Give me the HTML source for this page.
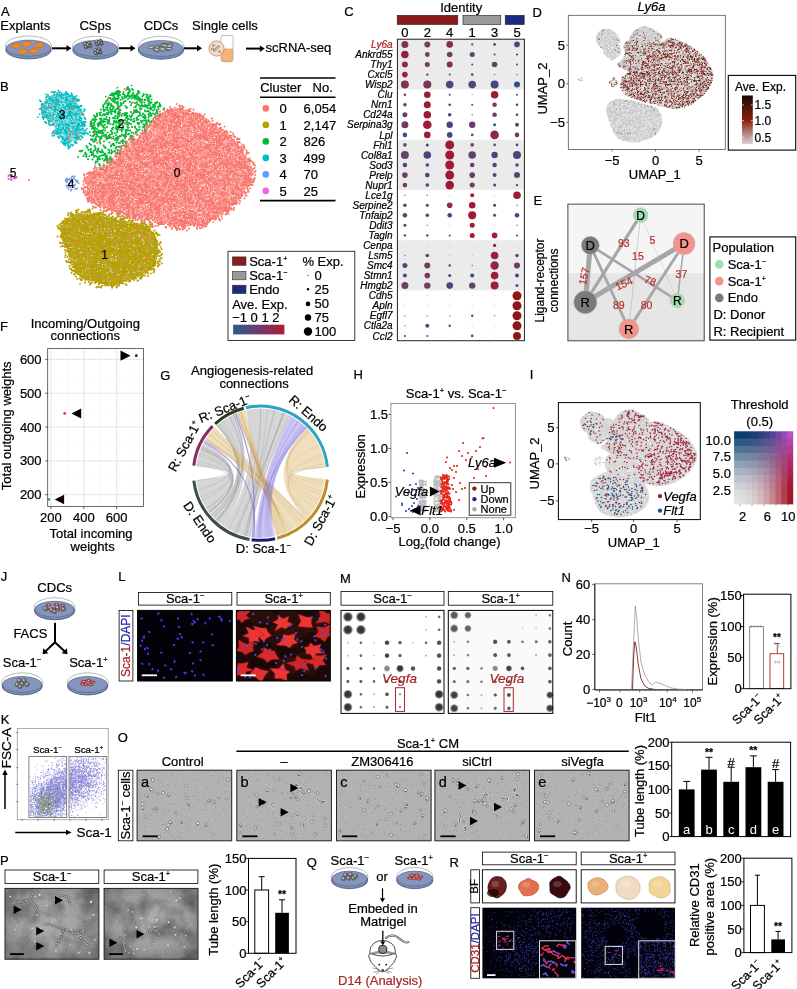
<!DOCTYPE html>
<html><head><meta charset="utf-8"><title>Figure</title>
<style>html,body{margin:0;padding:0;background:#fff;width:797px;height:989px;overflow:hidden}svg{display:block}text{font-family:"Liberation Sans", Arial, Helvetica, sans-serif}</style>
</head><body>
<svg width="797" height="989" viewBox="0 0 797 989" font-family='"Liberation Sans", Arial, Helvetica, sans-serif'>
<rect width="797" height="989" fill="#fff"/>
<text x="1" y="15.5" font-size="13" stroke="#000" stroke-width="0.22">A</text>
<text x="0.3" y="29.6" font-size="13" stroke="#000" stroke-width="0.22">Explants</text>
<text x="95.3" y="29.8" font-size="13" text-anchor="middle" stroke="#000" stroke-width="0.22">CSps</text>
<text x="161" y="29.8" font-size="13" text-anchor="middle" stroke="#000" stroke-width="0.22">CDCs</text>
<text x="225" y="29.8" font-size="13" text-anchor="middle" stroke="#000" stroke-width="0.22">Single cells</text>
<text x="265.6" y="51.8" font-size="13" stroke="#000" stroke-width="0.22">scRNA-seq</text>
<ellipse cx="28.5" cy="46" rx="23" ry="10" fill="#fff" stroke="#8a8a8a" stroke-width="0.6"/>
<ellipse cx="28.5" cy="49.9" rx="22.7" ry="9" fill="#7a8db5" stroke="#3a4866" stroke-width="0.7"/>
<ellipse cx="28.5" cy="48.1" rx="22.2" ry="8" fill="#8496bd" stroke="#4a5a7e" stroke-width="0.5"/>
<path d="M11.7 46.3C12.1 43.2 17.3 43 20.5 44.3C21.7 46.3 19.8 48.4 16.3 48.2C13.8 48.6 11.3 48 11.7 46.3Z" fill="#f28a2a" stroke="#c05a10" stroke-width="0.5"/>
<path d="M21.7 44.2C22.1 41.1 27.3 40.9 30.5 42.2C31.7 44.2 29.8 46.3 26.3 46.1C23.8 46.5 21.3 45.9 21.7 44.2Z" fill="#f28a2a" stroke="#c05a10" stroke-width="0.5"/>
<path d="M34.5 45.3C34.9 42.2 40.1 42 43.3 43.3C44.5 45.3 42.6 47.4 39.1 47.2C36.6 47.6 34.1 47 34.5 45.3Z" fill="#f28a2a" stroke="#c05a10" stroke-width="0.5"/>
<path d="M18.6 51.9C19 48.8 24.2 48.6 27.4 49.9C28.6 51.9 26.7 54 23.2 53.8C20.7 54.2 18.2 53.6 18.6 51.9Z" fill="#f28a2a" stroke="#c05a10" stroke-width="0.5"/>
<path d="M29.5 51.3C29.9 48.2 35.1 48 38.3 49.3C39.5 51.3 37.6 53.4 34.1 53.2C31.6 53.6 29.1 53 29.5 51.3Z" fill="#f28a2a" stroke="#c05a10" stroke-width="0.5"/>
<line x1="52" y1="48.3" x2="67.5" y2="48.3" stroke="#000" stroke-width="2"/>
<path d="M71.5 48.3L66.5 45L66.5 51.5Z" fill="#000"/>
<ellipse cx="95.5" cy="46.3" rx="23" ry="10" fill="#fff" stroke="#8a8a8a" stroke-width="0.6"/>
<ellipse cx="95.5" cy="50.2" rx="22.7" ry="9" fill="#7a8db5" stroke="#3a4866" stroke-width="0.7"/>
<ellipse cx="95.5" cy="48.4" rx="22.2" ry="8" fill="#8496bd" stroke="#4a5a7e" stroke-width="0.5"/>
<circle cx="85.4" cy="44.1" r="1.9" fill="#6a6a6a" stroke="#222" stroke-width="0.4"/>
<circle cx="84.9" cy="43.6" r="0.8" fill="#d0d0d0"/>
<circle cx="89.1" cy="43.3" r="1.9" fill="#6a6a6a" stroke="#222" stroke-width="0.4"/>
<circle cx="88.6" cy="42.8" r="0.8" fill="#d0d0d0"/>
<circle cx="90.2" cy="46.1" r="1.9" fill="#6a6a6a" stroke="#222" stroke-width="0.4"/>
<circle cx="89.7" cy="45.6" r="0.8" fill="#d0d0d0"/>
<circle cx="86.1" cy="46.8" r="1.9" fill="#6a6a6a" stroke="#222" stroke-width="0.4"/>
<circle cx="85.6" cy="46.3" r="0.8" fill="#d0d0d0"/>
<circle cx="87.9" cy="45.1" r="1.9" fill="#6a6a6a" stroke="#222" stroke-width="0.4"/>
<circle cx="87.4" cy="44.6" r="0.8" fill="#d0d0d0"/>
<circle cx="96.7" cy="41.6" r="1.9" fill="#6a6a6a" stroke="#222" stroke-width="0.4"/>
<circle cx="96.2" cy="41.1" r="0.8" fill="#d0d0d0"/>
<circle cx="100.4" cy="40.8" r="1.9" fill="#6a6a6a" stroke="#222" stroke-width="0.4"/>
<circle cx="99.9" cy="40.3" r="0.8" fill="#d0d0d0"/>
<circle cx="101.5" cy="43.6" r="1.9" fill="#6a6a6a" stroke="#222" stroke-width="0.4"/>
<circle cx="101" cy="43.1" r="0.8" fill="#d0d0d0"/>
<circle cx="97.4" cy="44.3" r="1.9" fill="#6a6a6a" stroke="#222" stroke-width="0.4"/>
<circle cx="96.9" cy="43.8" r="0.8" fill="#d0d0d0"/>
<circle cx="99.2" cy="42.6" r="1.9" fill="#6a6a6a" stroke="#222" stroke-width="0.4"/>
<circle cx="98.7" cy="42.1" r="0.8" fill="#d0d0d0"/>
<circle cx="95.4" cy="50.4" r="1.9" fill="#6a6a6a" stroke="#222" stroke-width="0.4"/>
<circle cx="94.9" cy="49.9" r="0.8" fill="#d0d0d0"/>
<circle cx="99.1" cy="49.6" r="1.9" fill="#6a6a6a" stroke="#222" stroke-width="0.4"/>
<circle cx="98.6" cy="49.1" r="0.8" fill="#d0d0d0"/>
<circle cx="100.2" cy="52.4" r="1.9" fill="#6a6a6a" stroke="#222" stroke-width="0.4"/>
<circle cx="99.7" cy="51.9" r="0.8" fill="#d0d0d0"/>
<circle cx="96.1" cy="53.1" r="1.9" fill="#6a6a6a" stroke="#222" stroke-width="0.4"/>
<circle cx="95.6" cy="52.6" r="0.8" fill="#d0d0d0"/>
<circle cx="97.9" cy="51.4" r="1.9" fill="#6a6a6a" stroke="#222" stroke-width="0.4"/>
<circle cx="97.4" cy="50.9" r="0.8" fill="#d0d0d0"/>
<line x1="119" y1="48.2" x2="131.5" y2="48.2" stroke="#000" stroke-width="2"/>
<path d="M135.5 48.2L130.5 45L130.5 51.5Z" fill="#000"/>
<ellipse cx="161" cy="46.3" rx="23" ry="10" fill="#fff" stroke="#8a8a8a" stroke-width="0.6"/>
<ellipse cx="161" cy="50.2" rx="22.7" ry="9" fill="#7a8db5" stroke="#3a4866" stroke-width="0.7"/>
<ellipse cx="161" cy="48.4" rx="22.2" ry="8" fill="#8496bd" stroke="#4a5a7e" stroke-width="0.5"/>
<ellipse cx="163" cy="49" rx="3" ry="1.3" fill="#c4c4c4" stroke="#2a2a2a" stroke-width="0.5" transform="rotate(13 163 49)"/>
<ellipse cx="151.1" cy="47.3" rx="3" ry="1.3" fill="#c4c4c4" stroke="#2a2a2a" stroke-width="0.5" transform="rotate(-5 151.1 47.3)"/>
<ellipse cx="163.5" cy="50.1" rx="3" ry="1.3" fill="#c4c4c4" stroke="#2a2a2a" stroke-width="0.5" transform="rotate(-13 163.5 50.1)"/>
<ellipse cx="157.9" cy="49.9" rx="3" ry="1.3" fill="#c4c4c4" stroke="#2a2a2a" stroke-width="0.5" transform="rotate(4 157.9 49.9)"/>
<ellipse cx="161.4" cy="48" rx="3" ry="1.3" fill="#c4c4c4" stroke="#2a2a2a" stroke-width="0.5" transform="rotate(-20 161.4 48)"/>
<ellipse cx="165.1" cy="46.9" rx="3" ry="1.3" fill="#c4c4c4" stroke="#2a2a2a" stroke-width="0.5" transform="rotate(-9 165.1 46.9)"/>
<ellipse cx="168.8" cy="49.2" rx="3" ry="1.3" fill="#c4c4c4" stroke="#2a2a2a" stroke-width="0.5" transform="rotate(-10 168.8 49.2)"/>
<ellipse cx="165.7" cy="44.8" rx="3" ry="1.3" fill="#c4c4c4" stroke="#2a2a2a" stroke-width="0.5" transform="rotate(19 165.7 44.8)"/>
<ellipse cx="162.8" cy="45.1" rx="3" ry="1.3" fill="#c4c4c4" stroke="#2a2a2a" stroke-width="0.5" transform="rotate(-20 162.8 45.1)"/>
<ellipse cx="169.9" cy="44.3" rx="3" ry="1.3" fill="#c4c4c4" stroke="#2a2a2a" stroke-width="0.5" transform="rotate(-7 169.9 44.3)"/>
<ellipse cx="169.7" cy="45.4" rx="3" ry="1.3" fill="#c4c4c4" stroke="#2a2a2a" stroke-width="0.5" transform="rotate(-10 169.7 45.4)"/>
<ellipse cx="156.3" cy="50.5" rx="3" ry="1.3" fill="#c4c4c4" stroke="#2a2a2a" stroke-width="0.5" transform="rotate(14 156.3 50.5)"/>
<ellipse cx="168" cy="48.3" rx="3" ry="1.3" fill="#c4c4c4" stroke="#2a2a2a" stroke-width="0.5" transform="rotate(-9 168 48.3)"/>
<ellipse cx="169.3" cy="48.7" rx="3" ry="1.3" fill="#c4c4c4" stroke="#2a2a2a" stroke-width="0.5" transform="rotate(4 169.3 48.7)"/>
<ellipse cx="156.5" cy="46.6" rx="3" ry="1.3" fill="#c4c4c4" stroke="#2a2a2a" stroke-width="0.5" transform="rotate(-10 156.5 46.6)"/>
<ellipse cx="169.2" cy="46" rx="3" ry="1.3" fill="#c4c4c4" stroke="#2a2a2a" stroke-width="0.5" transform="rotate(1 169.2 46)"/>
<ellipse cx="156.5" cy="48.2" rx="3" ry="1.3" fill="#c4c4c4" stroke="#2a2a2a" stroke-width="0.5" transform="rotate(-20 156.5 48.2)"/>
<ellipse cx="162.4" cy="48.8" rx="3" ry="1.3" fill="#c4c4c4" stroke="#2a2a2a" stroke-width="0.5" transform="rotate(-16 162.4 48.8)"/>
<ellipse cx="156.7" cy="49.5" rx="3" ry="1.3" fill="#c4c4c4" stroke="#2a2a2a" stroke-width="0.5" transform="rotate(10 156.7 49.5)"/>
<ellipse cx="164.4" cy="45.5" rx="3" ry="1.3" fill="#c4c4c4" stroke="#2a2a2a" stroke-width="0.5" transform="rotate(10 164.4 45.5)"/>
<line x1="184" y1="48.3" x2="198" y2="48.3" stroke="#000" stroke-width="2"/>
<path d="M202 48.3L197 45L197 51.5Z" fill="#000"/>
<rect x="221" y="35.5" width="12" height="26" fill="#fff" stroke="#999" stroke-width="0.6" rx="1"/>
<path d="M221.3 49 L232.7 49 L232.7 58 Q232.7 62 227 62 Q221.3 62 221.3 58 Z" fill="#f6b47a" stroke="#c88a50" stroke-width="0.5"/>
<circle cx="216.5" cy="48.5" r="7.6" fill="#f7dcc3" stroke="#8a7060" stroke-width="0.6"/>
<ellipse cx="213.5" cy="45.5" rx="1.3" ry="0.8" fill="none" stroke="#444" stroke-width="0.5"/>
<ellipse cx="218.5" cy="46.5" rx="1.3" ry="0.8" fill="none" stroke="#444" stroke-width="0.5"/>
<ellipse cx="214.5" cy="50.5" rx="1.3" ry="0.8" fill="none" stroke="#444" stroke-width="0.5"/>
<ellipse cx="219.5" cy="51.5" rx="1.3" ry="0.8" fill="none" stroke="#444" stroke-width="0.5"/>
<ellipse cx="216.5" cy="48.5" rx="1.3" ry="0.8" fill="none" stroke="#444" stroke-width="0.5"/>
<ellipse cx="212.5" cy="49" rx="1.3" ry="0.8" fill="none" stroke="#444" stroke-width="0.5"/>
<line x1="246" y1="48.6" x2="260.8" y2="48.6" stroke="#000" stroke-width="2"/>
<path d="M264.8 48.6L259.8 45.4L259.8 51.9Z" fill="#000"/>
<text x="0" y="91" font-size="13" stroke="#000" stroke-width="0.22">B</text>
<path d="M43.2 104C44.3 102 46.6 98.4 48.9 96.7C51.2 94.9 53.9 93.7 56.9 93.5C59.9 93.3 63.7 94.4 66.6 95.4C69.6 96.4 72.5 97.7 74.6 99.5C76.7 101.2 77.8 104.1 79.1 105.9C80.5 107.8 82.2 108.3 82.4 110.7C82.7 113 80.2 116.9 80.5 120.1C80.8 123.3 84.2 127.1 84.3 129.8C84.4 132.5 82.8 134.8 81.2 136.4C79.6 138 76.9 138.3 74.7 139.5C72.6 140.8 70.2 143.9 68.2 143.7C66.2 143.5 64.7 140.3 62.6 138.4C60.5 136.5 57 134.9 55.6 132.6C54.3 130.2 55.8 126.5 54.6 124.4C53.3 122.3 49.8 121.6 48 120.1C46.1 118.5 44.5 117.2 43.6 115.3C42.7 113.5 42.6 110.8 42.5 108.9C42.5 107 42.2 106.1 43.2 104Z" fill="#6fd2d5"/>
<path d="M163.8 113.8C166.5 112.3 171 109.7 174.6 109.3C178.2 108.9 181.8 110.4 185.4 111.5C189 112.6 192.3 114 196.3 115.8C200.3 117.6 205.1 119.7 209.5 122.2C213.9 124.7 218.2 127.6 222.7 130.9C227.1 134.2 232.3 137.8 236 141.8C239.7 145.7 242.3 150.1 244.9 154.8C247.5 159.6 251.3 165.1 251.7 170.2C252.1 175.3 249.5 180.8 247.3 185.6C245 190.4 241.6 194.8 238.3 198.8C235 202.8 231.3 206.5 227.2 209.7C223.2 213 218.7 216 214 218.4C209.3 220.8 204.6 222.8 198.9 224.1C193.3 225.3 186.5 226.4 180.1 226C173.8 225.7 166.6 223.2 160.8 221.9C155 220.6 151.1 219.3 145.3 218.1C139.4 216.8 133 216.3 125.8 214.4C118.6 212.6 108 209.5 102.1 207C96.2 204.4 92.8 202.3 90.2 199.2C87.7 196 86.8 191.9 86.6 187.8C86.4 183.8 86.9 178 89 174.7C91.1 171.4 95.8 169.7 99.2 168C102.6 166.2 106 166 109.2 164.1C112.4 162.2 115.4 159.2 118.2 156.5C121 153.8 123.1 150.7 126 147.9C128.9 145.2 132.5 142.4 135.7 139.9C138.9 137.4 142.4 135.1 145.2 132.8C148.1 130.5 150.6 128.5 152.8 126.1C154.9 123.6 156.1 120.2 157.9 118.2C159.8 116.1 161 115.3 163.8 113.8Z" fill="#f9958e"/>
<path d="M61.1 229C61.8 225.8 63.2 221.9 65.9 219.3C68.7 216.8 73.3 214.6 77.5 213.8C81.8 212.9 86.7 213.7 91.1 214.1C95.6 214.5 99.8 215.3 104.5 216.3C109.2 217.3 114.7 218.9 119.4 220.1C124.1 221.3 128.3 222.4 132.8 223.6C137.3 224.8 142.8 225.2 146.4 227.1C150 229 152.4 231.3 154.4 234.8C156.4 238.3 158 244 158.3 248.2C158.6 252.3 157.7 256.2 156.4 259.8C155.1 263.3 153.4 266.5 150.4 269.3C147.5 272.2 143 274.9 138.8 276.9C134.6 278.9 130 280.2 125.3 281.5C120.5 282.7 114.9 284.1 110.1 284.2C105.4 284.3 101.2 283.2 96.8 282.3C92.4 281.4 87 280.5 83.5 278.6C80 276.8 78.1 274.1 75.9 271C73.6 267.8 71.8 263.4 70.2 259.6C68.6 255.8 67.6 251.7 66.3 248.2C65 244.7 63.1 241.8 62.3 238.6C61.4 235.4 60.5 232.2 61.1 229Z" fill="#bba52a"/>
<path transform="scale(.5)" d="M145 191h0m-2 0h0m0-4h0m-4 4h0m-3-3h0m-2 0h0m-1-4h0m-1 5h0m-1-3h0m-3 3h0m-1 0h0m-2 1h0m-2-3h0m0 0h0m-1-1h0m-2 2h0m-1 3h0m0-7h0m-4 2h0m-1 3h0m0-3h0m-4-2h0m-1 5h0m-2-5h0m-4 0h0m-7 6h0m-4 5h0m0 0h0m3-2h0m4 4h0m1 1h0m2-2h0m1-1h0m3 4h0m5 0h0m1-3h0m2-4h0m2 6h0m4-6h0m2 1h0m1 3h0m3 1h0m6-5h0m0 5h0m1-5h0m0 5h0m0-3h0m0-1h0m5-1h0m4 2h0m0 0h0m3 3h0m1 1h0m0-4h0m2 1h0m1 3h0m0-4h0m1 2h0m1 2h0m0 1h0m0-2h0m2-5h0m1 7h0m3 0h0m1 2h0m-3 1h0m-2-2h0m-4 7h0m-4-4h0m-3 4h0m-2-4h0m-1 0h0m-1 3h0m-3-6h0m-3 5h0m0-4h0m-3 6h0m-6-3h0m-5-3h0m-1 4h0m-3-1h0m-1-4h0m-2 6h0m-2-5h0m0-1h0m-1 3h0m-3 2h0m-1-5h0m-2 1h0m-3 6h0m-1 0h0m-3-4h0m-3-3h0m0 6h0m-10-3h0m-2-2h0m3 14h0m1-7h0m1 2h0m1-2h0m3 7h0m0-2h0m7-3h0m1 5h0m2-4h0m1-2h0m1 6h0m1-6h0m2 5h0m4 0h0m3-1h0m3-4h0m4 4h0m0-3h0m8-1h0m1 6h0m3-1h0m3-3h0m0 2h0m2-2h0m2-3h0m0 5h0m1 2h0m1-4h0m3-2h0m1 4h0m3-1h0m2 3h0m1-2h0m2 2h0m1-2h0m2 0h0m0-1h0m1 3h0m1-3h0m2 3h0m2-1h0m1-2h0m1 0h0m0 0h0m1 0h0m5 11h0m-7-2h0m-2-3h0m0 0h0m-2-2h0m0 5h0m-11-3h0m-4-1h0m-1 6h0m-3-5h0m-4 2h0m0-1h0m-3-2h0m-6 6h0m-1-4h0m-1 4h0m-2-5h0m-6 2h0m-4 3h0m0-5h0m0 4h0m-1-6h0m-1 3h0m-3-2h0m-3-1h0m-1 0h0m-8 1h0m-2 6h0m-1-6h0m-1 6h0m-4 0h0m0-1h0m-2-3h0m0 3h0m-2-5h0m-2 1h0m4 8h0m1 1h0m1 3h0m0-6h0m5 5h0m0 0h0m1-5h0m1 0h0m0 0h0m1 6h0m2-6h0m3 3h0m1 4h0m2-3h0m0 2h0m4 0h0m1-5h0m1 3h0m6-3h0m1 1h0m1 5h0m2-3h0m1-3h0m3 4h0m1-2h0m2 2h0m0-2h0m2 1h0m1 3h0m1-5h0m7 4h0m2-6h0m0 2h0m1 4h0m1-4h0m0 2h0m1 3h0m2 0h0m0-5h0m2 1h0m3 2h0m3 1h0m0-3h0m1 2h0m2-2h0m2 0h0m2 0h0m6 0h0m1 3h0m2-1h0m4 9h0m-2-3h0m-6 2h0m-2-1h0m-3-2h0m0 1h0m-5 4h0m-1-7h0m-8 6h0m-1-1h0m0-3h0m-2 1h0m-7-2h0m-1 4h0m-1-4h0m-4 3h0m-1 0h0m-1-4h0m0 1h0m-2 0h0m-1-1h0m0 6h0m-2-6h0m-2 0h0m0 0h0m-1 5h0m-3-5h0m-3 2h0m-5 4h0m-3-3h0m-3 3h0m0 1h0m-3-5h0m-1-1h0m0 3h0m-1 1h0m-3-3h0m-4 0h0m-1 1h0m0 0h0m0-1h0m-3 0h0m5 10h0m3 2h0m4-5h0m0 0h0m1 3h0m0-1h0m2-3h0m1 3h0m0 0h0m5-3h0m1 0h0m0 6h0m5-4h0m1 3h0m1-4h0m4 4h0m1 1h0m1-3h0m0 2h0m1-5h0m2 4h0m3-3h0m1-1h0m8 7h0m2-3h0m5 2h0m0-6h0m3 6h0m4 0h0m9-6h0m2 7h0m2-1h0m0-5h0m2 6h0m1 0h0m0-3h0m1 2h0m1-2h0m1 2h0m3-2h0m-1 6h0m-1 2h0m-2-4h0m0 1h0m-1-1h0m-1 4h0m-2-2h0m0-2h0m-3 2h0m-2-2h0m-1 3h0m-2-2h0m0-1h0m-1 0h0m0 5h0m-7 1h0m-1-6h0m-8 4h0m-1-3h0m-1-1h0m-2 1h0m0 6h0m-1-5h0m-1-2h0m-1 0h0m-4 5h0m-2-4h0m-4-1h0m-2 7h0m-1-6h0m-1 3h0m-1 0h0m-2 0h0m-4 0h0m-2-4h0m-3 2h0m-1-1h0m-5 0h0m-1-1h0m11 13h0m5 2h0m1-5h0m2 0h0m0 5h0m4-3h0m1 1h0m0 0h0m3-1h0m0 2h0m0-4h0m1-2h0m2 3h0m2 2h0m1-1h0m0-1h0m1-3h0m1 0h0m0 6h0m3-5h0m2 2h0m1 2h0m6-4h0m5 6h0m1-4h0m0 4h0m2 0h0m0-3h0m0-2h0m1-2h0m3 3h0m1 4h0m1-7h0m2 4h0m1 0h0m4-2h0m5 3h0m5 7h0m-3-2h0m-4 2h0m0-4h0m-1 3h0m0 2h0m-2-2h0m-2-2h0m-2 1h0m-4 0h0m-4 5h0m-1 0h0m0-3h0m-1 1h0m-3 0h0m-3-3h0m0 2h0m-3-4h0m-3 4h0m-6-3h0m-1 5h0m0-2h0m0-4h0m-1 5h0m-1-4h0m-9 1h0m-4 1h0m-4-2h0m-1 3h0m-2-3h0m-2 2h0m-1 4h0m-2-7h0m10 9h0m0 0h0m2 3h0m3-3h0m3 0h0m1 2h0m0 4h0m1-2h0m6 2h0m2-3h0m1-1h0m1 4h0m2 0h0m9-2h0m2-1h0m2-1h0m2 2h0m1-2h0m0 3h0m2 1h0m1-5h0m4 5h0m2-6h0m2 2h0m-13 11h0m-1-5h0m0 1h0m-1 0h0m-1 3h0m-9-1h0m-2 1h0m-2 0h0m-2-1h0m-1 1h0m-1 2h0m-1 0h0m0 0h0m-1-6h0m-1 5h0m-1-3h0m-2 3h0m-3-3h0m5 6h0m1 0h0m1-1h0m1 2h0m5 2h0m1-3h0m2 6h0m1-2h0m6-3h0m-9 7h0" stroke="#00bfc4" stroke-width="4.2" stroke-linecap="round"/>
<path transform="scale(.5)" d="M256 174h0m-21 8h0m0 0h0m0 1h0m0 0h0m3-1h0m16-6h0m2 3h0m1 0h0m1-1h0m1 2h0m1 2h0m4-4h0m2 2h0m10 3h0m1-1h0m18 8h0m-3-1h0m-5 1h0m0-2h0m-8-3h0m-3 2h0m-1 2h0m-1 2h0m-1 0h0m-2 0h0m0 0h0m-3-1h0m-2-4h0m-2 4h0m-5-6h0m-1 3h0m-1-2h0m-1 2h0m0 2h0m-7 2h0m0-2h0m-2-5h0m0 0h0m-1 4h0m-6-4h0m0 6h0m-2 1h0m-1-6h0m-1 4h0m-1-3h0m-3-2h0m0 4h0m-1 0h0m0-3h0m-3 2h0m0 0h0m-1 3h0m-2-3h0m0 4h0m-1-4h0m0 1h0m-1 2h0m-3 0h0m-3 6h0m4 0h0m1 3h0m4 0h0m0-2h0m0 0h0m2-5h0m0 4h0m3 2h0m0-2h0m3 2h0m1-6h0m1 5h0m1-2h0m0 2h0m7-3h0m1 4h0m3-2h0m2-2h0m2 1h0m0-2h0m1-1h0m3 0h0m0 6h0m3-3h0m1-3h0m2 0h0m1 5h0m2-2h0m2-2h0m2 4h0m0-3h0m2 3h0m1-3h0m0 0h0m1 4h0m3 1h0m0-4h0m1-1h0m1 5h0m1-1h0m0-1h0m2 1h0m3 1h0m1-6h0m4 6h0m4-5h0m2 1h0m0 2h0m1 2h0m0-3h0m2-1h0m1-2h0m2 0h0m2 6h0m16 7h0m-5-1h0m0-1h0m-2 3h0m-1 0h0m0-1h0m-1 0h0m-7-1h0m-2 1h0m-1-2h0m-2 3h0m0-7h0m-2 3h0m-5-3h0m-1 0h0m-1 5h0m0-5h0m-5 5h0m-1 1h0m0-1h0m-1-5h0m0 0h0m-1 3h0m-1 0h0m-1-3h0m-1 0h0m-4 4h0m-4 2h0m-6 0h0m-4-2h0m-9-2h0m-3 1h0m-1 3h0m-4 1h0m-1-1h0m-1-6h0m-5 4h0m-1-1h0m-2 3h0m-3-2h0m-1 1h0m0-4h0m-2 2h0m0-2h0m-1 1h0m0 0h0m-1-1h0m-1 0h0m-6 4h0m-1 2h0m-2-7h0m-2 3h0m-1 0h0m-1 3h0m-5 7h0m1 2h0m0-5h0m2-2h0m3 7h0m3 0h0m0-4h0m0-3h0m1 3h0m2-2h0m4 3h0m0-4h0m0 4h0m1-3h0m0 3h0m3 1h0m1 0h0m8-3h0m1 3h0m0-5h0m0 7h0m1 0h0m3-3h0m2-4h0m1 2h0m0-2h0m8 4h0m3 3h0m8-5h0m9 4h0m1-2h0m2-4h0m3 1h0m1 2h0m3 2h0m1 0h0m2-3h0m2 3h0m2-1h0m1-1h0m2 2h0m0-3h0m0 1h0m1 1h0m2 1h0m1-2h0m1 0h0m3-1h0m2 4h0m5-4h0m0 4h0m3-3h0m0-1h0m1 2h0m0 3h0m6-1h0m3-3h0m0-1h0m1 0h0m0 3h0m-3 5h0m-3 4h0m-1-2h0m-5-1h0m-2 2h0m-3-5h0m-1 3h0m-3-2h0m-2 5h0m-1 0h0m0 0h0m-1-6h0m-1 7h0m-4-2h0m0 1h0m-7-4h0m-3-1h0m0 0h0m-6 5h0m-1-3h0m-2 3h0m-1-1h0m-2 0h0m-15-5h0m-12 4h0m-2 1h0m-2-3h0m-3-1h0m-3 2h0m0 4h0m-2-1h0m-1 1h0m-1-7h0m-1 1h0m-2 2h0m0 2h0m0 2h0m-1-1h0m0 0h0m-2-3h0m-1-3h0m-3 6h0m-2-3h0m0 0h0m-4 1h0m-3 2h0m-1-3h0m-5 0h0m-14 12h0m6-4h0m0 3h0m5-4h0m1 4h0m1 0h0m1-5h0m3 6h0m2-2h0m1-1h0m2 2h0m3-2h0m1-2h0m2 3h0m1-3h0m4-2h0m0 1h0m0-1h0m2 4h0m7-3h0m5 2h0m1 1h0m1-4h0m1 4h0m1 1h0m1-4h0m5 3h0m4-1h0m0 4h0m1-5h0m0 1h0m1 1h0m1 2h0m2-4h0m0 5h0m8-7h0m2 7h0m1-3h0m2-2h0m1-2h0m4 1h0m4-1h0m1 0h0m3 2h0m0 4h0m2 1h0m4-4h0m0 2h0m4 1h0m7-1h0m1-2h0m0 4h0m2-6h0m2 3h0m1 3h0m3-4h0m4 2h0m3-5h0m1 1h0m1 2h0m-6 8h0m-8-3h0m-4 3h0m-6-1h0m0 3h0m-2-4h0m0 3h0m-3-2h0m-9 5h0m0-7h0m-3 3h0m-1 2h0m-5 1h0m-5 1h0m-1-5h0m-1 5h0m-2-7h0m-2 6h0m0-1h0m-1 1h0m-2-2h0m0-3h0m-2 2h0m-9-3h0m0 0h0m-5 0h0m-2 3h0m-1-2h0m0 4h0m-4-5h0m0 5h0m-3-2h0m-2 1h0m-7 0h0m-6-2h0m-1 4h0m-2 0h0m-2 0h0m-5 0h0m-1-1h0m-1 2h0m-1-2h0m-6-5h0m-1 7h0m-2-5h0m-1-1h0m0 3h0m0 3h0m-4-1h0m-5 9h0m0-1h0m1-3h0m3-3h0m3 6h0m1-5h0m1 2h0m7 3h0m2 1h0m1-3h0m0 3h0m2-1h0m1-5h0m1 2h0m3 2h0m0-3h0m3 1h0m5-3h0m0 7h0m0-4h0m1 4h0m2-4h0m0 2h0m1-5h0m9 1h0m0 4h0m1 0h0m0-2h0m3 0h0m0 2h0m1-3h0m0 3h0m0-3h0m3 3h0m2-4h0m1 4h0m1 0h0m0-2h0m2-3h0m0 3h0m0-2h0m3 0h0m4 0h0m0 6h0m1 0h0m0-7h0m4 2h0m0 3h0m4 1h0m0 1h0m4-7h0m4 3h0m3-1h0m0 1h0m0 0h0m5-3h0m1 6h0m3 0h0m4-4h0m1 3h0m1-2h0m3-2h0m2 0h0m0 0h0m3 5h0m0-5h0m1 1h0m1 4h0m3-6h0m0 2h0m2 0h0m1 2h0m3 1h0m1-3h0m-4 7h0m-5 3h0m-2-2h0m-3 0h0m-1 1h0m0 4h0m0-1h0m-1-5h0m-1-1h0m-1 6h0m-7 0h0m-1-6h0m-1 1h0m-7 6h0m0-2h0m-6 1h0m-2-6h0m-5 0h0m0 7h0m-2-1h0m-1-5h0m-7 3h0m-2 0h0m-1-4h0m-4 3h0m-1-3h0m-1 6h0m0-1h0m0-4h0m-2 5h0m-3-3h0m0 1h0m0 2h0m-6-5h0m-1 6h0m0-6h0m-5-1h0m-7 6h0m0 0h0m-4-4h0m-3 2h0m0 3h0m-1-4h0m-3 0h0m-1-2h0m-4 1h0m-2 3h0m0-3h0m-1-2h0m-5 7h0m-1-5h0m-2 4h0m-1-3h0m0 3h0m0-1h0m-1 1h0m0 1h0m-1-2h0m-1-3h0m0 2h0m-1-4h0m0 0h0m-1 4h0m3 5h0m3 6h0m1-5h0m1 3h0m1-3h0m3 5h0m1-5h0m3 4h0m1-1h0m4 1h0m1 0h0m1 1h0m2-3h0m4 1h0m0-5h0m12 6h0m2-5h0m1 2h0m6-3h0m2 2h0m0-1h0m0 2h0m2 3h0m0-3h0m0 0h0m2-1h0m5 2h0m1 0h0m0-4h0m1 7h0m2-5h0m5 2h0m1 2h0m3-3h0m1 2h0m4 0h0m13-2h0m0-1h0m3 3h0m3-2h0m6 2h0m-10 8h0m-2-5h0m-1 1h0m0-1h0m-5 2h0m-4-1h0m-1 6h0m-4-3h0m-2 1h0m-4-5h0m0 2h0m0 1h0m-1 3h0m-1-1h0m-3 2h0m-3-2h0m-10-4h0m-2 5h0m-3-4h0m-5 2h0m0-3h0m-4 4h0m-2 2h0m-3-6h0m-3 5h0m-1 1h0m-1 0h0m-2-1h0m-1-4h0m-2-2h0m-1 3h0m-3-1h0m-2-2h0m0 1h0m-2 0h0m-3-1h0m0 4h0m-4 1h0m0-5h0m-2 6h0m-1-5h0m-5 14h0m3-1h0m0-6h0m2 0h0m3 6h0m2 1h0m0-5h0m2-2h0m0 0h0m2 1h0m4 1h0m0 3h0m0-2h0m2 2h0m0-3h0m1 3h0m1-5h0m4 0h0m3 2h0m2 5h0m0-6h0m1 4h0m2-1h0m0-1h0m2-2h0m1 3h0m0-3h0m3 2h0m4 2h0m1-4h0m4 4h0m2-1h0m1-1h0m0 2h0m1-3h0m1 0h0m1 3h0m2-5h0m1 1h0m2-1h0m7 1h0m1 4h0m1-3h0m1-1h0m7 6h0m2-3h0m0-2h0m1-1h0m1-1h0m2 3h0m-13 12h0m-1-3h0m-1-1h0m-4-2h0m0 5h0m0-6h0m-1 4h0m-2-2h0m-3 4h0m-2 0h0m-3-5h0m-1 0h0m-1 4h0m-3-5h0m-3 7h0m-8-2h0m-11-2h0m-7 4h0m-2-6h0m0 0h0m0 3h0m-7-3h0m-3 1h0m-1 2h0m-3-4h0m-6 7h0m-6 5h0m0 0h0m2 3h0m7-5h0m7 2h0m2 3h0m16-4h0m2 3h0m2 1h0m11-2h0m0-2h0m3-3h0m2 2h0m2 1h0m4 3h0m4 0h0m3-1h0m8-2h0m-5 6h0m-3 4h0m-4 0h0m-1-1h0m-4-3h0m-1 5h0m-2 1h0m-5-3h0m-5 0h0m-1-1h0m-6-3h0m-7 4h0m-1 3h0m-4 0h0m-2-6h0m0 4h0m-2-2h0m-1 4h0m-3-6h0m-1 3h0m-3 2h0m-5-4h0m0 5h0m-1-4h0m-4 1h0m-2-4h0m-10 5h0m-2 1h0m-1 1h0m8 5h0m1-3h0m2 4h0m8-5h0m2 6h0m1-4h0m2 0h0m0 4h0m2 1h0m7-5h0m7-1h0m1-1h0m1 0h0m0 7h0m2-7h0m0 6h0m1 0h0m2-3h0m0 2h0m2-1h0m0 2h0m6-4h0m1 0h0m1-2h0m4 3h0m0-1h0m1-2h0m10 4h0m-10 10h0m-1 1h0m-2-5h0m-1 1h0m0 3h0m-4 0h0m-1 1h0m-1-3h0m0-4h0m-2 4h0m-1-2h0m0 4h0m-1 1h0m-5-1h0m-5-6h0m0 6h0m-1-5h0m-2 2h0m0 4h0m-1-5h0m-1 1h0m0 4h0m-3-7h0m-4 2h0m-3 5h0m-9-1h0m-3-5h0m-1 0h0m-5-1h0m24 14h0m1-3h0m3 0h0m13-1h0m5-1h0m1 4h0m3-5h0m1 5h0m1 0h0m3 0h0m0 1h0m2-4h0m-16 8h0m-8 1h0m-2-3h0" stroke="#00ba38" stroke-width="4.2" stroke-linecap="round"/>
<path transform="scale(.5)" d="M340 214h0m19-3h0m1 3h0m0 1h0m4-3h0m1 1h0m22 6h0m-6 4h0m0-5h0m-3 1h0m0 1h0m-1 3h0m-3-2h0m-2 0h0m0 0h0m-1 1h0m-4-2h0m-2-3h0m-1 3h0m-1 0h0m-1-2h0m-3 0h0m-4 0h0m-4 2h0m0-1h0m-3-1h0m-3 4h0m-1 0h0m0-2h0m0 0h0m-1-2h0m-1 0h0m-2 2h0m-1 2h0m-1 1h0m0-2h0m-3-1h0m0-1h0m0 3h0m0 1h0m0-2h0m-1 0h0m0 2h0m-6-3h0m-1-1h0m-7 4h0m-1 0h0m-5 8h0m6-2h0m0 0h0m1 1h0m1-1h0m2 0h0m2-3h0m1 5h0m3-7h0m1 5h0m5-5h0m2 2h0m1 5h0m1-2h0m3 2h0m2-4h0m3 2h0m1-4h0m0 0h0m0 4h0m0-2h0m1 3h0m0-2h0m2-1h0m4 4h0m4 0h0m1-7h0m5 5h0m1-4h0m2 4h0m1 2h0m0 0h0m3-3h0m0-2h0m1 1h0m1 0h0m1 1h0m0 1h0m2-1h0m6-1h0m1 3h0m1 1h0m0 0h0m0-6h0m2 3h0m1 0h0m1-1h0m0 3h0m2-3h0m3 4h0m0-3h0m2 3h0m3-2h0m3 2h0m6-2h0m15 8h0m-11 2h0m0 0h0m-1-1h0m-4-3h0m-1 1h0m0 2h0m-1-5h0m-1 1h0m-2 4h0m0-5h0m-3 0h0m-1 0h0m-1 4h0m-3 0h0m0-4h0m-3-1h0m0 6h0m-3-5h0m-6 3h0m-1 1h0m0-1h0m0-3h0m-1-1h0m-1 7h0m0 0h0m-9-5h0m-2 1h0m-1 1h0m-2-2h0m-4 0h0m-1-2h0m0 3h0m-3 4h0m0-6h0m-1-1h0m-1 4h0m-1-3h0m-2-1h0m0 3h0m-2-3h0m-2 7h0m0-3h0m0 1h0m-1-1h0m-2-3h0m-5 0h0m-4 3h0m-3-3h0m-2 2h0m-2-3h0m-10 1h0m-1 2h0m0 1h0m-2-3h0m-1 5h0m-1-4h0m0-1h0m-3 6h0m0-1h0m-1-3h0m0-3h0m-5 6h0m-6 7h0m6-2h0m0-2h0m1 1h0m1 4h0m0-1h0m0-3h0m2 4h0m1-3h0m2 4h0m2-1h0m1-6h0m4 4h0m0-2h0m6 1h0m2-3h0m0 1h0m0 6h0m0-7h0m4 1h0m2 2h0m0 1h0m5 1h0m2-4h0m1 3h0m1 1h0m0-4h0m1 0h0m0 0h0m4 3h0m1 1h0m2 1h0m0-1h0m2 2h0m3-3h0m4 2h0m1-3h0m1 3h0m1 0h0m1-3h0m1 1h0m0-4h0m9 2h0m1 4h0m0-3h0m1 0h0m3 2h0m1 0h0m1 0h0m1-2h0m1 4h0m3-6h0m0 1h0m3 5h0m9-7h0m0 5h0m1-3h0m0 1h0m1-3h0m1 6h0m0-6h0m5 6h0m2-4h0m2 0h0m1 5h0m1-4h0m2 1h0m3-3h0m0 3h0m0-1h0m2 1h0m6-2h0m8 5h0m2 0h0m0-1h0m14 7h0m-9-4h0m0-1h0m-2 2h0m-5 4h0m-1-4h0m-3-1h0m-3 4h0m0 2h0m0-6h0m0-1h0m-2 6h0m-5-2h0m-2 0h0m-6 2h0m-1 1h0m0 0h0m-5-1h0m0-4h0m-4 1h0m-2 0h0m-3-2h0m0 3h0m0 2h0m-7 1h0m-1-2h0m-3-3h0m-4-1h0m-2 3h0m0 2h0m-6-3h0m-3 1h0m-3 0h0m-5-2h0m0-2h0m-1 1h0m0 0h0m-4 5h0m-2-2h0m-2-2h0m-1 2h0m-3 2h0m-1-1h0m-6-3h0m-3 2h0m-2 0h0m-6 3h0m-3-1h0m-1-3h0m-2 3h0m-8-5h0m-3 2h0m-3-1h0m0-1h0m0 5h0m-1-5h0m-2 3h0m0-1h0m-1-2h0m-4 2h0m-2-2h0m-1 5h0m-2-1h0m-2 2h0m0-1h0m-2-1h0m-1-2h0m0 2h0m-4 4h0m1 5h0m0-1h0m1 1h0m1 0h0m1-2h0m1-3h0m15 2h0m13-3h0m1 2h0m2 2h0m1-1h0m1-1h0m2-2h0m1 1h0m8 1h0m0 4h0m1-6h0m3 1h0m1 3h0m2 3h0m1-7h0m0 1h0m2 2h0m0 1h0m0 0h0m2 0h0m4-4h0m7 0h0m1 0h0m1 7h0m1-3h0m6 2h0m7-1h0m0-3h0m2 4h0m2 0h0m0 0h0m10-3h0m8-2h0m1 0h0m1 5h0m3-2h0m4-3h0m2 5h0m1-4h0m0 1h0m4-2h0m4 6h0m3-6h0m2 3h0m1-1h0m0 2h0m5-4h0m0 4h0m2-3h0m7-1h0m1-1h0m0 1h0m2-1h0m2 4h0m1 0h0m2 1h0m1 2h0m4 0h0m1-1h0m14 9h0m-1-4h0m-4 4h0m-1-7h0m-2 7h0m-4-4h0m-1-3h0m-4 2h0m-1-1h0m-2 5h0m-2-1h0m-3-2h0m-2-3h0m0 7h0m0-4h0m-1 3h0m-3-5h0m-1 2h0m-1-1h0m-3-2h0m-2 2h0m0 5h0m0-6h0m-3 1h0m-3 0h0m-3-1h0m0-1h0m0 4h0m-2 2h0m-4 1h0m-1-2h0m0-1h0m-1 3h0m0-7h0m0 0h0m-4 3h0m0 0h0m-1 4h0m0-7h0m-2 7h0m-1-3h0m-3 2h0m-1 1h0m-1 0h0m-3-1h0m-5-4h0m0-2h0m-1 0h0m0 0h0m-1 6h0m-2-4h0m-3 3h0m-3 0h0m-4-1h0m-2 3h0m-1-2h0m-2-5h0m-1 4h0m-7 1h0m-8 2h0m0 0h0m0-5h0m-4 1h0m-1-1h0m-3 3h0m-3-5h0m0 2h0m-10 5h0m0-6h0m-1 5h0m-1-2h0m0 2h0m-1 0h0m0 0h0m-1 1h0m-2-7h0m0 3h0m0-2h0m-20 6h0m-6-6h0m-1 3h0m0 0h0m-1-3h0m-2 5h0m0-4h0m-1 3h0m-6-2h0m0 2h0m-2-5h0m0 3h0m0-2h0m-2 0h0m0 5h0m0-3h0m-3-2h0m0 1h0m-1 3h0m0 0h0m-3-2h0m-7 3h0m-3-2h0m-13 11h0m2-1h0m3-3h0m3-3h0m1 1h0m2 5h0m9-1h0m0 0h0m1-1h0m0-4h0m1 0h0m7 1h0m0 6h0m0-7h0m0 5h0m3-3h0m1 5h0m1 0h0m0-1h0m1-1h0m1-1h0m1-3h0m2 4h0m0 1h0m3-2h0m0 1h0m2-5h0m0 0h0m2 2h0m2 0h0m7 3h0m1 1h0m0-3h0m4-2h0m2 5h0m3 0h0m0-3h0m0-1h0m3 3h0m13-5h0m2 7h0m1 0h0m3-1h0m2-6h0m0 7h0m1-4h0m3 1h0m2 1h0m0-1h0m1-1h0m1-3h0m1 1h0m0 3h0m0-2h0m3 4h0m1-6h0m1 3h0m1-1h0m2 2h0m2 1h0m1 1h0m7-6h0m1 4h0m0 2h0m1-5h0m7 4h0m2 1h0m4-4h0m3-2h0m0 6h0m0-4h0m1 0h0m2 3h0m2-4h0m1 3h0m2-3h0m2 5h0m3-4h0m3 3h0m0-2h0m2-3h0m1 7h0m1-4h0m0 0h0m3 3h0m0-5h0m2 3h0m1-4h0m1 5h0m0 2h0m2-4h0m3-1h0m0-1h0m1 1h0m1-1h0m0 3h0m1 3h0m2-2h0m3-3h0m0 3h0m1-2h0m2-1h0m2-2h0m1 6h0m0-6h0m1 2h0m2 1h0m3 3h0m3-4h0m1 1h0m1 4h0m1-7h0m0 5h0m3-3h0m0-2h0m3 7h0m0-3h0m4-4h0m0 0h0m1 2h0m2 2h0m4 3h0m0-7h0m3 2h0m4 3h0m0 1h0m1-1h0m2 1h0m2 0h0m1 7h0m-1-1h0m-1 1h0m-1-1h0m-2 2h0m-2-1h0m0-2h0m-5-3h0m-1 2h0m-3 5h0m-2-7h0m-6 6h0m-10-5h0m-4-1h0m-2 5h0m-2-2h0m-1-1h0m-2 3h0m-1 1h0m-1-6h0m0 7h0m-1-6h0m-3 3h0m0-2h0m0 1h0m-9 3h0m-1 1h0m-5-7h0m-1 5h0m-12 2h0m-11-5h0m-8 0h0m0 0h0m-1-1h0m0 1h0m-3 3h0m0-5h0m0 1h0m-1 1h0m-1 4h0m0-3h0m-3-3h0m-1 3h0m0-3h0m0 3h0m-1 2h0m-9 1h0m-1 0h0m0 0h0m0-4h0m-1 0h0m-1 5h0m-4-2h0m-2-3h0m-3-1h0m-3 0h0m-1-1h0m-1 4h0m-1-2h0m-1 3h0m-1-5h0m0 2h0m-1 5h0m0-6h0m-3 6h0m-3-1h0m-1-2h0m-1 0h0m-2 0h0m0-4h0m-1 7h0m-2-7h0m-4 2h0m0-2h0m-2 1h0m-1-1h0m-1 6h0m-5-2h0m-2-2h0m-2 0h0m-5 1h0m-3 4h0m0-6h0m-1 5h0m-4-2h0m-2-2h0m-2 1h0m0 4h0m-1-4h0m0-1h0m-2-2h0m-2 2h0m-2 1h0m0 3h0m-1-3h0m-1 1h0m-3-2h0m-6-2h0m0 0h0m-1 5h0m-5-5h0m-1 6h0m-1-5h0m-3 4h0m0-4h0m-1 5h0m-2-1h0m-1-2h0m-7 4h0m0-4h0m-10 9h0m6 1h0m1 1h0m0-4h0m1 2h0m2-1h0m0 0h0m3 1h0m1-4h0m6 1h0m3 6h0m1-5h0m1-2h0m0 1h0m1 5h0m1 0h0m3-3h0m1-2h0m2 1h0m0-2h0m0 4h0m1 2h0m0-6h0m3 1h0m2 0h0m1 2h0m0-2h0m7 0h0m1 5h0m2-4h0m1 0h0m1-1h0m2-1h0m2 6h0m4-4h0m2 2h0m0-1h0m0-1h0m3 5h0m3-4h0m9 4h0m1-4h0m0 4h0m0-6h0m3 6h0m1-4h0m0 1h0m4-1h0m0-1h0m1 4h0m6 1h0m4-6h0m1 1h0m1-1h0m3-1h0m0 3h0m1 4h0m4-2h0m1-1h0m2 3h0m1-7h0m0 6h0m1-2h0m0 0h0m5 3h0m1-3h0m5-1h0m0-1h0m5 2h0m3-2h0m7-2h0m6 1h0m2 1h0m1 1h0m1-2h0m0-1h0m10 4h0m0-1h0m1 2h0m7 0h0m1 0h0m3 2h0m0-7h0m1 2h0m0 2h0m2 2h0m2-4h0m1-1h0m4-1h0m3 7h0m1-6h0m3 5h0m2-1h0m0 2h0m2 0h0m0-6h0m2 0h0m1 2h0m3-3h0m2 2h0m2-2h0m6 6h0m4-3h0m1 1h0m2-3h0m0 2h0m1-3h0m5 1h0m3 6h0m1-1h0m3-5h0m4 2h0m0-1h0m1 2h0m1 2h0m5-1h0m1 2h0m2 0h0m0-6h0m2 6h0m1-1h0m0-3h0m5 10h0m-4-4h0m-3 4h0m-2 1h0m0-3h0m-2 4h0m0-6h0m-3 0h0m-1 0h0m0 5h0m0 0h0m-1 0h0m-1 0h0m-2 1h0m-2-4h0m-5 2h0m0-3h0m-8 1h0m0 3h0m0-5h0m-2 4h0m-3 0h0m-1-1h0m-1-1h0m-4 1h0m-2-3h0m-7 3h0m-2 3h0m-4-4h0m0-1h0m-3-1h0m-1 0h0m-1 1h0m-4 2h0m-4-1h0m0 2h0m-1 2h0m0-2h0m-1 0h0m0-1h0m-2 0h0m-5-3h0m-5-1h0m-2 7h0m-1-1h0m0 0h0m0 1h0m-1-2h0m-4 0h0m-1-5h0m-1 1h0m-1-1h0m-5 6h0m-1-3h0m-2 3h0m0-1h0m-3-5h0m-2 1h0m-2 5h0m-3-2h0m-1 0h0m-2-1h0m-1-3h0m-3 5h0m-2 1h0m-4 0h0m-3-3h0m-3-3h0m-4 1h0m-1-1h0m-3 6h0m-1-5h0m-2 3h0m0 1h0m-3-1h0m-5-3h0m-2 6h0m-1-6h0m-1 2h0m-2 4h0m-1-2h0m-1 0h0m-3 1h0m-5 1h0m-5-5h0m-2 4h0m-2 0h0m-2-5h0m-1 2h0m-1-1h0m-1-2h0m-1 3h0m-1-3h0m-2 7h0m-1-2h0m-1-5h0m-1 6h0m-3-2h0m-2 3h0m-2-2h0m0 1h0m-2 0h0m0-2h0m-1-4h0m0 1h0m-1 3h0m-1 1h0m0-2h0m-2 0h0m0 3h0m-2 1h0m0-3h0m0-2h0m-2 0h0m0 3h0m-1-3h0m-1 4h0m-1 1h0m-4-7h0m-1 5h0m0 0h0m0-5h0m-2 5h0m0 1h0m-2-3h0m-2-3h0m-2 2h0m0-2h0m-1 5h0m-5 0h0m-1-3h0m0 4h0m0-4h0m-2 2h0m-1 3h0m-5-1h0m-3 1h0m-1-5h0m-3 4h0m-4-2h0m-1 3h0m0-7h0m0 0h0m-1 6h0m-9 4h0m0 5h0m1-2h0m1-2h0m2-1h0m1 0h0m2 2h0m2 2h0m0-6h0m0 4h0m0-2h0m1-1h0m0 2h0m1-3h0m6 2h0m0 2h0m1-1h0m1-3h0m0 4h0m2 1h0m4 2h0m9-2h0m1 2h0m1-2h0m5-2h0m1 3h0m0 0h0m2-3h0m2 4h0m1-4h0m0 3h0m1-4h0m21 0h0m0 4h0m0-3h0m1-3h0m0 2h0m2 2h0m3 0h0m3 1h0m5-5h0m0 5h0m1-3h0m0-2h0m3 7h0m0-7h0m2 2h0m5 2h0m3-4h0m5 7h0m2-5h0m4 4h0m1-3h0m1 1h0m0 2h0m2-4h0m3-1h0m4 4h0m0-4h0m5 6h0m3-2h0m2-2h0m1 1h0m5-3h0m1 6h0m3-7h0m9 0h0m1 5h0m1-2h0m1 0h0m1 3h0m1-4h0m6 2h0m0-2h0m3 1h0m2-2h0m8-1h0m2 0h0m1 1h0m10 3h0m0 2h0m3 1h0m5-5h0m1 5h0m0-6h0m0 2h0m2 4h0m1-7h0m1 7h0m0-5h0m3 5h0m1-4h0m3-2h0m1 6h0m1-4h0m1 2h0m2-2h0m0-3h0m1 6h0m1-6h0m7 2h0m0 5h0m2-5h0m1 1h0m2 0h0m1 1h0m6 1h0m4-3h0m0 0h0m1 1h0m0 0h0m0 2h0m6 1h0m0 1h0m6-2h0m5-4h0m1 3h0m8 0h0m1-3h0m2 0h0m3 12h0m-3 1h0m-5-6h0m0 0h0m-1 2h0m-1 2h0m0 0h0m-3 3h0m-2-5h0m-3 4h0m-2-4h0m0 2h0m-10 3h0m-5-7h0m-3 2h0m-1-2h0m0 3h0m-4-1h0m-2 2h0m-1 1h0m-1 0h0m-1-1h0m0-3h0m-1 2h0m-1-2h0m-1 1h0m-3-2h0m-3 5h0m-1-1h0m-2 1h0m-3-2h0m-3 1h0m-5-4h0m-2 3h0m-2 2h0m-1-5h0m-2 4h0m-2-4h0m0 4h0m0-3h0m-1 5h0m-4-2h0m-4-1h0m-2 0h0m-1 3h0m0-1h0m-4-2h0m-1 1h0m-1 1h0m-3 0h0m-1 2h0m-2-5h0m0 2h0m-1 0h0m-3 3h0m-3-5h0m-3-1h0m-1 5h0m-2-6h0m-2 2h0m-5 4h0m-4 1h0m-2-4h0m-3 1h0m-1-2h0m0-1h0m-4 3h0m-3-3h0m0 3h0m-3 3h0m-1 0h0m-2-5h0m0 4h0m-3-4h0m-2-2h0m-2 6h0m-1 0h0m0-5h0m-2 1h0m0 4h0m-1-4h0m-1 3h0m0-3h0m-4 2h0m0-3h0m-2 4h0m-1-2h0m0 0h0m-1 1h0m-3 3h0m-1-5h0m-7 4h0m0 0h0m-4-2h0m-3-4h0m-1 3h0m-3-1h0m-1-1h0m-1 6h0m0-4h0m-1-2h0m-6 5h0m-5-4h0m0 0h0m-1 5h0m-1-1h0m-1-4h0m-2 2h0m-3 3h0m-3-3h0m-2 0h0m0 2h0m0-5h0m-2 6h0m-2-6h0m-4 4h0m-1-4h0m0 2h0m-4 0h0m0 1h0m-2 0h0m-6 3h0m-1-2h0m0-1h0m-3 0h0m-2-3h0m-2 4h0m-10-3h0m-1-1h0m-1 1h0m-1 1h0m-2 3h0m-1-1h0m-2 2h0m-1-6h0m0 6h0m-2-6h0m-3 0h0m-5 4h0m-7 2h0m-3 8h0m3-4h0m0 1h0m3-2h0m5-2h0m2 7h0m0-2h0m2-1h0m3 2h0m0-2h0m1-1h0m0 1h0m4-1h0m3-1h0m0-1h0m0 3h0m1 3h0m0-5h0m1 2h0m2-4h0m3 4h0m0-1h0m13-3h0m3 6h0m0-3h0m3 2h0m1-3h0m4 2h0m0-3h0m1 4h0m1-3h0m4 5h0m1-7h0m1 7h0m2-7h0m0 3h0m2-2h0m0 4h0m1-4h0m2 1h0m4 4h0m2-6h0m0 7h0m1-4h0m1 1h0m4 3h0m1-1h0m5-3h0m3 2h0m0-3h0m4 3h0m0 0h0m1 1h0m2-3h0m1-2h0m1 4h0m1 2h0m0-3h0m3-4h0m0 2h0m1 5h0m1-1h0m2-4h0m3 5h0m2-6h0m4 3h0m0-4h0m2 3h0m9 1h0m0-3h0m2 5h0m0 0h0m2-6h0m1 4h0m2 3h0m3-5h0m1 5h0m2-4h0m0 2h0m2 0h0m6-4h0m1 1h0m1-2h0m3 6h0m3 0h0m0-4h0m2 5h0m4-2h0m2-3h0m0 0h0m1 4h0m2 0h0m7-3h0m2 0h0m1-3h0m0 7h0m2-1h0m1-2h0m0 0h0m5 0h0m1 3h0m0-7h0m4 5h0m0-5h0m1 3h0m5 2h0m3 1h0m3 0h0m0-2h0m1 0h0m0-2h0m1 5h0m7-5h0m0 3h0m1-3h0m1 2h0m3-3h0m0-1h0m2 3h0m5 3h0m2 0h0m1 0h0m2-2h0m0-2h0m4 1h0m2 4h0m2-4h0m0-3h0m1 0h0m1 7h0m0-1h0m2-1h0m2-5h0m1 5h0m1 2h0m1-2h0m2 2h0m2-3h0m2 2h0m3-4h0m1 3h0m4 0h0m0-2h0m0 1h0m1-4h0m0 4h0m1-2h0m0 5h0m3 0h0m7 0h0m0-3h0m0 3h0m2-3h0m6-1h0m1-2h0m1 6h0m1-4h0m2-2h0m3 3h0m3 3h0m2 4h0m-4-2h0m-4 5h0m-3-1h0m0 1h0m-1-3h0m0-2h0m-3 4h0m-1-2h0m-4-1h0m-1 4h0m0 0h0m-2 0h0m-2-1h0m-3-2h0m0-1h0m-1-1h0m-3 6h0m-1-7h0m0 1h0m-2 2h0m-4 0h0m-2 0h0m0 4h0m-4-5h0m-9-2h0m-3 6h0m0 0h0m0-2h0m-1-3h0m-3 5h0m0-6h0m-3 2h0m0 4h0m0-5h0m-6-1h0m-3 4h0m-1 1h0m-1 0h0m-4-2h0m-1 0h0m-1 2h0m-1-4h0m-5 3h0m-7 1h0m-2-5h0m-1 7h0m-1-1h0m0-5h0m-2 4h0m-1-2h0m0-2h0m0 5h0m-1-2h0m-2 3h0m-1-4h0m-1 4h0m-3-4h0m-2 1h0m-5-4h0m-4 0h0m0 3h0m0 3h0m-4-1h0m-3-5h0m-2 6h0m0-3h0m-2-2h0m-2 4h0m-1 1h0m-1-5h0m-1 1h0m0 0h0m-1-2h0m0 2h0m-6-2h0m0 3h0m-7 2h0m0-1h0m-1 2h0m-6-3h0m-3-2h0m-2 5h0m0 0h0m-2-2h0m-4-4h0m-2 0h0m0 7h0m-1 0h0m-4-4h0m0-3h0m0 4h0m-3-4h0m-2 0h0m0 0h0m0 0h0m-4 7h0m0 0h0m-1-7h0m0 6h0m-2-5h0m-8 1h0m-2 1h0m-1 1h0m-1-4h0m-1 0h0m-2 1h0m-1 4h0m-2-4h0m-2 6h0m-1 0h0m-5-2h0m-2-3h0m0-1h0m-3 3h0m-1 0h0m-2-3h0m0-1h0m0 0h0m0 3h0m-1 4h0m-2-6h0m-1-1h0m0 5h0m-5 2h0m0-2h0m-4 2h0m0-2h0m-2-2h0m-1 4h0m-1-7h0m-3 6h0m0-1h0m-1-1h0m0 3h0m-5-5h0m-3-1h0m0 5h0m-1-1h0m-2 0h0m-2-3h0m-1 5h0m-5-2h0m0-4h0m0 5h0m-1-4h0m-2 1h0m0 1h0m-6 3h0m-1-2h0m-1-5h0m-1 0h0m0 5h0m-1-2h0m-4-3h0m-2 7h0m-2-7h0m-2 6h0m-3-6h0m-2 0h0m-3 5h0m-3 1h0m-1-2h0m-7 3h0m-2-2h0m0 1h0m-5 1h0m0 0h0m-1 0h0m-9 0h0m-2 3h0m2 4h0m1 1h0m2-7h0m6 0h0m5 3h0m1-1h0m1 0h0m0 1h0m1 3h0m1-4h0m1 5h0m1-2h0m1-3h0m0 4h0m0-3h0m1-2h0m2 1h0m0-2h0m1 1h0m1 0h0m6 6h0m0-6h0m3 1h0m2 3h0m2-5h0m1 0h0m0 3h0m1-2h0m0 3h0m0 1h0m1-3h0m0 3h0m1 0h0m0-5h0m2 7h0m0-7h0m0 7h0m1-1h0m5-4h0m0 0h0m2 5h0m1-1h0m0 0h0m8-6h0m1 2h0m2-1h0m2 4h0m3-1h0m0-2h0m3 0h0m2 4h0m1-4h0m5-1h0m3 2h0m3 0h0m0 0h0m4 1h0m8 2h0m3 0h0m7 1h0m6-3h0m2-1h0m6-3h0m1 6h0m2-3h0m1 4h0m1-1h0m1 0h0m8 1h0m4 0h0m1-5h0m2 4h0m0-3h0m3-2h0m3 0h0m2 1h0m5 3h0m1-2h0m0 4h0m3-7h0m0 7h0m0-5h0m0 3h0m0-2h0m2 3h0m1-2h0m1-3h0m0 0h0m1 2h0m2 1h0m2 0h0m3 3h0m0-1h0m2-1h0m1 2h0m3-3h0m0 0h0m1 1h0m2-5h0m2 5h0m0-1h0m1-2h0m1 0h0m1-2h0m1 1h0m1 4h0m6 0h0m0 1h0m1-2h0m1 3h0m3-5h0m6-2h0m0 0h0m5 4h0m3-1h0m0-3h0m1 4h0m0-4h0m3 7h0m1-4h0m3 3h0m12-6h0m3 6h0m2-4h0m3-1h0m1 6h0m1-4h0m0 1h0m1-3h0m3 2h0m1-1h0m7 2h0m6 2h0m2 1h0m2-5h0m5 1h0m0-2h0m0 4h0m1-3h0m2 1h0m1 4h0m6-4h0m0 0h0m5-1h0m3 2h0m3-4h0m4 6h0m3-5h0m2 3h0m1-3h0m3-1h0m2 5h0m0-2h0m1 2h0m5-2h0m0 0h0m1 2h0m0 0h0m1 0h0m1-3h0m3-2h0m2 6h0m-1 8h0m-1-5h0m-4 3h0m0 1h0m-2-3h0m-1 4h0m0-6h0m-4 6h0m0-4h0m-7 3h0m-2 2h0m-1-6h0m0 5h0m-5 1h0m-8-4h0m-4 4h0m0-2h0m-1-2h0m-2 1h0m-1-2h0m-4 2h0m-1-4h0m0 3h0m-1 0h0m-1-3h0m-5 6h0m-3 1h0m-8-7h0m-4 2h0m0 1h0m-1-2h0m-2 0h0m-1 6h0m-1-2h0m0 1h0m-1-2h0m-4-3h0m-2 5h0m-1-1h0m0 1h0m-1 1h0m-3-7h0m0 4h0m-2-2h0m-3-2h0m0 3h0m-1-3h0m-1 3h0m-8 3h0m-1-2h0m0 2h0m-1-3h0m-1-1h0m-1 0h0m-1 2h0m-2 3h0m-1-4h0m-1 2h0m-3 2h0m-1-4h0m0 3h0m-1-4h0m-1 5h0m-2-1h0m-6 1h0m0-6h0m0 0h0m-1 2h0m-5-3h0m-1 3h0m-2 0h0m-1-1h0m0-2h0m0 6h0m-1-2h0m0-2h0m-1 1h0m-4-1h0m-7 0h0m-1 2h0m-2-2h0m0 1h0m-2-3h0m-2 6h0m0-6h0m-2 6h0m-9-3h0m-1 3h0m-4-3h0m-2 3h0m-1-6h0m-1 7h0m-1-2h0m0 1h0m-1-5h0m-1 6h0m-3-3h0m0 3h0m-6-7h0m0 4h0m-1 2h0m-1-4h0m-1-1h0m-10 0h0m-1 2h0m0 0h0m-2 4h0m-2-2h0m-1-1h0m0 3h0m-2-6h0m0 0h0m-6 0h0m-3 1h0m-3-2h0m-1 3h0m-2 3h0m0-5h0m-8 2h0m0 0h0m-2 3h0m-2-3h0m0 2h0m0-3h0m0-1h0m0 4h0m-3-2h0m-4 1h0m-1 2h0m-1 1h0m-2-4h0m0 1h0m0 3h0m-1-4h0m-1 2h0m-3-5h0m-2 2h0m-4 2h0m-8-1h0m-2 1h0m-2 3h0m-3-1h0m-1-6h0m-2 7h0m-2-5h0m-1 4h0m-1-3h0m-2 0h0m-4 4h0m-3 0h0m-2-3h0m-1 0h0m-3-1h0m-3 4h0m-1-7h0m-1 0h0m-2 3h0m-1-2h0m0 1h0m-4 3h0m-3 0h0m-1 0h0m-2-3h0m0 4h0m-1-6h0m-1 1h0m-2 1h0m0 3h0m-1 1h0m-1 0h0m-3-2h0m-3-3h0m0 0h0m0-1h0m-1 2h0m-3-1h0m0 2h0m-1-2h0m0 2h0m-1 4h0m-1-3h0m-1-2h0m0 2h0m0-3h0m-4 3h0m0-1h0m-5 4h0m0 6h0m1-1h0m4-2h0m1 3h0m3-5h0m0 7h0m1-7h0m5 6h0m2-5h0m2 2h0m1 0h0m0 0h0m0 2h0m3-5h0m7 3h0m1 0h0m0-2h0m0-1h0m8 3h0m3-3h0m0 7h0m4-2h0m3-5h0m0 3h0m1 0h0m1 0h0m0-3h0m2 0h0m3 4h0m4-4h0m0 4h0m3-4h0m1 4h0m3-2h0m1 1h0m0 1h0m1 2h0m3 1h0m2-1h0m1-3h0m0-3h0m1 0h0m4 2h0m0 5h0m2-6h0m0 2h0m3 0h0m4 1h0m1 1h0m1-4h0m2-1h0m6 1h0m0 6h0m6-1h0m4-1h0m0-2h0m0-3h0m1 6h0m4-3h0m1-3h0m4 3h0m4-1h0m1 5h0m4-7h0m0 5h0m1 1h0m1-4h0m0 5h0m2-6h0m1 4h0m7-2h0m0 4h0m5-5h0m2 5h0m0-2h0m0 2h0m3-5h0m2 1h0m6 0h0m2 0h0m1 1h0m4 1h0m3 1h0m3-6h0m1 4h0m4-1h0m1 0h0m1 4h0m1-1h0m2-3h0m0-1h0m2-2h0m1 0h0m0 3h0m2 2h0m5 1h0m1-1h0m1-5h0m1 7h0m1-6h0m4 6h0m2-1h0m0-3h0m0 1h0m3-3h0m2 4h0m0 0h0m0-1h0m5-1h0m4 4h0m1 0h0m8-7h0m3 1h0m2 2h0m1 3h0m3-6h0m1 4h0m0-3h0m1-1h0m2 6h0m0-5h0m2-1h0m1 0h0m0 0h0m1 6h0m4-6h0m2 7h0m0 0h0m1 0h0m0-6h0m1 2h0m4-1h0m0 3h0m1-5h0m5 3h0m1 2h0m7-5h0m1 7h0m6 0h0m1-7h0m3 5h0m6 1h0m0-2h0m1 3h0m2-4h0m3 2h0m3-4h0m0 4h0m1-4h0m5 2h0m1 2h0m1 0h0m1 2h0m1-1h0m3-6h0m3 7h0m1-7h0m3 1h0m2 5h0m0-1h0m4 1h0m1-1h0m1-5h0m0 1h0m0 6h0m0-7h0m3 4h0m4-4h0m0 3h0m1 0h0m0 3h0m2-2h0m1 1h0m0 1h0m2 0h0m0 1h0m5 0h0m1-3h0m0 2h0m-1 3h0m-1 1h0m-1 3h0m0-3h0m-2 2h0m-3-2h0m0 4h0m-1-3h0m-1-2h0m-2-1h0m-1 5h0m-2-5h0m-2 4h0m-2 0h0m-2-2h0m-1-2h0m-2 6h0m0 1h0m-8-6h0m-3 6h0m0 0h0m-4-3h0m-2-4h0m-2 3h0m-5-1h0m0 5h0m-2-1h0m-1 1h0m-1-5h0m-1-2h0m-2 7h0m-4-1h0m-1-4h0m0 0h0m-3-2h0m-3 5h0m-2-4h0m-1 5h0m-1-2h0m0-4h0m-2 0h0m-2 6h0m-5-4h0m-1 5h0m0-6h0m-2 4h0m0-2h0m-3 0h0m-2-3h0m-1 0h0m0 1h0m-1-1h0m-6 5h0m-2-2h0m-1-2h0m-1 2h0m-1 2h0m-5-4h0m-2 1h0m0 2h0m-1 3h0m-1-4h0m0 1h0m-4-3h0m0 0h0m-1 0h0m-1 4h0m-1-3h0m-1 3h0m0 0h0m0-5h0m-1 3h0m0 4h0m-3 0h0m-1-7h0m0 0h0m-2 5h0m-1-2h0m-2 2h0m-1-4h0m-3 5h0m0-3h0m-1 0h0m0 0h0m0 2h0m-1 0h0m-4-2h0m0 0h0m-2 4h0m-4-5h0m-1 5h0m-3-5h0m-4 3h0m-2 2h0m-1-2h0m0-3h0m-2 4h0m-1-3h0m-1 2h0m-9-3h0m-6 3h0m0-5h0m-2 2h0m-1 4h0m-4-1h0m-1 2h0m-3-7h0m-8 2h0m-1 2h0m0-1h0m-2-2h0m-2 4h0m-2-3h0m-3 0h0m-3 0h0m-6 3h0m-6-4h0m-2 6h0m-1-3h0m-5-4h0m-2 4h0m-4-3h0m-4-1h0m-2 1h0m-6 6h0m-1-2h0m-1-4h0m0 4h0m-1-4h0m-2 3h0m-3-4h0m-5 3h0m-1-3h0m-1 0h0m-2 4h0m0 2h0m-2 1h0m0-4h0m-3 1h0m-3 2h0m-1-2h0m0 1h0m-1 2h0m0 0h0m-1 0h0m0-3h0m-1 3h0m-1-6h0m-2 3h0m-2-2h0m-3 4h0m-3 0h0m-3-1h0m-2 1h0m-2 1h0m-1-4h0m-5 1h0m-1-1h0m-10 3h0m-2-3h0m-6 4h0m0-1h0m-5-1h0m0-2h0m-4 3h0m-3-3h0m-2-3h0m-1 0h0m0 2h0m0-2h0m0 1h0m-2 6h0m-4-3h0m0-1h0m-1-3h0m-1 6h0m-1-6h0m-3 3h0m0 6h0m2 5h0m1 1h0m1-1h0m5-6h0m1 0h0m0 1h0m1 6h0m0 0h0m3-1h0m4-3h0m2 4h0m9-6h0m1 0h0m1-1h0m0 3h0m6 0h0m1 4h0m1-5h0m2 1h0m0-1h0m0 1h0m5-1h0m4-1h0m2 2h0m1 0h0m5 4h0m0-6h0m1 2h0m1-1h0m5 1h0m1-3h0m4 1h0m3 1h0m1 5h0m0-3h0m2 2h0m1-3h0m3-3h0m1 6h0m2-1h0m1-2h0m3-3h0m0 1h0m4 3h0m1-1h0m4-2h0m1 1h0m0 5h0m5-6h0m2-1h0m2 0h0m1 5h0m2 2h0m1 0h0m0-3h0m2-3h0m1 6h0m0 0h0m2 0h0m3-3h0m0 1h0m4-3h0m2 4h0m2-5h0m0 2h0m1 3h0m1 1h0m1-2h0m1 2h0m3-5h0m4 4h0m1-1h0m0-2h0m1 1h0m1-1h0m1 1h0m4-1h0m3-2h0m1 3h0m9-2h0m4 1h0m1 1h0m2-2h0m4 2h0m2 3h0m0-3h0m1-4h0m1 3h0m2 0h0m0 0h0m1 3h0m1-5h0m1 0h0m2 6h0m4 0h0m1-4h0m1 2h0m1-4h0m3 1h0m4 3h0m2-3h0m1 1h0m0 2h0m3-3h0m2-2h0m1 2h0m0 4h0m1-1h0m4 1h0m2-5h0m3 5h0m0-6h0m2 5h0m6 2h0m8-2h0m0 0h0m2 2h0m5-2h0m10-1h0m2 2h0m2-6h0m3 3h0m0 1h0m6-1h0m0 3h0m2-3h0m1 0h0m0 3h0m0-5h0m1 0h0m1 2h0m3-3h0m2 2h0m3 2h0m8-2h0m3 3h0m0-1h0m0 0h0m2-3h0m2 2h0m4-1h0m3-1h0m11 6h0m2-5h0m2 4h0m7-3h0m2-1h0m3-1h0m2 0h0m0 0h0m3 0h0m2 5h0m1-2h0m1-1h0m0 0h0m1 0h0m1-3h0m1 1h0m3 1h0m2 0h0m-5 7h0m-3 6h0m-1-3h0m-2-3h0m-5 6h0m-1 0h0m-1-6h0m-4-1h0m-1 5h0m-2-3h0m0 1h0m-1-1h0m0 0h0m-1 0h0m-1-1h0m-2 3h0m-1-3h0m-5 3h0m-3 1h0m-7 1h0m-5-1h0m-1-2h0m-1 1h0m-2 1h0m-1-5h0m0 3h0m-1 1h0m0 3h0m-2-5h0m-1-1h0m-11-1h0m-3 4h0m-2 2h0m-8-2h0m-6 2h0m0-6h0m0 1h0m-9-1h0m-1 4h0m0 1h0m-2 0h0m-2 1h0m-6 1h0m0 0h0m-3-2h0m-1-5h0m-3 0h0m-2 4h0m-1 2h0m-5-1h0m-5-2h0m-2 3h0m-4-2h0m0 2h0m-2-5h0m-2 5h0m-1 1h0m-5-3h0m0 2h0m-2-1h0m0-3h0m-5 2h0m-2-4h0m-1 7h0m-3-6h0m-6 4h0m-1-1h0m0-3h0m-2 5h0m-1-1h0m-10 0h0m-3-1h0m-3 0h0m-1-4h0m0 3h0m0 3h0m-2-2h0m-1 0h0m0-2h0m-2 1h0m-4 4h0m-1 0h0m-4-3h0m0-3h0m-2 2h0m-1-3h0m0 7h0m-1 0h0m-1-3h0m-1 0h0m-7 3h0m-1-2h0m-1 2h0m-2-3h0m-3 2h0m-1-4h0m-1-2h0m-3 1h0m-4 5h0m-5-4h0m-3 5h0m-1-7h0m-1 3h0m-4-1h0m0-1h0m-2-1h0m-2 0h0m-6 3h0m-2-3h0m-4 5h0m0 1h0m0-6h0m-1 7h0m-3-2h0m-2-2h0m-4-3h0m-4 6h0m-2-3h0m0-3h0m0 7h0m-1-4h0m-4 1h0m-1 1h0m-1 0h0m-4-2h0m0-3h0m-4 2h0m-6 0h0m-1-2h0m-3 7h0m-1-6h0m0 0h0m-1 6h0m-1-2h0m-2-3h0m-1 4h0m-1-4h0m-5-2h0m0 0h0m-2 0h0m0 2h0m0 0h0m-1 4h0m-3 1h0m0 0h0m-1-5h0m-1 5h0m-4 0h0m-2-4h0m-1 3h0m0-6h0m-2 7h0m-5-1h0m-6-4h0m-1 0h0m3 6h0m2 3h0m2 4h0m2-5h0m1 4h0m1-4h0m0 2h0m0 1h0m1-3h0m0 4h0m3-5h0m6 2h0m0-1h0m0 4h0m4-3h0m1 4h0m0-6h0m4-1h0m2 2h0m5 5h0m3-6h0m1 6h0m2 0h0m1-3h0m0-4h0m4 0h0m0 1h0m1-1h0m4 3h0m0 0h0m7-2h0m3 5h0m1-1h0m3-4h0m2 5h0m0 0h0m1 1h0m1-7h0m1 2h0m1 2h0m3 3h0m0 0h0m1-6h0m2 0h0m0 1h0m2-2h0m2 4h0m0 2h0m0-5h0m2 3h0m1-3h0m0 5h0m2 1h0m2-6h0m1 2h0m3 4h0m3-3h0m3-1h0m1 1h0m1 3h0m1 0h0m2-5h0m6 2h0m0-1h0m0-3h0m2 4h0m1 2h0m0-4h0m2 3h0m1 0h0m1 0h0m1-5h0m2 3h0m1-2h0m2 4h0m1-2h0m1 3h0m5 1h0m0-6h0m1 4h0m1-1h0m2-2h0m1 1h0m2 1h0m2-2h0m1-2h0m4 2h0m4 3h0m2-2h0m12 0h0m0-2h0m5 6h0m0-2h0m2-3h0m7 3h0m3 0h0m0-2h0m2-1h0m7 5h0m4-3h0m1 2h0m5-2h0m2-2h0m3 1h0m1 3h0m2-3h0m4 4h0m1-4h0m7 2h0m2-3h0m1 2h0m0-1h0m2 1h0m1-2h0m2 3h0m5 2h0m3-5h0m0 3h0m3 0h0m2 2h0m1-1h0m8-4h0m0-2h0m0 1h0m1 1h0m1 5h0m3-4h0m0 1h0m0 0h0m0 0h0m1-3h0m8 4h0m1 0h0m2 1h0m2-3h0m1-1h0m1 1h0m3 2h0m0-3h0m4-2h0m1 3h0m3 3h0m0-4h0m0 2h0m5 0h0m4-2h0m1-2h0m2 5h0m0-2h0m7 0h0m0-2h0m2 5h0m1-5h0m1 5h0m0-3h0m2 2h0m0-1h0m2 2h0m2-1h0m0-5h0m3 6h0m6-2h0m1-3h0m1 4h0m4-3h0m2 5h0m1-5h0m1 5h0m3-7h0m-7 13h0m-5-5h0m-2 0h0m-1 4h0m-1 0h0m-2-1h0m0 1h0m-1 3h0m-6-3h0m-1 1h0m-7-3h0m0 1h0m-3 3h0m-3 0h0m-3 1h0m-2 0h0m-1-1h0m-5-5h0m-7 1h0m-1-1h0m0 0h0m-1-1h0m-1 4h0m-5-3h0m-1 0h0m-2-1h0m-2 4h0m-5 2h0m-2-5h0m-9 6h0m-3 0h0m-3-5h0m-2 0h0m-2 2h0m-3-1h0m-1-2h0m0 1h0m-5 0h0m-3 5h0m-5-2h0m0 2h0m-2-6h0m-1 1h0m-1 1h0m-2 2h0m0-4h0m0 4h0m-1-5h0m-2 3h0m-1 4h0m-2-1h0m-1-4h0m-2 2h0m-5-2h0m-2 0h0m-3-2h0m0 3h0m-3-2h0m-2-1h0m-4 1h0m0 5h0m-2-5h0m-1 6h0m-1 0h0m-1-2h0m-4 1h0m0-2h0m-1 2h0m-4 1h0m0-7h0m-6 5h0m-2-2h0m0 2h0m-1 2h0m0-1h0m0-4h0m-1 2h0m-2-1h0m0-3h0m-6 7h0m-2-7h0m-2 2h0m-1-1h0m-2 0h0m-3 1h0m0 2h0m-1 3h0m-7-3h0m-4-1h0m-1 0h0m-2-3h0m0 3h0m-1 2h0m-2 0h0m-1 1h0m0-3h0m-5 3h0m-1 0h0m-1-4h0m-3 3h0m-4 1h0m-5 0h0m-2 0h0m-2 0h0m0-5h0m-8 2h0m-1 1h0m-1 2h0m0-4h0m-2-1h0m-6 5h0m-1-4h0m-2 1h0m-2-3h0m-3 7h0m-10-1h0m0-3h0m-1-2h0m0 6h0m-1-1h0m-1-1h0m-3-5h0m-1 5h0m-2-5h0m-2 3h0m0 2h0m0-3h0m-1 3h0m-4 0h0m0-1h0m-2-1h0m-2-1h0m-2 5h0m0-5h0m-1 2h0m-1-2h0m-1 2h0m-7 0h0m-1 3h0m-2 0h0m-1-7h0m-3 3h0m-2 4h0m-4-1h0m-2-4h0m-4 3h0m0 2h0m0-4h0m-1 4h0m-1-4h0m0 1h0m-2 1h0m2 6h0m1 0h0m1-1h0m1-1h0m3 2h0m1 0h0m1 3h0m4-1h0m0-4h0m2 4h0m8 0h0m3 2h0m1-1h0m1-4h0m4 3h0m0 0h0m6 0h0m5-2h0m0-1h0m2-1h0m1 3h0m0 3h0m1-6h0m1-1h0m3 3h0m0 4h0m2 0h0m1-2h0m5-1h0m6 0h0m1-3h0m3-1h0m0 6h0m2-5h0m2 2h0m4 0h0m3-2h0m1 5h0m0 0h0m2-5h0m3 0h0m0 3h0m5-2h0m6-1h0m2 5h0m2-2h0m2 2h0m1-5h0m2 0h0m0 4h0m1 0h0m1-4h0m1 5h0m0 1h0m1-1h0m2-5h0m0 4h0m5 0h0m0-4h0m3 6h0m0 0h0m1-1h0m2-3h0m2 0h0m2 3h0m0-5h0m8 5h0m3-1h0m5-4h0m0 1h0m3-2h0m2 2h0m5 1h0m1 0h0m2 1h0m3-3h0m0-1h0m2 5h0m2-5h0m4 5h0m0-4h0m7 2h0m1 4h0m1-1h0m3-1h0m1-5h0m6 3h0m1 1h0m9-1h0m7-3h0m0 2h0m1 3h0m3 1h0m2 0h0m1-1h0m2-4h0m3 1h0m0 5h0m4-1h0m2-3h0m2-2h0m3 6h0m3-7h0m7 5h0m2-3h0m4 0h0m0 0h0m4 1h0m1-3h0m1 4h0m1 3h0m3-2h0m0-4h0m1 5h0m4-5h0m3 5h0m0 1h0m1 0h0m1-3h0m2 0h0m5 1h0m1-4h0m3 0h0m1-1h0m0 1h0m1 6h0m1-2h0m5-2h0m2-3h0m0 1h0m1 0h0m0 3h0m4-4h0m4 7h0m1-6h0m0-1h0m1 3h0m0 4h0m2 0h0m1-4h0m0 2h0m0-3h0m1 0h0m1 4h0m0-1h0m5 2h0m1-5h0m-8 6h0m-3 0h0m-3 0h0m-1 0h0m0 2h0m-1-2h0m-1 1h0m-4 3h0m0 3h0m0-2h0m-1-4h0m0 5h0m-2-1h0m0-5h0m0 5h0m-1 2h0m0-6h0m-3 0h0m0 6h0m-1-7h0m0 7h0m0 0h0m-1-1h0m-10 0h0m-1-5h0m0-1h0m-3 6h0m0-5h0m-4 6h0m-3-2h0m0-3h0m-3 0h0m-1 2h0m-5-1h0m0-3h0m-2 0h0m-1 7h0m0-7h0m-2 3h0m-1 1h0m-1 2h0m-3-4h0m-9 2h0m-1-2h0m0-2h0m0 6h0m-5-5h0m-3 2h0m-5 1h0m-2-3h0m-6 4h0m-2 0h0m-4 1h0m0-1h0m-12-3h0m-2 5h0m-1-1h0m-3 1h0m-5-4h0m-2-1h0m0 2h0m-1 1h0m-4 0h0m-2-5h0m-1 1h0m-2-1h0m-1 4h0m-7 0h0m-3-4h0m-6 5h0m-2-2h0m0-1h0m0-1h0m-2 2h0m0-2h0m-1 3h0m0-1h0m-1 4h0m-2-2h0m-1-4h0m0-1h0m-3 4h0m-4-4h0m-1 1h0m-2 1h0m-1 4h0m0-4h0m-10 5h0m-11 0h0m-3-2h0m-2 2h0m0-3h0m0-1h0m-3 2h0m-2 1h0m-3-5h0m-2 0h0m-2 6h0m-5-7h0m0 5h0m-2 1h0m-1-3h0m0 3h0m0 1h0m-1-6h0m0 1h0m-3-2h0m-3 1h0m-5-1h0m0 1h0m-10-1h0m-4 1h0m-2 2h0m-4 3h0m-1 1h0m-1-3h0m-1 2h0m-7-1h0m-1-3h0m-1 4h0m-6-1h0m-2-5h0m-2 7h0m-1-5h0m-1 3h0m-2-4h0m0 3h0m-3-3h0m-2 6h0m0-7h0m-2 7h0m-2-1h0m-2-1h0m15 7h0m6 2h0m1-5h0m0-1h0m3 6h0m2-2h0m0 2h0m3-2h0m1-2h0m1 1h0m2 0h0m2-3h0m2 6h0m2-2h0m2 0h0m0-1h0m1-2h0m0 5h0m1-1h0m2-4h0m0 6h0m5-4h0m2 4h0m1-3h0m0 3h0m2-7h0m0 7h0m1-7h0m5 2h0m4-2h0m4 7h0m2-3h0m6-2h0m2 3h0m1-3h0m0 2h0m1 2h0m1-3h0m4 0h0m3-2h0m1 4h0m0 2h0m10-4h0m6 0h0m7 0h0m1 1h0m1-2h0m1 3h0m1-2h0m2 3h0m1-5h0m3 1h0m2-1h0m0 1h0m3 1h0m0-3h0m1 3h0m2-1h0m0-1h0m0 0h0m1-1h0m0 0h0m0 7h0m3-1h0m2-4h0m1-2h0m2 3h0m2 0h0m5 4h0m3-4h0m3 0h0m1-3h0m1 5h0m0 0h0m9-4h0m4 5h0m2-6h0m2 5h0m1 0h0m6 2h0m1-5h0m4-1h0m1 6h0m0-7h0m7 6h0m3-1h0m3 0h0m2-1h0m0 3h0m6-6h0m5 2h0m1 2h0m2-2h0m1-3h0m5 3h0m0-2h0m1 6h0m1-6h0m2 0h0m6 0h0m4 0h0m1 1h0m2-1h0m5 6h0m0-7h0m4 7h0m0-7h0m1 6h0m1-1h0m1 1h0m1-5h0m3 0h0m2 0h0m3 1h0m1 4h0m0-4h0m1 2h0m0-3h0m1-1h0m2 3h0m1 3h0m1 0h0m0-6h0m1 4h0m0 1h0m0-3h0m1-1h0m1 3h0m1 3h0m2-2h0m0-2h0m3-3h0m1 0h0m1 1h0m0 2h0m0-2h0m4 3h0m1-4h0m-11 12h0m-2-2h0m-1-1h0m0-1h0m0 1h0m-2 3h0m-1 1h0m-6-1h0m-7-3h0m-2 5h0m-1-4h0m-5-2h0m-4 1h0m-6-1h0m-3 3h0m-2 0h0m0 2h0m-5-1h0m-2-1h0m-3 2h0m-1-3h0m-5 4h0m-2-2h0m-1-4h0m-1 0h0m-2 1h0m-2 4h0m-2-4h0m-4 6h0m-2-3h0m0 3h0m-5-2h0m-5-1h0m0 2h0m0-2h0m-4-2h0m-1 5h0m-3-1h0m-1-6h0m-1 2h0m0 2h0m-4 3h0m-3-6h0m-2-1h0m0 1h0m-4 1h0m-1 5h0m-2-5h0m-1 1h0m-10 2h0m-2 2h0m-8 0h0m-5-6h0m-2 5h0m-1-5h0m0 1h0m-3-2h0m-1 3h0m-1 3h0m-1 0h0m-7-6h0m-1 5h0m-4-2h0m-2 1h0m-4 1h0m-2 1h0m-2-6h0m-1 4h0m-3 1h0m-8 1h0m-5-2h0m0 1h0m-1 0h0m-1 2h0m-2-6h0m-2 6h0m-1-5h0m0 3h0m-1-4h0m-4 6h0m-2-6h0m-2 4h0m-1-4h0m-1 2h0m0 2h0m-1 1h0m-1-4h0m-1 4h0m-4-2h0m-1-4h0m0 3h0m-1 0h0m-2-3h0m-4 2h0m0 2h0m-1-1h0m-1-3h0m0 3h0m-3 0h0m-1-1h0m0 1h0m-9-1h0m-1-2h0m-2 4h0m14 5h0m4 0h0m6-1h0m2 2h0m5 1h0m1-1h0m0 1h0m0-1h0m1-1h0m3-1h0m1 3h0m1-3h0m4 4h0m2-4h0m0 4h0m0-2h0m1 0h0m1 2h0m2-3h0m1 3h0m1-2h0m4 4h0m2-3h0m0 2h0m4-2h0m1 4h0m1-3h0m1-2h0m3 2h0m3 2h0m1 0h0m0 0h0m2-3h0m0 0h0m0 2h0m1 2h0m1-7h0m0 6h0m1 0h0m2 1h0m2-7h0m1 6h0m1-1h0m2-4h0m0 4h0m3-3h0m0 2h0m0 1h0m5-2h0m2-2h0m6 2h0m2 3h0m11-3h0m3 3h0m1-5h0m1 0h0m4 3h0m4 2h0m2-3h0m2 0h0m1 2h0m3-3h0m1 5h0m3-1h0m2-5h0m0 0h0m2 6h0m0 0h0m4-5h0m3 2h0m1-4h0m1 2h0m1 5h0m2-3h0m0-2h0m1 1h0m1 2h0m1-4h0m3 2h0m2 2h0m1 0h0m0-2h0m5 2h0m3 0h0m0 2h0m0 0h0m1-2h0m0 0h0m2 2h0m1-2h0m1 2h0m3-4h0m0 0h0m3 2h0m3 1h0m2 1h0m7-7h0m0 7h0m4-7h0m0 0h0m1 6h0m1 1h0m1-2h0m2 0h0m1 1h0m0 0h0m0 0h0m1 0h0m3-6h0m1 7h0m1-4h0m1 3h0m0-1h0m3-5h0m2 3h0m1 3h0m5-6h0m1 5h0m-4 4h0m-20 1h0m-2-1h0m-1 1h0m0 3h0m-2-1h0m-1 0h0m0 0h0m0-2h0m-3 2h0m-1 0h0m0-4h0m0 7h0m-4 0h0m-1-6h0m0 4h0m-3-3h0m-6-2h0m-1 6h0m-1 1h0m-3 0h0m-2-6h0m-1 4h0m-1 2h0m-1-6h0m-2 1h0m-5 5h0m-2-2h0m-3-4h0m0 2h0m-1 4h0m-1-1h0m0-4h0m-2 5h0m-1-5h0m0 2h0m0 1h0m-1-3h0m-1 0h0m-2 4h0m0-4h0m-1 1h0m-2 0h0m0 2h0m-2-3h0m-3 1h0m-3 3h0m-3-1h0m0-5h0m-4 0h0m-1 1h0m-1 6h0m-4-5h0m0 5h0m-2-2h0m0-1h0m-9 1h0m-1 1h0m0-3h0m-1 2h0m-2 0h0m0-3h0m-1-2h0m0 3h0m-1 4h0m-2-3h0m-1 2h0m-2-1h0m-1 0h0m-1 1h0m-2 0h0m-1-2h0m0-1h0m-2 0h0m-1-2h0m-1 3h0m-4-3h0m-2 6h0m-3-3h0m-1 0h0m-2-3h0m-1-1h0m0 0h0m-8 0h0m0 3h0m-1 0h0m-6-3h0m-7 0h0m0 0h0m-10 1h0m37 8h0m2-1h0m1 2h0m6 2h0m5-1h0m2-2h0m3-1h0m3 0h0m1 0h0m3 0h0m3 6h0m1 0h0m0 1h0m4-6h0m1 0h0m2 2h0m1 2h0m2-5h0m3 3h0m2 1h0m1-3h0m0 2h0m0-2h0m2 5h0m2-2h0m5 0h0m2-1h0m5-3h0m0 5h0m3-3h0m1 3h0m1 0h0m2 0h0m1-4h0m4 2h0m5-1h0m7 1h0m0-3h0m0 4h0m1-1h0m5 3h0m0-6h0m1 3h0m3-2h0m0 1h0m1-1h0m0 6h0m1-5h0m1-1h0m0 1h0m2 0h0m1 3h0m1 2h0m0-5h0m0 5h0m3-4h0m1 1h0m1 1h0m1-5h0m2 4h0m1-4h0m-13 9h0m-7 1h0m-16-1h0m-4 4h0m-5-4h0m-4-1h0m0 3h0m-5 0h0m-2-2h0m-3-1h0m-1 4h0m-1-2h0m-1-2h0m-8 2h0m0-2h0" stroke="#f8766d" stroke-width="4.2" stroke-linecap="round"/>
<path transform="scale(.5)" d="M152 421h0m1 1h0m0-1h0m1 1h0m3-3h0m18 2h0m3 2h0m1-4h0m0 2h0m1 0h0m57 9h0m-18-1h0m-9 1h0m-3-6h0m0 4h0m-1 2h0m-3-1h0m0-4h0m0 0h0m-1 5h0m-1-3h0m-1 2h0m0-3h0m-2 1h0m-1 4h0m0-5h0m-1 5h0m0-4h0m-2 0h0m0 1h0m-2 2h0m-2-3h0m0 0h0m-2 4h0m-1-2h0m0-2h0m-2 4h0m-7-2h0m-2 1h0m-1-5h0m0-1h0m-2 1h0m-1-1h0m-1 7h0m-1-7h0m-2 1h0m-4-1h0m-1 1h0m-4 3h0m-4-4h0m-1 5h0m-2 0h0m0 0h0m0-4h0m-6 4h0m0 2h0m-2-3h0m0 3h0m0 0h0m-1 0h0m0-1h0m-1-5h0m-1 4h0m-4-2h0m0-1h0m-1 5h0m-6 6h0m1 1h0m1 0h0m0 0h0m3 0h0m10 1h0m3 0h0m2-1h0m4-5h0m3 6h0m1 0h0m1 0h0m8-4h0m1 3h0m1 0h0m3-2h0m1 3h0m2-1h0m1-5h0m2 1h0m5 4h0m0-1h0m3-5h0m1 3h0m2 2h0m1-3h0m2 3h0m0-3h0m5-1h0m1 4h0m1 0h0m2-2h0m12 2h0m0-4h0m3 0h0m2 4h0m0-5h0m5 7h0m0-4h0m3-2h0m1 5h0m3 0h0m1-2h0m1 0h0m3-3h0m6 4h0m0 1h0m2 1h0m1-7h0m1 5h0m3 1h0m3-3h0m3 1h0m5 2h0m30 8h0m0 1h0m-2 0h0m-2 0h0m-1-2h0m-1-1h0m-8 3h0m-4-7h0m-3 7h0m-2-6h0m-1 3h0m-1-1h0m-1 2h0m-1-3h0m-4 0h0m-3 3h0m-3-1h0m-2 2h0m-1-4h0m-4-2h0m-1 6h0m-5-1h0m-9-4h0m-3 0h0m-2 0h0m-2 5h0m0 1h0m-4-7h0m0 4h0m-5 0h0m-8-2h0m-1 5h0m-2-5h0m0 4h0m-2 1h0m0-7h0m-2 6h0m0-6h0m-1 1h0m0 0h0m-4 5h0m-1 1h0m0-4h0m-10 4h0m-3-5h0m-1 1h0m-1 1h0m-6 3h0m-2-1h0m-1-1h0m-1-3h0m-1 1h0m-1-2h0m-1 4h0m0-4h0m-5 0h0m-1 4h0m-3 0h0m0-4h0m-2 0h0m-2 1h0m-13 0h0m0 5h0m-1 0h0m0 0h0m-1-4h0m-1-1h0m-2 1h0m-1 2h0m0-3h0m0-1h0m-2 1h0m0 5h0m0-5h0m-1 0h0m-2 2h0m-1-1h0m-1-1h0m-1 5h0m0-3h0m-3 3h0m-7 5h0m2 3h0m2 0h0m0-6h0m3 3h0m15 3h0m1-1h0m8-6h0m1 5h0m3 0h0m0-5h0m2 3h0m1 4h0m6-2h0m1-4h0m4 5h0m4 1h0m3-1h0m1-5h0m0 4h0m6-3h0m6-1h0m0 1h0m3 3h0m0-2h0m3 2h0m8-5h0m2 1h0m0 5h0m1 0h0m0-1h0m3 0h0m1-5h0m0 7h0m1-7h0m1 4h0m1-3h0m5 4h0m8 2h0m2-3h0m2 2h0m1-1h0m5 2h0m3-5h0m5 1h0m1 0h0m2 3h0m0 1h0m0-3h0m1-1h0m3 0h0m4 2h0m1-1h0m2-2h0m0-2h0m1 7h0m2-4h0m1-1h0m1 1h0m0-1h0m3-2h0m0 3h0m3-1h0m1 1h0m1 0h0m2-1h0m1-2h0m4 0h0m1 2h0m1 2h0m0 2h0m4-4h0m2-2h0m1 2h0m2 2h0m2-1h0m5 1h0m0-3h0m1 0h0m1 2h0m0 1h0m3 2h0m1-1h0m2-5h0m2 7h0m1-3h0m4 2h0m3 7h0m-11-3h0m0 4h0m-4-1h0m-2-2h0m0-2h0m-1 0h0m-3 2h0m-1-1h0m-2-2h0m-1 5h0m-3-3h0m-8 0h0m-2-2h0m-1 1h0m-3-1h0m-1 4h0m-1-2h0m-1 2h0m-1 1h0m-1-3h0m-4 3h0m-4-3h0m0 0h0m-6 5h0m-1-2h0m-1-2h0m-5-3h0m0 6h0m0-6h0m0 1h0m-3 5h0m0-5h0m0 1h0m-1 0h0m-1 5h0m-1-4h0m-8 3h0m0-5h0m-1 5h0m-2-2h0m-9-1h0m-9-3h0m-6 4h0m-1-1h0m0-2h0m0 1h0m-11 3h0m-1 2h0m-2-7h0m0 3h0m-1 4h0m-1-2h0m-2 2h0m0 0h0m-2-1h0m-1 0h0m-1-4h0m-2-2h0m0 2h0m-1 5h0m0-6h0m-1 0h0m-3 3h0m0 1h0m-1-5h0m-4 4h0m0-4h0m-1 2h0m-6 2h0m-9 0h0m-3-2h0m0 3h0m-3-1h0m-3-2h0m0 5h0m-1-7h0m-1 2h0m-5 1h0m-3 0h0m-1-2h0m-1 3h0m0 0h0m-4-4h0m-3 5h0m-1-4h0m-3 0h0m5 13h0m3-5h0m0 3h0m1 0h0m3 0h0m0-3h0m1-1h0m1 1h0m1 2h0m5-1h0m2-1h0m7 6h0m2-7h0m0 6h0m7-4h0m6-1h0m1 6h0m0 0h0m1-4h0m1 0h0m2 1h0m4-2h0m1-2h0m1 0h0m4 7h0m5-4h0m1 3h0m0-3h0m0 0h0m0 3h0m0 1h0m6-4h0m2 0h0m0-1h0m0-1h0m6 6h0m1-5h0m3 0h0m2 5h0m0-2h0m1 0h0m2-4h0m2 2h0m2 1h0m1 3h0m1-5h0m2 3h0m1 0h0m6-5h0m0 4h0m3 1h0m2-1h0m1-3h0m0-1h0m4 4h0m1 1h0m1-2h0m1-2h0m3 5h0m4-2h0m1 0h0m1 1h0m3-4h0m2 5h0m0 1h0m1-6h0m0 3h0m1-2h0m3 3h0m0-2h0m3-2h0m7 3h0m1 1h0m1-2h0m1-1h0m2-2h0m3 1h0m0 1h0m1-2h0m3 1h0m2-1h0m2 0h0m3 1h0m5 0h0m3 2h0m1 4h0m1-3h0m5 3h0m3-1h0m1-5h0m1 6h0m0-5h0m1 4h0m4-3h0m0-2h0m1 3h0m1 1h0m4-4h0m2 2h0m1 1h0m0 3h0m4-1h0m-8 7h0m-1-2h0m0 3h0m-1 0h0m0-6h0m-1 7h0m-4-2h0m-5-4h0m-4 4h0m-4 0h0m-2-1h0m-6-4h0m-8 4h0m-7-1h0m-2 2h0m-1-2h0m-7 4h0m0-3h0m-7-3h0m-7 3h0m-4 2h0m-3 1h0m-3-3h0m-2 3h0m-2-3h0m0 1h0m-1 1h0m-2-6h0m-2 3h0m-11 3h0m-5-1h0m-2-4h0m-2 6h0m-3-2h0m0-4h0m-1 3h0m-1-4h0m-1 4h0m0 1h0m-1-3h0m-2 2h0m0 0h0m-1 0h0m-3 2h0m-8-6h0m0 3h0m-6 0h0m-6-3h0m-1 1h0m-1 3h0m-2 3h0m-2-1h0m-4 1h0m-5-7h0m-1 2h0m0 3h0m-4-3h0m-4-2h0m-1 2h0m-3 5h0m-3-1h0m-5-3h0m-1 2h0m-2 1h0m-3 1h0m-3-2h0m0-4h0m-1 1h0m-1-1h0m0 5h0m-2-3h0m-1-1h0m-1 0h0m-6-1h0m5 12h0m1 1h0m4 1h0m1-2h0m1 0h0m7-1h0m2 0h0m8-3h0m2 4h0m1-1h0m2-4h0m1 2h0m1 1h0m2-1h0m3-2h0m1 2h0m0 2h0m3-1h0m6-3h0m1 3h0m2 3h0m1-5h0m0 3h0m1-2h0m1 2h0m5 2h0m2-6h0m2 6h0m0-1h0m4-2h0m1 3h0m1-3h0m1 3h0m0-6h0m1 0h0m3 3h0m1 4h0m1-1h0m0-1h0m1-1h0m5-2h0m0 1h0m2-3h0m3 7h0m8-7h0m1 0h0m0 5h0m4 1h0m1-4h0m3 2h0m2-1h0m6 4h0m5-7h0m3 6h0m1-1h0m2-1h0m3-3h0m1 0h0m0 3h0m1-4h0m5 5h0m2-5h0m1 4h0m0-2h0m2 1h0m4-3h0m3 3h0m2 2h0m1 0h0m3 0h0m2-4h0m0 2h0m3 1h0m0 3h0m1-1h0m0-1h0m1-3h0m1-2h0m4 5h0m2 1h0m0-3h0m1 1h0m0-1h0m6 3h0m4-1h0m1 1h0m14-1h0m4-2h0m1 0h0m0 2h0m0-4h0m7 4h0m0 1h0m0-2h0m-2 6h0m-2-2h0m-5 5h0m0-4h0m-4-1h0m0 5h0m-6 0h0m-1-1h0m0 3h0m-2-4h0m-1 1h0m-5-4h0m-1 3h0m-2-2h0m-5 1h0m-2 1h0m0 4h0m-8-7h0m-8 0h0m-1 5h0m-2-2h0m-6 2h0m-3-2h0m-4-3h0m-2 7h0m-1-3h0m-3-3h0m-5 3h0m0 2h0m-1-1h0m-3-2h0m-5-1h0m-2 1h0m0 3h0m-2-1h0m-1 0h0m-1 0h0m-3-2h0m0-2h0m-4 4h0m-1-4h0m-4 0h0m-3 3h0m-5 3h0m-2-7h0m0 2h0m0 3h0m-3-3h0m0 3h0m-3-3h0m-2-1h0m-1 1h0m-4-2h0m0 0h0m-4 7h0m-3 0h0m-1-6h0m-3-1h0m-1 7h0m-6-3h0m-1-4h0m-3 5h0m-1 2h0m-4 0h0m-5-3h0m-1 0h0m-3-4h0m0 3h0m-3 0h0m-4 1h0m-1 0h0m-4 2h0m-3-5h0m-1 3h0m-3-2h0m-1 4h0m-1-2h0m-1-2h0m-1-1h0m-1 0h0m0 5h0m-1-1h0m-3-1h0m-4 1h0m8 7h0m4 2h0m2 0h0m4-6h0m1 1h0m1 4h0m1-2h0m0 1h0m5-1h0m7 2h0m2 0h0m4 0h0m5 1h0m2-2h0m2 2h0m0 0h0m6-6h0m0 2h0m0-1h0m0 4h0m2-2h0m9 0h0m3 1h0m2 3h0m4-2h0m1-5h0m6 5h0m1-4h0m0 3h0m2-3h0m2 3h0m2 1h0m0 1h0m4 0h0m1-3h0m1 1h0m0 0h0m1-2h0m2 4h0m1 0h0m1-5h0m2-1h0m0 4h0m0-2h0m0-2h0m1 7h0m1-5h0m2 3h0m0-3h0m1 0h0m5 5h0m5-1h0m0-1h0m2 1h0m2-4h0m2 4h0m4-1h0m2 0h0m1 1h0m0-1h0m3 1h0m2-4h0m0 5h0m3-1h0m2-1h0m0 0h0m1-5h0m5 3h0m2-1h0m1 3h0m2-3h0m1 1h0m1 3h0m1 0h0m1-5h0m2 0h0m1 5h0m0-2h0m2-4h0m5 0h0m4 5h0m3 1h0m9 0h0m1-2h0m3-4h0m3 0h0m0 2h0m2 5h0m1-1h0m5-1h0m1 0h0m2 2h0m3-5h0m1 10h0m-2 2h0m-2-6h0m-2 1h0m-2 2h0m-5-2h0m0 1h0m-2 4h0m-7-1h0m-1-4h0m-4 0h0m-2 4h0m-4 1h0m0-4h0m0 4h0m-1-1h0m0 0h0m-3-5h0m-1 2h0m-3-1h0m-2 5h0m-9 0h0m-3 1h0m-9 0h0m0-2h0m-3-5h0m-1 7h0m-1-7h0m-1 5h0m0 2h0m-2-6h0m0 2h0m-5 0h0m-2-2h0m-1 4h0m-3-1h0m-3-1h0m-1-2h0m-1 3h0m-3-2h0m-5 4h0m-3 1h0m-1-6h0m-4-1h0m0 1h0m-3 0h0m-2 6h0m-5-3h0m0-2h0m-3 1h0m0 1h0m-3-3h0m0 2h0m-3-3h0m-1 2h0m-2 4h0m-1-5h0m-3 4h0m-1 0h0m-2-3h0m-1 1h0m0-1h0m-1-2h0m-5 7h0m-4-4h0m-10 3h0m-1-3h0m-2 2h0m-3-1h0m0 3h0m-3-3h0m-7-1h0m-2-2h0m0 6h0m-2-1h0m-3-1h0m-1 1h0m-5 1h0m-2-5h0m-1 3h0m-1-3h0m-6 4h0m0-5h0m4 8h0m0 1h0m3 5h0m2-6h0m6 4h0m2-2h0m2 1h0m4-1h0m1-3h0m2 0h0m1 3h0m4 4h0m1-3h0m1-2h0m2-1h0m4 4h0m0 0h0m1-3h0m6 4h0m1-1h0m1 1h0m1-5h0m3 1h0m4-1h0m4 6h0m1-4h0m1 4h0m8-1h0m1 1h0m0-5h0m0 1h0m4 2h0m1 1h0m4-4h0m1 5h0m2-6h0m1 3h0m8 0h0m3-1h0m1-2h0m4 6h0m3-3h0m1 1h0m5-5h0m2 2h0m4 2h0m0-4h0m0 0h0m10 2h0m0 5h0m3 0h0m1-2h0m1-4h0m1 2h0m0 1h0m3 3h0m2-6h0m3 4h0m1-5h0m1 3h0m3 1h0m5-4h0m2 4h0m3-2h0m1 1h0m1 0h0m1-2h0m5 6h0m1-2h0m0-2h0m1 4h0m0-3h0m1-3h0m11-1h0m1 2h0m0 1h0m0 4h0m2-4h0m8-3h0m1 7h0m4-2h0m-3 6h0m-4 3h0m0-3h0m-5 3h0m0-3h0m-1 1h0m0 1h0m0 2h0m-1-1h0m-1 1h0m-1 0h0m0-3h0m-4-4h0m-3 1h0m-1-1h0m-1 1h0m0 5h0m-1-2h0m-2-1h0m-2 2h0m0-4h0m-2 1h0m-3-1h0m-2 1h0m-6-2h0m-2 3h0m0-1h0m-10-1h0m-1 3h0m-5 3h0m0-4h0m-5 3h0m-1-5h0m-2 6h0m-2-1h0m-3-1h0m-3 2h0m-6-2h0m-1-4h0m-1 5h0m0 1h0m-1-1h0m-3-4h0m-1 2h0m0-1h0m0 2h0m-2 1h0m-2 1h0m0-6h0m-1 5h0m-4 1h0m-4-3h0m0 3h0m-2-5h0m0 3h0m-1 0h0m-6-5h0m-2 7h0m0-2h0m-1-1h0m-1 1h0m0 1h0m-1-3h0m-5-3h0m-5 3h0m-2 3h0m0-2h0m-3 3h0m0-3h0m-4-1h0m-6 1h0m-6-1h0m-1 1h0m-4 3h0m-5 0h0m-3 0h0m-1-2h0m-2 0h0m-8 0h0m-6 0h0m-2 1h0m-1 1h0m-1-4h0m-1 2h0m-3-1h0m-3 0h0m-1-2h0m6 10h0m5-3h0m1 5h0m2 0h0m2 1h0m3-1h0m1-4h0m0 2h0m0-1h0m2 3h0m1-5h0m1 6h0m4-6h0m1 2h0m3-1h0m4 5h0m5-4h0m7 1h0m0-3h0m1 2h0m2 2h0m2-3h0m0 1h0m1 3h0m1 0h0m3-5h0m0 6h0m2-4h0m0-1h0m0-2h0m5 3h0m4-2h0m4 5h0m2-3h0m7-2h0m1 6h0m9-1h0m1-2h0m0-3h0m2 2h0m1 3h0m0-6h0m2 6h0m2-1h0m1-3h0m2-2h0m1 4h0m1 1h0m1 0h0m8-3h0m4 5h0m0-3h0m4 2h0m3-5h0m2 5h0m3-5h0m1 2h0m0-3h0m0 7h0m1-3h0m3 0h0m6 3h0m0-7h0m1 7h0m2-3h0m4 1h0m5 2h0m6-3h0m1-3h0m2 6h0m3-2h0m1-3h0m6 2h0m1-1h0m2 1h0m2-2h0m0-2h0m5 5h0m1-1h0m1-2h0m2-1h0m-10 11h0m-1-2h0m-2-1h0m-2 2h0m-1-3h0m-1 1h0m-1 2h0m-2-2h0m-2 3h0m-1-4h0m-1 4h0m-2 2h0m-4-5h0m0 5h0m-1-5h0m-1 6h0m-1-3h0m-4-3h0m-1 6h0m-1-7h0m-1 4h0m-9-1h0m-1-2h0m-9 5h0m-4-4h0m0-1h0m-1 4h0m-1 1h0m-3 0h0m-1 1h0m-1-3h0m0 3h0m-1-4h0m0 4h0m0-7h0m-1 6h0m-1-5h0m-4 6h0m-5-5h0m-3 5h0m-8-4h0m-9 0h0m-1 0h0m-1 0h0m-1 2h0m-3 1h0m-4-6h0m-2 0h0m-2 5h0m-1-5h0m-3 4h0m0-2h0m0 4h0m-1-3h0m-3-1h0m-1 4h0m0-2h0m-4 1h0m-1-4h0m-2 1h0m-4 4h0m-4-3h0m-4 4h0m-2-4h0m0 0h0m-1-3h0m-3 0h0m-4 2h0m-1 0h0m-2-1h0m-2 6h0m0-5h0m-5 1h0m-1 0h0m-1 0h0m0 0h0m-1 3h0m-1-6h0m-1 6h0m-2-1h0m0 2h0m-1-2h0m-3 0h0m0-1h0m-2-2h0m-2-1h0m3 9h0m5 3h0m3-2h0m1-2h0m2 0h0m1 0h0m1 3h0m3 1h0m3-5h0m0 4h0m1 0h0m1 2h0m4-5h0m7 1h0m1-2h0m8 3h0m0-1h0m3 0h0m0 0h0m4-1h0m0 4h0m4-2h0m2-1h0m1 5h0m4-2h0m2-1h0m4-2h0m9 5h0m2-1h0m0-4h0m1 4h0m3 1h0m5-3h0m4 0h0m1 1h0m2 1h0m2-5h0m5 5h0m2-5h0m0 5h0m0 1h0m1-6h0m1 2h0m2 3h0m1-5h0m4-1h0m4 4h0m2 1h0m4-1h0m12 0h0m3-4h0m0 0h0m8 7h0m4 0h0m1-6h0m1-1h0m3 2h0m1 1h0m0 5h0m-12 2h0m-1-2h0m-1 5h0m0-5h0m-1 2h0m-1 3h0m0-5h0m-6 0h0m-2 5h0m-2-1h0m-1-4h0m-4 5h0m-5 0h0m0 2h0m-7-7h0m0 0h0m-1 6h0m-2-3h0m-7-1h0m-2 5h0m-2-5h0m-6 3h0m-2-4h0m-6 2h0m0 2h0m-5 0h0m0-5h0m-6 2h0m-3-1h0m-1 0h0m-9-1h0m0 2h0m-1 5h0m0-5h0m0-1h0m-2 1h0m0 0h0m-3 2h0m-1-3h0m-2 2h0m-2 4h0m-2-6h0m0 3h0m-1 1h0m0 1h0m-2-1h0m-2-4h0m0 3h0m-4 1h0m-1 2h0m-1-4h0m-2 4h0m-4-6h0m-2 3h0m0 1h0m-3-3h0m-1-1h0m0-1h0m-1 4h0m-3-4h0m-1 5h0m-5 1h0m-3-5h0m10 7h0m2 0h0m6 5h0m1-5h0m7 4h0m4 2h0m2-1h0m0 0h0m6 1h0m3-2h0m4-3h0m0-1h0m1 7h0m1 0h0m0 0h0m1-3h0m1-2h0m2 3h0m0 1h0m1-2h0m0 2h0m1-1h0m0 1h0m2-1h0m2 2h0m1-1h0m0-5h0m3 6h0m1 0h0m6-5h0m4 3h0m3 2h0m6 0h0m2-1h0m1-5h0m1-1h0m1 7h0m0-2h0m1-1h0m0-2h0m1 1h0m1 0h0m0 0h0m0 1h0m1 2h0m2 1h0m0-5h0m0 4h0m2 0h0m7-4h0m4-1h0m0 0h0m1 2h0m1-2h0m2 1h0m7-2h0m8 1h0m-23 9h0m-2-2h0m-13 3h0m-4 3h0m0-3h0m-1 4h0m-3-6h0m0-1h0m-1 2h0m-2 0h0m-3 2h0m0 2h0m-1-5h0m-1 0h0m-1 1h0m-3 1h0m-3-1h0m-2-1h0m-2-1h0m0 3h0m-1-2h0m0 0h0m-5 2h0m-3 4h0m0-1h0m-1 0h0m-3-5h0m-1 5h0m-4 0h0m0 1h0m-13-6h0" stroke="#b79f00" stroke-width="4.2" stroke-linecap="round"/>
<path transform="scale(.5)" d="M133 357h0m2 2h0m2 0h0m2-1h0m4-2h0m1-3h0m3 0h0m1 4h0m1-4h0m8 13h0m-2-4h0m-1 0h0m-1 2h0m-2-4h0m-5 3h0m-1 2h0m-1-2h0m-4-3h0m-1 6h0m-5-5h0m0 3h0m-1-2h0m0 0h0m-1 1h0m-1-3h0m2 11h0m2 3h0m2-2h0m0-4h0m1 4h0m0-2h0m2 4h0m1-1h0m7 1h0m2-5h0m4 8h0m-3 1h0m-8 1h0m-1 2h0m-5-3h0" stroke="#7d9be0" stroke-width="4" stroke-linecap="round"/>
<path transform="scale(.5)" d="M23 350h0m-4 0h0m-2 2h0m0 6h0m5-3h0m0 4h0m0-5h0m5 2h0m1-2h0m1 2h0m1 1h0m0-3h0m3 1h0m0-1h0m0 0h0m-10 6h0" stroke="#d060c8" stroke-width="4.4" stroke-linecap="round"/>
<circle cx="210.7" cy="123.9" r="0.9" fill="#f8766d"/>
<circle cx="221.1" cy="127.7" r="0.9" fill="#f8766d"/>
<circle cx="182.4" cy="225.5" r="0.9" fill="#f8766d"/>
<circle cx="83.9" cy="174.2" r="0.9" fill="#f8766d"/>
<circle cx="87.8" cy="200.1" r="0.9" fill="#f8766d"/>
<circle cx="144.9" cy="221.5" r="0.9" fill="#f8766d"/>
<circle cx="213.1" cy="221.9" r="0.9" fill="#f8766d"/>
<circle cx="142.4" cy="220.2" r="0.9" fill="#f8766d"/>
<circle cx="199.3" cy="113.9" r="0.9" fill="#f8766d"/>
<circle cx="107.8" cy="161.6" r="0.9" fill="#f8766d"/>
<circle cx="248.8" cy="153" r="0.9" fill="#f8766d"/>
<circle cx="176.8" cy="104" r="0.9" fill="#f8766d"/>
<circle cx="103.5" cy="164.1" r="0.9" fill="#f8766d"/>
<circle cx="183.6" cy="107.2" r="0.9" fill="#f8766d"/>
<circle cx="83.8" cy="190.5" r="0.9" fill="#f8766d"/>
<circle cx="83.4" cy="188.6" r="0.9" fill="#f8766d"/>
<circle cx="86.9" cy="187.6" r="0.9" fill="#f8766d"/>
<circle cx="136.1" cy="141.6" r="0.9" fill="#f8766d"/>
<circle cx="95" cy="167.6" r="0.9" fill="#f8766d"/>
<circle cx="214.5" cy="217.6" r="0.9" fill="#f8766d"/>
<circle cx="234.6" cy="143" r="0.9" fill="#f8766d"/>
<circle cx="250.8" cy="173" r="0.9" fill="#f8766d"/>
<circle cx="183" cy="229.2" r="0.9" fill="#f8766d"/>
<circle cx="160.3" cy="113.3" r="0.9" fill="#f8766d"/>
<circle cx="81.8" cy="188.2" r="0.9" fill="#f8766d"/>
<circle cx="174.8" cy="107.3" r="0.9" fill="#f8766d"/>
<circle cx="158.6" cy="115.1" r="0.9" fill="#f8766d"/>
<circle cx="131.5" cy="139.7" r="0.9" fill="#f8766d"/>
<circle cx="95" cy="165.5" r="0.9" fill="#f8766d"/>
<circle cx="87.9" cy="187.6" r="0.9" fill="#f8766d"/>
<circle cx="80" cy="150.9" r="0.9" fill="#00ba38"/>
<circle cx="92.9" cy="122.8" r="0.9" fill="#00ba38"/>
<circle cx="90.4" cy="135.4" r="0.9" fill="#00ba38"/>
<circle cx="117.3" cy="152.3" r="0.9" fill="#00ba38"/>
<circle cx="131.7" cy="85.3" r="0.9" fill="#00ba38"/>
<circle cx="144.9" cy="129.4" r="0.9" fill="#00ba38"/>
<circle cx="78" cy="157" r="0.9" fill="#00ba38"/>
<circle cx="91.5" cy="123.1" r="0.9" fill="#00ba38"/>
<circle cx="89.8" cy="132.2" r="0.9" fill="#00ba38"/>
<circle cx="159.8" cy="115.1" r="0.9" fill="#00ba38"/>
<circle cx="119.5" cy="93.1" r="0.9" fill="#00ba38"/>
<circle cx="96.3" cy="134.2" r="0.9" fill="#00ba38"/>
<circle cx="132.5" cy="139.4" r="0.9" fill="#00ba38"/>
<circle cx="105.7" cy="96.6" r="0.9" fill="#00ba38"/>
<circle cx="164.4" cy="108.1" r="0.9" fill="#00ba38"/>
<circle cx="163.9" cy="108.9" r="0.9" fill="#00ba38"/>
<circle cx="126.5" cy="146.7" r="0.9" fill="#00ba38"/>
<circle cx="109.7" cy="98.2" r="0.9" fill="#00ba38"/>
<circle cx="101" cy="169.5" r="0.9" fill="#00ba38"/>
<circle cx="160.8" cy="105.6" r="0.9" fill="#00ba38"/>
<circle cx="117.4" cy="87.7" r="0.9" fill="#00ba38"/>
<circle cx="132.7" cy="138.7" r="0.9" fill="#00ba38"/>
<circle cx="119.7" cy="153.5" r="0.9" fill="#00ba38"/>
<circle cx="92.5" cy="140.5" r="0.9" fill="#00ba38"/>
<circle cx="155.4" cy="113.6" r="0.9" fill="#00ba38"/>
<circle cx="137" cy="93.8" r="0.9" fill="#00ba38"/>
<circle cx="79.5" cy="151.1" r="0.9" fill="#00ba38"/>
<circle cx="89.3" cy="156.2" r="0.9" fill="#00ba38"/>
<circle cx="150.4" cy="95.2" r="0.9" fill="#00ba38"/>
<circle cx="145" cy="131.3" r="0.9" fill="#00ba38"/>
<circle cx="38" cy="117.1" r="0.9" fill="#00bfc4"/>
<circle cx="45.9" cy="94.4" r="0.9" fill="#00bfc4"/>
<circle cx="41.4" cy="104.9" r="0.9" fill="#00bfc4"/>
<circle cx="68.2" cy="146.1" r="0.9" fill="#00bfc4"/>
<circle cx="49.4" cy="96.7" r="0.9" fill="#00bfc4"/>
<circle cx="79.2" cy="138.7" r="0.9" fill="#00bfc4"/>
<circle cx="44.1" cy="116.9" r="0.9" fill="#00bfc4"/>
<circle cx="53.8" cy="92.9" r="0.9" fill="#00bfc4"/>
<circle cx="55.4" cy="126.2" r="0.9" fill="#00bfc4"/>
<circle cx="71.2" cy="144.3" r="0.9" fill="#00bfc4"/>
<circle cx="86.9" cy="128.6" r="0.9" fill="#00bfc4"/>
<circle cx="43.4" cy="119.2" r="0.9" fill="#00bfc4"/>
<circle cx="84.1" cy="109.3" r="0.9" fill="#00bfc4"/>
<circle cx="72.1" cy="145.7" r="0.9" fill="#00bfc4"/>
<circle cx="58.3" cy="90.6" r="0.9" fill="#00bfc4"/>
<circle cx="84.8" cy="130.4" r="0.9" fill="#00bfc4"/>
<circle cx="52.2" cy="133.5" r="0.9" fill="#00bfc4"/>
<circle cx="50.3" cy="125.4" r="0.9" fill="#00bfc4"/>
<circle cx="43.2" cy="117.8" r="0.9" fill="#00bfc4"/>
<circle cx="85.1" cy="122.1" r="0.9" fill="#00bfc4"/>
<circle cx="45" cy="122.2" r="0.9" fill="#00bfc4"/>
<circle cx="64" cy="139.7" r="0.9" fill="#00bfc4"/>
<circle cx="44.2" cy="112" r="0.9" fill="#00bfc4"/>
<circle cx="58" cy="133.4" r="0.9" fill="#00bfc4"/>
<circle cx="84" cy="123.8" r="0.9" fill="#00bfc4"/>
<circle cx="39.7" cy="114.3" r="0.9" fill="#00bfc4"/>
<circle cx="52.3" cy="135.8" r="0.9" fill="#00bfc4"/>
<circle cx="57.1" cy="93.9" r="0.9" fill="#00bfc4"/>
<circle cx="76.9" cy="142.8" r="0.9" fill="#00bfc4"/>
<circle cx="84.9" cy="109.7" r="0.9" fill="#00bfc4"/>
<circle cx="112.1" cy="287.8" r="0.9" fill="#b79f00"/>
<circle cx="63" cy="240" r="0.9" fill="#b79f00"/>
<circle cx="92.6" cy="208.8" r="0.9" fill="#b79f00"/>
<circle cx="155.6" cy="263.3" r="0.9" fill="#b79f00"/>
<circle cx="137.5" cy="280.8" r="0.9" fill="#b79f00"/>
<circle cx="90.5" cy="212.5" r="0.9" fill="#b79f00"/>
<circle cx="156.1" cy="259" r="0.9" fill="#b79f00"/>
<circle cx="113.1" cy="286.2" r="0.9" fill="#b79f00"/>
<circle cx="105.7" cy="214.8" r="0.9" fill="#b79f00"/>
<circle cx="66.1" cy="260.9" r="0.9" fill="#b79f00"/>
<circle cx="129.6" cy="280.4" r="0.9" fill="#b79f00"/>
<circle cx="117.1" cy="214.6" r="0.9" fill="#b79f00"/>
<circle cx="90.2" cy="214" r="0.9" fill="#b79f00"/>
<circle cx="154.1" cy="271.5" r="0.9" fill="#b79f00"/>
<circle cx="106" cy="217.6" r="0.9" fill="#b79f00"/>
<circle cx="153.5" cy="272.5" r="0.9" fill="#b79f00"/>
<circle cx="85.3" cy="279.1" r="0.9" fill="#b79f00"/>
<circle cx="155.5" cy="233.4" r="0.9" fill="#b79f00"/>
<circle cx="88.7" cy="209.9" r="0.9" fill="#b79f00"/>
<circle cx="148.9" cy="226.7" r="0.9" fill="#b79f00"/>
<circle cx="150.9" cy="273.4" r="0.9" fill="#b79f00"/>
<circle cx="121.3" cy="220.2" r="0.9" fill="#b79f00"/>
<circle cx="80" cy="283.7" r="0.9" fill="#b79f00"/>
<circle cx="145.5" cy="228.6" r="0.9" fill="#b79f00"/>
<circle cx="61.1" cy="230.1" r="0.9" fill="#b79f00"/>
<circle cx="160.9" cy="246.8" r="0.9" fill="#b79f00"/>
<circle cx="79.2" cy="214.7" r="0.9" fill="#b79f00"/>
<circle cx="160.8" cy="257.3" r="0.9" fill="#b79f00"/>
<circle cx="161.9" cy="263.4" r="0.9" fill="#b79f00"/>
<circle cx="65" cy="257.2" r="0.9" fill="#b79f00"/>
<path transform="scale(.5)" d="M121 187h0m-8-1h0m-3 1h0m-15 10h0m7-2h0m7 4h0m7-3h0m3 2h0m5 1h0m7-7h0m12 3h0m1 0h0m6 5h0m-12 4h0m-9 3h0m-2 0h0m-1-6h0m-6 6h0m-18-2h0m-4 0h0m-7-4h0m4 8h0m0 2h0m4-2h0m1 4h0m1-3h0m2 1h0m2 4h0m11-3h0m4 2h0m3-5h0m6 2h0m1-2h0m3 6h0m23-5h0m5 5h0m210 7h0m-5-1h0m0 0h0m-14 1h0m-3-4h0m-191 1h0m-7 1h0m-16 2h0m-1-2h0m-8 2h0m0-5h0m-2 5h0m-3-2h0m0 1h0m-8 2h0m-6-6h0m-4 6h0m-3-4h0m-4 4h0m-1-1h0m-1 1h0m-6 7h0m1 1h0m5-5h0m4 0h0m5 2h0m0 1h0m2-5h0m3 2h0m4-1h0m5 0h0m15 4h0m12-1h0m13-3h0m170 6h0m7-2h0m7 1h0m7-6h0m12 4h0m1 2h0m2 0h0m1 0h0m6 1h0m10 0h0m5 0h0m5-1h0m8 9h0m-1-5h0m0 5h0m-9-4h0m-4-1h0m-9 0h0m-2 0h0m-4 4h0m0-2h0m-8 0h0m-8 2h0m-9-2h0m-5-3h0m-2 1h0m-1 2h0m-14 2h0m-2 0h0m-163-3h0m-1-1h0m-9-2h0m0 0h0m-4 7h0m-2-4h0m-10 4h0m-1-6h0m-2-1h0m-1 5h0m-2 2h0m0-2h0m-7 1h0m-7-5h0m-2 5h0m-1-5h0m-4 3h0m-2 2h0m-4 1h0m0-5h0m0 5h0m8 5h0m0 0h0m1-3h0m1 3h0m3 2h0m2-2h0m3 1h0m3 0h0m2 2h0m0-4h0m1-1h0m5-1h0m7-1h0m1 6h0m0-1h0m1-4h0m2 4h0m23 2h0m154-2h0m4-1h0m10-1h0m5 2h0m5 1h0m0-1h0m12-3h0m12 1h0m0 2h0m5 0h0m5-1h0m1-3h0m2 6h0m2-6h0m20 5h0m2 1h0m3-4h0m3-2h0m3 6h0m0 0h0m1 0h0m7-2h0m2 2h0m9 8h0m-8-2h0m-3 2h0m-5-4h0m0 3h0m-6 0h0m-6-3h0m-1-2h0m-5 3h0m-1 2h0m-10 0h0m-3 1h0m-6-7h0m-9 1h0m-1 4h0m-1-5h0m0 2h0m0 1h0m-7 3h0m-7-6h0m-3 0h0m-11 6h0m-1-1h0m-6-1h0m-20-3h0m-6 6h0m-139 0h0m-2-6h0m-8-1h0m-6 1h0m-23 3h0m-9 2h0m0-1h0m-3-2h0m-1-1h0m-2 2h0m10 4h0m6 6h0m1-1h0m0-1h0m3-4h0m4 2h0m9 1h0m1-1h0m17-2h0m0 6h0m3 0h0m5 1h0m0-3h0m128 2h0m7-1h0m7-3h0m1 1h0m0 4h0m7-2h0m6 0h0m4-3h0m5 1h0m1-2h0m9 5h0m1-6h0m2 2h0m12 1h0m0-1h0m2-1h0m2 5h0m3-4h0m5-2h0m10 4h0m4-1h0m1 4h0m0-5h0m6 4h0m5-4h0m3 2h0m11-2h0m0-1h0m7 0h0m0 6h0m7-4h0m7 3h0m1-1h0m3-4h0m9 6h0m2 0h0m1-1h0m-5 5h0m-1 0h0m-2 1h0m-6 1h0m-4 0h0m-14-1h0m-9 1h0m-3-4h0m-1-1h0m-3 1h0m-3 0h0m-7 2h0m0 0h0m-1 0h0m-3 4h0m0-3h0m0 2h0m-3-2h0m0 2h0m-4-3h0m0 3h0m-6 0h0m0-6h0m-6 0h0m-1 3h0m-19 0h0m-3-2h0m-3 0h0m-3 0h0m-2 4h0m0-2h0m-23-2h0m-2 3h0m0 1h0m-1-4h0m-4 0h0m-4 5h0m-3-3h0m-10 3h0m-4 0h0m-119-6h0m-4 5h0m-1-1h0m-2-4h0m-2 4h0m-7 2h0m-5-3h0m-12 3h0m-6 1h0m-2-2h0m-1 0h0m5 3h0m12 7h0m1-1h0m4 0h0m1-6h0m0 6h0m2 0h0m1 0h0m125-1h0m7 2h0m2 0h0m2-5h0m4 2h0m9-2h0m1 4h0m3 1h0m2-2h0m1-3h0m1-1h0m0-1h0m2 4h0m5-1h0m18 0h0m0 4h0m0 0h0m4-7h0m3 7h0m2-6h0m0 6h0m5-3h0m6-4h0m5 0h0m3 7h0m1-7h0m2 7h0m6-6h0m6 2h0m1 0h0m1 1h0m3 2h0m0 1h0m13-1h0m3-3h0m11 4h0m8-7h0m3 2h0m2 5h0m2-4h0m5 0h0m2 1h0m0-4h0m3 3h0m5-1h0m7 2h0m4-2h0m13 5h0m1 0h0m12 7h0m-1-4h0m0 0h0m-1 0h0m-5 2h0m-10 1h0m-1-4h0m-4-1h0m-1 2h0m0 3h0m-3 0h0m-16 2h0m0-4h0m-7 3h0m-2-6h0m-3 7h0m-4-2h0m-1 0h0m0 2h0m-1-4h0m-1 2h0m-1-3h0m-2 2h0m0 0h0m-4-4h0m-3 1h0m0 0h0m-7 2h0m-5-3h0m-2 3h0m-2 4h0m-7-1h0m-7-1h0m-8 2h0m-2-6h0m-2 3h0m-3 2h0m-13-2h0m-1-4h0m-13 2h0m-8-2h0m-2 2h0m-16 5h0m-1-7h0m-3 3h0m-3 2h0m-4-3h0m-1 0h0m0-1h0m-2 5h0m-5-5h0m0 6h0m-7-1h0m-7-4h0m-10 5h0m-118-2h0m-3 1h0m-2-5h0m-4 2h0m125 9h0m0-2h0m2 2h0m3-4h0m4 7h0m3-2h0m3-1h0m2-2h0m5 0h0m6 0h0m3 3h0m14-4h0m10 3h0m23 3h0m4-6h0m2 6h0m2-2h0m15-3h0m17 5h0m0-7h0m5 3h0m4 4h0m5-5h0m5-2h0m1 0h0m7 4h0m2-3h0m1 2h0m21 3h0m3-3h0m6-3h0m6 5h0m9-5h0m6 1h0m6 5h0m2 1h0m3-3h0m12 4h0m-2 3h0m-1 1h0m-4-2h0m-1 3h0m-5-5h0m-1 1h0m-3 2h0m-14 4h0m0-5h0m0 2h0m-6 2h0m-1-3h0m-4 0h0m0-1h0m-1-1h0m-10-1h0m-2 3h0m-1 1h0m0 0h0m-8 2h0m-3-1h0m-5 2h0m-5-6h0m-13-1h0m-11 3h0m-1 4h0m-9-3h0m-1 1h0m-4-1h0m-3-4h0m0 1h0m-2 6h0m0-6h0m-6 2h0m-3 0h0m-2 0h0m-2 3h0m0 1h0m-6-4h0m-1 4h0m-5-6h0m-1 2h0m-2 2h0m-3 0h0m0-1h0m-1-4h0m-6 7h0m-2-4h0m-4 4h0m0-5h0m-2 2h0m0 0h0m-5-1h0m-1-2h0m-14 5h0m-1-6h0m-3 6h0m0 0h0m-9-3h0m-7-2h0m-9 2h0m-2 1h0m-2-4h0m-10 7h0m-2-3h0m-1 8h0m2-3h0m7 4h0m1-4h0m3 5h0m6 0h0m2-4h0m11 2h0m1 0h0m1-1h0m1 3h0m1-4h0m5 5h0m4-5h0m3 3h0m2 1h0m2-5h0m0 2h0m7 4h0m2-1h0m1 0h0m4-6h0m2 1h0m1 6h0m4-2h0m2 1h0m4 0h0m9 1h0m6-7h0m4 2h0m3 4h0m3-5h0m2-1h0m4 2h0m3 2h0m12-4h0m10 0h0m6 1h0m0 4h0m3 1h0m4-1h0m7-5h0m3 2h0m0 0h0m16 1h0m16-2h0m3 4h0m2-5h0m4 4h0m4-1h0m1-3h0m3 7h0m2-3h0m1 1h0m3 2h0m3-7h0m2 1h0m1 3h0m0 3h0m2-4h0m9 4h0m4-1h0m1-2h0m6-1h0m0 0h0m1 3h0m-4 4h0m-10 4h0m-1 1h0m0-5h0m-12-1h0m-6 1h0m-1 0h0m-4 3h0m-4-3h0m-1 0h0m-4 1h0m-8-1h0m-3 0h0m0 0h0m-4-2h0m-3 5h0m0-5h0m-3 4h0m0 1h0m-3-5h0m-1 7h0m-1-2h0m-10 2h0m-1-2h0m-6-4h0m-1 0h0m-1 4h0m-3-5h0m-1 7h0m-14-6h0m-3 0h0m-3 1h0m-10 2h0m-12-3h0m-1 3h0m0 0h0m-8 3h0m-2-6h0m0 5h0m-1-4h0m-17-2h0m-1 1h0m0-1h0m-5 3h0m-16 4h0m-6-2h0m-2-1h0m-2 3h0m-7 0h0m0-4h0m-12-2h0m-4 3h0m-3 0h0m-11 1h0m-2-1h0m-3-2h0m0 0h0m-6 0h0m-8 2h0m0 1h0m-13 9h0m9-6h0m1 1h0m4 3h0m13 2h0m1-5h0m5 0h0m1 3h0m5-1h0m3 1h0m1 1h0m1-4h0m2 1h0m3 5h0m1-3h0m0-4h0m1 3h0m0 4h0m4 0h0m1-3h0m6-3h0m3 1h0m1-1h0m2 0h0m2 3h0m2-3h0m1 1h0m3-1h0m7 6h0m18-4h0m8-2h0m4 2h0m0 2h0m6-1h0m0 1h0m1 0h0m3 1h0m1 1h0m7-6h0m2 2h0m0-2h0m1 1h0m8 3h0m4-4h0m4 6h0m3-2h0m9-3h0m1 5h0m9-5h0m1-2h0m1 6h0m2-4h0m1 4h0m3-2h0m2-4h0m3 4h0m1 0h0m1-3h0m6-1h0m1 5h0m5 2h0m2 0h0m3-5h0m6 3h0m3-3h0m1 2h0m12-2h0m6 3h0m6-2h0m7 4h0m1-3h0m0-2h0m3 3h0m5-4h0m4 0h0m13 6h0m1-7h0m3 5h0m2 9h0m-1-3h0m0-3h0m-2 1h0m-47 5h0m-4-1h0m-1-3h0m-6 4h0m-7-6h0m-4 4h0m-5 2h0m0-6h0m-2 1h0m-3 0h0m-10 4h0m-10-2h0m0 2h0m-1 2h0m-6-5h0m-3-2h0m-3 6h0m-1 0h0m-12-3h0m-9 1h0m-5-3h0m-12 2h0m-3-3h0m-1 4h0m-4-3h0m-8 1h0m-6 5h0m-4-6h0m-4 6h0m-1-2h0m0-2h0m-8 1h0m-5-4h0m-1 1h0m-12 4h0m-1-1h0m-5-2h0m-5 4h0m0-3h0m-3 4h0m-8 0h0m-1-3h0m-14-2h0m-2 5h0m-3-4h0m0-3h0m-6 7h0m-4-1h0m-5-4h0m-4 0h0m-1-1h0m-2 4h0m-7-1h0m-13 2h0m-7 3h0m0 4h0m4 0h0m2 1h0m2 0h0m4-5h0m9 0h0m0 5h0m7-2h0m2 0h0m3 1h0m0-1h0m0-4h0m3 1h0m4 1h0m3-1h0m9 3h0m2-2h0m4-2h0m2 7h0m13-2h0m9-3h0m4 5h0m3 0h0m3-4h0m0 3h0m1-5h0m1 0h0m3 1h0m2-1h0m2 4h0m0 1h0m3-2h0m5 0h0m0-4h0m10 7h0m0-3h0m4 0h0m5-1h0m5-3h0m1 5h0m3 1h0m5 0h0m3-2h0m1 0h0m5-3h0m6 1h0m9-1h0m6 4h0m2-4h0m2 6h0m23-5h0m1-2h0m2 1h0m3-1h0m1 5h0m3-5h0m6 1h0m4 3h0m0-1h0m3 0h0m6-2h0m4 5h0m3 0h0m3-3h0m1 0h0m0-2h0m1 1h0m7 1h0m1 0h0m6 1h0m1-3h0m7 2h0m5-1h0m4 0h0m8-1h0m0 6h0m3-3h0m8 2h0m0 0h0m2-3h0m2 2h0m0-2h0m12 2h0m-1 5h0m-9-2h0m-5 5h0m-6-5h0m-2 5h0m-1-5h0m-4 2h0m-7 0h0m-4 1h0m-1 3h0m-13-3h0m-4-3h0m-4 0h0m-16 6h0m-1-3h0m-2 3h0m-3-2h0m-6 3h0m-1 0h0m-8-4h0m-15-3h0m-2 6h0m-2 1h0m-4-4h0m-4-2h0m0 3h0m-4-2h0m-7 4h0m-15-4h0m-1 1h0m-1 4h0m-5-6h0m-5 3h0m-2 0h0m-1-1h0m-2-2h0m-8 6h0m-7-4h0m-3 0h0m-7 0h0m-2 3h0m-2-4h0m-2 3h0m-4-5h0m-1 0h0m-5 3h0m-2 2h0m-2 0h0m-1 2h0m-4-4h0m-7 0h0m-5-1h0m-1 1h0m-1 4h0m-16-5h0m-5 1h0m-4 0h0m-7 2h0m0-3h0m-1 0h0m-10 1h0m-4-2h0m-2 3h0m-4-2h0m-2 2h0m-4-2h0m-2 5h0m-3-7h0m-3 4h0m-7-4h0m-5 1h0m-16 14h0m2-7h0m3 7h0m13-7h0m2 4h0m2 0h0m3 1h0m2-3h0m4 4h0m2-6h0m3 2h0m5 4h0m12-5h0m4 0h0m3 1h0m1-1h0m12 2h0m0-3h0m2 6h0m8-1h0m2-2h0m3-3h0m14 2h0m4 4h0m10-4h0m4-2h0m6 6h0m6 1h0m2-2h0m4-3h0m12 1h0m14 4h0m2-5h0m5 2h0m4 3h0m7-6h0m1 5h0m2-2h0m2-4h0m2 0h0m1 5h0m1 1h0m2-6h0m5 0h0m3 4h0m19 0h0m3-4h0m7 7h0m8-2h0m3-4h0m5 1h0m6-2h0m1 3h0m1-3h0m1 1h0m7-1h0m0 6h0m2-6h0m1 4h0m1-3h0m0 1h0m2 3h0m15-2h0m2-2h0m2-1h0m0 3h0m7 3h0m1-3h0m1-3h0m6 1h0m4 2h0m1 1h0m2 2h0m14-6h0m1 3h0m-13 5h0m-5 4h0m-2-3h0m-11 6h0m-1-1h0m0-4h0m-6 4h0m0-3h0m-9 3h0m-1-5h0m-10 4h0m-4 0h0m-9-4h0m-5 1h0m0 2h0m-3 3h0m0 0h0m-8-7h0m-3 6h0m-7-3h0m-1-3h0m-1 0h0m-3 3h0m-1-2h0m-3 2h0m0 4h0m-5-4h0m-1-3h0m-6 5h0m-5 1h0m-11-1h0m-1-3h0m-9 3h0m0 0h0m-7-1h0m-3-2h0m-9 4h0m-9-4h0m-8 1h0m0 3h0m-4-4h0m-2-1h0m-1 1h0m-3-1h0m-8-1h0m-6 5h0m-10-5h0m-2 5h0m-1 0h0m-2-2h0m-4 1h0m0 0h0m-11-4h0m-6 0h0m-3 7h0m-7-1h0m-5-1h0m-3-5h0m-2 4h0m0 1h0m-3-3h0m-4 0h0m-1-2h0m0 6h0m0 0h0m-1-6h0m-4 2h0m-1 2h0m0 3h0m-5-2h0m-3-2h0m-5 2h0m-4-1h0m-1 2h0m-2-3h0m-1 1h0m-2-4h0m-1 1h0m-3 2h0m-3 4h0m0-1h0m-1-3h0m-1 4h0m-4-7h0m-2 0h0m-12 1h0m2 11h0m0 3h0m1 0h0m1-4h0m3 2h0m5 1h0m1 0h0m40-2h0m3 2h0m2-4h0m0 1h0m3 0h0m5 0h0m5 0h0m2 1h0m16-3h0m7 6h0m1-7h0m12 6h0m1-1h0m14-2h0m4 2h0m0-5h0m4 6h0m1-2h0m4 3h0m9-6h0m13 3h0m1-2h0m5 3h0m3 2h0m2-7h0m4 1h0m6 5h0m17-6h0m3 3h0m2 3h0m22 1h0m3-3h0m0-2h0m2 0h0m2 0h0m1 2h0m2-3h0m5 1h0m0 2h0m3 2h0m9-3h0m0 3h0m5 0h0m5-2h0m6 3h0m3-3h0m7 0h0m2 2h0m4-3h0m18-3h0m1 3h0m1 3h0m4 0h0m5 1h0m4 2h0m-6 4h0m-5-5h0m-4 6h0m-5-1h0m-13 1h0m-1-2h0m-1-4h0m-4 5h0m0-3h0m0 4h0m-3 0h0m-3-1h0m-3-1h0m-3-4h0m-9 0h0m-4 7h0m0-5h0m-2 5h0m-8-5h0m0 3h0m-1-3h0m-5 3h0m-11-5h0m-1 1h0m-18 3h0m0-2h0m-3 2h0m0-4h0m-2 7h0m-11-2h0m-7 1h0m-4 0h0m-6 0h0m-10-5h0m-6 2h0m-1 3h0m-16 0h0m-12-1h0m-1-5h0m-5 2h0m-19 0h0m0 5h0m-3-7h0m-26 3h0m-4 1h0m-4-4h0m-4 5h0m-9-2h0m-13 0h0m-14 1h0m-3-4h0m-4 6h0m-2-6h0m-4 2h0m-2 3h0m-5 1h0m-1-4h0m-4 4h0m4 6h0m3 3h0m3-5h0m0 2h0m12 0h0m18 0h0m16-2h0m5 5h0m1-5h0m6 2h0m7-3h0m3 4h0m0 1h0m5-3h0m15-3h0m5 1h0m6 2h0m3-3h0m0 3h0m7 2h0m0-1h0m2-2h0m1-1h0m18 6h0m3-3h0m0 2h0m7 1h0m0 0h0m1-6h0m13 2h0m2-3h0m6 5h0m3 1h0m3 1h0m2-4h0m5 4h0m3-5h0m8 0h0m9 0h0m4 2h0m0-1h0m5-3h0m1 2h0m13 4h0m9 1h0m2-5h0m0 3h0m0 1h0m5 0h0m1-3h0m0-1h0m8 4h0m0 1h0m1-7h0m1 2h0m0 5h0m2-3h0m3 2h0m2-6h0m17 0h0m0 3h0m3-2h0m2 5h0m1-1h0m3 2h0m4-1h0m1 1h0m4-7h0m6 2h0m-4 12h0m-11-5h0m-4-1h0m-1 3h0m-2 3h0m-1-3h0m-4 1h0m-8-2h0m-6-2h0m-3 1h0m-1 1h0m-3-2h0m-4 3h0m0 1h0m-11 2h0m-2 0h0m-4 0h0m-8-5h0m-9 1h0m-6 4h0m-1-3h0m0-2h0m-2 5h0m-6-5h0m-3-1h0m-3 4h0m-9 0h0m-5-1h0m-1 0h0m-1 3h0m-2-5h0m-11 2h0m-6-2h0m-13 0h0m-20 0h0m-3 4h0m-12-1h0m-9-3h0m-5 2h0m-2 4h0m-1 0h0m-2 0h0m-2-2h0m-1 2h0m-3-4h0m-2-2h0m-1-1h0m-1 7h0m-7-6h0m-2-1h0m-6 3h0m-5 0h0m-2-3h0m-5 4h0m0-2h0m-2 2h0m-4 3h0m-11-7h0m-4 3h0m-1 1h0m0 1h0m-2-3h0m-2 3h0m-12-5h0m0 0h0m-5 6h0m-2-3h0m-2-3h0m5 10h0m2 2h0m2 3h0m6-6h0m8 2h0m1 4h0m19-4h0m3-3h0m3 7h0m2 0h0m2-4h0m4 2h0m5 1h0m7-3h0m0 3h0m4-5h0m3 6h0m4-5h0m0 0h0m3 2h0m20-1h0m2-1h0m11 0h0m5-1h0m2 3h0m8 0h0m13 2h0m7-5h0m2 2h0m1 4h0m7-2h0m1 2h0m2-2h0m10-2h0m13 4h0m14-5h0m2-2h0m1 2h0m0 2h0m8-2h0m2-1h0m0 4h0m7 2h0m12-1h0m8-6h0m1 3h0m3 1h0m1-3h0m2 1h0m0 1h0m1-1h0m7 2h0m6 2h0m7-6h0m4 0h0m1 2h0m9-2h0m-9 10h0m0 4h0m-4-2h0m-2-3h0m0-1h0m0 5h0m-1-4h0m-16 2h0m-1 3h0m-7-6h0m-5 5h0m-10 1h0m0-2h0m-8-3h0m-1 4h0m-3-3h0m-6-1h0m-2 6h0m-5-6h0m-1 3h0m-1-4h0m-4 3h0m-3-2h0m-5 2h0m-9 4h0m-1-1h0m-2 1h0m-3-2h0m-3-3h0m-4 5h0m-8 0h0m-1-4h0m-8 0h0m-3-1h0m-1-2h0m-3 1h0m-1 2h0m-4 2h0m-4 2h0m-5-7h0m-2 2h0m-15 3h0m-2-4h0m-2 0h0m-2 1h0m0 4h0m-1-5h0m-3 5h0m-2-3h0m-3 0h0m-5 1h0m-6 0h0m-3 1h0m-1-1h0m-4-3h0m-2 2h0m-12 2h0m-14 2h0m-4-7h0m-1 2h0m-8 2h0m-5 3h0m-5-5h0m-1 2h0m-1-1h0m-7 1h0m-1-4h0m0 5h0m-1 1h0m-1-6h0m10 9h0m14 5h0m4-3h0m0 0h0m2-1h0m8 1h0m4 0h0m0-2h0m5 6h0m1-1h0m5-2h0m7 0h0m8 1h0m2-3h0m4 0h0m2 1h0m2 2h0m1-4h0m2-1h0m1 5h0m1 1h0m4-3h0m5-2h0m10 0h0m1 1h0m1 4h0m3 1h0m13-3h0m2 2h0m1-4h0m0-2h0m8 2h0m0 1h0m1 1h0m12 3h0m1-4h0m1 2h0m2 0h0m4-1h0m1 2h0m2-6h0m0 2h0m2 0h0m1-1h0m2 5h0m3-2h0m5-3h0m0 4h0m5-1h0m2-4h0m6 3h0m2 0h0m1-1h0m1 4h0m3-2h0m1-3h0m0 5h0m2-4h0m2-2h0m6 1h0m0 0h0m1-1h0m6 4h0m2-4h0m1 3h0m3 4h0m5-7h0m0 0h0m12 5h0m6 2h0m9-5h0m-10 11h0m-12 0h0m-2-1h0m0-1h0m-7-3h0m-3 3h0m-8 0h0m-1-2h0m-2 2h0m-2-1h0m0-1h0m-2 1h0m-2 1h0m-1-3h0m-19 1h0m-2 6h0m-6-3h0m-2 1h0m-16 2h0m-2-2h0m-3-5h0m-5 5h0m-10-1h0m-1 0h0m-3 2h0m-4-4h0m-9 4h0m-4 0h0m-1-2h0m-6 1h0m-15 0h0m-9-4h0m-6 0h0m-8 4h0m-2 2h0m0-6h0m-8 0h0m0 0h0m-6-1h0m-1 4h0m-44 3h0m-25-2h0m-7 2h0m-2-1h0m-27 6h0m11-4h0m4 6h0m36-6h0m4 3h0m15-2h0m6 2h0m69 1h0m1-1h0m2 1h0m1-2h0m8 4h0m3-5h0m1 6h0m4-2h0m1-2h0m6-2h0m9-1h0m4 7h0m5-3h0m3 1h0m7-4h0m14 3h0m2-1h0m2 2h0m4-4h0m0 3h0m1-4h0m3 7h0m8-6h0m2 6h0m18-2h0m0-3h0m1 1h0m2 3h0m0-5h0m2 0h0m2 1h0m1 0h0m2 3h0m1-5h0m3 5h0m0 2h0m12-7h0m-4 10h0m-4-1h0m-1 1h0m-1 0h0m-10-1h0m0 3h0m-8 2h0m-5-2h0m-1-3h0m0-1h0m-14 1h0m-28 4h0m-7-4h0m-2 5h0m-8-4h0m-1 4h0m0-5h0m-14 2h0m-2-3h0m-55 7h0m-20 0h0m-16-7h0m-8 2h0m-11 4h0m-27-4h0m-9 5h0m-4-4h0m-22 2h0m-6 8h0m6 1h0m41 0h0m4-2h0m43 2h0m30-2h0m88-3h0m7 1h0m21-1h0m3 1h0m-92 11h0m-14-1h0m-4 3h0m-1-4h0m-14-2h0m-3 5h0m-4-2h0m-3 0h0m-11 0h0m0 1h0m-1 2h0m-7-1h0m-5-5h0m-8 1h0m-7-2h0m-7 3h0m-7 3h0m-8 1h0m-21-1h0m-1-4h0m-10 3h0m-9 10h0m26-6h0m4 1h0m5 1h0m3 0h0m6 0h0m13-3h0m7 0h0m3 3h0m16 2h0m37-4h0m20 5h0m19-4h0m2 4h0m-1 6h0m-8-2h0m-6 5h0m-5-6h0m-2-1h0m-11 2h0m0 0h0m-1 3h0m-29 0h0m-8-5h0m-4 3h0m-2 0h0m-7 0h0m-43-2h0m-10 0h0m-11 4h0m-5-3h0m-23 3h0m12 8h0m32-5h0m21 5h0m20-2h0m47-2h0m27 2h0m4-2h0m1 6h0m18 6h0m-3-3h0m-16-2h0m-18 3h0m-2-1h0m-23-1h0m-10 2h0m-7 4h0m-3-2h0m-46 0h0m-33 0h0m-3 2h0m-2 0h0m7 5h0m11-3h0m23 2h0m50-3h0m6 1h0m23 0h0m7 5h0m7-2h0m19 2h0m12 7h0m-1 1h0m-27-2h0m-16 2h0m-36 0h0m-1 1h0m-15 0h0m-9-1h0m-11-6h0m-5 7h0m-21-5h0m-2-2h0m-11 6h0m-14-2h0m-2-3h0m10 12h0m9 1h0m14-2h0m1 1h0m15-5h0m40 7h0m1-2h0m8-4h0m0 3h0m55 0h0m2-1h0m22 3h0m-14 4h0m-7 4h0m-29-4h0m-2 5h0m-26-7h0m-2 1h0m-4-1h0m-5 0h0m-14 4h0m-10 2h0m-1-3h0m-2 4h0m-19-7h0m-2 5h0m0-1h0m-23-2h0m-5-2h0m-2 7h0m19 4h0m42 3h0m0-5h0m5 1h0m4 5h0m51-5h0m12 5h0m1-4h0m3 2h0m14-2h0m-4 7h0m-4 4h0m-7 1h0m-4-1h0m-21-3h0m-13 0h0m-20 1h0m-1 3h0m-1-6h0m-20 4h0m-5 2h0m-5-6h0m-14 1h0m-4-1h0m-1 4h0m-8 7h0m2-4h0m50 1h0m9 0h0m11 5h0m3-1h0m18-1h0m1-4h0m12 1h0m19 1h0m-7 7h0m-4 1h0m-4 0h0m-13 4h0m-8-5h0m-2 5h0m-34-4h0m-35 3h0m27 5h0m12 0h0m36-1h0" stroke="#ffffff" stroke-width="2.4" stroke-linecap="round" stroke-opacity="0.85"/>
<path transform="scale(.5)" d="M249 178h0m3 2h0m-137 11h0m102 4h0m6 4h0m62 4h0m-19 2h0m-117-4h0m-60 3h0m-5 10h0m16-2h0m5 0h0m5-3h0m36 6h0m93 0h0m29 0h0m12 6h0m-142-2h0m-54 4h0m6 8h0m34-3h0m40-2h0m78 3h0m-136 3h0m-5 9h0m150 5h0m44 3h0m-39 2h0m-52-2h0m-17 1h0m-79 0h0m3 13h0m28-2h0m100-2h0m-50 8h0m-35 2h0m-1-5h0m-7 0h0m-7 6h0m-1 4h0m19 4h0m52-5h0m15 5h0m26-2h0m-9 8h0m-41-2h0m-6 4h0m-55-5h0m104 13h0m1-3h0m-75 140h0m102 16h0m-89 1h0m29 4h0m89 8h0m-21-4h0m-60 5h0m7 9h0m73 5h0m-14 0h0m-3-2h0m-26 1h0m-102 7h0m104-1h0m-12 11h0m-9-1h0m-101 8h0m47-1h0m22 3h0m88 14h0m-51 7h0m-9 17h0m-4 8h0m15 18h0m-6 5h0" stroke="#f8766d" stroke-width="4" stroke-linecap="round"/>
<circle cx="29" cy="180" r="1" fill="#f8766d"/>
<text x="177.1" y="176.9" font-size="12" text-anchor="middle" stroke="#000" stroke-width="0.22">0</text>
<text x="104.7" y="258.6" font-size="12" text-anchor="middle" stroke="#000" stroke-width="0.22">1</text>
<text x="121" y="127.8" font-size="12" text-anchor="middle" stroke="#000" stroke-width="0.22">2</text>
<text x="62" y="119.3" font-size="12" text-anchor="middle" stroke="#000" stroke-width="0.22">3</text>
<text x="71" y="187.9" font-size="12" text-anchor="middle" stroke="#000" stroke-width="0.22">4</text>
<text x="13" y="177.3" font-size="12" text-anchor="middle" stroke="#000" stroke-width="0.22">5</text>
<line x1="260" y1="78" x2="335.5" y2="78" stroke="#000" stroke-width="1.6"/>
<text x="260.2" y="92" font-size="13" stroke="#000" stroke-width="0.22">Cluster</text>
<text x="312.6" y="92" font-size="13" stroke="#000" stroke-width="0.22">No.</text>
<line x1="260" y1="97.2" x2="335.5" y2="97.2" stroke="#000" stroke-width="1.6"/>
<circle cx="265.8" cy="108.4" r="3.3" fill="#f8766d"/>
<text x="283" y="113" font-size="13" text-anchor="middle" stroke="#000" stroke-width="0.22">0</text>
<text x="303.6" y="113" font-size="13" stroke="#000" stroke-width="0.22">6,054</text>
<circle cx="265.8" cy="124.9" r="3.3" fill="#b79f00"/>
<text x="283" y="129.5" font-size="13" text-anchor="middle" stroke="#000" stroke-width="0.22">1</text>
<text x="303.6" y="129.5" font-size="13" stroke="#000" stroke-width="0.22">2,147</text>
<circle cx="265.8" cy="141.4" r="3.3" fill="#00ba38"/>
<text x="283" y="146" font-size="13" text-anchor="middle" stroke="#000" stroke-width="0.22">2</text>
<text x="303.6" y="146" font-size="13" stroke="#000" stroke-width="0.22">826</text>
<circle cx="265.8" cy="157.9" r="3.3" fill="#00bfc4"/>
<text x="283" y="162.5" font-size="13" text-anchor="middle" stroke="#000" stroke-width="0.22">3</text>
<text x="303.6" y="162.5" font-size="13" stroke="#000" stroke-width="0.22">499</text>
<circle cx="265.8" cy="174.4" r="3.3" fill="#619cff"/>
<text x="283" y="179" font-size="13" text-anchor="middle" stroke="#000" stroke-width="0.22">4</text>
<text x="303.6" y="179" font-size="13" stroke="#000" stroke-width="0.22">70</text>
<circle cx="265.8" cy="190.9" r="3.3" fill="#f564e3"/>
<text x="283" y="195.5" font-size="13" text-anchor="middle" stroke="#000" stroke-width="0.22">5</text>
<text x="303.6" y="195.5" font-size="13" stroke="#000" stroke-width="0.22">25</text>
<line x1="260" y1="200.6" x2="335.5" y2="200.6" stroke="#000" stroke-width="1.6"/>
<text x="344.3" y="16.3" font-size="13" stroke="#000" stroke-width="0.22">C</text>
<text x="461.2" y="12" font-size="13" text-anchor="middle" stroke="#000" stroke-width="0.22">Identity</text>
<rect x="397.2" y="15.3" width="60.6" height="9.2" fill="#8b1a1a" stroke="#222" stroke-width="0.6"/>
<rect x="463" y="15.3" width="37.8" height="9.2" fill="#999999" stroke="#222" stroke-width="0.6"/>
<rect x="505.2" y="15.3" width="19" height="9.2" fill="#1e2a80" stroke="#222" stroke-width="0.6"/>
<text x="404.9" y="37" font-size="13" text-anchor="middle" stroke="#000" stroke-width="0.22">0</text>
<text x="427.3" y="37" font-size="13" text-anchor="middle" stroke="#000" stroke-width="0.22">2</text>
<text x="449.7" y="37" font-size="13" text-anchor="middle" stroke="#000" stroke-width="0.22">4</text>
<text x="472.2" y="37" font-size="13" text-anchor="middle" stroke="#000" stroke-width="0.22">1</text>
<text x="494.6" y="37" font-size="13" text-anchor="middle" stroke="#000" stroke-width="0.22">3</text>
<text x="517" y="37" font-size="13" text-anchor="middle" stroke="#000" stroke-width="0.22">5</text>
<rect x="397.4" y="39.2" width="127" height="301.5" fill="#fff"/>
<rect x="397.4" y="39.2" width="127" height="50.2" fill="#ebebeb"/>
<rect x="397.4" y="139.7" width="127" height="50.2" fill="#ebebeb"/>
<rect x="397.4" y="240.2" width="127" height="50.2" fill="#ebebeb"/>
<text x="392.6" y="48" font-size="10" text-anchor="end" fill="#b0202a" stroke="#b0202a" stroke-width="0.22" font-style="italic">Ly6a</text>
<circle cx="404.9" cy="44.4" r="3.5" fill="#813451"/>
<circle cx="427.3" cy="44.4" r="3" fill="#7a3a58"/>
<circle cx="449.7" cy="44.4" r="3.3" fill="#882d4a"/>
<circle cx="472.2" cy="44.4" r="1.1" fill="#2a5a8c"/>
<circle cx="494.6" cy="44.4" r="1.4" fill="#315487"/>
<circle cx="517" cy="44.4" r="2.8" fill="#46487c"/>
<text x="392.6" y="58.1" font-size="10" text-anchor="end" stroke="#000" stroke-width="0.22" font-style="italic">Ankrd55</text>
<circle cx="404.9" cy="54.5" r="3.8" fill="#97203c"/>
<circle cx="427.3" cy="54.5" r="2.4" fill="#733c5e"/>
<circle cx="449.7" cy="54.5" r="2.8" fill="#733c5e"/>
<circle cx="472.2" cy="54.5" r="2.5" fill="#64416b"/>
<circle cx="494.6" cy="54.5" r="1.1" fill="#384d82"/>
<circle cx="517" cy="54.5" r="1.1" fill="#384d82"/>
<text x="392.6" y="68.1" font-size="10" text-anchor="end" stroke="#000" stroke-width="0.22" font-style="italic">Thy1</text>
<circle cx="404.9" cy="64.5" r="3" fill="#882d4a"/>
<circle cx="427.3" cy="64.5" r="2.5" fill="#733c5e"/>
<circle cx="449.7" cy="64.5" r="3" fill="#882d4a"/>
<circle cx="472.2" cy="64.5" r="1" fill="#2a5a8c"/>
<circle cx="494.6" cy="64.5" r="2.8" fill="#64416b"/>
<circle cx="517" cy="64.5" r="1" fill="#41497e"/>
<text x="392.6" y="78.2" font-size="10" text-anchor="end" stroke="#000" stroke-width="0.22" font-style="italic">Cxcl5</text>
<circle cx="404.9" cy="74.6" r="2.8" fill="#9e1a35"/>
<circle cx="427.3" cy="74.6" r="1.2" fill="#64416b"/>
<circle cx="449.7" cy="74.6" r="1" fill="#554577"/>
<circle cx="472.2" cy="74.6" r="1.3" fill="#554577"/>
<circle cx="494.6" cy="74.6" r="0.8" fill="#887c9f"/>
<circle cx="517" cy="74.6" r="0.8" fill="#887c9f"/>
<text x="392.6" y="88.2" font-size="10" text-anchor="end" stroke="#000" stroke-width="0.22" font-style="italic">Wisp2</text>
<circle cx="404.9" cy="84.6" r="4" fill="#813451"/>
<circle cx="427.3" cy="84.6" r="4" fill="#7e3654"/>
<circle cx="449.7" cy="84.6" r="3.8" fill="#46487c"/>
<circle cx="472.2" cy="84.6" r="3.8" fill="#504679"/>
<circle cx="494.6" cy="84.6" r="4" fill="#46487c"/>
<circle cx="517" cy="84.6" r="3" fill="#355085"/>
<text x="392.6" y="98.3" font-size="10" text-anchor="end" stroke="#000" stroke-width="0.22" font-style="italic">Clu</text>
<circle cx="404.9" cy="94.7" r="1.3" fill="#41497e"/>
<circle cx="427.3" cy="94.7" r="3.3" fill="#9e1a35"/>
<circle cx="449.7" cy="94.7" r="1" fill="#41497e"/>
<circle cx="472.2" cy="94.7" r="0.6" fill="#a9adc4"/>
<circle cx="494.6" cy="94.7" r="3.8" fill="#9e1a35"/>
<circle cx="517" cy="94.7" r="1" fill="#41497e"/>
<text x="392.6" y="108.3" font-size="10" text-anchor="end" stroke="#000" stroke-width="0.22" font-style="italic">Nrn1</text>
<circle cx="404.9" cy="104.7" r="1.8" fill="#554577"/>
<circle cx="427.3" cy="104.7" r="3.5" fill="#9e1a35"/>
<circle cx="449.7" cy="104.7" r="1.3" fill="#41497e"/>
<circle cx="472.2" cy="104.7" r="1" fill="#41497e"/>
<circle cx="494.6" cy="104.7" r="2.3" fill="#733c5e"/>
<circle cx="517" cy="104.7" r="1.3" fill="#4b477b"/>
<text x="392.6" y="118.4" font-size="10" text-anchor="end" stroke="#000" stroke-width="0.22" font-style="italic">Cd24a</text>
<circle cx="404.9" cy="114.8" r="2.5" fill="#64416b"/>
<circle cx="427.3" cy="114.8" r="3.8" fill="#9e1a35"/>
<circle cx="449.7" cy="114.8" r="1.8" fill="#3c4a80"/>
<circle cx="472.2" cy="114.8" r="0.8" fill="#7a7fa4"/>
<circle cx="494.6" cy="114.8" r="2.3" fill="#733c5e"/>
<circle cx="517" cy="114.8" r="1.3" fill="#813451"/>
<text x="392.6" y="128.4" font-size="10" text-anchor="end" stroke="#000" stroke-width="0.22" font-style="italic">Serpina3g</text>
<circle cx="404.9" cy="124.8" r="3.5" fill="#733c5e"/>
<circle cx="427.3" cy="124.8" r="4.3" fill="#9e1a35"/>
<circle cx="449.7" cy="124.8" r="3.2" fill="#46487c"/>
<circle cx="472.2" cy="124.8" r="3.2" fill="#64416b"/>
<circle cx="494.6" cy="124.8" r="1.5" fill="#315487"/>
<circle cx="517" cy="124.8" r="2" fill="#4b477b"/>
<text x="392.6" y="138.5" font-size="10" text-anchor="end" stroke="#000" stroke-width="0.22" font-style="italic">Lpl</text>
<circle cx="404.9" cy="134.9" r="2.3" fill="#315487"/>
<circle cx="427.3" cy="134.9" r="3.3" fill="#9e1a35"/>
<circle cx="449.7" cy="134.9" r="2.8" fill="#41497e"/>
<circle cx="472.2" cy="134.9" r="1.3" fill="#315487"/>
<circle cx="494.6" cy="134.9" r="4.3" fill="#902743"/>
<circle cx="517" cy="134.9" r="2.3" fill="#733c5e"/>
<text x="392.6" y="148.5" font-size="10" text-anchor="end" stroke="#000" stroke-width="0.22" font-style="italic">Fhl1</text>
<circle cx="404.9" cy="144.9" r="1.8" fill="#64416b"/>
<circle cx="427.3" cy="144.9" r="1.5" fill="#46487c"/>
<circle cx="449.7" cy="144.9" r="4.5" fill="#9e1a35"/>
<circle cx="472.2" cy="144.9" r="1.8" fill="#64416b"/>
<circle cx="494.6" cy="144.9" r="1.3" fill="#4b477b"/>
<circle cx="517" cy="144.9" r="1.3" fill="#4b477b"/>
<text x="392.6" y="158.6" font-size="10" text-anchor="end" stroke="#000" stroke-width="0.22" font-style="italic">Col8a1</text>
<circle cx="404.9" cy="155" r="4" fill="#64416b"/>
<circle cx="427.3" cy="155" r="3.8" fill="#46487c"/>
<circle cx="449.7" cy="155" r="4.5" fill="#9e1a35"/>
<circle cx="472.2" cy="155" r="3.8" fill="#64416b"/>
<circle cx="494.6" cy="155" r="3.2" fill="#41497e"/>
<circle cx="517" cy="155" r="4" fill="#46487c"/>
<text x="392.6" y="168.6" font-size="10" text-anchor="end" stroke="#000" stroke-width="0.22" font-style="italic">Sod3</text>
<circle cx="404.9" cy="165" r="2.3" fill="#554577"/>
<circle cx="427.3" cy="165" r="1.8" fill="#46487c"/>
<circle cx="449.7" cy="165" r="4.5" fill="#9e1a35"/>
<circle cx="472.2" cy="165" r="2.3" fill="#64416b"/>
<circle cx="494.6" cy="165" r="2.3" fill="#554577"/>
<circle cx="517" cy="165" r="1.8" fill="#504679"/>
<text x="392.6" y="178.7" font-size="10" text-anchor="end" stroke="#000" stroke-width="0.22" font-style="italic">Prelp</text>
<circle cx="404.9" cy="175.1" r="2.8" fill="#6b3e64"/>
<circle cx="427.3" cy="175.1" r="2.3" fill="#46487c"/>
<circle cx="449.7" cy="175.1" r="4.5" fill="#9e1a35"/>
<circle cx="472.2" cy="175.1" r="2.8" fill="#64416b"/>
<circle cx="494.6" cy="175.1" r="2" fill="#4b477b"/>
<circle cx="517" cy="175.1" r="3" fill="#5c4371"/>
<text x="392.6" y="188.7" font-size="10" text-anchor="end" stroke="#000" stroke-width="0.22" font-style="italic">Nupr1</text>
<circle cx="404.9" cy="185.1" r="2.3" fill="#733c5e"/>
<circle cx="427.3" cy="185.1" r="1.8" fill="#46487c"/>
<circle cx="449.7" cy="185.1" r="4.3" fill="#9e1a35"/>
<circle cx="472.2" cy="185.1" r="2.5" fill="#733c5e"/>
<circle cx="494.6" cy="185.1" r="1.5" fill="#384d82"/>
<circle cx="517" cy="185.1" r="1.2" fill="#4b477b"/>
<text x="392.6" y="198.8" font-size="10" text-anchor="end" stroke="#000" stroke-width="0.22" font-style="italic">Lce1g</text>
<circle cx="404.9" cy="195.2" r="0.8" fill="#7a7fa4"/>
<circle cx="427.3" cy="195.2" r="0.8" fill="#7a7fa4"/>
<circle cx="449.7" cy="195.2" r="0.5" fill="#a9adc4"/>
<circle cx="472.2" cy="195.2" r="2" fill="#9e1a35"/>
<circle cx="494.6" cy="195.2" r="0.5" fill="#a9adc4"/>
<circle cx="517" cy="195.2" r="3.8" fill="#9e1a35"/>
<text x="392.6" y="208.8" font-size="10" text-anchor="end" stroke="#000" stroke-width="0.22" font-style="italic">Serpine2</text>
<circle cx="404.9" cy="205.2" r="1.8" fill="#5c4371"/>
<circle cx="427.3" cy="205.2" r="1.5" fill="#41497e"/>
<circle cx="449.7" cy="205.2" r="2.8" fill="#882d4a"/>
<circle cx="472.2" cy="205.2" r="3.3" fill="#9e1a35"/>
<circle cx="494.6" cy="205.2" r="1.5" fill="#3c4a80"/>
<circle cx="517" cy="205.2" r="0.8" fill="#6e87ab"/>
<text x="392.6" y="218.9" font-size="10" text-anchor="end" stroke="#000" stroke-width="0.22" font-style="italic">Tnfaip2</text>
<circle cx="404.9" cy="215.3" r="2.3" fill="#64416b"/>
<circle cx="427.3" cy="215.3" r="1.8" fill="#554577"/>
<circle cx="449.7" cy="215.3" r="2.3" fill="#46487c"/>
<circle cx="472.2" cy="215.3" r="4" fill="#9e1a35"/>
<circle cx="494.6" cy="215.3" r="1.5" fill="#355085"/>
<circle cx="517" cy="215.3" r="2.3" fill="#3c4a80"/>
<text x="392.6" y="228.9" font-size="10" text-anchor="end" stroke="#000" stroke-width="0.22" font-style="italic">Ddit3</text>
<circle cx="404.9" cy="225.3" r="1.5" fill="#733c5e"/>
<circle cx="427.3" cy="225.3" r="0.8" fill="#817ea2"/>
<circle cx="449.7" cy="225.3" r="0.5" fill="#a9adc4"/>
<circle cx="472.2" cy="225.3" r="2.5" fill="#9e1a35"/>
<circle cx="494.6" cy="225.3" r="0.5" fill="#a9adc4"/>
<circle cx="517" cy="225.3" r="0.8" fill="#7a7fa4"/>
<text x="392.6" y="239" font-size="10" text-anchor="end" stroke="#000" stroke-width="0.22" font-style="italic">Tagln</text>
<circle cx="404.9" cy="235.4" r="1.2" fill="#384d82"/>
<circle cx="427.3" cy="235.4" r="1.2" fill="#4b477b"/>
<circle cx="449.7" cy="235.4" r="1" fill="#315487"/>
<circle cx="472.2" cy="235.4" r="2.5" fill="#9e1a35"/>
<circle cx="494.6" cy="235.4" r="2.8" fill="#9e1a35"/>
<circle cx="517" cy="235.4" r="1" fill="#384d82"/>
<text x="392.6" y="249" font-size="10" text-anchor="end" stroke="#000" stroke-width="0.22" font-style="italic">Cenpa</text>
<circle cx="404.9" cy="245.4" r="0.5" fill="#aeacc3"/>
<circle cx="427.3" cy="245.4" r="0.5" fill="#aeacc3"/>
<circle cx="449.7" cy="245.4" r="0.5" fill="#aeacc3"/>
<circle cx="472.2" cy="245.4" r="0.5" fill="#aeacc3"/>
<circle cx="494.6" cy="245.4" r="1.6" fill="#9e1a35"/>
<circle cx="517" cy="245.4" r="0.5" fill="#aeacc3"/>
<text x="392.6" y="259.1" font-size="10" text-anchor="end" stroke="#000" stroke-width="0.22" font-style="italic">Lsm5</text>
<circle cx="404.9" cy="255.5" r="0.8" fill="#817ea2"/>
<circle cx="427.3" cy="255.5" r="1.8" fill="#7a3a58"/>
<circle cx="449.7" cy="255.5" r="0.6" fill="#a9adc4"/>
<circle cx="472.2" cy="255.5" r="0.6" fill="#a9adc4"/>
<circle cx="494.6" cy="255.5" r="3.8" fill="#97203c"/>
<circle cx="517" cy="255.5" r="1.7" fill="#5c4371"/>
<text x="392.6" y="269.1" font-size="10" text-anchor="end" stroke="#000" stroke-width="0.22" font-style="italic">Smc4</text>
<circle cx="404.9" cy="265.5" r="2.5" fill="#554577"/>
<circle cx="427.3" cy="265.5" r="3" fill="#733c5e"/>
<circle cx="449.7" cy="265.5" r="1.2" fill="#355085"/>
<circle cx="472.2" cy="265.5" r="0.8" fill="#7184a9"/>
<circle cx="494.6" cy="265.5" r="4.2" fill="#902743"/>
<circle cx="517" cy="265.5" r="3" fill="#6b3e64"/>
<text x="392.6" y="279.2" font-size="10" text-anchor="end" stroke="#000" stroke-width="0.22" font-style="italic">Stmn1</text>
<circle cx="404.9" cy="275.6" r="2" fill="#4b477b"/>
<circle cx="427.3" cy="275.6" r="2.8" fill="#7a3a58"/>
<circle cx="449.7" cy="275.6" r="1.5" fill="#41497e"/>
<circle cx="472.2" cy="275.6" r="2" fill="#46487c"/>
<circle cx="494.6" cy="275.6" r="3.8" fill="#97203c"/>
<circle cx="517" cy="275.6" r="2" fill="#41497e"/>
<text x="392.6" y="289.2" font-size="10" text-anchor="end" stroke="#000" stroke-width="0.22" font-style="italic">Hmgb2</text>
<circle cx="404.9" cy="285.6" r="3.5" fill="#64416b"/>
<circle cx="427.3" cy="285.6" r="3.2" fill="#733c5e"/>
<circle cx="449.7" cy="285.6" r="3.3" fill="#41497e"/>
<circle cx="472.2" cy="285.6" r="3.2" fill="#5c4371"/>
<circle cx="494.6" cy="285.6" r="4" fill="#97203c"/>
<circle cx="517" cy="285.6" r="1.5" fill="#2a5a8c"/>
<text x="392.6" y="299.3" font-size="10" text-anchor="end" stroke="#000" stroke-width="0.22" font-style="italic">Cdh5</text>
<circle cx="404.9" cy="295.7" r="0.5" fill="#aeacc3"/>
<circle cx="427.3" cy="295.7" r="0.5" fill="#aeacc3"/>
<circle cx="449.7" cy="295.7" r="0.5" fill="#aeacc3"/>
<circle cx="472.2" cy="295.7" r="0.5" fill="#aeacc3"/>
<circle cx="494.6" cy="295.7" r="0.5" fill="#aeacc3"/>
<circle cx="517" cy="295.7" r="4.5" fill="#8e1616"/>
<text x="392.6" y="309.3" font-size="10" text-anchor="end" stroke="#000" stroke-width="0.22" font-style="italic">Apln</text>
<circle cx="404.9" cy="305.7" r="0.5" fill="#aeacc3"/>
<circle cx="427.3" cy="305.7" r="0.5" fill="#aeacc3"/>
<circle cx="449.7" cy="305.7" r="0.5" fill="#aeacc3"/>
<circle cx="472.2" cy="305.7" r="0.5" fill="#aeacc3"/>
<circle cx="494.6" cy="305.7" r="0.5" fill="#aeacc3"/>
<circle cx="517" cy="305.7" r="4.5" fill="#8e1616"/>
<text x="392.6" y="319.4" font-size="10" text-anchor="end" stroke="#000" stroke-width="0.22" font-style="italic">Egfl7</text>
<circle cx="404.9" cy="315.8" r="0.7" fill="#817ea2"/>
<circle cx="427.3" cy="315.8" r="0.7" fill="#817ea2"/>
<circle cx="449.7" cy="315.8" r="0.7" fill="#817ea2"/>
<circle cx="472.2" cy="315.8" r="1.2" fill="#46487c"/>
<circle cx="494.6" cy="315.8" r="0.8" fill="#817ea2"/>
<circle cx="517" cy="315.8" r="4.5" fill="#8e1616"/>
<text x="392.6" y="329.4" font-size="10" text-anchor="end" stroke="#000" stroke-width="0.22" font-style="italic">Ctla2a</text>
<circle cx="404.9" cy="325.8" r="0.7" fill="#817ea2"/>
<circle cx="427.3" cy="325.8" r="2" fill="#504679"/>
<circle cx="449.7" cy="325.8" r="1.2" fill="#41497e"/>
<circle cx="472.2" cy="325.8" r="0.5" fill="#aeacc3"/>
<circle cx="494.6" cy="325.8" r="0.5" fill="#aeacc3"/>
<circle cx="517" cy="325.8" r="4.5" fill="#8e1616"/>
<text x="392.6" y="339.5" font-size="10" text-anchor="end" stroke="#000" stroke-width="0.22" font-style="italic">Ccl2</text>
<circle cx="404.9" cy="335.9" r="1" fill="#41497e"/>
<circle cx="427.3" cy="335.9" r="1" fill="#46487c"/>
<circle cx="449.7" cy="335.9" r="0.5" fill="#aeacc3"/>
<circle cx="472.2" cy="335.9" r="1.3" fill="#4b477b"/>
<circle cx="494.6" cy="335.9" r="0.5" fill="#aeacc3"/>
<circle cx="517" cy="335.9" r="4" fill="#8e1616"/>
<rect x="397.4" y="39.2" width="127" height="301.5" fill="none" stroke="#222" stroke-width="1"/>
<rect x="228" y="251.3" width="126.8" height="89.2" fill="#fff" stroke="#222" stroke-width="0.9"/>
<rect x="232.4" y="256.9" width="13.6" height="8.4" fill="#8b1a1a" stroke="#333" stroke-width="0.6"/>
<rect x="232.4" y="271.4" width="13.6" height="8.4" fill="#999" stroke="#333" stroke-width="0.6"/>
<rect x="232.4" y="285.2" width="13.6" height="8.4" fill="#1e2a80" stroke="#333" stroke-width="0.6"/>
<text x="249.2" y="266" font-size="13" stroke="#000" stroke-width="0.22">Sca-1<tspan font-size="7" dy="-5">+</tspan></text>
<text x="249.2" y="280" font-size="13" stroke="#000" stroke-width="0.22">Sca-1<tspan font-size="7" dy="-5">−</tspan></text>
<text x="249.2" y="293.7" font-size="13" stroke="#000" stroke-width="0.22">Endo</text>
<text x="232.2" y="308.9" font-size="13" stroke="#000" stroke-width="0.22">Ave. Exp.</text>
<text x="232.2" y="322.4" font-size="13" stroke="#000" stroke-width="0.22">−1 0 1 2</text>
<defs><linearGradient id="gC" x1="0" x2="1" y1="0" y2="0"><stop offset="0" stop-color="#2a5a8e"/><stop offset="0.45" stop-color="#6a3c78"/><stop offset="1" stop-color="#b01c30"/></linearGradient></defs>
<rect x="233.1" y="324.7" width="51.3" height="9.7" fill="url(#gC)"/>
<text x="302.4" y="266" font-size="13" stroke="#000" stroke-width="0.22">% Exp.</text>
<circle cx="308" cy="275.5" r="0.6" fill="#000"/>
<text x="314.6" y="279.9" font-size="13" stroke="#000" stroke-width="0.22">0</text>
<circle cx="308" cy="289.2" r="1.2" fill="#000"/>
<text x="314.6" y="293.6" font-size="13" stroke="#000" stroke-width="0.22">25</text>
<circle cx="308" cy="303.9" r="2.3" fill="#000"/>
<text x="314.6" y="308.3" font-size="13" stroke="#000" stroke-width="0.22">50</text>
<circle cx="308" cy="317.5" r="3.2" fill="#000"/>
<text x="314.6" y="321.9" font-size="13" stroke="#000" stroke-width="0.22">75</text>
<circle cx="308" cy="331.5" r="4.2" fill="#000"/>
<text x="314.6" y="335.9" font-size="13" stroke="#000" stroke-width="0.22">100</text>
<text x="532.5" y="17.2" font-size="13" stroke="#000" stroke-width="0.22">D</text>
<text x="651.5" y="11" font-size="13" text-anchor="middle" stroke="#000" stroke-width="0.22" font-style="italic">Ly6a</text>
<rect x="568.3" y="15.3" width="157" height="134.2" fill="#fff" stroke="#555" stroke-width="0.8"/>
<path d="M596.5 35.3C597.2 34.1 598.6 31.8 599.9 30.7C601.3 29.6 602.9 28.8 604.7 28.7C606.5 28.5 608.8 29.1 610.6 29.7C612.3 30.3 614.1 31.2 615.4 32.3C616.7 33.4 617.5 35.2 618.3 36.4C619.1 37.6 620.1 37.9 620.3 39.5C620.4 41 619.1 43.6 619.3 45.6C619.4 47.7 621.2 50 621.2 51.7C621.2 53.5 620.2 54.9 619.3 55.9C618.3 56.9 616.7 57.2 615.4 57.9C614.1 58.7 612.7 60.6 611.5 60.5C610.3 60.4 609.4 58.5 608.1 57.4C606.9 56.3 604.7 55.3 603.8 53.8C602.9 52.4 603.6 50.1 602.8 48.7C602 47.3 600 46.6 598.9 45.6C597.9 44.6 597 43.7 596.5 42.5C596 41.3 596 39.6 596 38.4C596 37.2 595.9 36.6 596.5 35.3Z" fill="#dadada"/>
<path d="M629.9 37.4C630.7 35.8 632.3 32.9 633.8 31.2C635.2 29.6 636.8 28.5 638.6 27.7C640.4 26.8 642.5 26 644.4 26.1C646.4 26.2 648.3 27.3 650.2 28.2C652.2 29 654.2 30.2 656 31.2C657.8 32.3 659.7 33.3 660.9 34.3C662 35.4 663 36 662.8 37.4C662.6 38.7 660.7 41 659.9 42.5C659.1 44.1 659.1 45.3 658 46.7C656.9 48 654.8 49.4 653.2 50.8C651.5 52.1 650.1 53.3 648.3 54.8C646.5 56.4 644.1 58.3 642.5 60C640.9 61.7 639.9 63.2 638.6 65.1C637.3 67 636 69.9 634.8 71.3C633.5 72.6 632.2 73.3 630.9 73.3C629.6 73.3 628.4 72.1 627 71.3C625.5 70.4 623.8 69.2 622.2 68.2C620.6 67.1 617.8 66.1 617.3 65.1C616.9 64.1 618.3 63.1 619.3 62C620.2 61 622.2 60.5 623.1 58.9C624.1 57.4 625.1 54.7 625.1 52.8C625.1 50.9 623.1 49.4 623.1 47.7C623.1 45.9 624.1 43.7 625.1 42.5C626 41.3 628.2 41.3 629 40.5C629.8 39.6 629.1 38.9 629.9 37.4Z" fill="#dadada"/>
<path d="M663.8 40.5C665.4 39.6 668 38.1 670.1 37.8C672.1 37.6 674.2 38.5 676.2 39.2C678.3 39.9 680.2 40.7 682.5 41.8C684.8 42.9 687.5 44.2 690 45.7C692.4 47.3 694.9 49.1 697.4 51C699.9 53 702.8 55.2 704.9 57.6C707 60.1 708.4 62.7 709.9 65.5C711.3 68.4 713.4 71.7 713.6 74.8C713.8 77.8 712.4 81.1 711.1 84C709.9 86.8 708 89.5 706.1 91.9C704.2 94.3 702.2 96.5 699.9 98.5C697.6 100.5 695.1 102.3 692.4 103.8C689.8 105.2 687.1 106.5 683.9 107.3C680.7 108.1 676.8 108.8 673.2 108.6C669.6 108.4 665.5 107 662.1 106.2C658.8 105.4 656.6 104.6 653.3 103.8C649.9 103.1 646.2 102.7 642.2 101.5C638.1 100.3 632.2 98.4 628.9 96.8C625.6 95.3 623.7 94 622.3 92.1C620.9 90.2 620.4 87.8 620.3 85.3C620.1 82.9 620.4 79.4 621.5 77.4C622.7 75.5 625.3 74.5 627.1 73.4C629 72.4 630.9 72.2 632.7 71.1C634.4 69.9 636.1 68.1 637.6 66.4C639.2 64.7 640.4 62.9 642 61.1C643.7 59.4 645.7 57.7 647.5 56.2C649.4 54.6 651.4 53.2 653 51.8C654.7 50.4 656.2 49.2 657.5 47.7C658.7 46.3 659.4 44.3 660.5 43C661.5 41.8 662.2 41.3 663.8 40.5Z" fill="#dadada"/>
<path d="M606.3 108.6C606.6 106.6 607.5 104.2 609 102.7C610.6 101.1 613.2 99.8 615.6 99.2C618 98.6 620.8 99 623.4 99.2C626 99.4 628.4 99.8 631.2 100.3C633.9 100.9 637.2 101.9 640 102.7C642.7 103.4 645.2 104.2 647.8 105C650.3 105.8 653.4 106.2 655.5 107.3C657.5 108.5 658.8 109.9 659.9 112.1C661 114.2 662 117.7 662.1 120.2C662.3 122.8 661.8 125.2 661 127.3C660.3 129.5 659.3 131.4 657.7 133.2C656 134.9 653.5 136.6 651.1 137.9C648.7 139.2 646.1 140 643.3 140.8C640.5 141.6 637.2 142.5 634.5 142.6C631.7 142.7 629.3 142 626.7 141.4C624.1 140.8 621 140.2 619 139.1C617 137.9 615.8 136.3 614.5 134.3C613.2 132.4 612.1 129.7 611.2 127.3C610.3 125 609.8 122.4 609 120.2C608.3 118.1 607.3 116.4 606.8 114.4C606.4 112.5 605.9 110.5 606.3 108.6Z" fill="#dadada"/>
<path transform="scale(.5)" d="M1283 55h0m4 0h0m1-2h0m4 0h0m20 10h0m-4 0h0m-3 0h0m0-4h0m-1 0h0m-2-2h0m-1 6h0m-1-1h0m-1-1h0m-3-1h0m0 0h0m-1-4h0m0 0h0m-1 0h0m-2 4h0m0-4h0m-1 0h0m-2 2h0m0-2h0m-4 6h0m0-1h0m-2-5h0m-1 4h0m-1 2h0m-1-1h0m-1-2h0m0 0h0m-1 2h0m0 0h0m-2-2h0m-3 1h0m-2 2h0m-2 1h0m-1 0h0m-45-2h0m-5 1h0m0-3h0m-1 3h0m-1-3h0m-3 2h0m-8 0h0m0-1h0m-9 7h0m1 2h0m2 1h0m0-2h0m0-1h0m4 0h0m0 4h0m1-6h0m0 2h0m1-1h0m1 0h0m0-1h0m1 6h0m2-6h0m4 0h0m1 2h0m2 0h0m0 1h0m1 0h0m1-2h0m1 0h0m1 2h0m6-2h0m3-2h0m2 4h0m32 3h0m2-3h0m2 2h0m0-5h0m1 0h0m1 5h0m1-1h0m2 0h0m0-4h0m1-1h0m1 5h0m1 0h0m2-5h0m1 7h0m2-1h0m4 1h0m0-7h0m0 1h0m1-1h0m1 4h0m1-4h0m2 0h0m1 0h0m1 6h0m1 1h0m0-6h0m1 0h0m0-1h0m1 3h0m1-2h0m0 2h0m3 4h0m1-5h0m2-1h0m1 4h0m2 1h0m0-4h0m0 2h0m1 2h0m3-3h0m1 1h0m1 3h0m1-7h0m0 1h0m1 3h0m1 2h0m1 0h0m0-1h0m1 2h0m1-4h0m0 0h0m0 0h0m0 3h0m1 0h0m2-1h0m3 0h0m24 10h0m-2 0h0m-4 0h0m-4 0h0m-1-1h0m-11-2h0m0-1h0m-1-3h0m-3 3h0m0-1h0m-2-1h0m-2 5h0m-1 1h0m0-4h0m-1 4h0m-1 0h0m-1 0h0m0-2h0m-1 1h0m0 0h0m0-2h0m-1-4h0m0 2h0m-1 4h0m0-5h0m-1 2h0m-2 1h0m-2 1h0m0 0h0m-1-4h0m0-1h0m-1 7h0m0-2h0m-3-3h0m-1-2h0m0 7h0m0-6h0m-1 5h0m-1-1h0m-1 0h0m-1-3h0m0 3h0m-1 1h0m-1-3h0m0-3h0m-1 5h0m-1 1h0m0-2h0m-1 2h0m-1 0h0m0-4h0m-1 2h0m-1-1h0m-3-1h0m-1 4h0m-1 0h0m-2-2h0m0-4h0m-1 2h0m-1 5h0m-1-7h0m-5 3h0m-1 0h0m-1-2h0m-2-1h0m0 0h0m-1 3h0m-2 3h0m-2-5h0m0-1h0m-1 1h0m0 0h0m0 6h0m-1 0h0m-25 0h0m-5-7h0m0 6h0m-2-1h0m-1 2h0m0-4h0m-3 3h0m0-3h0m-1-3h0m-6 7h0m0-6h0m-1 0h0m-3 5h0m-3 0h0m0-3h0m0 2h0m-1 1h0m0-3h0m-2-1h0m-1 1h0m-1-3h0m-2 4h0m0-4h0m0 4h0m0 1h0m-1 0h0m-4-2h0m-2-3h0m0 2h0m0 3h0m-2 0h0m1 3h0m0 1h0m1 2h0m2 4h0m1-1h0m0-3h0m3-2h0m3 6h0m2-5h0m1-2h0m1 3h0m0 4h0m2-4h0m2-2h0m4 0h0m2 4h0m2 0h0m9-5h0m1 1h0m1 5h0m2 0h0m0-5h0m3-1h0m2 3h0m1 1h0m11 2h0m2-2h0m0 1h0m1-1h0m0 0h0m0 0h0m2 2h0m1-4h0m0 4h0m1-2h0m0-1h0m1 0h0m3 2h0m2-2h0m0 3h0m0 0h0m1-6h0m1 4h0m2 1h0m2-4h0m0-1h0m1 4h0m1-4h0m1 6h0m0-1h0m1-3h0m0 4h0m1-4h0m0 4h0m2-5h0m2 1h0m1 2h0m1 3h0m1-3h0m0-4h0m0 2h0m0 3h0m1-4h0m1 2h0m1-3h0m0 0h0m1 2h0m0 1h0m2-3h0m0 6h0m0-3h0m4-2h0m0 1h0m1 4h0m1-6h0m1 7h0m0-2h0m1-4h0m1 2h0m0 0h0m0-3h0m0 1h0m2 3h0m0 3h0m0-6h0m1 3h0m1 2h0m0-1h0m0-1h0m1-2h0m0 4h0m0 1h0m2-5h0m1 2h0m1 1h0m1 2h0m1-4h0m1 3h0m0-2h0m1 0h0m1-3h0m1 4h0m0 0h0m0 1h0m1 0h0m1 1h0m0-6h0m0 0h0m1 1h0m0 3h0m1 2h0m2-4h0m0-3h0m0 0h0m0 4h0m5 3h0m5-3h0m1 1h0m2-2h0m0 2h0m0-2h0m1-3h0m0 3h0m0 3h0m2 1h0m5-4h0m0-2h0m1 1h0m2 1h0m1-1h0m1 5h0m0-7h0m3 3h0m1-1h0m0-1h0m2 4h0m1 1h0m6 0h0m1-3h0m0 3h0m2 1h0m0-4h0m0 4h0m1-2h0m5-1h0m14 11h0m-1-4h0m-4 3h0m-2-5h0m-2 1h0m-1 3h0m-3 0h0m-3-2h0m-1 3h0m0 1h0m-1-4h0m0-3h0m-1 4h0m0-3h0m-10 0h0m-1 6h0m-2-2h0m-5-3h0m0 5h0m-2-7h0m0 7h0m-1-3h0m0 1h0m-5 1h0m-2-2h0m-2-2h0m0 3h0m-1-5h0m-1 1h0m0 1h0m-1 1h0m0-3h0m-1 2h0m-1 2h0m-1 2h0m-1-2h0m0-2h0m-1-1h0m-3 6h0m0-3h0m-2-1h0m-1-3h0m-1 6h0m-3 0h0m-1-6h0m0 5h0m-3-1h0m0 0h0m0-2h0m0 1h0m-1 2h0m-2-3h0m-6 4h0m-1-3h0m0 3h0m-1-3h0m-2-2h0m0 3h0m-1 1h0m-1-2h0m-1 3h0m-2-5h0m-1 1h0m0 5h0m-2-6h0m0 6h0m-1-2h0m0 2h0m-1-2h0m-2-4h0m0 3h0m-1-1h0m-2 4h0m-2 0h0m-1 0h0m-1-3h0m0-1h0m0 3h0m0 1h0m0-7h0m-1 4h0m-1 3h0m-1-4h0m0 3h0m-1-4h0m0-2h0m-1 4h0m-1 2h0m-3-1h0m0-2h0m-1-2h0m-1 5h0m-1-3h0m-2 4h0m-1-1h0m-1-1h0m-1 1h0m0-1h0m-1-3h0m-1 4h0m-2 1h0m0-2h0m-1-2h0m0-2h0m-1 5h0m-1-1h0m0 0h0m-1 2h0m-1-3h0m0 2h0m-2-3h0m0 2h0m0-1h0m0 3h0m-1-1h0m-11-3h0m0 2h0m-1-4h0m-1 5h0m-2 0h0m-1-2h0m-1 2h0m-3-6h0m-1 4h0m-6-3h0m0 2h0m0 2h0m-1-3h0m-4 4h0m-1 1h0m0 0h0m-1-3h0m0 3h0m-2-4h0m-1-1h0m-1 2h0m-4 2h0m-2 0h0m0 0h0m-3-3h0m-1-2h0m-1 2h0m-1-3h0m-1 1h0m9 8h0m0 2h0m5-2h0m3 2h0m1 2h0m1-5h0m1 7h0m2-6h0m3 4h0m0-5h0m0 4h0m0-4h0m3 7h0m0-5h0m1 2h0m3 1h0m0-4h0m0 2h0m5 0h0m1-2h0m0 2h0m1 4h0m0-6h0m1 1h0m2 4h0m11-5h0m2 6h0m2-4h0m0 3h0m0-4h0m0 4h0m1-1h0m0 0h0m0 2h0m1-3h0m0 3h0m0-5h0m0 3h0m1-4h0m4-1h0m0 7h0m1-2h0m0 1h0m0 0h0m2 0h0m0-1h0m1-2h0m1 2h0m1-2h0m1 1h0m0 3h0m0-4h0m2-3h0m1 1h0m1 5h0m1-4h0m0 2h0m0-3h0m4 6h0m1-6h0m0 5h0m2-2h0m1-4h0m0 5h0m3-5h0m1 1h0m1 2h0m1-3h0m0 4h0m0-4h0m0 3h0m1-1h0m5 0h0m1 1h0m1-2h0m0 2h0m0 1h0m1 2h0m0-4h0m3 0h0m0 1h0m0 3h0m1-3h0m1 3h0m1-2h0m0 0h0m1 3h0m0-1h0m0-5h0m2 3h0m4 3h0m1-3h0m0 3h0m2-2h0m1-3h0m3 4h0m3-2h0m0 2h0m0-1h0m1-2h0m3-3h0m2 6h0m3 0h0m3 0h0m6-3h0m0 4h0m0-1h0m6 0h0m1 1h0m2-7h0m3 5h0m3-1h0m0 2h0m5-2h0m1 0h0m1-4h0m2 3h0m0-2h0m4 5h0m2 1h0m3 0h0m2-7h0m0 4h0m1-2h0m0 1h0m0-1h0m1 5h0m5-5h0m2-2h0m0 0h0m2 2h0m4 4h0m0-3h0m0 1h0m3 0h0m5 3h0m8 8h0m-1-2h0m-4-3h0m-2 4h0m0-3h0m-1-3h0m0 7h0m-1-4h0m0 3h0m-2 0h0m-3-1h0m-3-4h0m-1 4h0m0-2h0m0-3h0m-1 2h0m-1 2h0m-1 3h0m-1-5h0m-4 4h0m-4-5h0m-1 0h0m-1 5h0m0-1h0m-1-1h0m-2-4h0m0 6h0m-1-4h0m-2 2h0m-3 3h0m-1-4h0m-2-3h0m0 3h0m-2 2h0m-5-1h0m0-1h0m0 3h0m-1-6h0m-7 4h0m-4 3h0m-2 0h0m-3-2h0m-2-2h0m-4 2h0m-3 0h0m0-3h0m-1 1h0m-2 1h0m0-1h0m-1-3h0m-1 4h0m-1-4h0m-5 4h0m-1 2h0m-1-6h0m-2 7h0m0 0h0m0-7h0m-1 7h0m-1-5h0m-1 2h0m-1-2h0m0-2h0m-1 7h0m-1-1h0m-3-2h0m-2-3h0m0-1h0m-1 6h0m-1 1h0m-3-5h0m-1 5h0m-1-4h0m0 4h0m-2-6h0m0 4h0m-2 2h0m0-7h0m0 4h0m-1 2h0m-1-3h0m0-2h0m0 1h0m0 0h0m-3-1h0m0 2h0m0 2h0m-1 1h0m-1-6h0m-1 7h0m-1-1h0m-2-2h0m0-1h0m0-2h0m-2 4h0m0-4h0m-1 6h0m-1-5h0m0-1h0m-1 1h0m-3-2h0m0 3h0m-1 2h0m-1-4h0m0 0h0m0 4h0m0-4h0m-3 5h0m0-4h0m-1 4h0m-1-5h0m0 6h0m-1-7h0m-1 3h0m0-3h0m-1 0h0m-1 2h0m0-2h0m0 6h0m-2-5h0m0 1h0m-1 0h0m0 2h0m-1-1h0m-1-1h0m-2 3h0m0-4h0m0-1h0m-1 6h0m0 1h0m-1-3h0m-10-3h0m-3-1h0m-1 1h0m-5 5h0m-2-5h0m-5-1h0m0 5h0m-1-5h0m-2 0h0m0 7h0m-1-4h0m-1 1h0m-3-3h0m0-1h0m-3 3h0m-4-2h0m5 7h0m2 2h0m5 2h0m1-2h0m2 5h0m1-5h0m0-1h0m1 4h0m1 1h0m2-3h0m1 1h0m16 2h0m2 1h0m0-5h0m1-1h0m1 5h0m2 1h0m1-3h0m0 1h0m1 2h0m0 0h0m1 0h0m1-4h0m1-1h0m0 0h0m1-2h0m0 6h0m0-5h0m1 1h0m3-1h0m2 6h0m0-2h0m1 2h0m1-7h0m0 5h0m1 1h0m0-1h0m1-1h0m1 2h0m1 0h0m0-3h0m1 3h0m0-1h0m2-2h0m1-3h0m0 1h0m0 2h0m1 3h0m0-1h0m1-3h0m0-2h0m0 2h0m0 3h0m0-2h0m1 0h0m0 0h0m0-2h0m2-1h0m1 2h0m1 0h0m1-2h0m2 2h0m0 3h0m3-2h0m1 4h0m0-4h0m1 0h0m4 1h0m0 0h0m2 1h0m1-3h0m2 1h0m1-2h0m0 0h0m1 6h0m1-3h0m0-2h0m1 1h0m2 2h0m0-1h0m1 1h0m2-3h0m0 3h0m1-4h0m0-1h0m1 4h0m1-1h0m1 0h0m0 0h0m1-1h0m1 5h0m3-5h0m0 1h0m0-2h0m2 2h0m2-2h0m2 3h0m2 3h0m2-4h0m2 1h0m1-2h0m1-2h0m1 7h0m1-6h0m3-1h0m1 1h0m0 1h0m2 4h0m0 0h0m0-2h0m2-1h0m0-1h0m2 2h0m1 1h0m2-3h0m4 0h0m0 0h0m0 4h0m1-6h0m0 7h0m5-4h0m2-1h0m1 2h0m2-2h0m1 0h0m2 1h0m1 0h0m3-2h0m0 0h0m1 0h0m0 5h0m0-6h0m3 0h0m2 1h0m1-1h0m0 0h0m0 3h0m0 1h0m0 3h0m2-6h0m1 0h0m1-1h0m1 7h0m1-3h0m2 0h0m1 3h0m2-6h0m5 2h0m1 3h0m0-6h0m3 6h0m2-5h0m3 6h0m0-6h0m1 4h0m3-1h0m1-3h0m0 3h0m2-1h0m0 4h0m2-4h0m0 0h0m0 3h0m1-1h0m6 9h0m-4-6h0m-5 1h0m-1 6h0m-2-4h0m-1 2h0m-1 1h0m-1 0h0m-1-5h0m0 6h0m-4-3h0m0-4h0m-2 7h0m0-5h0m-2 4h0m-1-2h0m0 1h0m-1 0h0m-1 2h0m0-3h0m-1-4h0m-1 0h0m0 3h0m0 1h0m-5 3h0m-3-5h0m-2 2h0m0 0h0m-3-2h0m0 5h0m-4-7h0m0 1h0m0 2h0m-4 2h0m-1-2h0m-3-3h0m0 4h0m0-1h0m-3-2h0m0 0h0m-1-1h0m-9 7h0m0-1h0m-1-3h0m-3 4h0m-1-6h0m-2 1h0m-3 0h0m-2 3h0m-1-1h0m-2-4h0m-3 2h0m0 1h0m-1-1h0m-5 4h0m-6-2h0m-1 3h0m0 0h0m0 0h0m-5 0h0m-1-7h0m-1 4h0m0-2h0m-1 3h0m-2-2h0m-2-3h0m-3 2h0m-2 1h0m0 0h0m-1-3h0m-2 2h0m-3-1h0m0 2h0m-1 0h0m-1 0h0m-1 3h0m0-3h0m-4 3h0m-4-2h0m0-3h0m0 2h0m-2-3h0m-1 4h0m0-3h0m-1 4h0m-1-1h0m-1 2h0m0-4h0m-1 0h0m-1 3h0m-1 2h0m-1 0h0m-1-3h0m-1-1h0m-1 2h0m0 2h0m-1-3h0m-2-4h0m-2 0h0m-1 2h0m0-1h0m0 1h0m-1-1h0m-1 3h0m-1 3h0m0-1h0m0 1h0m0-2h0m-2-5h0m0 5h0m-1-5h0m0 3h0m-1-2h0m0 5h0m0-1h0m-2 1h0m-1 0h0m0-3h0m-1 4h0m0-5h0m0 3h0m-1-5h0m0 3h0m-4 0h0m0-2h0m0 5h0m-2-1h0m0-1h0m0 2h0m0-5h0m-1 6h0m0-4h0m0 3h0m-1-4h0m0 4h0m-1-4h0m-1-1h0m-4 5h0m-2 3h0m3 4h0m0-1h0m0 1h0m2-1h0m0 1h0m1-2h0m1 4h0m0-1h0m2-5h0m1 2h0m0-1h0m0 2h0m1 0h0m0 0h0m0 2h0m2-1h0m0-5h0m0 5h0m2 1h0m1-4h0m0 5h0m0-4h0m2-2h0m1 6h0m0-5h0m2 4h0m1-5h0m2 1h0m1 4h0m0 0h0m0-4h0m0 4h0m1-3h0m0-2h0m1 3h0m0 0h0m0-4h0m1 5h0m3 1h0m0-4h0m0 0h0m1 1h0m0 4h0m1-6h0m0 1h0m0 3h0m0-1h0m1-4h0m1 4h0m1 1h0m1 1h0m1 0h0m1-5h0m0 3h0m1 1h0m0 1h0m2-3h0m1 1h0m0-2h0m7 1h0m1-3h0m0 2h0m2-2h0m1 5h0m2-4h0m1 0h0m2 6h0m0-3h0m1-2h0m3 3h0m3-4h0m1-1h0m0 7h0m2-6h0m0 3h0m0 0h0m2 0h0m0 3h0m0-3h0m8-2h0m0-1h0m6 0h0m0 6h0m4-5h0m0 2h0m6-2h0m0-1h0m0 5h0m2 1h0m4-4h0m0 1h0m7-4h0m1 2h0m1 2h0m2 1h0m0-5h0m0 2h0m0 5h0m1-5h0m5 2h0m1-2h0m0 1h0m3 3h0m0-5h0m1 5h0m1 1h0m3-3h0m0-4h0m1 3h0m7 3h0m0-1h0m2 1h0m1 1h0m2-2h0m3-2h0m0 1h0m0 0h0m1-2h0m1-1h0m2 5h0m2-4h0m1-1h0m0 0h0m1 5h0m0-5h0m2 2h0m2 1h0m3 2h0m4 1h0m1-4h0m1-3h0m0 2h0m5 1h0m2 3h0m1 1h0m1-4h0m2-2h0m0 3h0m12 10h0m-1-4h0m-1 0h0m0 1h0m-2 0h0m0-2h0m-1-1h0m-1 6h0m-1 0h0m-1-4h0m-3 5h0m-2-6h0m-1 5h0m-3 0h0m-2-6h0m0 7h0m-1 0h0m-1-1h0m-1 1h0m-5 0h0m-1-4h0m-1 2h0m-3-2h0m-1 4h0m-1-7h0m0 3h0m0 0h0m-1 0h0m0-1h0m-2 2h0m0 1h0m0-4h0m-2 0h0m-1 5h0m-1-3h0m0 3h0m0-4h0m-1-2h0m-1 7h0m-1-2h0m-1-3h0m-1 0h0m0-1h0m0 2h0m-1 2h0m0-2h0m-1-1h0m0 3h0m-1-1h0m0 2h0m-2-5h0m-1 0h0m-1 0h0m0 5h0m-1-3h0m-3 1h0m-4-1h0m-1-1h0m0 1h0m-2 4h0m0-2h0m-1 2h0m-2-1h0m-1-5h0m-1 1h0m0 3h0m0-2h0m-1 0h0m-1 1h0m-1-4h0m-1 1h0m-1 5h0m-4-2h0m0-1h0m-1-2h0m0 4h0m-2-1h0m-1 1h0m-2-5h0m0 4h0m-1 2h0m-1-5h0m0 0h0m-1-1h0m-1 4h0m-1 1h0m0-1h0m-3 2h0m-2-1h0m-3 1h0m-5-6h0m-3 5h0m-2-4h0m-2 2h0m0 0h0m-3-2h0m-1 0h0m0 4h0m-1-1h0m0 2h0m-2 1h0m0-2h0m-2-2h0m-2-2h0m0-1h0m-1 1h0m0 1h0m-4-1h0m-2 2h0m-1 1h0m0 2h0m-1 1h0m-3-6h0m-6 0h0m-2-1h0m-1 1h0m-1 1h0m-3 0h0m-2 3h0m-5 1h0m0-6h0m-1 3h0m-1 1h0m-2 0h0m-2 0h0m-1 3h0m0-5h0m-1 5h0m0-3h0m0-1h0m-1 2h0m0 2h0m0-3h0m0-4h0m-2 7h0m-1-3h0m0 3h0m-1-1h0m0 1h0m-2-1h0m0-3h0m-1-1h0m0 0h0m-1 1h0m-2-1h0m0-2h0m-1 0h0m-1 3h0m3 9h0m4-1h0m2 3h0m0-6h0m1 1h0m1 3h0m0-1h0m0-2h0m1 6h0m0-5h0m2 2h0m4 3h0m1-1h0m0 1h0m2 0h0m1-2h0m4-3h0m2 0h0m0-1h0m1 3h0m0 1h0m2-3h0m1-1h0m0 1h0m5-2h0m0 0h0m1 2h0m5 4h0m5-6h0m1 0h0m1 2h0m5-2h0m1 7h0m0 0h0m1-5h0m0 0h0m1 1h0m1 1h0m1-4h0m2 1h0m3 3h0m3-1h0m3 4h0m1 0h0m1-4h0m0-1h0m1 2h0m2 0h0m0-2h0m1 4h0m0-2h0m2 3h0m2-7h0m2 1h0m0 4h0m1-2h0m1 2h0m2 2h0m3-5h0m2 2h0m0 2h0m2-4h0m0 2h0m0 1h0m1-2h0m1 4h0m1-4h0m5-1h0m0 4h0m1-2h0m0-2h0m0 1h0m4-2h0m0-1h0m1 7h0m2-6h0m4 5h0m3 1h0m1-5h0m2-2h0m1 4h0m2-2h0m1 5h0m1 0h0m1-1h0m1-5h0m0 4h0m1 1h0m3 1h0m3-4h0m1-3h0m2 0h0m2 2h0m1 2h0m1 0h0m2 0h0m2 3h0m1 0h0m3-7h0m2 1h0m0 6h0m1-3h0m0-4h0m1 5h0m2-4h0m1 0h0m2 3h0m1-4h0m1 4h0m2 1h0m2 1h0m1 0h0m1 1h0m1-5h0m1 5h0m3-3h0m2-2h0m0 4h0m1-6h0m-1 12h0m-1 1h0m-1 0h0m0-5h0m-1 7h0m-2-7h0m-4 0h0m0 0h0m-1 1h0m0-1h0m-1 3h0m-1 0h0m-1 4h0m-4-5h0m-3 5h0m0-3h0m0-2h0m-1 3h0m0 0h0m-5-1h0m-2-4h0m-1 2h0m0-2h0m-1 4h0m-4 0h0m-1 3h0m0-3h0m-5-3h0m-2-1h0m-2 5h0m-1-1h0m0-1h0m0 4h0m-1 0h0m-1-5h0m-2 5h0m0-3h0m-4 0h0m-4-2h0m-1 4h0m0-4h0m-6-1h0m-1 5h0m-1 0h0m-1 1h0m-2-2h0m0-3h0m-1 2h0m-3 2h0m-2-4h0m0 5h0m0-2h0m-4 2h0m0-5h0m-5 1h0m0 1h0m-3-2h0m-2-1h0m-3 5h0m0 1h0m-2-1h0m-1-3h0m-3-1h0m-1 2h0m-1-1h0m0 0h0m-1-2h0m0 1h0m-1 4h0m-1 0h0m-1 0h0m0 1h0m-2-3h0m0-1h0m-3 1h0m-1-1h0m-2 3h0m-5-6h0m-2 1h0m-4-1h0m-5 1h0m-3 1h0m0-2h0m0 4h0m-2-1h0m-2 1h0m-1 2h0m-2 1h0m-2-4h0m-1 0h0m-2 4h0m0-7h0m-2 2h0m-1-2h0m-2 7h0m-1-7h0m-1 1h0m-1 0h0m-3 6h0m-1-6h0m0 5h0m-1-5h0m-4 1h0m-1 3h0m-1 0h0m-2-2h0m-1 3h0m-1 1h0m-8-1h0m-4-1h0m0 1h0m-1 0h0m-14 0h0m-1-1h0m-1-2h0m0 3h0m-3-1h0m-61 0h0m-1-1h0m-4 3h0m-2-1h0m0 1h0m1 1h0m0 0h0m2 1h0m3 0h0m1 0h0m55 4h0m0 1h0m3-5h0m1 5h0m0-1h0m1-3h0m5 4h0m2-1h0m2-2h0m0 2h0m1-2h0m1 3h0m9 1h0m1-7h0m0 3h0m0 2h0m3-3h0m0 4h0m2 0h0m0-1h0m0 0h0m2 2h0m0-7h0m2 3h0m0 0h0m1 4h0m1-2h0m1-3h0m0 2h0m1 3h0m1-3h0m1 3h0m1-3h0m0 2h0m1-5h0m2 6h0m0-1h0m2-5h0m0 4h0m2 0h0m0 2h0m5-7h0m3 4h0m1-1h0m1-3h0m2 1h0m2 1h0m4-2h0m0 2h0m1 4h0m7 0h0m1-2h0m1 0h0m0-4h0m2 7h0m0-5h0m3 2h0m1 2h0m1 0h0m1-5h0m1-1h0m0 0h0m1 2h0m1 1h0m0 0h0m2-3h0m0 1h0m0 5h0m1-5h0m0 5h0m2 1h0m1-4h0m0 2h0m0-4h0m2 3h0m0-3h0m2 6h0m0-3h0m2-2h0m1 4h0m0 0h0m0 0h0m1-3h0m1 0h0m8 4h0m2-5h0m0 0h0m1 2h0m1 3h0m5-1h0m0-4h0m0 5h0m0-6h0m1 6h0m1-2h0m0 2h0m0-7h0m3 4h0m0-2h0m3 2h0m0-2h0m1 3h0m1-1h0m2-3h0m0 4h0m1-5h0m1 4h0m2-2h0m2 2h0m1-3h0m1 5h0m0-1h0m2 0h0m5 1h0m1 1h0m0-2h0m1-2h0m0 3h0m2-6h0m1 5h0m2-4h0m3-1h0m5 6h0m1-1h0m4-4h0m3 0h0m3 6h0m0 0h0m1-6h0m4 2h0m2-2h0m1 3h0m0 0h0m1-3h0m0 4h0m0 0h0m0-1h0m1 2h0m2-3h0m0 0h0m1-2h0m2-1h0m1 3h0m3 4h0m0-4h0m0-3h0m2 4h0m1 1h0m6-3h0m1 4h0m0 2h0m-2 2h0m0 1h0m-2-3h0m-2 7h0m-1-5h0m-1 3h0m-4-2h0m-1-1h0m-3 3h0m-4-2h0m0-3h0m-1 7h0m-2-2h0m-1-4h0m0 5h0m0-1h0m-3 1h0m-5 1h0m0-4h0m-2 4h0m-1-1h0m0-1h0m-5 1h0m-4-1h0m0-4h0m-2 2h0m-2 3h0m-2-2h0m-2 2h0m-1-3h0m0-3h0m-2 7h0m-2-7h0m-3 1h0m0 2h0m-2 4h0m-5-3h0m-1 2h0m-1 0h0m-1 0h0m-7-4h0m-3 4h0m0-6h0m0 7h0m-3-5h0m0-1h0m0 5h0m-1-5h0m-4 2h0m-3-3h0m0 3h0m-2 0h0m-1 3h0m-2-6h0m-1 7h0m0-3h0m-2 2h0m-1-4h0m-1 3h0m0-4h0m-1 3h0m-1-4h0m0 7h0m-1-2h0m-2-4h0m0 3h0m-3-4h0m-2 3h0m0-2h0m-2-1h0m-3 3h0m-1 4h0m-1-7h0m-5 7h0m0-4h0m-1 3h0m-3-5h0m0 2h0m-1 2h0m0-1h0m0-2h0m-2 5h0m-1-4h0m-2 3h0m0 0h0m0 1h0m-1 0h0m-1-5h0m-5 3h0m-1 1h0m-1-4h0m0-2h0m-1 7h0m-1-1h0m0-6h0m-1 7h0m-1-4h0m0-2h0m-2 2h0m-2 2h0m-2-1h0m0 0h0m-2 1h0m0-1h0m-2 1h0m0-4h0m-1 2h0m-3-2h0m-2 6h0m-1-6h0m-1 4h0m-3-3h0m-2 2h0m-5-2h0m-1 0h0m0 1h0m-1-1h0m0 4h0m-1-5h0m0 3h0m-1-3h0m0 3h0m0 2h0m-2-5h0m-10 0h0m0 0h0m-2 2h0m-1-2h0m0 3h0m-1-2h0m-1-2h0m-3 0h0m21 8h0m2 4h0m0-3h0m2 1h0m0 2h0m2-2h0m3-2h0m3 1h0m0 6h0m1-3h0m7-3h0m8 0h0m1-1h0m0 0h0m2 5h0m3-2h0m1 1h0m0-2h0m1 3h0m1-4h0m10 0h0m4 2h0m3-2h0m1-1h0m0 0h0m2 0h0m2 7h0m0-7h0m1 4h0m2 3h0m1-6h0m1 4h0m2-2h0m0 1h0m1-4h0m1 1h0m2 2h0m2 4h0m2-6h0m1 2h0m2 2h0m2 1h0m1-4h0m2 1h0m1 4h0m2-4h0m3-2h0m0 6h0m1-6h0m1 1h0m2 1h0m1 3h0m0 0h0m1 1h0m0-6h0m1 2h0m1 3h0m2-1h0m1 1h0m4-2h0m2-1h0m1 2h0m1-2h0m3 4h0m0 0h0m1-2h0m0 0h0m0-4h0m0 5h0m1 0h0m0 0h0m2 1h0m2-7h0m1 7h0m2-5h0m2 0h0m0-1h0m4 2h0m4-1h0m3 5h0m1-7h0m1 3h0m1 2h0m1 2h0m4-1h0m1-2h0m2-4h0m1 2h0m0 0h0m1 4h0m3-4h0m0 3h0m1-3h0m0 5h0m2-3h0m5 1h0m2 1h0m0-4h0m0 1h0m4 4h0m1-1h0m1-3h0m2 2h0m1 0h0m1-5h0m0 7h0m0-6h0m-4 10h0m-1-1h0m0-1h0m0 3h0m-1 1h0m0 1h0m-2-2h0m-3-2h0m-4 2h0m-4-3h0m-2 1h0m0 1h0m-5 1h0m0 1h0m-1-1h0m0 0h0m0 3h0m0-4h0m-1-3h0m-3 0h0m0 2h0m-3 5h0m-3-6h0m-1 4h0m-1 1h0m-3-4h0m0 3h0m-1-5h0m-1 3h0m0-2h0m-1 0h0m-1 5h0m-1 0h0m-1 0h0m-4-5h0m-1 6h0m0 0h0m-1-6h0m-5 2h0m-2-3h0m-1 5h0m0 2h0m-1-4h0m-1 4h0m-1 0h0m0-1h0m0-1h0m-2-4h0m-1 4h0m0-1h0m-1 0h0m-2 3h0m-2-3h0m-1-1h0m0 0h0m-1 2h0m-6 2h0m0 0h0m-1-6h0m0-1h0m-1 1h0m0 2h0m0-2h0m-3 2h0m0 2h0m0-1h0m-1-4h0m-2 5h0m-1 0h0m-8-1h0m-1 1h0m-3 0h0m0 1h0m-2-3h0m0-3h0m-1 3h0m-1 2h0m-1 2h0m-2-3h0m0-1h0m-10 0h0m0 2h0m-1-5h0m-1 3h0m-1 1h0m0-4h0m-1 2h0m0 5h0m-1 0h0m-5-6h0m-1 2h0m0-3h0m-1 4h0m0-1h0m-1 0h0m0-1h0m0 3h0m-4 1h0m-5-1h0m0 1h0m-2 1h0m-2-3h0m-1 2h0m-3-1h0m-1-5h0m-1 4h0m0 1h0m-2 2h0m-2-6h0m0-1h0m-3 7h0m0-6h0m-1 5h0m-1-6h0m-1 4h0m-19 11h0m9-1h0m16-5h0m11 0h0m2 0h0m1 3h0m4 0h0m4-4h0m0 5h0m0-2h0m1 3h0m1-1h0m1 2h0m0-2h0m1-2h0m3 1h0m2-1h0m1 3h0m0-1h0m0-1h0m0-3h0m2-1h0m0 5h0m0 1h0m8 0h0m2-2h0m8-4h0m1 1h0m0 5h0m2-4h0m0 0h0m0 0h0m1 3h0m1-2h0m2 0h0m0 2h0m0 2h0m1-6h0m0 2h0m1 4h0m3 0h0m2 0h0m1-3h0m1-1h0m0 0h0m0-2h0m1 1h0m1 2h0m2-4h0m1 1h0m0 1h0m1 2h0m2-1h0m3-1h0m1 2h0m2-3h0m1 6h0m1-7h0m3 6h0m1-2h0m0 1h0m1 0h0m2 1h0m3-5h0m1 3h0m1 1h0m1-5h0m2 5h0m1-1h0m1-3h0m0 4h0m1-1h0m2 0h0m0 2h0m4-1h0m1-4h0m6 1h0m0 1h0m1 4h0m6-6h0m5 4h0m0-3h0m0 0h0m2 2h0m0-3h0m0 6h0m1-7h0m1 0h0m0 7h0m0-7h0m2 3h0m0-2h0m1 1h0m1 1h0m0-3h0m1 3h0m1 0h0m5 0h0m-13 8h0m0 3h0m0-1h0m-2 0h0m0-4h0m-1-1h0m0 7h0m-1-1h0m0 1h0m-2-6h0m-2 1h0m-3 1h0m-1 0h0m-1 1h0m-1 0h0m-2 2h0m0-3h0m0 2h0m-1-1h0m0 3h0m-1-1h0m-2 0h0m0-2h0m0-2h0m-1 2h0m0 1h0m-1-1h0m-5 3h0m-3 0h0m-3-5h0m-1 0h0m-1 4h0m-1-4h0m0-1h0m-5 3h0m0 1h0m-2 0h0m-2 0h0m-1-1h0m-6 3h0m-2-4h0m0-2h0m-1 3h0m0 2h0m-1-3h0m-1 3h0m-2-1h0m-1-4h0m-1 1h0m-2 4h0m0-6h0m-2 5h0m0-3h0m-2 2h0m0-4h0m-3 6h0m-1-6h0m0 7h0m-2-7h0m0 1h0m-2 5h0m-1-6h0m-2 2h0m-1 2h0m-1 3h0m0-2h0m-3-3h0m0 3h0m-1-3h0m-1 2h0m0-3h0m-1 4h0m-7-2h0m-10-2h0m-2 0h0m-3 6h0m-3 0h0m0 0h0m-6-3h0m0 3h0m0 0h0m-2-2h0m-1-2h0m-3 0h0m-1 0h0m0 1h0m0-2h0m-1 3h0m-4 1h0m-2-3h0m0-2h0m-2 5h0m-1-2h0m-1-1h0m-1-2h0m-1 3h0m-1-2h0m0 4h0m-1-5h0m0 2h0m-1-1h0m0 4h0m-4-2h0m-1-2h0m-1 3h0m0-1h0m-3-4h0m0 7h0m-7-5h0m-1 2h0m-2 2h0m0-4h0m0 5h0m-1 0h0m0-3h0m-1 2h0m-1-2h0m-5 2h0m-1 9h0m6-3h0m2-2h0m1 3h0m4 0h0m1-3h0m0 0h0m0 0h0m2 0h0m4 2h0m1-2h0m3 1h0m0-2h0m1-1h0m4 4h0m1 2h0m2-2h0m1 1h0m4-5h0m0 3h0m0 1h0m1-1h0m0 3h0m1-5h0m1-1h0m1 7h0m5-3h0m1-2h0m3 4h0m1-4h0m2 2h0m1 3h0m1-5h0m0 0h0m1 1h0m3-2h0m1 2h0m1 0h0m2 1h0m0-2h0m1-1h0m1 0h0m1 4h0m1 2h0m4-2h0m0-4h0m1 4h0m2-2h0m1 3h0m1 1h0m1-1h0m1-2h0m0 2h0m1-2h0m0 2h0m3-1h0m0-1h0m2 3h0m2 0h0m2 0h0m4 0h0m0 0h0m7-7h0m2 3h0m1 0h0m4 1h0m3 0h0m7-1h0m2 3h0m4-4h0m1 5h0m1-1h0m0 1h0m2-6h0m0 6h0m1 0h0m3-6h0m0 4h0m2 0h0m2 0h0m2 0h0m0-5h0m1 7h0m3-3h0m1 3h0m1-5h0m1 2h0m0-3h0m2 3h0m0-4h0m0 7h0m2-4h0m2 1h0m0-1h0m0-1h0m0-1h0m1 2h0m0 2h0m14-4h0m-34 8h0m-4-1h0m-1 0h0m-28 6h0m0 1h0m-1-5h0m-2 5h0m-2-4h0m-2-3h0m-1 6h0m-2-3h0m-4 3h0m-1 1h0m0-5h0m-2 3h0m-1-5h0m-2 7h0m-2 0h0m0-1h0m-2 0h0m0-6h0m-1 6h0m0 0h0m-1-6h0m0 3h0m-4 0h0m-3-1h0m-1 3h0m0 2h0m-4-2h0m-1-5h0m0 5h0m-2-1h0m-1 1h0m0-5h0m-2 6h0m-2 0h0m-2 1h0m-1-3h0m-2 0h0m-4 0h0m-4-4h0m-2 0h0m-2 2h0m-1-1h0m-1 6h0m-2 0h0m-1-5h0m-1 5h0m-2-4h0m-2 0h0m0-1h0m-3-2h0m0 3h0m0 2h0m0-3h0m0 1h0m-1 4h0m-5-2h0m-3-4h0m-1 5h0m0-6h0m0 7h0m-1-1h0m-1-1h0m0-2h0m-1-1h0m-1 5h0m-2-7h0m0 2h0m-1 5h0m-2 0h0m0-7h0m0 6h0m-1-5h0m0 1h0m-1 2h0m-1-1h0m0 1h0m-2 3h0m0-5h0m-1 3h0m2 3h0m1 6h0m1-6h0m1 0h0m1 2h0m2-2h0m2 4h0m1 1h0m2-3h0m2 2h0m0 0h0m1-3h0m0 6h0m1-7h0m0 6h0m1-5h0m1 6h0m0-1h0m2 0h0m1-3h0m0 2h0m2-1h0m2-1h0m1 2h0m2-5h0m0 3h0m4-1h0m1-1h0m1 1h0m2-2h0m1 2h0m0-1h0m1 5h0m0-4h0m3-1h0m0 5h0m2-4h0m0 3h0m2-5h0m3 6h0m0-6h0m1 5h0m1-4h0m0 2h0m3 4h0m2-2h0m5-5h0m5 6h0m1-3h0m1 4h0m1-5h0m2 2h0m3-1h0m0-3h0m2 6h0m0-6h0m1 7h0m1-5h0m0 4h0m1 0h0m5 0h0m0 1h0m3-7h0m0 7h0m1 0h0m6-6h0m0 1h0m1-2h0m2 1h0m0 1h0m1 5h0m1-1h0m1-2h0m0 3h0m2-4h0m1 4h0m0-4h0m2 2h0m1 1h0m0-1h0m2 2h0m-1 3h0m0 5h0m-1-3h0m0 2h0m-3-4h0m-1 3h0m0-4h0m0 3h0m-1-3h0m-3 0h0m-2 2h0m-1-3h0m-1 0h0m-3 0h0m-1 3h0m-1 3h0m-1 0h0m-2-5h0m-3 6h0m-2-6h0m-5-1h0m-1 1h0m-1 0h0m-1 6h0m-4-3h0m-3 0h0m0-4h0m-1 1h0m-3 3h0m0 2h0m0-1h0m-1 1h0m-1 1h0m-1-4h0m-1-2h0m-3 2h0m-4 1h0m0-1h0m0 3h0m-5-2h0m-1-4h0m-2 3h0m-1-1h0m0 1h0m-2 3h0m0-1h0m-1-1h0m-4 1h0m0-4h0m-5 0h0m-1-1h0m-2 1h0m-4-1h0m0 5h0m-3 1h0m-2-1h0m-2 2h0m0 0h0m-1-2h0m-3-3h0m-4 0h0m-2-2h0m-1 0h0m0 1h0m-1 7h0m1 0h0m3 0h0m0 0h0m1 3h0m4-1h0m1 5h0m0-4h0m1 2h0m0 2h0m2-6h0m0-1h0m5 7h0m8-7h0m2 0h0m1 0h0m0 6h0m0-3h0m0 4h0m3-2h0m1 0h0m2 2h0m0-6h0m3-1h0m2 3h0m0-3h0m0 1h0m1 1h0m1 3h0m2-4h0m0-1h0m0 1h0m3 2h0m0-2h0m0-1h0m2 6h0m3 1h0m0-1h0m0-3h0m2 0h0m3 3h0m0-2h0m1 2h0m1 1h0m2 0h0m1-5h0m0 2h0m2 3h0m1-7h0m0 0h0m2 0h0m0 5h0m2 2h0m1-7h0m2 0h0m9 0h0m2 4h0m1 0h0m2-4h0m0 2h0m1 2h0m1 3h0m2-3h0m4-3h0m7 1h0m2 5h0m0-2h0m1-1h0m1 0h0m-3 6h0m0-1h0m-1 1h0m0 4h0m0-5h0m-3 0h0m-3 4h0m-2-4h0m0 0h0m0 4h0m-4-2h0m0 4h0m-2-5h0m-4-2h0m-3 5h0m-3 2h0m-1-4h0m-3 1h0m-2 1h0m-2-2h0m0-2h0m-1 6h0m-1 0h0m0-2h0m0 1h0m-3 1h0m-1-4h0m-1 0h0m-1 4h0m-7-1h0m0 1h0m-2-6h0m0 0h0m0 5h0m0 0h0m-2-2h0m-2 2h0m-1 0h0m-1-2h0m-2-3h0m-1 3h0m-3-4h0m-4 3h0m-1-3h0m-1 1h0m0 1h0m-4 2h0m-2-3h0m0 0h0m-1-1h0m0 0h0m-1 6h0m-2-3h0m0 4h0m0-5h0m-2 2h0m-1 2h0m-1-1h0m0 2h0m0-1h0m-1 0h0m-1-5h0m-4 4h0m0-5h0m-1 3h0m-1 4h0m0-7h0m-5 0h0m-3 4h0m3 6h0m1 0h0m2-2h0m0 7h0m1-3h0m8-2h0m0 5h0m1-4h0m4-3h0m2 7h0m1-7h0m1 6h0m3-4h0m1 1h0m0 3h0m0 1h0m1-7h0m1 4h0m2 0h0m3-1h0m2 0h0m1 0h0m6-2h0m0 6h0m1-5h0m0-1h0m2 5h0m1 1h0m0-2h0m1-2h0m3 3h0m1-6h0m2 0h0m0 5h0m2-5h0m1 4h0m5-4h0m1 7h0m1 0h0m4-7h0m3 3h0m2-2h0m2 4h0m2-1h0m1-2h0m3 3h0m0 0h0m1 1h0m1-4h0m0-1h0m1 3h0m1 0h0m2-2h0m2 1h0m0 2h0m3 1h0m0-1h0m1-3h0m0 2h0m-1 4h0m-4 1h0m0 1h0m-1-1h0m0 2h0m-4-3h0m-1 2h0m-3-2h0m0 7h0m-1-1h0m0-2h0m-1-2h0m0 2h0m-2 1h0m0-5h0m0 1h0m-1 1h0m-1 3h0m-1 2h0m0-1h0m0 0h0m-4-4h0m-1 5h0m0-1h0m-1-3h0m-4-1h0m-1 0h0m-1 3h0m0-5h0m-3 7h0m-5-1h0m0-4h0m-3-2h0m-1 6h0m0 0h0m0-4h0m-1-2h0m-2 2h0m0-1h0m-1 6h0m0 0h0m-1-3h0m-4-4h0m-1 5h0m0 0h0m0 1h0m-1-6h0m-5 4h0m0 2h0m-2-4h0m-1 2h0m0-2h0m-2 1h0m0 4h0m-1-3h0m-3-1h0m-1 2h0m-3 0h0m-1-4h0m-2 1h0m-1-2h0m0 2h0m-5-2h0m2 8h0m2 4h0m2-1h0m0 2h0m1-3h0m3 0h0m1 1h0m3-1h0m2 1h0m1 3h0m1-5h0m1-1h0m1 4h0m0 3h0m1-3h0m2 3h0m0 0h0m1-7h0m1 4h0m0-1h0m1 1h0m0 1h0m1-3h0m2 3h0m2-1h0m4 3h0m3-2h0m1-5h0m2 0h0m5 1h0m1 5h0m1-3h0m1 4h0m2-2h0m1 2h0m0-1h0m1 0h0m1-1h0m0-2h0m0 1h0m3 1h0m3-5h0m1 5h0m1-2h0m5-2h0m2 1h0m-22 6h0m-2 0h0m-1 3h0m-2 0h0m-5-2h0m-4 0h0m0 1h0m-4 1h0m-5-1h0m-2 0h0m-1-2h0m-8 1h0m-1-1h0" stroke="#c4c4c4" stroke-width="3" stroke-linecap="round"/>
<path transform="scale(.5)" d="M1292 55h0m7 5h0m-6-1h0m-1-1h0m-1 5h0m-9-5h0m-54 5h0m-11 0h0m-22 6h0m6-3h0m4 0h0m4 2h0m2-4h0m1 1h0m14 6h0m6-1h0m0-3h0m56 2h0m11-2h0m4-3h0m2 5h0m6 2h0m11-1h0m3 6h0m-8-2h0m-23 4h0m-1-2h0m0-1h0m-6 3h0m-8-3h0m-13-3h0m-1 5h0m-2 2h0m-27-1h0m-2-2h0m-14 2h0m-7 1h0m-3-2h0m-3-5h0m0 4h0m-2-1h0m-1-3h0m-3 6h0m-3 4h0m6 5h0m4-5h0m24 1h0m5 2h0m0-5h0m1 7h0m21-7h0m10 3h0m3-2h0m1 1h0m9 1h0m0-3h0m5 6h0m5-2h0m6 2h0m6-2h0m7 2h0m2-1h0m3 1h0m5-6h0m5 7h0m2-4h0m4 2h0m24-3h0m9 4h0m3 0h0m0 0h0m11 8h0m-2-3h0m-2-1h0m-3 0h0m-3 0h0m-5 4h0m-3-5h0m-4 5h0m-6-5h0m-6 4h0m-3-4h0m-3 5h0m-4-5h0m-3 5h0m0 0h0m-4 0h0m-2 0h0m-2-2h0m-2-4h0m-3 7h0m-31-2h0m-7-3h0m-8 2h0m-4-2h0m0 0h0m-2 3h0m-1-4h0m-2-1h0m-4 1h0m-23 4h0m-7-1h0m-4 3h0m-3 0h0m-4-4h0m-2 1h0m-3 3h0m-5-2h0m-2-2h0m-2-2h0m-4 0h0m-2 1h0m-3-2h0m16 15h0m1-1h0m4-5h0m3 5h0m1 1h0m3-5h0m3 5h0m2-7h0m4 1h0m0 0h0m6 2h0m11-2h0m3 1h0m4 4h0m1 1h0m14-7h0m4 0h0m0 2h0m16 0h0m8-1h0m2-1h0m11 7h0m6-4h0m14 2h0m5-1h0m1 3h0m3-5h0m8-2h0m2 3h0m8 1h0m1-3h0m7-1h0m1 7h0m7-1h0m2-6h0m12 4h0m1 0h0m6 6h0m0 4h0m-5-6h0m-2 1h0m-6 2h0m-9 1h0m0-4h0m-3 6h0m-1-5h0m-1 2h0m-3 1h0m-4-3h0m-10 1h0m0 5h0m-3-1h0m-3-6h0m-3 0h0m0 3h0m-2 4h0m-4-2h0m-13-3h0m-2 1h0m-25-2h0m-19 3h0m-4 2h0m0 0h0m-9-6h0m-2 0h0m-1 4h0m-3 0h0m-3 0h0m-21 0h0m-1 1h0m-12 0h0m-5 1h0m1 7h0m2 0h0m2 0h0m3-1h0m30 2h0m3 1h0m4-6h0m20 0h0m3 1h0m2 3h0m1-3h0m2-1h0m1 6h0m9 0h0m5-3h0m3-1h0m2-3h0m5 2h0m1 0h0m0 3h0m15 0h0m5 1h0m8-5h0m2-1h0m14 7h0m3-4h0m3-3h0m2 1h0m1 4h0m2 2h0m2-6h0m4 2h0m2 0h0m4-3h0m1 7h0m4-7h0m1 2h0m5-1h0m1 3h0m11 7h0m-7-2h0m-2 4h0m-10-3h0m-2 0h0m-2 0h0m-13 4h0m-2 0h0m-2-5h0m-4 0h0m-2 5h0m0 1h0m-2 0h0m-1-5h0m-1 3h0m-9-5h0m-3 2h0m-2 4h0m-1-3h0m-1 4h0m-2-7h0m-2 3h0m-9 2h0m-4 1h0m-6-1h0m-1-3h0m-5 0h0m-1 3h0m-5 0h0m-1-1h0m-1-3h0m-3 0h0m-6 5h0m-8-2h0m0-1h0m-10 4h0m0-6h0m-8 6h0m-3-6h0m-14 5h0m-2-1h0m-12 3h0m1 1h0m7 5h0m9-6h0m3 1h0m0 0h0m10 2h0m3 1h0m4 1h0m1-2h0m0-2h0m10 4h0m5-5h0m1 1h0m9 2h0m17-2h0m7-1h0m6 4h0m6 1h0m0-3h0m4 5h0m2-2h0m3-5h0m20 7h0m1-1h0m0-5h0m1 6h0m5-7h0m0 7h0m1 0h0m0 0h0m8-2h0m3-5h0m3 3h0m4 4h0m1-3h0m2-3h0m5 2h0m2 0h0m4-3h0m4 7h0m3-4h0m1 4h0m0-2h0m6-1h0m0 1h0m1 4h0m-9 0h0m-4 6h0m-6-5h0m-2 4h0m-19-4h0m-5-2h0m-4 4h0m-3 2h0m-12 0h0m-8-6h0m0 0h0m-6 7h0m-1-6h0m-1 6h0m-1-1h0m-3 0h0m-2 1h0m0-3h0m-3-4h0m-5 7h0m-2-5h0m-1 4h0m-7-2h0m-10 3h0m-7 0h0m-1-7h0m-3 0h0m-1 6h0m-4-2h0m-5-1h0m-3 1h0m-2-1h0m-2-1h0m-3 1h0m-14 3h0m-6 7h0m10-1h0m1-1h0m1 2h0m4-3h0m6-2h0m2 1h0m12 5h0m8 1h0m5-3h0m3 2h0m8 0h0m1-5h0m4 2h0m5 0h0m8-3h0m2 2h0m5 5h0m10 0h0m1-6h0m1 3h0m8-1h0m6 4h0m2-2h0m0-3h0m2 4h0m3-2h0m4-1h0m0-2h0m7 4h0m10-4h0m0 5h0m5-1h0m9-1h0m7-1h0m0 1h0m6-4h0m1 12h0m-1 0h0m-5 1h0m-1-4h0m-5 5h0m-1-5h0m-3 5h0m-3-3h0m-3-1h0m-5 0h0m-2 5h0m-7-7h0m0 7h0m-2-4h0m-3-3h0m-12 4h0m-3 0h0m-5-1h0m0 0h0m-1 2h0m-11 1h0m-4-1h0m-5 2h0m-1-1h0m0-4h0m-5 1h0m-1 0h0m-4 3h0m-4 0h0m-1-2h0m0 1h0m-2-3h0m-2-2h0m0 2h0m0-1h0m-1 6h0m-6-2h0m-1-3h0m-24 1h0m-3 1h0m-1-2h0m-1 5h0m0-2h0m-6-2h0m-6 3h0m-1-5h0m-2 4h0m-11-2h0m-3 3h0m-6-4h0m-2 2h0m-1-3h0m7 10h0m1-2h0m6 2h0m1-3h0m6 7h0m3-1h0m1-6h0m1 6h0m6-3h0m1 1h0m4-3h0m0 1h0m7-1h0m28 4h0m0 0h0m3 2h0m1-2h0m0-5h0m1 0h0m2 0h0m0 3h0m6-2h0m5 6h0m15-5h0m3 2h0m2-2h0m6-2h0m3 2h0m12-2h0m2 0h0m4 2h0m3-2h0m4 3h0m4-3h0m8 1h0m9 2h0m3 3h0m0 0h0m2 8h0m-2-3h0m0-3h0m-8 3h0m-2-3h0m-12 5h0m-22-5h0m-3 2h0m-2 2h0m-1-4h0m-1 1h0m-3 0h0m0-1h0m-2 0h0m0 6h0m-1-4h0m-2 3h0m-7-1h0m-4-3h0m-2 1h0m0 4h0m-4 0h0m-2-5h0m-6 3h0m-1 0h0m-9 1h0m-11-1h0m-3-2h0m-3 5h0m-6-6h0m-2 3h0m-7-1h0m-2 4h0m-17-7h0m-4 6h0m-2-6h0m-6 3h0m-3-2h0m-1 1h0m0-2h0m-6 4h0m-2-1h0m-2-1h0m2 8h0m5-2h0m2 0h0m1 7h0m2-6h0m8 1h0m7 1h0m10-2h0m7 2h0m6-3h0m18 6h0m6-1h0m18-2h0m20-2h0m0 4h0m1-5h0m6 0h0m2 7h0m5-2h0m8-3h0m0 0h0m14 5h0m5-4h0m8-2h0m10 2h0m0-2h0m-12 11h0m0 1h0m-1-4h0m-1 2h0m-1-1h0m-3 2h0m-1 3h0m-1-7h0m-13 2h0m-16 3h0m0-1h0m-1-1h0m-3-3h0m-6 6h0m-4-2h0m0 1h0m-3-2h0m0-3h0m-6 2h0m0-1h0m-13 5h0m-2-4h0m-4 4h0m-1-6h0m-7 3h0m-6 3h0m-11-1h0m-14-4h0m-3 4h0m-2-3h0m-2 5h0m0-7h0m-3 6h0m0-1h0m-5 0h0m-4 1h0m-5 0h0m-2-2h0m-10-4h0m12 10h0m14-1h0m1 1h0m1 4h0m0-2h0m4 0h0m5 2h0m5-2h0m3-4h0m6 2h0m13 0h0m1 1h0m2 2h0m3-3h0m4 1h0m7-3h0m6 1h0m0 4h0m1-5h0m5 2h0m28-1h0m11 6h0m1-5h0m2 2h0m3-3h0m3 0h0m1 1h0m3 0h0m0 5h0m-17 8h0m-3-2h0m-11-1h0m-1-4h0m-1 4h0m-3 3h0m-1-1h0m-13-6h0m-3 3h0m-5 1h0m-7 1h0m-3 0h0m-1-1h0m-6 0h0m-2-4h0m-6 7h0m-2-6h0m-7 3h0m-5 0h0m0-3h0m-6 1h0m-2-2h0m-4 2h0m-8 3h0m-22 0h0m-1-1h0m-3 1h0m-4-1h0m-2-3h0m-16 1h0m-5 3h0m-5 7h0m5-1h0m2 4h0m0-7h0m4 5h0m2 1h0m2-2h0m4 2h0m6-5h0m1 2h0m1-2h0m6-1h0m2 1h0m2 4h0m1-1h0m1 1h0m2 1h0m0-3h0m12-1h0m5 4h0m1-2h0m0 1h0m1 1h0m9-2h0m6 1h0m2 2h0m4-1h0m0-2h0m9 3h0m20-6h0m4 2h0m3 0h0m2-1h0m3 3h0m0-5h0m0 0h0m4 2h0m5 5h0m4-4h0m0-2h0m2 5h0m8 1h0m4-2h0m1-3h0m-16 6h0m-42 6h0m-10-4h0m-2 1h0m-5-3h0m-4 7h0m0-3h0m-1 1h0m-2-3h0m-2 4h0m-3-4h0m-6 1h0m-9-2h0m-9 3h0m-3 2h0m-2-1h0m-5-1h0m-1 2h0m0 1h0m-3-4h0m-9-1h0m0 1h0m0 0h0m0 3h0m-3-4h0m-5 2h0m-1 0h0m0-3h0m-6 1h0m-5 4h0m3 2h0m2 3h0m8 2h0m2 0h0m10-5h0m6 7h0m3-2h0m3-4h0m3 4h0m2 0h0m2 1h0m8-2h0m0 1h0m1 1h0m2 0h0m5 1h0m3-6h0m2 1h0m3 3h0m4-4h0m1 5h0m1 0h0m1-1h0m0-5h0m6 7h0m1-4h0m3 0h0m7 4h0m5-6h0m4 1h0m5 0h0m1 9h0m-2 0h0m-1 2h0m0-5h0m-2 6h0m-2 0h0m-1-6h0m-2 2h0m-4-2h0m-3 2h0m-2 2h0m-3-2h0m-2 4h0m-9 1h0m0-7h0m-4 4h0m-1 3h0m-16-3h0m-1 3h0m-4-7h0m-1 4h0m-4 2h0m-1-5h0m0 3h0m-3 0h0m0-4h0m-9 3h0m-6-1h0m-10-2h0m-4 4h0m-1 3h0m-6-1h0m6 8h0m1-2h0m7 3h0m3-2h0m0 2h0m3-7h0m6 7h0m3-6h0m23 6h0m2-2h0m1-5h0m2 3h0m4 4h0m7-2h0m10-3h0m3 5h0m5-5h0m2 2h0m3-1h0m2-3h0m7 7h0m3-3h0m0-3h0m-3 7h0m-2 1h0m0 5h0m-4 0h0m-7 0h0m-1-4h0m-1-2h0m-1 1h0m-6 1h0m-3 2h0m-1 2h0m-1-3h0m0 4h0m-4-7h0m-1 6h0m-10-3h0m-9 2h0m-3-1h0m-1 3h0m-3-3h0m-11 1h0m0-2h0m-12-1h0m-3 0h0m-2 2h0m-2 0h0m-3 0h0m-2 4h0m1 2h0m5-2h0m2 1h0m10 0h0m2 4h0m3-4h0m4 0h0m0 1h0m2 4h0m4-3h0m3 4h0m1-6h0m2 5h0m2-6h0m2 7h0m0-2h0m2-4h0m1 1h0m0 3h0m0-2h0m6 1h0m6 0h0m1-4h0m3 1h0m3 0h0m6-1h0m9 4h0m6 0h0m3 2h0m4 1h0m0-4h0m-2 7h0m-13-2h0m-2 0h0m-1 5h0m-2 0h0m-1 1h0m0-2h0m-5 1h0m-2-1h0m0-3h0m-5 1h0m-1-1h0m-11 6h0m-3 0h0m-2-1h0m-4 1h0m-7-4h0m-3 4h0m0-3h0m-7-2h0m-2 1h0m-10 6h0m3 0h0m3 4h0m1-1h0m2-4h0m14 0h0m3 2h0m4 2h0m5-4h0m4 2h0m3 5h0m1 0h0m2-7h0m1 2h0m2 4h0m0-2h0m1 1h0m2 2h0m6 0h0m5-5h0m-9 7h0m-13 3h0m0-2h0m-8-1h0m-2 2h0m-1 0h0m-4-3h0m-4 3h0" stroke="#ffffff" stroke-width="1.8" stroke-linecap="round" stroke-opacity="0.9"/>
<path transform="scale(.5)" d="M1300 58h0m-28 10h0m45 0h0m28 11h0m-1-1h0m-33-2h0m-23-2h0m-30 11h0m11 0h0m4-5h0m0 6h0m2-2h0m21 3h0m3-2h0m5 2h0m3 0h0m0-2h0m9-3h0m8 4h0m4 0h0m5-1h0m1-1h0m2-3h0m2 0h0m2 4h0m2-4h0m0 3h0m2 1h0m2-1h0m0 3h0m14 0h0m14 3h0m-1-1h0m-1-1h0m-1 5h0m-7-3h0m-5 2h0m-2-1h0m-3 0h0m-7 1h0m0-3h0m-1 4h0m0-2h0m-1-1h0m0 1h0m-1 3h0m-1-4h0m-5 1h0m-1-2h0m-4 5h0m-2-6h0m-4 0h0m0 5h0m-1 2h0m-1-7h0m-3 1h0m-1 0h0m-6 2h0m-3-2h0m-1-1h0m-1 1h0m0 1h0m0-1h0m-1 0h0m-3 4h0m-3-3h0m-3 3h0m-9-1h0m-6 0h0m-1-4h0m0 5h0m-19 0h0m-9-2h0m-3 0h0m-3 4h0m2 5h0m7-4h0m0 2h0m6 2h0m2-4h0m1 4h0m0 0h0m4-1h0m0-2h0m2 1h0m8 4h0m12 1h0m3-7h0m2 1h0m4-1h0m1 4h0m4-2h0m6 2h0m0-1h0m2 1h0m1 2h0m2-5h0m9 6h0m2-1h0m2-1h0m1 0h0m3 1h0m6-1h0m1 1h0m7-6h0m6 3h0m5-3h0m8 5h0m2 2h0m0-1h0m0-4h0m2 0h0m1 2h0m1-3h0m1 5h0m1-2h0m1-4h0m1 1h0m1 6h0m6-1h0m3-2h0m0-2h0m1 3h0m4 2h0m1 0h0m7 6h0m-4 1h0m-4-3h0m-2 1h0m-16 2h0m-3-5h0m-3 3h0m-4-3h0m-10-1h0m-3 1h0m0 1h0m-2 5h0m-1 0h0m-1-5h0m0 5h0m-1-7h0m-4 6h0m-1-1h0m-6 0h0m-1 2h0m-5-4h0m0 3h0m-1-3h0m-3 2h0m0 0h0m-3 0h0m-2 2h0m-2-6h0m-1 1h0m-7 2h0m0-2h0m-5-1h0m-1 5h0m-6-1h0m-1-4h0m-7 2h0m-2-1h0m-2-2h0m-2 3h0m-8-1h0m-7 5h0m-8-4h0m-2 4h0m-3-4h0m-7-1h0m7 13h0m5-6h0m0 2h0m1 3h0m3-4h0m16 2h0m8 1h0m3-4h0m1 3h0m2-4h0m0 5h0m1-1h0m2-2h0m6-2h0m4 4h0m1-3h0m4 0h0m1 2h0m3 1h0m1 0h0m2 1h0m1-2h0m7 0h0m3 0h0m0 1h0m0-2h0m1-2h0m0 0h0m2 1h0m2 1h0m0 5h0m2-4h0m0-1h0m3 1h0m1 2h0m6-4h0m2 5h0m1 0h0m1-4h0m0 2h0m3-4h0m1 7h0m6-1h0m2 1h0m1-5h0m4 5h0m3-4h0m1 1h0m2-1h0m2 2h0m1-4h0m1 1h0m4 1h0m0 4h0m3 0h0m0-1h0m1 1h0m4-1h0m2 1h0m1-2h0m2-2h0m0 3h0m4-2h0m4-2h0m1 3h0m7 9h0m-2-3h0m-1 4h0m-2-7h0m-5 5h0m-8-4h0m-2 4h0m-2-3h0m-1 3h0m-2-2h0m-2 4h0m-5 0h0m-4-7h0m-2 5h0m-2 1h0m-3-2h0m-4 2h0m0 1h0m0-6h0m-6 0h0m-4 6h0m-2-6h0m-5 2h0m-1 3h0m-1-3h0m0-1h0m-3 1h0m-5 4h0m-3-7h0m-3 6h0m-12 0h0m-3-3h0m-1-3h0m-2 0h0m-4 2h0m-1 4h0m-8-6h0m-1 4h0m-4-2h0m-1-2h0m0 2h0m0 4h0m-3 1h0m-1 0h0m-3-1h0m-2-1h0m-2 0h0m-1 1h0m-1-6h0m-6 7h0m-1-4h0m-6-2h0m-4 5h0m-2-5h0m-6 2h0m0 1h0m-1-2h0m-4-1h0m-1 5h0m-1-2h0m-4 1h0m-1 9h0m1-4h0m8 1h0m4 4h0m2-6h0m4 5h0m1-1h0m4 2h0m13-3h0m1-4h0m1 3h0m9-3h0m5 7h0m3-5h0m4 1h0m1 2h0m0-4h0m2 4h0m3-4h0m3 1h0m0 0h0m2-2h0m12 4h0m2 0h0m2 3h0m1-4h0m2 4h0m1-7h0m6 4h0m2-1h0m5 4h0m3-3h0m0-4h0m3 6h0m5-4h0m1-2h0m10 5h0m1 0h0m0-2h0m4 0h0m4-3h0m0 7h0m4-2h0m2-4h0m1 1h0m6 0h0m4 0h0m3 2h0m1 2h0m3 0h0m2 0h0m1 1h0m1-2h0m2-3h0m7 5h0m3 3h0m-1-2h0m-1 2h0m-1 5h0m-1-2h0m-3-2h0m0-3h0m-1 1h0m-1 1h0m-6 2h0m0 3h0m-2-1h0m-2-6h0m0 7h0m-2 0h0m-4-1h0m0-1h0m-3-3h0m0 0h0m-5 0h0m0 3h0m-4-5h0m-2 3h0m0 4h0m-2 0h0m-4 0h0m0-2h0m-1-2h0m-5 1h0m-11-2h0m-1 4h0m-1-4h0m-1-2h0m-1 4h0m0 1h0m-10-5h0m0 5h0m-1-5h0m-1 1h0m0 5h0m-1-6h0m-2 0h0m-1 0h0m-3 6h0m-1-1h0m-5-5h0m-1 1h0m0 6h0m-3-5h0m-7 0h0m-5 0h0m0-2h0m-1 1h0m-1 3h0m-3 0h0m-1-1h0m0 2h0m-1 1h0m-6 0h0m-3-4h0m-2 4h0m-2-6h0m-3 7h0m-6-4h0m0-1h0m-1 0h0m-2-2h0m0 3h0m-1-3h0m-7 2h0m-1 4h0m-1 1h0m-1-6h0m-3 6h0m-6 0h0m-3-4h0m-1 0h0m0 1h0m0 2h0m-2-4h0m-2 10h0m4-1h0m2 2h0m8-5h0m4 2h0m4 5h0m3-1h0m1-4h0m2-1h0m1-1h0m2 4h0m1-1h0m5 3h0m1-5h0m1 2h0m1 4h0m1-2h0m1-1h0m1 1h0m5 0h0m3-2h0m2 0h0m2 4h0m2-2h0m4 1h0m1-3h0m0-3h0m3 3h0m0 2h0m3-5h0m2 1h0m0 4h0m0-4h0m1 2h0m2 4h0m4-1h0m0 1h0m1-5h0m1-2h0m3 2h0m1 4h0m0-4h0m1 1h0m7 1h0m0 0h0m4-2h0m3 1h0m1 2h0m0-4h0m3-1h0m0 7h0m0-1h0m1-6h0m7 0h0m13 6h0m2-5h0m1 6h0m5-7h0m4 1h0m5 3h0m0-1h0m8-2h0m1 2h0m10-1h0m3 1h0m2 1h0m1 1h0m2-2h0m0 1h0m1 3h0m0-1h0m2-1h0m1 0h0m-2 8h0m0-1h0m-18 2h0m0-2h0m0 2h0m-1-6h0m-3 1h0m-3 3h0m-4-1h0m0-2h0m-7 2h0m-4 4h0m-8-5h0m-1 3h0m-8-5h0m-6 6h0m-2-1h0m-8-3h0m-1 2h0m-4 0h0m0 0h0m-6 2h0m-1-4h0m-1 2h0m-3 0h0m-4-2h0m-2 4h0m0-3h0m-7 4h0m-4 0h0m-6 0h0m-1-1h0m-2-5h0m-4 5h0m-6-2h0m-3-1h0m0 4h0m-8-3h0m-1 0h0m-8 1h0m-5-1h0m-2 0h0m0-1h0m-3 2h0m-2 0h0m0-3h0m0-1h0m-4 4h0m-2-1h0m-10-4h0m-6 2h0m0 1h0m-18 1h0m-8 9h0m1-2h0m12 2h0m15-5h0m5 2h0m1 0h0m0 0h0m0 2h0m2-1h0m4-2h0m1 2h0m2-3h0m4 6h0m2-1h0m1 2h0m1-1h0m2-5h0m1 5h0m1-4h0m4-2h0m2 2h0m4 1h0m1-2h0m4 3h0m1 0h0m2 1h0m8-4h0m0-1h0m4 3h0m5 4h0m10-1h0m1-4h0m0 5h0m3 0h0m3-5h0m0 1h0m3 2h0m3-2h0m6 0h0m2-3h0m1 6h0m7 0h0m2-5h0m4 3h0m3-1h0m0 1h0m3 0h0m1-1h0m1-1h0m5 0h0m4 1h0m3-3h0m0 4h0m0-4h0m2 7h0m7-3h0m4-2h0m0-1h0m2 0h0m0 1h0m1-1h0m3 5h0m0-4h0m3-1h0m10 4h0m2-1h0m2-2h0m11-1h0m1 3h0m-2 7h0m0 0h0m-1-3h0m-2 6h0m-6-3h0m-1-1h0m-3 2h0m-5-4h0m0 0h0m-1 0h0m-1 5h0m-2-1h0m-6-2h0m-2-1h0m-4 3h0m-2 2h0m-2 1h0m-10-5h0m-8-1h0m-6-1h0m-1 4h0m-3-3h0m0 1h0m0 4h0m-2 1h0m-6-7h0m-10 0h0m-1 1h0m-3 5h0m0-6h0m-1 0h0m-1 0h0m-12 5h0m-3 1h0m0-3h0m-2 2h0m-2-4h0m-1 5h0m-1-3h0m-2-2h0m0 5h0m0-2h0m0-3h0m-2 5h0m-6-4h0m-6 1h0m-2-3h0m-2 7h0m-4-6h0m-4-1h0m0 4h0m-4-3h0m-1-1h0m-3 7h0m-2-7h0m-1 2h0m-5 1h0m-10 3h0m0-6h0m-3 5h0m0 1h0m0-4h0m-2-2h0m-1 6h0m0-5h0m0 5h0m-1-3h0m-1 4h0m0-1h0m-1 0h0m-2-6h0m-2 0h0m0 7h0m-9-7h0m-7 5h0m31 5h0m0-2h0m0 3h0m7 0h0m0 2h0m1-4h0m8-1h0m0 1h0m1 3h0m1-3h0m0 5h0m14-4h0m2-1h0m0 2h0m4-3h0m9 0h0m0 2h0m4 2h0m1-1h0m2-2h0m3 6h0m3-2h0m1 2h0m5-7h0m2 2h0m3-2h0m5 7h0m1 0h0m0-1h0m4 0h0m4-2h0m0-1h0m2 4h0m1-7h0m0 0h0m6 5h0m0-3h0m4-2h0m1 6h0m3-3h0m2 3h0m1-6h0m5 1h0m0 3h0m8-4h0m1 7h0m0-5h0m4-1h0m4 3h0m1 3h0m2-3h0m4-1h0m0-1h0m8 2h0m1 3h0m1-3h0m5-4h0m4 6h0m3-4h0m1 1h0m1-2h0m1 0h0m1 0h0m-11 13h0m-3-6h0m-7 6h0m0-1h0m-2-2h0m-1 2h0m-4-2h0m-2 3h0m-1-1h0m-2-3h0m-3 3h0m-1 0h0m-6-3h0m-3 2h0m-3 0h0m0 3h0m-11 0h0m-1-2h0m0 1h0m-2-5h0m-5 2h0m-1 1h0m-1 0h0m-3 3h0m-1-7h0m0 3h0m-5 0h0m-1 3h0m-2-2h0m-6-4h0m-4 1h0m-1 4h0m-4-4h0m-2 6h0m-2-3h0m-3 0h0m-1-2h0m-1 0h0m0 4h0m-4-3h0m-1 3h0m-9 1h0m-1-7h0m-3 7h0m-2-6h0m-4 3h0m-2 1h0m-2-1h0m-1-3h0m0-1h0m-2 3h0m-3-3h0m0 7h0m0-2h0m-2-2h0m-1-1h0m0 3h0m-6-3h0m-1 3h0m-3-3h0m-2 2h0m0 1h0m-2 2h0m-2-5h0m0 5h0m7 2h0m5 1h0m4 3h0m1-3h0m2 2h0m2-1h0m0 4h0m2-1h0m2-5h0m3 2h0m2-1h0m1 5h0m9-5h0m0-1h0m1-1h0m1 7h0m9-2h0m2 1h0m0 0h0m12-2h0m6-2h0m1-2h0m0 5h0m3 2h0m1-6h0m2 3h0m11-3h0m1-1h0m1 2h0m3 3h0m3-5h0m1 1h0m2 1h0m2 2h0m2 0h0m1-3h0m1 1h0m0 0h0m1-1h0m1 6h0m1 0h0m3-3h0m3 0h0m3-1h0m1-3h0m4 3h0m3-3h0m3 5h0m2 1h0m0-1h0m1-5h0m2 1h0m5 3h0m3-2h0m2-2h0m-14 11h0m-1 1h0m-1-3h0m-1 2h0m-2 2h0m-4-1h0m0 1h0m-2-5h0m-1 6h0m-1-4h0m-2 1h0m-5 0h0m-2 4h0m0-7h0m-3 2h0m-8 0h0m-2 0h0m-1 4h0m-1-5h0m-2 3h0m-5 1h0m-1-2h0m-2 0h0m0-1h0m-3 2h0m-3 1h0m0-1h0m-6 0h0m-6 1h0m-2 1h0m-2-1h0m-4 0h0m-3-3h0m-3 5h0m-1-1h0m-6 0h0m-1-3h0m-7-3h0m-1 1h0m-3 1h0m-3-1h0m-5-1h0m34 10h0m13 0h0m1 2h0m0-2h0m1 1h0m2-1h0m2 4h0m4-2h0m1 1h0m0-2h0m3-1h0m0-2h0m6 0h0m1 6h0m2-5h0m4-1h0m0 1h0m1-1h0m1 7h0m3-5h0m3 3h0m0-3h0m1 3h0m2-4h0m2 5h0m1-4h0m4-1h0m8-1h0" stroke="#a0301e" stroke-width="2.5" stroke-linecap="round"/>
<path transform="scale(.5)" d="M1307 62h0m-33-1h0m1 5h0m5 5h0m7-5h0m2 4h0m58 9h0m-3 0h0m-2-2h0m-20-3h0m-1-2h0m-30 4h0m-17 1h0m-12-1h0m-7 10h0m7-4h0m5-1h0m5 3h0m40-3h0m7 5h0m18-3h0m3 0h0m5 3h0m3 1h0m6-6h0m3 5h0m8 0h0m15 7h0m-10-5h0m0 3h0m-1 0h0m-2 4h0m-1-2h0m-2-5h0m-1 0h0m-1 4h0m0-2h0m-1 5h0m0-1h0m-2-6h0m-4 0h0m-1 0h0m-1 6h0m-2 1h0m-1-5h0m-1-2h0m-5 3h0m-2 0h0m-1 2h0m-1-2h0m-2 2h0m-4-5h0m-4 2h0m-2 1h0m-4 0h0m0-2h0m-6 0h0m-4-1h0m-12 4h0m-7-1h0m-19 1h0m-8-2h0m-8 0h0m-4 4h0m0 6h0m1-2h0m7 2h0m1-4h0m3 0h0m1 0h0m5 0h0m1 1h0m5 3h0m7-1h0m3 2h0m0-2h0m0 0h0m7 2h0m8-4h0m5 6h0m6-1h0m3 1h0m6-1h0m4-4h0m10 3h0m1-1h0m2 1h0m7 0h0m6-1h0m2-1h0m1 0h0m0-3h0m2 0h0m3 0h0m0 4h0m13 1h0m9 2h0m1-3h0m3-1h0m6 4h0m4 8h0m-8 0h0m-1-4h0m-3 3h0m-7-4h0m-3-1h0m-1 5h0m-2-6h0m-8 4h0m-5 3h0m-2-7h0m-3 7h0m-10-4h0m-2 0h0m-2 0h0m-3 0h0m-4 3h0m0-4h0m-1 3h0m-6 0h0m-1-2h0m-6 0h0m-4-2h0m0 5h0m-2 1h0m-5 0h0m-1-1h0m-3-2h0m-7 3h0m-2-7h0m-9 2h0m-1 4h0m-10-5h0m-2 0h0m-9 6h0m-8-6h0m-1 4h0m-2-2h0m-3-3h0m-2 5h0m12 4h0m5 5h0m0 1h0m27-7h0m0 5h0m2-5h0m0 3h0m6-3h0m2 3h0m0-2h0m2 6h0m2-5h0m5 2h0m2-4h0m7 7h0m9-4h0m8 4h0m2-5h0m10-1h0m4 1h0m6 0h0m3 5h0m2-4h0m2-3h0m7 5h0m1-5h0m5 0h0m2 6h0m0-6h0m0 6h0m0-4h0m3-1h0m3 4h0m2-4h0m5 4h0m2 1h0m6 0h0m2 0h0m1 1h0m0-5h0m3 2h0m1 5h0m-2-1h0m0 7h0m-4 0h0m-2-2h0m-5-1h0m0-1h0m0 2h0m-2-4h0m-1 4h0m-1-3h0m-5-1h0m-1 0h0m-13 1h0m-1 4h0m-4 1h0m-1-3h0m-2-2h0m-6 1h0m-13 1h0m-3 1h0m-14 2h0m-5-7h0m-3 7h0m-7-3h0m-1-3h0m-9 5h0m-1-1h0m-4-2h0m-4-1h0m0-1h0m-6 3h0m-4-1h0m-10-2h0m-11 1h0m-5 4h0m-1-4h0m-6-1h0m-4 1h0m0 0h0m-12 10h0m0-4h0m1 4h0m9 1h0m13 0h0m0-5h0m13 4h0m9-3h0m2 6h0m1-7h0m2 0h0m2 4h0m2 1h0m1-2h0m3 4h0m0-5h0m13 5h0m1-6h0m4 1h0m8 0h0m3-2h0m3 4h0m8-2h0m3 3h0m4 2h0m3 0h0m0-3h0m2 1h0m1-1h0m13-3h0m2 6h0m0-3h0m8 0h0m8-1h0m7 4h0m0-2h0m0-2h0m5-2h0m3 1h0m3 1h0m2 4h0m2-6h0m2 3h0m0-3h0m1 2h0m1 4h0m7-4h0m5 4h0m-9 7h0m-5-1h0m0 1h0m-1-3h0m-1-2h0m-2 2h0m-5 3h0m-1 0h0m-1-3h0m-2 0h0m-2 0h0m-1 1h0m-6 0h0m-3 2h0m-2 1h0m0-5h0m-1 4h0m-6-6h0m-6 4h0m-2-3h0m-2 6h0m-1-2h0m-10 1h0m-4-4h0m0 4h0m-4-5h0m0 5h0m-3-6h0m-9 4h0m-1 2h0m-2 0h0m-1 1h0m-6 0h0m-2-5h0m-10 2h0m-1-1h0m-2 1h0m-16 2h0m-5-3h0m-5 0h0m-2-1h0m-14 1h0m-2-2h0m-12-1h0m7 11h0m1 1h0m2 0h0m2 1h0m1-2h0m4 4h0m3-2h0m0-4h0m2 5h0m2 1h0m2-7h0m1 4h0m4 2h0m0 0h0m5-3h0m1 3h0m0-1h0m1-2h0m2 0h0m0 4h0m3-3h0m3-4h0m1 1h0m1 3h0m3-3h0m11 3h0m9-4h0m2 6h0m3 1h0m6-6h0m4-1h0m1 1h0m0 4h0m6-4h0m3 0h0m0 2h0m1 2h0m1 2h0m0 0h0m2-7h0m1 3h0m2-2h0m0-1h0m2 4h0m3 2h0m3-5h0m5 2h0m0-1h0m2-2h0m1 1h0m1 3h0m4 2h0m2-5h0m1 1h0m1 4h0m4-4h0m3 2h0m12-4h0m4 3h0m4 0h0m3 1h0m0 1h0m0-3h0m1-1h0m5 5h0m2-3h0m3 12h0m-2-4h0m-1 3h0m-2 0h0m-1 0h0m-8-1h0m-6-4h0m0 2h0m-1-3h0m-7 6h0m-6-5h0m-2 5h0m-3 1h0m-2-4h0m-2 3h0m0-4h0m0 5h0m-1-5h0m0 4h0m-5-1h0m-2-1h0m-6-4h0m0 7h0m-7-7h0m-2 0h0m-1 7h0m-1-4h0m-6 4h0m-7-3h0m-4-4h0m-3 1h0m-6 5h0m-3-5h0m-8 3h0m-5 3h0m-8-6h0m0 6h0m-10-7h0m-1 5h0m-2-3h0m0 1h0m-3-1h0m-1 1h0m-2-2h0m-4-1h0m0 1h0m-4 5h0m0-5h0m-9 2h0m-1 4h0m-3-5h0m-3 2h0m-9-1h0m-15 6h0m2 5h0m12-2h0m1 3h0m0-3h0m2-2h0m1-2h0m0 4h0m0 0h0m1-2h0m6 0h0m2 4h0m2 0h0m1 0h0m2-1h0m0-1h0m0-4h0m3 1h0m1 2h0m0-3h0m9 1h0m1 1h0m1-1h0m2 5h0m1-2h0m16-1h0m4-1h0m0 1h0m9 3h0m0-5h0m4-1h0m6 4h0m1-1h0m0-3h0m5 4h0m6-1h0m0 2h0m7-2h0m6 0h0m2-1h0m2 1h0m5-3h0m6 3h0m8 3h0m0-5h0m3 5h0m3-3h0m3 4h0m15-1h0m0-4h0m3 5h0m4-6h0m1 6h0m1-3h0m6-1h0m1 0h0m3 4h0m1-5h0m7 3h0m3 0h0m-5 4h0m-2-1h0m-3 3h0m-1 3h0m-3-6h0m-2 7h0m-1-2h0m-2 2h0m-3-5h0m0-1h0m-22 4h0m-1 1h0m-3-4h0m-2 0h0m-4 2h0m-6-3h0m-8 0h0m0-1h0m-5 1h0m-7 4h0m0-3h0m-2-1h0m-2 0h0m-2 0h0m-2 2h0m-1 4h0m-3-5h0m0 2h0m-21 1h0m-1-5h0m-2 1h0m-11 3h0m-10-3h0m-1 0h0m-3 1h0m0-2h0m-1 3h0m-4 3h0m-3 0h0m0-3h0m-2-2h0m-7 0h0m-1-1h0m-2 5h0m-2-3h0m-1 2h0m-3 3h0m-1-1h0m-1 1h0m0-3h0m-4 2h0m-2-4h0m-1 1h0m-3-2h0m0-1h0m-1 0h0m-1 7h0m0 0h0m-12-6h0m-6 3h0m-1-2h0m22 11h0m2-5h0m4 4h0m4-2h0m2-1h0m2 1h0m0 5h0m3-2h0m2 0h0m4-2h0m5 0h0m5 3h0m3-4h0m13 3h0m1 2h0m2-7h0m0 6h0m1-5h0m10 0h0m7 3h0m0-4h0m4 5h0m2-2h0m13 3h0m2-4h0m0 5h0m1-5h0m4 4h0m3-5h0m3 6h0m3-7h0m4 2h0m2 5h0m7-2h0m4-5h0m2 6h0m5-6h0m0 7h0m2 0h0m0-4h0m9 4h0m7-1h0m1-2h0m4-3h0m1-1h0m1 6h0m1-6h0m3 5h0m1-3h0m8 4h0m-8 9h0m-3 0h0m0-1h0m-2 0h0m-7-6h0m-4 2h0m-1 3h0m-5 1h0m-7-5h0m-2 2h0m-1-3h0m0 6h0m-3-5h0m-2 5h0m-5-2h0m-3 2h0m-10-4h0m-7 2h0m-4-2h0m0 0h0m-10-1h0m-5 4h0m0 1h0m-1-5h0m-1 0h0m-10 3h0m-3 0h0m-3 1h0m-5-4h0m0 6h0m-3-6h0m-3 2h0m-2-3h0m-2 1h0m-1 1h0m-2 4h0m-1-2h0m-2-4h0m-1 4h0m0-1h0m-2 2h0m-10-4h0m-3 1h0m0 5h0m-1-2h0m-3 0h0m-4 0h0m-9 0h0m12 6h0m6 1h0m5 2h0m0-6h0m2 2h0m5 2h0m5 0h0m4-2h0m1-2h0m5 3h0m1 0h0m2 0h0m1-3h0m2 4h0m1 3h0m0-4h0m2-3h0m7 3h0m3 2h0m2-2h0m0 1h0m1-2h0m2 0h0m3 5h0m8-4h0m12 0h0m0 1h0m0-4h0m2 5h0m1-5h0m2 7h0m5-5h0m4 4h0m0 1h0m1-2h0m2-1h0m6 1h0m1-2h0m1 0h0m2 1h0m1-3h0m3 5h0m1-1h0m2 0h0m1-4h0m0 3h0m8 1h0m2-1h0m0 5h0m-1 3h0m-1 0h0m-1-1h0m-7 4h0m0-5h0m-4 0h0m-2 3h0m-4 1h0m-7-3h0m-2 4h0m-1-3h0m-8 1h0m-3-3h0m-2 5h0m-5-7h0m-1 2h0m-5-2h0m-1 2h0m-8-1h0m-3 3h0m-4-4h0m-2 2h0m-6 1h0m0 4h0m-3-4h0m-6-2h0m0 0h0m-1 4h0m-9-1h0m-2-1h0m-2-2h0m-2 1h0m0 0h0m44 7h0m4-1h0m5 6h0m18-5h0m0 6h0m6-7h0m3 2h0m0-2h0m6 3h0m6-1h0" stroke="#74180c" stroke-width="2.4" stroke-linecap="round"/>
<path transform="scale(.5)" d="M1268 70h0m83 8h0m-85-3h0m-14 12h0m1-2h0m7 2h0m6-6h0m7 5h0m2-3h0m13-2h0m50 3h0m10 1h0m11 0h0m1-1h0m2 2h0m14 6h0m0 2h0m-4-2h0m-1 1h0m-3-1h0m-5-2h0m-8-1h0m-11 2h0m-3 4h0m-11-1h0m-6-6h0m-4 3h0m-19 2h0m-1-4h0m-10-1h0m-6 5h0m-11-3h0m-3 0h0m-5 3h0m-1-2h0m-10 7h0m5 2h0m13 1h0m3-3h0m13 5h0m2-6h0m23 4h0m5-5h0m1 7h0m7-7h0m18 2h0m29 0h0m0 4h0m1-6h0m9 0h0m3 7h0m5 2h0m-12 3h0m-39 0h0m-5 2h0m-5 0h0m0-1h0m-3-3h0m-21-2h0m0 4h0m-15-2h0m-1 2h0m-8-3h0m0 6h0m-6-6h0m-16 1h0m-1 5h0m-6-4h0m8 12h0m4-5h0m30 5h0m3-7h0m3 1h0m6 5h0m3 1h0m8-1h0m5-2h0m1-4h0m1 4h0m2-1h0m3-2h0m0 0h0m2 0h0m7-1h0m7 1h0m3 6h0m1-2h0m6-5h0m11 1h0m7 0h0m5 6h0m2-7h0m0 1h0m3 3h0m1-1h0m4 3h0m4-6h0m11 4h0m1 3h0m5-1h0m-1 8h0m-1-2h0m-16-1h0m-7 0h0m-8 3h0m-5 0h0m-1 0h0m-1-3h0m-1 0h0m-4-3h0m-8 6h0m-8-1h0m-5-1h0m-3 2h0m-33-6h0m-1 2h0m-17 4h0m-2-3h0m-3 1h0m-7-4h0m-6 7h0m-11-4h0m-23 5h0m3 4h0m10 1h0m33 1h0m7-3h0m3 4h0m2-5h0m0 1h0m4 2h0m0-1h0m6-2h0m4 1h0m6-2h0m1 1h0m2 5h0m2-4h0m2 4h0m12-1h0m14-6h0m5 1h0m5 5h0m26 0h0m13-6h0m2 0h0m11 7h0m1-6h0m9 8h0m-6-1h0m0 0h0m-3 7h0m-19-1h0m-10-1h0m-1 2h0m-1-4h0m-2-1h0m0 2h0m-5 3h0m-13-3h0m-1 0h0m-32 1h0m-2-3h0m-6 2h0m-5-3h0m-13 4h0m-4-5h0m-4 7h0m-4-7h0m-20 2h0m-10-1h0m-8 14h0m5-4h0m3-1h0m0-1h0m6 0h0m1-1h0m2 3h0m2-1h0m1-2h0m2 1h0m6 1h0m2 2h0m1-2h0m5 2h0m1 1h0m8-2h0m2-1h0m0 4h0m2 1h0m3-6h0m6 0h0m2 0h0m0 4h0m5-4h0m2 2h0m6-2h0m3 5h0m10-2h0m8-3h0m1 4h0m19-4h0m6 4h0m12-2h0m8-3h0m8 6h0m7-4h0m1 3h0m1 0h0m0-2h0m1 3h0m5-2h0m2 3h0m4-7h0m2 2h0m1 4h0m-1 7h0m-18-3h0m-2-2h0m-3 7h0m-2-6h0m-4-1h0m-4 3h0m-14 0h0m-5 0h0m-2 2h0m-8-2h0m-5 3h0m-7-2h0m-3-1h0m-6-1h0m-1 0h0m-2 2h0m-11 2h0m-1-3h0m-1-1h0m-1 2h0m-1-1h0m-5 2h0m0 2h0m-8-6h0m-2-1h0m-1 3h0m-5 1h0m0 2h0m-10 1h0m-2-3h0m0-3h0m-3-1h0m0 1h0m-4 4h0m-6 1h0m-25-2h0m-2 0h0m-21 2h0m-2 2h0m27 3h0m14-1h0m15 3h0m11 2h0m2-6h0m1 1h0m2 5h0m2 0h0m7-3h0m3-2h0m1 2h0m1 3h0m5-6h0m9 5h0m4-3h0m2 2h0m6-5h0m4 1h0m1 2h0m3 0h0m10-3h0m7 6h0m1-2h0m8-1h0m3 1h0m8-2h0m6 0h0m0-2h0m2 2h0m6-1h0m2 1h0m0-1h0m6 6h0m9-6h0m1 4h0m2-1h0m1-3h0m4 5h0m2-5h0m-7 14h0m-1 0h0m-2-3h0m-1-2h0m-5-2h0m0 7h0m-3-4h0m-1-3h0m-6 2h0m-4 2h0m0-4h0m-1 7h0m-1-6h0m-24-1h0m-4 0h0m-8 1h0m-4 5h0m-11-5h0m-3 1h0m-5-1h0m-13 4h0m-7-2h0m-20-3h0m-2 2h0m-9-1h0m-10-1h0m-7 5h0m-1-3h0m-13 1h0m-28-3h0m30 10h0m1 3h0m0 1h0m1-4h0m8 4h0m6-4h0m8 5h0m10-2h0m3-1h0m13 0h0m7 3h0m2 0h0m0-6h0m6 3h0m1-3h0m2 5h0m3-3h0m10 1h0m15-2h0m3-2h0m18 6h0m12 0h0m8-6h0m3 5h0m3-1h0m4-2h0m3 2h0m3 0h0m6-1h0m5-3h0m-8 11h0m-5 3h0m-2-3h0m-1-3h0m-5 7h0m-2-1h0m-3-6h0m-3 4h0m-6-1h0m-4 4h0m-4 0h0m-1 0h0m-6-1h0m-39-3h0m-24-3h0m-7 6h0m-8-2h0m-8-2h0m-6-1h0m-6 6h0m-7-1h0m-8-3h0m14 5h0m5 5h0m9-3h0m1 4h0m8-5h0m3 1h0m6 5h0m2-2h0m1-3h0m3 0h0m1 0h0m2 2h0m10 0h0m4-1h0m1-1h0m7-1h0m29 6h0m5-3h0m0-4h0m18 1h0m12 2h0m4-1h0m-8 7h0m-7 2h0m-8 1h0m-1 2h0m-1-3h0m-9 1h0m-18-3h0m-14 1h0m-2 1h0m-10-2h0m-1 0h0m-1 0h0m-11 2h0m-6 3h0m31 7h0m5-1h0m7 0h0m5-3h0m3 6h0m4-1h0m2-4h0m0 5h0m18-5h0m-23 6h0m-1 0h0m-7 1h0" stroke="#400c06" stroke-width="2.2" stroke-linecap="round"/>
<path transform="scale(.5)" d="M1207 60h0m-2 2h0m-1 6h0m30 10h0m-35 1h0m-1-1h0m38 3h0m-3 10h0m-31 4h0m29 5h0m8-4h0m-3 8h0m16 98h0m-23 6h0m66 4h0m8 1h0m5 7h0m-75-2h0m76 40h0m2 10h0m-51-2h0m-4 1h0m-14 0h0m-7-1h0" stroke="#a03020" stroke-width="2.4" stroke-linecap="round"/>
<line x1="566.3" y1="45.2" x2="568.3" y2="45.2" stroke="#333" stroke-width="0.7"/>
<text x="565" y="49.7" font-size="13" text-anchor="end" stroke="#000" stroke-width="0.22">5</text>
<line x1="566.3" y1="83.8" x2="568.3" y2="83.8" stroke="#333" stroke-width="0.7"/>
<text x="565" y="88.3" font-size="13" text-anchor="end" stroke="#000" stroke-width="0.22">0</text>
<line x1="566.3" y1="122.3" x2="568.3" y2="122.3" stroke="#333" stroke-width="0.7"/>
<text x="565" y="126.8" font-size="13" text-anchor="end" stroke="#000" stroke-width="0.22">−5</text>
<line x1="612.1" y1="149.5" x2="612.1" y2="151.5" stroke="#333" stroke-width="0.7"/>
<text x="612.1" y="164.6" font-size="13" text-anchor="middle" stroke="#000" stroke-width="0.22">−5</text>
<line x1="655.6" y1="149.5" x2="655.6" y2="151.5" stroke="#333" stroke-width="0.7"/>
<text x="655.6" y="164.6" font-size="13" text-anchor="middle" stroke="#000" stroke-width="0.22">0</text>
<line x1="699.2" y1="149.5" x2="699.2" y2="151.5" stroke="#333" stroke-width="0.7"/>
<text x="699.2" y="164.6" font-size="13" text-anchor="middle" stroke="#000" stroke-width="0.22">5</text>
<text x="546.5" y="88.5" font-size="13" text-anchor="middle" stroke="#000" stroke-width="0.22" transform="rotate(-90 546.5 88.5)">UMAP_2</text>
<text x="654.8" y="178.6" font-size="13" text-anchor="middle" stroke="#000" stroke-width="0.22">UMAP_1</text>
<rect x="728.3" y="75.4" width="67.4" height="74.7" fill="#fff" stroke="#000" stroke-width="1.1"/>
<text x="760.5" y="90.6" font-size="12" text-anchor="middle" stroke="#000" stroke-width="0.22">Ave. Exp.</text>
<defs><linearGradient id="gD" x1="0" x2="0" y1="0" y2="1"><stop offset="0" stop-color="#1a0808"/><stop offset="0.5" stop-color="#8a1e0c"/><stop offset="1" stop-color="#d4d4d4"/></linearGradient></defs>
<rect x="742" y="95.5" width="10.8" height="48.5" fill="url(#gD)"/>
<line x1="742" y1="104.9" x2="744" y2="104.9" stroke="#fff" stroke-width="0.6"/>
<line x1="750.8" y1="104.9" x2="752.8" y2="104.9" stroke="#fff" stroke-width="0.6"/>
<text x="754.5" y="109.3" font-size="12" stroke="#000" stroke-width="0.22">1.5</text>
<line x1="742" y1="120.6" x2="744" y2="120.6" stroke="#fff" stroke-width="0.6"/>
<line x1="750.8" y1="120.6" x2="752.8" y2="120.6" stroke="#fff" stroke-width="0.6"/>
<text x="754.5" y="125" font-size="12" stroke="#000" stroke-width="0.22">1.0</text>
<line x1="742" y1="137.4" x2="744" y2="137.4" stroke="#fff" stroke-width="0.6"/>
<line x1="750.8" y1="137.4" x2="752.8" y2="137.4" stroke="#fff" stroke-width="0.6"/>
<text x="754.5" y="141.8" font-size="12" stroke="#000" stroke-width="0.22">0.5</text>
<text x="533.6" y="205" font-size="13" stroke="#000" stroke-width="0.22">E</text>
<rect x="567.9" y="204.1" width="136.3" height="69" fill="#f5f5f5"/>
<rect x="567.9" y="273.1" width="136.3" height="67.7" fill="#e6e6e6"/>
<rect x="567.9" y="204.1" width="136.3" height="136.7" fill="none" stroke="#333" stroke-width="0.9"/>
<text x="544.2" y="280.5" font-size="12" text-anchor="middle" stroke="#000" stroke-width="0.22" transform="rotate(-90 544.2 280.5)">Ligand-receptor</text>
<text x="557.8" y="280.5" font-size="12" text-anchor="middle" stroke="#000" stroke-width="0.22" transform="rotate(-90 557.8 280.5)">connections</text>
<line x1="640.6" y1="215.1" x2="585.3" y2="302.2" stroke="#a6a6a6" stroke-width="3.2"/>
<line x1="640.6" y1="215.1" x2="628.8" y2="329" stroke="#a6a6a6" stroke-width="0.5"/>
<line x1="640.6" y1="215.1" x2="677.4" y2="300.6" stroke="#a6a6a6" stroke-width="0.3"/>
<line x1="590.3" y1="245.3" x2="585.3" y2="302.2" stroke="#a6a6a6" stroke-width="5"/>
<line x1="590.3" y1="245.3" x2="677.4" y2="300.6" stroke="#a6a6a6" stroke-width="2.6"/>
<line x1="590.3" y1="245.3" x2="628.8" y2="329" stroke="#a6a6a6" stroke-width="2.8"/>
<line x1="684.1" y1="243.6" x2="585.3" y2="302.2" stroke="#a6a6a6" stroke-width="5"/>
<line x1="684.1" y1="243.6" x2="628.8" y2="329" stroke="#a6a6a6" stroke-width="2.8"/>
<line x1="684.1" y1="243.6" x2="677.4" y2="300.6" stroke="#a6a6a6" stroke-width="1.5"/>
<circle cx="640.6" cy="215.1" r="7.4" fill="#9fdcae" stroke="#bbb" stroke-width="0.5"/>
<text x="640.6" y="219.7" font-size="12" text-anchor="middle" stroke="#000" stroke-width="0.22">D</text>
<circle cx="590.3" cy="245.3" r="9" fill="#7a7a7a" stroke="#bbb" stroke-width="0.5"/>
<text x="590.3" y="249.9" font-size="13" text-anchor="middle" stroke="#000" stroke-width="0.22">D</text>
<circle cx="684.1" cy="243.6" r="11" fill="#f4938a" stroke="#bbb" stroke-width="0.5"/>
<text x="684.1" y="248.2" font-size="13" text-anchor="middle" stroke="#000" stroke-width="0.22">D</text>
<circle cx="585.3" cy="302.2" r="11.5" fill="#7a7a7a" stroke="#bbb" stroke-width="0.5"/>
<text x="585.3" y="306.8" font-size="13" text-anchor="middle" stroke="#000" stroke-width="0.22">R</text>
<circle cx="677.4" cy="300.6" r="7.2" fill="#9fdcae" stroke="#bbb" stroke-width="0.5"/>
<text x="677.4" y="305.2" font-size="12" text-anchor="middle" stroke="#000" stroke-width="0.22">R</text>
<circle cx="628.8" cy="329" r="10" fill="#f4938a" stroke="#bbb" stroke-width="0.5"/>
<text x="628.8" y="333.6" font-size="13" text-anchor="middle" stroke="#000" stroke-width="0.22">R</text>
<text x="623.8" y="247.4" font-size="10.5" text-anchor="middle" fill="#b5312a" stroke="#b5312a" stroke-width="0.22">93</text>
<text x="652.3" y="244.1" font-size="10.5" text-anchor="middle" fill="#b5312a" stroke="#b5312a" stroke-width="0.22">5</text>
<text x="637.9" y="260.1" font-size="10.5" text-anchor="middle" fill="#b5312a" stroke="#b5312a" stroke-width="0.22">15</text>
<text x="587.6" y="276.9" font-size="10.5" text-anchor="middle" fill="#b5312a" stroke="#b5312a" stroke-width="0.22" transform="rotate(-78 587.6 276.9)">157</text>
<text x="625.5" y="286.9" font-size="10.5" text-anchor="middle" fill="#b5312a" stroke="#b5312a" stroke-width="0.22" transform="rotate(-25 625.5 286.9)">154</text>
<text x="648.9" y="284.3" font-size="10.5" text-anchor="middle" fill="#b5312a" stroke="#b5312a" stroke-width="0.22" transform="rotate(20 648.9 284.3)">78</text>
<text x="681.4" y="278.2" font-size="10.5" text-anchor="middle" fill="#b5312a" stroke="#b5312a" stroke-width="0.22">37</text>
<text x="618.8" y="309.4" font-size="10.5" text-anchor="middle" fill="#b5312a" stroke="#b5312a" stroke-width="0.22">89</text>
<text x="646.6" y="308.7" font-size="10.5" text-anchor="middle" fill="#b5312a" stroke="#b5312a" stroke-width="0.22">80</text>
<rect x="709.9" y="236.9" width="85.8" height="103.2" fill="#fff" stroke="#000" stroke-width="1.1"/>
<text x="712.6" y="251.9" font-size="13" stroke="#000" stroke-width="0.22">Population</text>
<circle cx="719.3" cy="264.4" r="4.3" fill="#9fdcae"/>
<text x="727.7" y="268.8" font-size="13" stroke="#000" stroke-width="0.22">Sca-1<tspan font-size="7" dy="-5">−</tspan></text>
<circle cx="719.3" cy="281.1" r="4.3" fill="#f4938a"/>
<text x="727.7" y="285.5" font-size="13" stroke="#000" stroke-width="0.22">Sca-1<tspan font-size="7" dy="-5">+</tspan></text>
<circle cx="719.3" cy="297.9" r="4.3" fill="#7a7a7a"/>
<text x="727.7" y="302.3" font-size="13" stroke="#000" stroke-width="0.22">Endo</text>
<text x="713.4" y="319.4" font-size="13" stroke="#000" stroke-width="0.22">D: Donor</text>
<text x="713.4" y="335.8" font-size="13" stroke="#000" stroke-width="0.22">R: Recipient</text>
<text x="0" y="331.3" font-size="13" stroke="#000" stroke-width="0.22">F</text>
<text x="85.3" y="328.3" font-size="13" text-anchor="middle" stroke="#000" stroke-width="0.22">Incoming/Outgoing</text>
<text x="85.3" y="339.8" font-size="13" text-anchor="middle" stroke="#000" stroke-width="0.22">connections</text>
<rect x="47.7" y="348.4" width="95.8" height="158.1" fill="#fff"/>
<line x1="47.7" y1="477.8" x2="143.5" y2="477.8" stroke="#f0f0f0" stroke-width="0.5"/>
<line x1="47.7" y1="444" x2="143.5" y2="444" stroke="#f0f0f0" stroke-width="0.5"/>
<line x1="47.7" y1="410.1" x2="143.5" y2="410.1" stroke="#f0f0f0" stroke-width="0.5"/>
<line x1="47.7" y1="376.3" x2="143.5" y2="376.3" stroke="#f0f0f0" stroke-width="0.5"/>
<line x1="67.3" y1="348.4" x2="67.3" y2="506.5" stroke="#f0f0f0" stroke-width="0.5"/>
<line x1="100.2" y1="348.4" x2="100.2" y2="506.5" stroke="#f0f0f0" stroke-width="0.5"/>
<line x1="133.2" y1="348.4" x2="133.2" y2="506.5" stroke="#f0f0f0" stroke-width="0.5"/>
<line x1="47.7" y1="494.7" x2="143.5" y2="494.7" stroke="#dedede" stroke-width="0.8"/>
<line x1="45.2" y1="494.7" x2="47.7" y2="494.7" stroke="#333" stroke-width="0.8"/>
<text x="41.6" y="499.2" font-size="13" text-anchor="end" stroke="#000" stroke-width="0.22">200</text>
<line x1="47.7" y1="460.9" x2="143.5" y2="460.9" stroke="#dedede" stroke-width="0.8"/>
<line x1="45.2" y1="460.9" x2="47.7" y2="460.9" stroke="#333" stroke-width="0.8"/>
<text x="41.6" y="465.4" font-size="13" text-anchor="end" stroke="#000" stroke-width="0.22">300</text>
<line x1="47.7" y1="427" x2="143.5" y2="427" stroke="#dedede" stroke-width="0.8"/>
<line x1="45.2" y1="427" x2="47.7" y2="427" stroke="#333" stroke-width="0.8"/>
<text x="41.6" y="431.5" font-size="13" text-anchor="end" stroke="#000" stroke-width="0.22">400</text>
<line x1="47.7" y1="393.2" x2="143.5" y2="393.2" stroke="#dedede" stroke-width="0.8"/>
<line x1="45.2" y1="393.2" x2="47.7" y2="393.2" stroke="#333" stroke-width="0.8"/>
<text x="41.6" y="397.7" font-size="13" text-anchor="end" stroke="#000" stroke-width="0.22">500</text>
<line x1="47.7" y1="359.4" x2="143.5" y2="359.4" stroke="#dedede" stroke-width="0.8"/>
<line x1="45.2" y1="359.4" x2="47.7" y2="359.4" stroke="#333" stroke-width="0.8"/>
<text x="41.6" y="363.9" font-size="13" text-anchor="end" stroke="#000" stroke-width="0.22">600</text>
<line x1="50.9" y1="348.4" x2="50.9" y2="506.5" stroke="#dedede" stroke-width="0.8"/>
<line x1="50.9" y1="506.5" x2="50.9" y2="509" stroke="#333" stroke-width="0.8"/>
<text x="50.9" y="522.3" font-size="13" text-anchor="middle" stroke="#000" stroke-width="0.22">200</text>
<line x1="83.8" y1="348.4" x2="83.8" y2="506.5" stroke="#dedede" stroke-width="0.8"/>
<line x1="83.8" y1="506.5" x2="83.8" y2="509" stroke="#333" stroke-width="0.8"/>
<text x="83.8" y="522.3" font-size="13" text-anchor="middle" stroke="#000" stroke-width="0.22">400</text>
<line x1="116.7" y1="348.4" x2="116.7" y2="506.5" stroke="#dedede" stroke-width="0.8"/>
<line x1="116.7" y1="506.5" x2="116.7" y2="509" stroke="#333" stroke-width="0.8"/>
<text x="116.7" y="522.3" font-size="13" text-anchor="middle" stroke="#000" stroke-width="0.22">600</text>
<rect x="47.7" y="348.4" width="95.8" height="158.1" fill="none" stroke="#444" stroke-width="0.8"/>
<circle cx="136.3" cy="355.7" r="1.4" fill="#222"/>
<path d="M130.6 355.7L120.5 350.6L120.5 360.8Z" fill="#000"/>
<circle cx="64.7" cy="413.4" r="1.4" fill="#f03a1e"/>
<path d="M71.5 413.4L81.2 408.4L81.2 418.4Z" fill="#000"/>
<circle cx="48.9" cy="499.5" r="1.4" fill="#39b54a"/>
<path d="M54.7 499.5L64.1 494.8L64.1 504.2Z" fill="#000"/>
<text x="11.2" y="425.8" font-size="13" text-anchor="middle" stroke="#000" stroke-width="0.22" transform="rotate(-90 11.2 425.8)">Total outgoing weights</text>
<text x="91" y="538" font-size="13" text-anchor="middle" stroke="#000" stroke-width="0.22">Total incoming</text>
<text x="92.6" y="551" font-size="13" text-anchor="middle" stroke="#000" stroke-width="0.22">weights</text>
<text x="160.3" y="379.8" font-size="13" stroke="#000" stroke-width="0.22">G</text>
<text x="252.1" y="375" font-size="13" text-anchor="middle" stroke="#000" stroke-width="0.22">Angiogenesis-related</text>
<text x="254.1" y="387.6" font-size="13" text-anchor="middle" stroke="#000" stroke-width="0.22">connections</text>
<path d="M250.4 537A64.6 64.6 0 0 1 223.4 526.1Q260.5 473.2 246 410.3A64.6 64.6 0 0 1 290.8 416.2Q260.5 473.2 250.4 537Z" fill="#b4b4b4" fill-opacity="0.55"/>
<path d="M211 514.7A64.6 64.6 0 0 1 196.3 480Q260.5 473.2 196.3 466.4A64.6 64.6 0 0 1 203.5 442.9Q260.5 473.2 211 514.7Z" fill="#b4b4b4" fill-opacity="0.55"/>
<path d="M223.4 526.1A64.6 64.6 0 0 1 211 514.7Q260.5 473.2 216.4 426A64.6 64.6 0 0 1 234.2 414.2Q260.5 473.2 223.4 526.1Z" fill="#b4b4b4" fill-opacity="0.55"/>
<path d="M324.9 478.8A64.6 64.6 0 0 1 306.2 518.9Q260.5 473.2 307 428.3A64.6 64.6 0 0 1 324.9 467.6Q260.5 473.2 324.9 478.8Z" fill="#e6cc94" fill-opacity="0.62"/>
<path d="M306.2 518.9A64.6 64.6 0 0 1 287.8 531.7Q260.5 473.2 204.6 440.9A64.6 64.6 0 0 1 214.8 427.5Q260.5 473.2 306.2 518.9Z" fill="#e6cc94" fill-opacity="0.62"/>
<path d="M287.8 531.7A64.6 64.6 0 0 1 276.1 535.9Q260.5 473.2 236.3 413.3A64.6 64.6 0 0 1 244.9 410.5Q260.5 473.2 287.8 531.7Z" fill="#e6cc94" fill-opacity="0.62"/>
<path d="M275 536.1A64.6 64.6 0 0 1 254.9 537.6Q260.5 473.2 290.8 416.2A64.6 64.6 0 0 1 307 428.3Q260.5 473.2 275 536.1Z" fill="#9c8ce6" fill-opacity="0.5"/>
<path d="M254.9 537.6A64.6 64.6 0 0 1 253.2 537.4Q260.5 473.2 203.5 442.9A64.6 64.6 0 0 1 204.6 440.9Q260.5 473.2 254.9 537.6Z" fill="#9c8ce6" fill-opacity="0.6"/>
<path d="M253.2 537.4A64.6 64.6 0 0 1 251.5 537.2Q260.5 473.2 234.2 414.2A64.6 64.6 0 0 1 236.3 413.3Q260.5 473.2 253.2 537.4Z" fill="#9c8ce6" fill-opacity="0.6"/>
<path d="M228.4 529.3Q260.5 473.2 260.9 408.6M243.5 535.5Q260.5 473.2 283.4 412.8M247.1 536.4Q260.5 473.2 267.8 409M234.7 532.4Q260.5 473.2 274 410M246.2 536.2Q260.5 473.2 274.9 410.2M236.3 533.1Q260.5 473.2 284.6 413.3M249.6 536.9Q260.5 473.2 289.1 415.3M245.4 536Q260.5 473.2 283 412.6M236.1 533Q260.5 473.2 283.9 413M245.1 535.9Q260.5 473.2 260.7 408.6" fill="none" stroke="#6a6a6a" stroke-width="0.35" stroke-opacity="0.45"/>
<path d="M208.9 512.1Q260.5 473.2 201.1 447.8M200.5 497.2Q260.5 473.2 197 461.4M206.6 508.8Q260.5 473.2 196.5 464.5M206.4 508.6Q260.5 473.2 199.2 452.9M202 500.6Q260.5 473.2 200.4 449.5M209.2 512.4Q260.5 473.2 201.7 446.4M196.3 480.6Q260.5 473.2 200.7 448.7M198 489.6Q260.5 473.2 201.8 446.2M208.8 511.9Q260.5 473.2 198.4 455.2M209.1 512.3Q260.5 473.2 201.1 447.8" fill="none" stroke="#6a6a6a" stroke-width="0.35" stroke-opacity="0.45"/>
<path d="M216.4 520.4Q260.5 473.2 218.1 424.4M217.6 521.5Q260.5 473.2 229.9 416.3M216.2 520.2Q260.5 473.2 218.4 424.2M211.7 515.5Q260.5 473.2 217.3 425.1M212.8 516.7Q260.5 473.2 233.7 414.4M213.8 517.9Q260.5 473.2 233.2 414.7M216.5 520.5Q260.5 473.2 220 422.9M217.2 521.1Q260.5 473.2 229.2 416.7M213.6 517.6Q260.5 473.2 222.8 420.7M211.6 515.4Q260.5 473.2 217 425.4" fill="none" stroke="#6a6a6a" stroke-width="0.35" stroke-opacity="0.45"/>
<path d="M319.1 500.3Q260.5 473.2 308.2 429.6M321.5 494.6Q260.5 473.2 324.8 467.1M324.2 484.1Q260.5 473.2 324.8 466.9M309.1 515.8Q260.5 473.2 322.2 454.1M324.6 481.3Q260.5 473.2 318.8 445.3M314.9 508.1Q260.5 473.2 309.8 431.4M322.3 492Q260.5 473.2 309.7 431.3M310.9 513.6Q260.5 473.2 324.4 463.9M308.5 516.4Q260.5 473.2 323 456.8M317.5 503.6Q260.5 473.2 308.8 430.3" fill="none" stroke="#b08838" stroke-width="0.35" stroke-opacity="0.45"/>
<path d="M297.9 525.9Q260.5 473.2 212 430.5M292.7 529.2Q260.5 473.2 204.8 440.5M306 519Q260.5 473.2 205.3 439.6M289.3 531Q260.5 473.2 205.5 439.3M299.6 524.7Q260.5 473.2 209 434.2M290.2 530.6Q260.5 473.2 205.7 438.9M301.8 522.9Q260.5 473.2 212.2 430.3M304.8 520.2Q260.5 473.2 206 438.5M305.8 519.3Q260.5 473.2 214.3 428M302.3 522.4Q260.5 473.2 209.3 433.9" fill="none" stroke="#b08838" stroke-width="0.35" stroke-opacity="0.45"/>
<path d="M283.5 533.6Q260.5 473.2 244.7 410.6M279.6 534.9Q260.5 473.2 241.4 411.5M282.2 534.1Q260.5 473.2 238.6 412.4M278.1 535.4Q260.5 473.2 237.2 413M280.6 534.6Q260.5 473.2 238.8 412.4M284.7 533.1Q260.5 473.2 240.1 411.9M285.7 532.7Q260.5 473.2 241.3 411.5M287 532.1Q260.5 473.2 236.5 413.2M286.2 532.5Q260.5 473.2 237.1 413M277.6 535.5Q260.5 473.2 240.6 411.7" fill="none" stroke="#b08838" stroke-width="0.35" stroke-opacity="0.45"/>
<path d="M261.4 537.8Q260.5 473.2 303.7 425.2M271.7 536.8Q260.5 473.2 306.3 427.6M267.3 537.4Q260.5 473.2 298.7 421.1M265.2 537.6Q260.5 473.2 302.5 424.1M259.6 537.8Q260.5 473.2 294.2 418.1M258.3 537.8Q260.5 473.2 298.2 420.7M270 537.1Q260.5 473.2 305 426.4M257.5 537.7Q260.5 473.2 304.9 426.3M268.6 537.3Q260.5 473.2 305.7 427.1M259.4 537.8Q260.5 473.2 306.5 427.9" fill="none" stroke="#5a4ad0" stroke-width="0.35" stroke-opacity="0.45"/>
<path d="M253.6 537.4Q260.5 473.2 204.6 440.9M254.1 537.5Q260.5 473.2 204.3 441.4" fill="none" stroke="#5a4ad0" stroke-width="0.35" stroke-opacity="0.45"/>
<path d="M251.9 537.2Q260.5 473.2 235.3 413.7M252.3 537.3Q260.5 473.2 235.1 413.8" fill="none" stroke="#5a4ad0" stroke-width="0.35" stroke-opacity="0.45"/>
<path d="M245.9 407.7A67.1 67.1 0 0 1 327.3 466.9" fill="none" stroke="#2ea3c2" stroke-width="3.0"/>
<path d="M327.3 479.5A67.1 67.1 0 0 1 277.2 538.2" fill="none" stroke="#be8d2c" stroke-width="3.0"/>
<path d="M275.1 538.7A67.1 67.1 0 0 1 251.6 539.7" fill="none" stroke="#1c1c6c" stroke-width="3.0"/>
<path d="M249.5 539.4A67.1 67.1 0 0 1 193.8 480.7" fill="none" stroke="#3d4d4f" stroke-width="3.0"/>
<path d="M193.8 465.7A67.1 67.1 0 0 1 212.7 426.1" fill="none" stroke="#8a2a6a" stroke-width="3.0"/>
<path d="M215.1 423.8A67.1 67.1 0 0 1 243.8 408.2" fill="none" stroke="#2b3d1f" stroke-width="3.0"/>
<text x="305.5" y="416.7" font-size="13" text-anchor="middle" stroke="#000" stroke-width="0.22" transform="rotate(42 305.5 416.7)">R: Endo</text>
<text x="226.6" y="412.7" font-size="13" text-anchor="middle" stroke="#000" stroke-width="0.22" transform="rotate(-22 226.6 412.7)">R: Sca-1<tspan font-size="7.5" dy="-5">−</tspan></text>
<text x="188.4" y="448.3" font-size="13" text-anchor="middle" stroke="#000" stroke-width="0.22" transform="rotate(-62 188.4 448.3)">R: Sca-1<tspan font-size="7.5" dy="-5">+</tspan></text>
<text x="196.1" y="524.7" font-size="13" text-anchor="middle" stroke="#000" stroke-width="0.22" transform="rotate(55 196.1 524.7)">D: Endo</text>
<text x="263.3" y="552.9" font-size="13" text-anchor="middle" stroke="#000" stroke-width="0.22">D: Sca-1<tspan font-size="7.5" dy="-5">−</tspan></text>
<text x="324.5" y="522.5" font-size="13" text-anchor="middle" stroke="#000" stroke-width="0.22" transform="rotate(-62 324.5 522.5)">D: Sca-1<tspan font-size="7.5" dy="-5">+</tspan></text>
<text x="353.6" y="378.8" font-size="13" stroke="#000" stroke-width="0.22">H</text>
<text x="456" y="398.2" font-size="13" text-anchor="middle" stroke="#000" stroke-width="0.22">Sca-1<tspan font-size="7.5" dy="-5">+</tspan><tspan dy="5"> vs. Sca-1</tspan><tspan font-size="7.5" dy="-5">−</tspan></text>
<rect x="390.9" y="403.4" width="124.5" height="114.3" fill="#fff" stroke="#888" stroke-width="0.9"/>
<line x1="388.4" y1="414.4" x2="390.9" y2="414.4" stroke="#333" stroke-width="0.8"/>
<text x="388" y="418.9" font-size="13" text-anchor="end" stroke="#000" stroke-width="0.22">1.5</text>
<line x1="388.4" y1="448.4" x2="390.9" y2="448.4" stroke="#333" stroke-width="0.8"/>
<text x="388" y="452.9" font-size="13" text-anchor="end" stroke="#000" stroke-width="0.22">1.0</text>
<line x1="388.4" y1="482.4" x2="390.9" y2="482.4" stroke="#333" stroke-width="0.8"/>
<text x="388" y="486.9" font-size="13" text-anchor="end" stroke="#000" stroke-width="0.22">0.5</text>
<line x1="388.4" y1="516.5" x2="390.9" y2="516.5" stroke="#333" stroke-width="0.8"/>
<text x="388" y="521" font-size="13" text-anchor="end" stroke="#000" stroke-width="0.22">0.0</text>
<line x1="393.1" y1="517.7" x2="393.1" y2="520.2" stroke="#333" stroke-width="0.8"/>
<text x="393.1" y="532.9" font-size="13" text-anchor="middle" stroke="#000" stroke-width="0.22">−5</text>
<line x1="429.9" y1="517.7" x2="429.9" y2="520.2" stroke="#333" stroke-width="0.8"/>
<text x="429.9" y="532.9" font-size="13" text-anchor="middle" stroke="#000" stroke-width="0.22">0.0</text>
<line x1="466.8" y1="517.7" x2="466.8" y2="520.2" stroke="#333" stroke-width="0.8"/>
<text x="466.8" y="532.9" font-size="13" text-anchor="middle" stroke="#000" stroke-width="0.22">0.5</text>
<line x1="503.6" y1="517.7" x2="503.6" y2="520.2" stroke="#333" stroke-width="0.8"/>
<text x="503.6" y="532.9" font-size="13" text-anchor="middle" stroke="#000" stroke-width="0.22">1.0</text>
<text x="449.6" y="545.6" font-size="13" text-anchor="middle" stroke="#000" stroke-width="0.22">Log<tspan font-size="8" dy="3">2</tspan><tspan dy="-3">(fold change)</tspan></text>
<text x="365.2" y="466.3" font-size="13" text-anchor="middle" stroke="#000" stroke-width="0.22" transform="rotate(-90 365.2 466.3)">Expression</text>
<path transform="scale(.5)" d="M880 954h0m-2-1h0m-1 4h0m0-1h0m-1-3h0m-1-1h0m0 2h0m-2 0h0m0-1h0m-1 2h0m0 1h0m-1 3h0m-1-6h0m-1 6h0m0 0h0m-30 5h0m0 0h0m0-3h0m1 6h0m1-5h0m1-1h0m1 2h0m0 3h0m2-5h0m1 3h0m0-2h0m1 2h0m0 1h0m1-2h0m4 0h0m16 0h0m1 4h0m0 0h0m0-6h0m2 3h0m1-3h0m0 3h0m2 1h0m1-2h0m0 3h0m2-4h0m1 2h0m0 3h0m2-3h0m0 3h0m0-5h0m0-1h0m1 2h0m0-3h0m0 6h0m0-4h0m1-1h0m0 0h0m0 10h0m-1 0h0m0 2h0m-1 0h0m0-1h0m0-4h0m-1 3h0m0 2h0m-1-3h0m-3-1h0m-1 2h0m0 3h0m-1 1h0m-1-6h0m-1-1h0m0 3h0m-1-3h0m0 2h0m-1-1h0m0 2h0m-17-1h0m-1-2h0m-4 2h0m-2 1h0m0-3h0m0 6h0m-1-5h0m-1 1h0m0-2h0m0 6h0m-1-6h0m-1 5h0m-1-5h0m0 7h0m0-5h0m0 0h0m0 0h0m-2 8h0m0-1h0m1 6h0m0-6h0m0 0h0m0 1h0m1-2h0m0 6h0m1-4h0m0 2h0m0-3h0m1 2h0m0 1h0m0-4h0m0 7h0m0-7h0m1 1h0m1 2h0m0 3h0m0 0h0m2 1h0m0-6h0m1 2h0m0 0h0m1-1h0m0 1h0m2 1h0m1 3h0m17-1h0m0-6h0m0 3h0m1 2h0m1-3h0m2 4h0m0-5h0m0 1h0m1-2h0m2 0h0m0 4h0m0-3h0m1 4h0m0-1h0m1-1h0m1 4h0m0-1h0m4-1h0m-1 3h0m-2 5h0m-1-5h0m-3 6h0m0 1h0m0-6h0m-1-1h0m-1 5h0m-1-4h0m-1 2h0m0 1h0m-1-1h0m0-1h0m0 4h0m-1-1h0m-1-4h0m0 0h0m-17 4h0m-1 2h0m-1 0h0m0-3h0m-1-1h0m-2 2h0m0-1h0m-1 3h0m-1 0h0m-1-5h0m0 3h0m0-4h0m0 2h0m-1 0h0m-1 3h0m-1-2h0m0 0h0m0 1h0m-1-1h0m0 1h0m-1 2h0m2 3h0m1 3h0m0 0h0m0-4h0m2 3h0m0-1h0m1-1h0m0-2h0m0 2h0m1-2h0m1 2h0m1-2h0m0 1h0m1 3h0m1-3h0m3 2h0m17 3h0m0-6h0m2 2h0m0 0h0m1 0h0m4 3h0m2-2h0m0-3h0m0 6h0m0 0h0m1-5h0m0 6h0m0-3h0m1 1h0m1-5h0m1 7h0m0-5h0m-1 8h0m-1-2h0m0 3h0m-1-1h0m0 3h0m-1-3h0m-1 0h0m-1 0h0m-1 0h0m-3 0h0m-3 1h0m0 4h0m-17-5h0m-1 4h0m-1-1h0m-1-4h0m-2 3h0m-2-1h0m0-3h0m0 4h0m0-4h0m-2 3h0m-1 4h0m-2-1h0m-1-3h0m0-1h0m0 1h0m0 4h0m-1 4h0m0-3h0m1 2h0m0 5h0m0-1h0m0-1h0m0 0h0m0 0h0m1-4h0m0 4h0m3-2h0m0 2h0m1 0h0m0-5h0m1 5h0m1-3h0m0-1h0m2 3h0m1 3h0m0-7h0m1 4h0m1-2h0m0 4h0m17 1h0m1-1h0m1-5h0m2 2h0m0 1h0m1 3h0m2 0h0m0-7h0m0 4h0m2-2h0m0 0h0m2 2h0m1-3h0m0 1h0m1-2h0m0 2h0m1 2h0m-1 11h0m-1-3h0m-1 3h0m0-6h0m-1 6h0m-1-6h0m-1-1h0m0 1h0m0 2h0m-1 3h0m0-3h0m0 1h0m-3 1h0m0-2h0m-1 2h0m0 1h0m0-5h0m-1 1h0m-1 5h0m-17-3h0m-2 2h0m-1 0h0m0 0h0m-1-6h0m0 0h0m0 6h0m-1-1h0m0-3h0m-1 2h0m0-3h0m0 0h0m-2 4h0m0-5h0m0 3h0m0-1h0m-1-1h0m0 4h0m-2 0h0m0-4h0m-1 2h0m-1 1h0m-1 1h0m9 3h0m33 0h0m1 0h0" stroke="#bdbdbd" stroke-width="4.4" stroke-linecap="round"/>
<path transform="scale(.5)" d="M987 816h0m-20 60h0m-2 1h0m-39 9h0m34 8h0m-42 8h0m34 0h0m-16 4h0m-42 9h0m30-3h0m20 2h0m76 11h0m-88-5h0m-40 4h0m16 8h0m6 0h0m58 2h0m-16 4h0m-52 2h0m-4-4h0m-14 14h0m2 1h0m5-1h0m19-6h0m60 8h0m-24 4h0m-40 0h0m-10-3h0m0 5h0m-2-5h0m0 5h0m-1-5h0m-1 3h0m-1-2h0m0 1h0m0 2h0m-2-5h0m-1 0h0m-1 6h0m0-5h0m0 2h0m-2-2h0m0 4h0m0 0h0m-1-5h0m0 3h0m0-3h0m-3 6h0m-1 0h0m0-3h0m2 5h0m0 7h0m1 0h0m0-4h0m1 2h0m1 1h0m3-1h0m0-1h0m2 2h0m1-1h0m0 2h0m1-4h0m0-2h0m1 3h0m0-4h0m0 6h0m0 1h0m1-5h0m0 0h0m24 4h0m20 4h0m-36 0h0m-7-1h0m0 6h0m-2-1h0m-2-5h0m0 5h0m-1-1h0m-2 1h0m-2-2h0m0-4h0m-1 4h0m-1-4h0m0 1h0m-1 6h0m-2-7h0m0 5h0m0 2h0m-2 7h0m2-1h0m1 2h0m1-2h0m0 2h0m0 0h0m0-2h0m1-4h0m0 3h0m0-3h0m0 6h0m2-7h0m0 3h0m1-1h0m0 1h0m2-2h0m0 6h0m0-2h0m1-5h0m2 0h0m0 4h0m1-4h0m1 0h0m2 2h0m1-2h0m1 1h0m6 1h0m18 0h0m6-2h0m-18 8h0m-13 3h0m-3-3h0m0 3h0m-1-2h0m0 4h0m-1 1h0m-2-1h0m0-2h0m-3 2h0m-1 2h0m-1-7h0m-2 5h0m-2-5h0m-1 3h0m4 8h0m1-1h0m0-2h0m0 4h0m0 2h0m0-6h0m0 5h0m1-4h0m0 3h0m1-3h0m0 2h0m0 0h0m4-1h0m1 1h0m0 1h0m1-3h0m3 4h0m0-4h0m0 4h0m2 2h0m0-3h0m0 1h0m18 3h0m-15 6h0m-1-3h0m-2 1h0m-1-4h0m-1 1h0m-1 3h0m0 2h0m-2-4h0m-1 2h0m0-3h0m0 6h0m-3-6h0m-1 5h0m0-5h0m0 3h0m0 0h0m-2 2h0m-3-6h0m0 5h0m-1-5h0m0 4h0m-2 2h0m-1-4h0m2 12h0m1 1h0m0-7h0m2 7h0m1-4h0m1-1h0m1 0h0m1 3h0m3 1h0m1-4h0m1 2h0m2 0h0m0 2h0m1-4h0m0 3h0m0-1h0m0-4h0m0 2h0m0 2h0m1-2h0m3-1h0m6 11h0m-6 3h0m0-3h0m-1 2h0m-1-6h0m-2 5h0m-1-2h0m0 3h0m0-4h0m-2 3h0m-1-5h0m-1 3h0m-1-3h0m-2 7h0m-2-3h0m-1-2h0m-2 0h0m0-2h0m0 2h0m-1 3h0m-1 1h0m0-6h0m0 2h0m0 1h0" stroke="#e8281c" stroke-width="4.4" stroke-linecap="round"/>
<path transform="scale(.5)" d="M814 906h0m-6 35h0m18 6h0m6 21h0m-12 2h0m4 8h0m12-2h0m-6 14h0m-14-4h0m-24 7h0m42 5h0m-6 8h0m-24 1h0m0 3h0m20 2h0m12 0h0m-14 10h0m-4-4h0m-6 4h0m14 2h0" stroke="#2a3ab0" stroke-width="4" stroke-linecap="round"/>
<text x="394.8" y="496" font-size="13" stroke="#000" stroke-width="0.22" font-style="italic">Vegfa</text>
<path d="M439.4 491.5L429.9 486.5L429.9 496.5Z" fill="#000"/>
<path d="M410.4 510.4L420.6 505.4L420.6 515.4Z" fill="#000"/>
<text x="421.2" y="515" font-size="13" stroke="#000" stroke-width="0.22" font-style="italic">Flt1</text>
<text x="468" y="467.2" font-size="13" stroke="#000" stroke-width="0.22" font-style="italic">Ly6a</text>
<path d="M506.3 462.7L494 457.7L494 467.7Z" fill="#000"/>
<rect x="469.2" y="482.7" width="41.6" height="32.5" fill="#fff" stroke="#222" stroke-width="0.9"/>
<circle cx="474.4" cy="488.6" r="2.2" fill="#8b1a1a"/>
<text x="480.6" y="492.5" font-size="11" stroke="#000" stroke-width="0.22">Up</text>
<circle cx="474.4" cy="499.1" r="2.2" fill="#1e2a8a"/>
<text x="480.6" y="503" font-size="11" stroke="#000" stroke-width="0.22">Down</text>
<circle cx="474.4" cy="509.2" r="2.2" fill="#a8a8a8"/>
<text x="480.6" y="513.1" font-size="11" stroke="#000" stroke-width="0.22">None</text>
<text x="529.8" y="379" font-size="13" stroke="#000" stroke-width="0.22">I</text>
<rect x="558.4" y="402.6" width="141.9" height="117" fill="#fff" stroke="#000" stroke-width="1"/>
<path d="M581 418.7C581.7 417.4 583.3 415.1 584.9 413.9C586.4 412.8 588.3 412 590.3 411.8C592.3 411.5 594.9 412 597 412.6C599.1 413.2 601.1 414.1 602.7 415.2C604.2 416.4 605.2 418.2 606.1 419.5C607.1 420.8 608.2 421.2 608.4 422.9C608.6 424.5 607.4 427.4 607.6 429.5C607.7 431.7 609.2 434.1 609.1 435.8C609 437.6 607.9 439 606.8 440.1C605.7 441.1 604 441.5 602.5 442.3C601 443.1 599.4 444.8 598 444.8C596.6 444.8 595.7 443.1 594.2 442.1C592.7 441.1 590.1 440.1 588.9 438.6C587.7 437.2 588.1 434.9 587.1 433.4C586.1 431.8 584 430.7 582.9 429.5C581.9 428.3 581 427.4 580.6 426.1C580.1 424.9 580.2 423.1 580.3 421.9C580.3 420.6 580.2 420 581 418.7Z" fill="#dcdcdc"/>
<path d="M613.8 419.9C614.8 418.4 616.8 415.5 618.4 414C620.1 412.5 621.9 411.5 623.8 410.8C625.8 410 628.1 409.4 630.2 409.5C632.2 409.6 634.3 410.7 636.4 411.6C638.4 412.5 640.6 413.7 642.5 414.7C644.3 415.8 646.3 416.9 647.5 417.9C648.6 418.9 649.6 419.6 649.5 420.9C649.4 422.2 647.6 424.3 646.8 425.7C646.1 427.2 646.1 428.4 645 429.8C644 431.2 642 432.5 640.3 434C638.7 435.4 637.3 436.8 635.4 438.5C633.4 440.2 630.5 442.4 628.6 444.2C626.7 445.9 625.4 447.2 623.9 448.9C622.4 450.6 621 453.1 619.6 454.3C618.3 455.5 616.9 456.1 615.5 456C614.2 456 612.9 454.9 611.3 454C609.8 453.2 607.9 452 606.2 450.9C604.5 449.9 601.7 448.8 601.2 447.9C600.6 446.9 602 445.9 603 445C603.9 444.1 605.8 443.7 606.7 442.2C607.5 440.7 608.3 438 608.3 436.1C608.2 434.2 606.3 432.5 606.3 430.7C606.3 428.9 607.4 426.7 608.4 425.4C609.4 424.1 611.7 423.9 612.6 423C613.5 422.1 612.9 421.4 613.8 419.9Z" fill="#dcdcdc"/>
<path d="M648.1 423.4C649.7 422.6 652.3 421.3 654.4 421.1C656.4 420.9 658.5 421.7 660.6 422.3C662.6 422.9 664.5 423.7 666.8 424.7C669.1 425.8 671.8 427 674.3 428.4C676.8 429.8 679.2 431.5 681.7 433.3C684.1 435.1 687 437.2 689 439.4C691.1 441.6 692.5 444 693.9 446.6C695.3 449.2 697.3 452.2 697.5 455C697.7 457.8 696.3 460.8 695.1 463.4C693.9 466 692 468.4 690.2 470.6C688.3 472.8 686.3 474.9 684 476.7C681.8 478.5 679.3 480.2 676.7 481.5C674 482.9 671.4 484 668.2 484.8C665 485.5 661.1 486.2 657.5 486.1C653.9 485.9 649.7 484.7 646.4 483.9C643.1 483.2 640.8 482.5 637.5 481.8C634.1 481 630.5 480.6 626.4 479.5C622.4 478.4 616.6 476.6 613.4 475.1C610.1 473.6 608.3 472.5 606.9 470.7C605.5 469 605 466.8 604.9 464.6C604.7 462.4 605 459.2 606.1 457.4C607.2 455.6 609.7 454.7 611.5 453.8C613.3 452.8 615.1 452.7 616.8 451.6C618.5 450.6 620.1 448.8 621.7 447.3C623.2 445.8 624.4 444 626 442.4C627.6 440.8 629.6 439.2 631.5 437.7C633.3 436.3 635.4 434.9 637.1 433.6C638.8 432.3 640.3 431.2 641.6 429.9C642.9 428.6 643.6 426.8 644.7 425.7C645.8 424.6 646.5 424.2 648.1 423.4Z" fill="#dcdcdc"/>
<path d="M590.2 484C590.6 482.1 591.5 479.8 593.1 478.3C594.7 476.7 597.4 475.4 599.9 474.7C602.4 474 605.2 474.2 608 474.3C610.7 474.4 613.4 474.6 616.4 475.1C619.4 475.6 623.2 476.6 626.2 477.4C629.2 478.2 631.8 479.2 634.5 480.1C637.2 480.9 640.3 481.5 642.3 482.7C644.4 483.9 645.7 485.3 646.8 487.4C648 489.5 648.9 492.8 649 495.3C649.2 497.7 648.7 500 647.9 502.1C647.1 504.1 646.2 506 644.5 507.7C642.8 509.5 640.2 511.2 637.7 512.5C635.2 513.8 632.5 514.8 629.5 515.6C626.6 516.4 623 517.3 620 517.5C617 517.6 614.3 516.9 611.6 516.3C608.8 515.7 605.5 515 603.3 513.8C601.1 512.6 599.9 511.1 598.5 509.2C597.1 507.2 595.9 504.6 594.9 502.2C593.9 499.9 593.4 497.4 592.7 495.3C591.9 493.2 591 491.5 590.6 489.6C590.2 487.7 589.8 485.9 590.2 484Z" fill="#dcdcdc"/>
<path d="M594 425C596 422.5 604.3 418.2 608 418C611.7 417.8 616.3 421.7 616 424C615.7 426.3 609.3 430.5 606 432C602.7 433.5 598 434.2 596 433C594 431.8 592 427.5 594 425Z" fill="#dcdcdc"/>
<path d="M606 472C612 471.7 632.7 476.3 640 478C647.3 479.7 651.7 480.7 650 482C648.3 483.3 637.7 486.3 630 486C622.3 485.7 608 482.3 604 480C600 477.7 600 472.3 606 472Z" fill="#dcdcdc"/>
<path transform="scale(.5)" d="M1246 823h0m1 0h0m6-2h0m1 0h0m2 1h0m1-2h0m2 0h0m0 3h0m1-3h0m3 2h0m2 1h0m2-1h0m0 1h0m4 0h0m15 8h0m-1 0h0m-3-2h0m-3 2h0m-1-3h0m-1-2h0m-2 1h0m-3-1h0m-1 5h0m0-5h0m0 3h0m-1 1h0m0-5h0m0 5h0m-1 0h0m0-4h0m-1-1h0m0 2h0m-1 4h0m-3-7h0m-1 7h0m-1-4h0m0 2h0m0-3h0m-1 3h0m-1-4h0m0 4h0m-2-4h0m0 2h0m-3 3h0m-4 1h0m-2-3h0m-1-3h0m0 2h0m-5-2h0m0 5h0m-1 0h0m0-1h0m-1-1h0m-1 3h0m-4-1h0m-40 1h0m0-5h0m0 4h0m-1-1h0m-1 1h0m-1-3h0m0-1h0m-3 2h0m0 0h0m-1 0h0m-3 2h0m-1 1h0m0-6h0m-1 4h0m-1-3h0m0-2h0m-1 3h0m-3 3h0m-1-5h0m-3 6h0m-2-2h0m-2 0h0m-7 7h0m2-1h0m0 2h0m1-3h0m1 3h0m2-4h0m0 4h0m2-3h0m2-1h0m3 0h0m3 2h0m0 1h0m1 2h0m7 1h0m1-3h0m2-3h0m4 1h0m2 5h0m1-6h0m2 1h0m3 2h0m2-3h0m0 1h0m4 5h0m3 0h0m24-3h0m0 2h0m1-6h0m2 2h0m0 1h0m2-1h0m0-1h0m0-1h0m1 6h0m0-1h0m0 0h0m1-2h0m0 0h0m1-3h0m4 7h0m0-4h0m2 1h0m2-1h0m1-2h0m1 5h0m0-6h0m4 6h0m1-5h0m1 5h0m0-2h0m0 2h0m2 1h0m1-7h0m1 7h0m3-2h0m1-2h0m0-3h0m0 6h0m6 1h0m1-1h0m1-1h0m0 2h0m1-5h0m1-2h0m1 6h0m1 1h0m2-7h0m0 5h0m1 0h0m0 1h0m0-1h0m0-3h0m1-2h0m1 1h0m0 1h0m2 0h0m0 4h0m0-3h0m1-3h0m0 6h0m0 0h0m1-3h0m1 0h0m0 2h0m1 2h0m2-3h0m3 3h0m0 0h0m29 7h0m-5-1h0m-3 2h0m-1-1h0m-5-3h0m-2 0h0m-8 2h0m-2 1h0m-2 1h0m-2-6h0m0 5h0m-1-1h0m-1-5h0m-1 5h0m-1-1h0m-2 1h0m-1-4h0m0 4h0m-1-1h0m-1-3h0m0 0h0m-3 1h0m-1 1h0m0 1h0m0-3h0m0-1h0m-1 5h0m-1-5h0m-5 4h0m0 1h0m-1-5h0m0 7h0m-1-2h0m-1-4h0m-1-1h0m-3 5h0m-1 2h0m-1-4h0m-1 2h0m0-1h0m-1 3h0m-1-1h0m0-4h0m-1 5h0m0-4h0m-5 2h0m0 0h0m0 2h0m-1-4h0m-1 4h0m-2 0h0m-3-3h0m0-3h0m-1 4h0m-2 2h0m0-4h0m-3 4h0m0-1h0m0-4h0m-1 0h0m-3 5h0m-1 0h0m0-3h0m0 1h0m-1-2h0m-2 0h0m0 2h0m-1 1h0m-1 1h0m0-5h0m-2 4h0m-1-3h0m0-3h0m0 1h0m-1 0h0m0 2h0m0 0h0m-2 4h0m-2-2h0m-1 1h0m-12-3h0m-1 2h0m-2-3h0m-1-1h0m-2 5h0m-1 0h0m-1-5h0m-1 6h0m0-7h0m-6 6h0m0-3h0m-1-3h0m-1 2h0m0 3h0m-6-4h0m-5-1h0m-1 7h0m-2-6h0m-3 1h0m-2 0h0m-3 1h0m-2 0h0m0 3h0m-1 0h0m-3-4h0m-3 2h0m0-4h0m-2 6h0m-1 0h0m0-4h0m0-1h0m2 14h0m2 0h0m3-3h0m3 0h0m1 1h0m0 1h0m0-4h0m0 4h0m3-5h0m3-1h0m3 2h0m2 4h0m3-4h0m2 3h0m1 0h0m0-4h0m0 1h0m6 3h0m1 0h0m1 0h0m1 2h0m0-6h0m1 1h0m0 4h0m0-1h0m1 2h0m2-5h0m1 1h0m0 3h0m1-4h0m2-2h0m1 4h0m1-2h0m0 4h0m1-3h0m0 1h0m0 1h0m1-2h0m0-3h0m0 0h0m1 5h0m0-2h0m0 4h0m2-3h0m1-3h0m2 4h0m3-1h0m2 1h0m1-2h0m0 1h0m1-2h0m1 1h0m0-3h0m1 6h0m2-1h0m1 2h0m2-6h0m1 2h0m0 2h0m1-3h0m0 1h0m2-1h0m5 0h0m0 4h0m1-3h0m1 3h0m0-4h0m5 0h0m1 0h0m4 4h0m2-1h0m0 1h0m0-5h0m1 4h0m0 2h0m1-1h0m0-6h0m2 1h0m0 5h0m2 1h0m1-7h0m3 7h0m2-2h0m4-3h0m0 3h0m0-2h0m0 2h0m1-4h0m1 0h0m1 5h0m0-1h0m1 2h0m1-4h0m1 1h0m1-4h0m3 1h0m0 6h0m0-5h0m1 2h0m3-2h0m1 4h0m0-2h0m1 2h0m1 1h0m0-6h0m1 1h0m0-1h0m3 4h0m2-3h0m1 0h0m0 5h0m1-6h0m2 1h0m0-2h0m2 5h0m2 0h0m1-4h0m0 3h0m0-4h0m1 0h0m3 5h0m7 1h0m2 0h0m0-6h0m1 7h0m0-2h0m0 0h0m3-3h0m1 4h0m0-2h0m2 2h0m0 0h0m2 1h0m4-7h0m3 6h0m2-1h0m2-2h0m13 9h0m-4 2h0m-1-5h0m-1 2h0m0-3h0m-1 1h0m-1 6h0m-2-3h0m0-3h0m-2 0h0m0 1h0m0 1h0m-3 4h0m-2-5h0m-1 0h0m-2 4h0m-2 1h0m-1-3h0m-1 0h0m-2 2h0m-7 0h0m-4-3h0m-2 0h0m-1 3h0m-1 0h0m-6-3h0m-1 4h0m-7-6h0m-2 3h0m-1 2h0m-3-3h0m0-1h0m-1-1h0m0 6h0m0-7h0m-1 4h0m0-4h0m-2 7h0m-1-2h0m-1-4h0m-1 0h0m0 2h0m-2-3h0m-1 6h0m-1 1h0m-1-7h0m-2 6h0m0-5h0m-5 0h0m-1-1h0m-1 6h0m0-1h0m-1-1h0m0-4h0m0 6h0m-1-1h0m-1 1h0m-2 1h0m-1-6h0m-1-1h0m-4 5h0m-1-2h0m-1 0h0m0 1h0m-1-4h0m-3 1h0m0 0h0m-1 0h0m-1 4h0m-1 0h0m0 2h0m-1-3h0m-2 0h0m-3 3h0m-1-2h0m-4 2h0m0 0h0m0-4h0m0-2h0m-1 2h0m0 4h0m-1-2h0m-3 0h0m0 2h0m-1 0h0m0-6h0m-1 3h0m0-2h0m-1 5h0m0-5h0m-2-2h0m-1 5h0m-1-4h0m0 3h0m-1-2h0m-2 1h0m0 1h0m0-1h0m0 2h0m-4-5h0m0 2h0m0 5h0m-2-4h0m0 1h0m0 2h0m-1-1h0m0-2h0m-3 4h0m0-6h0m-1 4h0m-3 0h0m0-1h0m0 3h0m-2-7h0m0 6h0m-2 1h0m-9 0h0m-1-7h0m-1 6h0m-1-5h0m-1 1h0m-2-2h0m-1 0h0m-1 4h0m-1 1h0m-2-3h0m0 1h0m-2 0h0m-1 3h0m-3 1h0m-1-1h0m-2-4h0m-2 0h0m-1 0h0m0-1h0m-1 5h0m-1-6h0m0 4h0m-1-1h0m9 6h0m4 6h0m1-3h0m1 2h0m0-6h0m3 1h0m1-1h0m5 4h0m1-2h0m2-1h0m1 1h0m4 2h0m0 1h0m1 1h0m3-3h0m1 3h0m1 0h0m1-1h0m4 0h0m2-2h0m2-1h0m2 1h0m1-2h0m1 0h0m0 5h0m2-2h0m0 1h0m1 1h0m1-1h0m0-5h0m1 6h0m1-4h0m1-1h0m0 5h0m0-3h0m2 0h0m2-1h0m1 4h0m0-5h0m1 2h0m1 3h0m0-3h0m1 2h0m1 2h0m0-5h0m2 5h0m0-6h0m3 0h0m2 5h0m1-1h0m0-2h0m0 0h0m3-3h0m0 6h0m1-6h0m0 1h0m1 5h0m2 1h0m0-5h0m0 1h0m1-3h0m1 4h0m0 0h0m2 0h0m0 1h0m0-5h0m1 4h0m1-3h0m0 1h0m1 0h0m0 2h0m1-1h0m3 2h0m0-4h0m1 3h0m2 1h0m2 0h0m2-4h0m1 1h0m0 2h0m1-2h0m2-2h0m0 3h0m0 0h0m3 3h0m1 0h0m1-2h0m0 3h0m1-7h0m0 1h0m1 4h0m0 0h0m1 2h0m3-4h0m1 2h0m1-5h0m1 5h0m0-5h0m1 0h0m0 2h0m4 1h0m2 3h0m1-2h0m2-1h0m5 2h0m4-2h0m6 3h0m0-2h0m3 3h0m3-3h0m1 0h0m1 0h0m2 3h0m1-6h0m1-1h0m3 3h0m0 3h0m0-3h0m2 0h0m2-1h0m2 2h0m2 2h0m7 0h0m3 1h0m0-1h0m1 1h0m0-4h0m0 0h0m1-2h0m1 1h0m5-1h0m2 1h0m1 3h0m4-5h0m1 3h0m0-2h0m1 1h0m2 5h0m4 0h0m2 0h0m7 6h0m-1 1h0m-6-5h0m-1 6h0m0-6h0m-1 2h0m0 1h0m-1 0h0m-3-2h0m-1 4h0m-2-3h0m-2 3h0m0-6h0m0 7h0m0-7h0m-1 7h0m-2-6h0m-2 3h0m0-3h0m-1 4h0m-6 0h0m0 0h0m0-2h0m-2-3h0m-4 3h0m-1-2h0m0 1h0m-3 5h0m-1-3h0m0-4h0m-4 3h0m-3 2h0m-1-1h0m-1 3h0m-1-1h0m0-2h0m-1-3h0m0 5h0m-2 0h0m-2-5h0m-2 3h0m0-1h0m-5 0h0m-1 4h0m-1 0h0m-5-1h0m-1-2h0m-2 1h0m0-3h0m-2-2h0m-1 5h0m0-3h0m-2-1h0m-2 4h0m-5 2h0m-1-1h0m-2-1h0m0-1h0m-2 3h0m-2-2h0m-2 2h0m-3-5h0m0 2h0m-1-1h0m0 3h0m-1-5h0m-3 3h0m-1-2h0m-2 4h0m0-4h0m-1-2h0m0 3h0m-1 3h0m-1 0h0m-1-4h0m0 5h0m0-5h0m0-2h0m0 2h0m-1-2h0m-1 5h0m0 1h0m0-5h0m-1 3h0m0 3h0m0-1h0m0-2h0m0-1h0m-1 0h0m-2 4h0m-1-2h0m-2-2h0m-1-2h0m-3-1h0m-1 5h0m0-5h0m-3 2h0m-1 0h0m0-2h0m-3 7h0m-1 0h0m-3-4h0m-1 4h0m-1-6h0m-1 1h0m0 0h0m-3 1h0m-1-2h0m0 1h0m-2 2h0m0-3h0m-3 1h0m0 5h0m-1-4h0m0 0h0m-2 4h0m0-4h0m0 3h0m-1-6h0m0 0h0m-2 0h0m-1 6h0m-1-5h0m-3 1h0m-1 3h0m0-5h0m-4 3h0m-1 1h0m0 1h0m-2 2h0m-8 0h0m-2-1h0m-1-1h0m0-4h0m-1 0h0m-1 6h0m0 0h0m-2-6h0m-2 2h0m0 1h0m-1 2h0m-1-3h0m-1-1h0m-6 3h0m-2-4h0m-1 3h0m-1 2h0m0-3h0m-2 2h0m5 3h0m1 0h0m2 1h0m0 1h0m3-1h0m4 6h0m0 0h0m1-1h0m1-5h0m2-1h0m0 6h0m3 1h0m1-2h0m1 0h0m0-5h0m6 0h0m5 5h0m2-1h0m0 1h0m1-5h0m1 6h0m0-6h0m1 0h0m0 1h0m1 6h0m1-6h0m0 3h0m0 0h0m0 0h0m1-1h0m3-1h0m2 3h0m0-2h0m1-3h0m0 6h0m1-3h0m1 3h0m0-3h0m1 3h0m1-1h0m0-2h0m1 4h0m1-3h0m2 3h0m1-7h0m1 6h0m0 0h0m2-1h0m1-1h0m0-4h0m2 0h0m1 6h0m2 1h0m2-5h0m2 1h0m0-1h0m1 5h0m2-4h0m2 2h0m0-1h0m1 1h0m1-1h0m1 0h0m0 0h0m1 2h0m1-1h0m0-2h0m0-1h0m1-2h0m0 3h0m1-3h0m0 2h0m2 5h0m1-2h0m0-3h0m1 2h0m1-2h0m0 5h0m1-6h0m0-1h0m2 4h0m1-2h0m2 0h0m0 3h0m1 0h0m1 2h0m0-6h0m1-1h0m0 3h0m0 1h0m0-2h0m1 2h0m0-3h0m0 1h0m1-1h0m0 6h0m1-1h0m0-6h0m0 5h0m1-4h0m0 5h0m0-6h0m1 6h0m1-1h0m4-4h0m1 5h0m1-3h0m0-3h0m3 6h0m0 0h0m0-4h0m4 3h0m0-1h0m6 0h0m1 0h0m1-3h0m1-1h0m0 2h0m1 5h0m0-3h0m0-1h0m1 0h0m1 0h0m1-1h0m0 2h0m1 1h0m1 1h0m1-5h0m8 6h0m1-4h0m5 2h0m2-5h0m0 7h0m2 0h0m3-3h0m5-4h0m2 6h0m0-2h0m1-2h0m1 5h0m0 0h0m7-6h0m3 6h0m2-7h0m1 3h0m0 0h0m4-1h0m0-2h0m1 4h0m1-3h0m3 1h0m1-2h0m0 1h0m3 5h0m1-2h0m3-2h0m1 4h0m1 1h0m2-3h0m2 2h0m1 0h0m3-2h0m5 6h0m0 5h0m-1-2h0m-1-2h0m-1 1h0m-1 0h0m-1 3h0m-2-2h0m0 0h0m-2-4h0m-1 0h0m0 3h0m0-4h0m-3 3h0m-1 1h0m0 1h0m-3 1h0m-1 0h0m-2-3h0m-3 4h0m-2 0h0m-2-5h0m-2 2h0m0-4h0m-2 1h0m-1 3h0m-6 0h0m0 3h0m-1-5h0m-1 2h0m0 0h0m-4 2h0m-1-2h0m-3-2h0m-6 0h0m0-2h0m0 2h0m-1 1h0m-2 0h0m-1-3h0m0 2h0m-1-1h0m0 5h0m0-1h0m-5-1h0m-2-3h0m0 1h0m0 3h0m0 2h0m-1-1h0m-4-5h0m-2 5h0m0 1h0m-4-1h0m-4-6h0m-1 5h0m-1 1h0m-3-3h0m-2-2h0m0 4h0m-2-1h0m0-4h0m0 4h0m-3 2h0m-2 1h0m0-3h0m-1 1h0m0 1h0m0 1h0m-3-4h0m-1-2h0m-3 2h0m0-2h0m-2-1h0m-3 3h0m-1 0h0m-3 0h0m0 2h0m-1-1h0m-1 3h0m0-5h0m0 1h0m-2 3h0m0-4h0m-3 3h0m-1 2h0m-1-5h0m-3-1h0m0 3h0m0-4h0m0 5h0m-4-3h0m-1-1h0m0-1h0m-2 0h0m-1 3h0m0 4h0m-1-6h0m0-1h0m-3 5h0m0-3h0m-2 1h0m0 4h0m0-3h0m-1-3h0m0-1h0m0 6h0m-1-1h0m0-2h0m-1 2h0m0-5h0m-3 3h0m-1 0h0m-2-3h0m-1 7h0m0 0h0m-1-6h0m0 0h0m-1 2h0m0-1h0m-3-2h0m0 3h0m-1 0h0m0-2h0m-3 2h0m-1 2h0m0-4h0m-3 1h0m-1 1h0m0 2h0m-1 2h0m-1-3h0m-2-4h0m-1 4h0m0-4h0m-1 5h0m-1-4h0m-1 6h0m-2 0h0m0-7h0m0 4h0m-1 3h0m-1-6h0m0 4h0m-3-1h0m0 1h0m-2-2h0m-1 6h0m7 4h0m1 0h0m1-5h0m2 2h0m0 4h0m0-5h0m2 6h0m0-6h0m2 6h0m0 0h0m1-6h0m0-1h0m0 3h0m2 2h0m0-4h0m0 2h0m1-1h0m0 2h0m0 1h0m1-3h0m1 5h0m2 0h0m2 0h0m0-2h0m2-3h0m0-1h0m1 6h0m2 0h0m1-1h0m0 0h0m1-1h0m0-1h0m1 0h0m0 0h0m1-1h0m0 1h0m0 3h0m0-2h0m3-4h0m0 1h0m0 1h0m0 4h0m1-7h0m0 0h0m0 5h0m1-3h0m0 1h0m0 2h0m1 1h0m0-5h0m0 4h0m0-1h0m1-2h0m0-1h0m0 1h0m2 3h0m2-3h0m0 3h0m2-3h0m3 3h0m1-1h0m4 3h0m1-6h0m0 0h0m2 0h0m6 4h0m1-2h0m1 2h0m0 2h0m0-5h0m0 0h0m4 0h0m1 1h0m1 0h0m3 0h0m2-3h0m0 2h0m2 2h0m2-4h0m0 6h0m4-4h0m0 5h0m2-7h0m3 1h0m0 4h0m1 0h0m0-5h0m2 7h0m3-7h0m0 2h0m3 4h0m0-1h0m2 0h0m2-1h0m0-2h0m1 2h0m0-4h0m1 4h0m0 0h0m1 0h0m3 0h0m1 3h0m1-6h0m3 4h0m0 0h0m0-5h0m1 1h0m0 0h0m1 4h0m3-5h0m1 0h0m1 1h0m2 3h0m0 2h0m2-6h0m1 6h0m2-3h0m3 3h0m0 1h0m1-1h0m3-3h0m0-1h0m4 0h0m1-2h0m4 6h0m0-1h0m1-3h0m3 1h0m1 1h0m2 0h0m2 3h0m2-1h0m1-1h0m0 0h0m2 0h0m0-3h0m1 4h0m1-4h0m2 3h0m0-3h0m2-2h0m1 6h0m1-5h0m4 3h0m2-2h0m2 2h0m0-3h0m2 3h0m2-4h0m2 5h0m1-2h0m0 2h0m1-3h0m4 10h0m-5 3h0m-1-4h0m-4-3h0m-1 3h0m-3-2h0m0 2h0m-1 4h0m-1 0h0m-4-6h0m-1 6h0m0-5h0m0 0h0m-2-2h0m-5 4h0m-2 3h0m-1-6h0m-1 5h0m-1-5h0m0 6h0m-1-2h0m-2 2h0m-2-1h0m-1 0h0m0 1h0m-1-5h0m-1 5h0m0 0h0m-2-7h0m-4 0h0m-3 7h0m-3-4h0m-5 4h0m-5-4h0m0 0h0m-2 0h0m0-2h0m0 3h0m-3 1h0m-5 1h0m-1-1h0m0-4h0m-2 6h0m0-7h0m-1 2h0m0 2h0m-9 1h0m-1-1h0m-1 3h0m-2-3h0m0 3h0m-4-3h0m-3-3h0m-2 6h0m0-3h0m-1 3h0m-2-6h0m-1 0h0m-1 5h0m0-3h0m-4-2h0m-2-1h0m0 1h0m0 2h0m-8 0h0m-1 4h0m-1-4h0m-1 1h0m0 1h0m0 0h0m-1-4h0m-1 4h0m-1-1h0m-2 1h0m0-1h0m-2-4h0m-1 7h0m0 0h0m0-5h0m-1 1h0m-5 1h0m-2 3h0m-1-5h0m0-2h0m-1 6h0m-2-2h0m-1-1h0m-1 0h0m-2 2h0m-2-1h0m0 1h0m-1 0h0m-1-4h0m0 6h0m-1-6h0m-1 6h0m-1-4h0m-1 4h0m0-7h0m0 3h0m0-3h0m-3 6h0m0-4h0m-2 3h0m-2 2h0m0-6h0m0 3h0m-1 1h0m-1-1h0m0-3h0m-1 3h0m-4 1h0m-2-1h0m-1-2h0m-2 5h0m0-6h0m-89 9h0m1 2h0m3-1h0m3 4h0m0-2h0m2 2h0m0-2h0m52 2h0m0-4h0m3 4h0m0-1h0m2-3h0m3 1h0m1-2h0m0-1h0m0 5h0m1 1h0m4-3h0m9-2h0m2 4h0m1-6h0m2 3h0m4 4h0m0-3h0m2-1h0m0 1h0m7 2h0m0 0h0m1 0h0m2-4h0m1 3h0m0 0h0m1 0h0m3 2h0m0-5h0m3 1h0m0 0h0m2 3h0m1-3h0m2 3h0m2-3h0m1-1h0m2-2h0m0 1h0m2 6h0m1-4h0m2-3h0m2 6h0m0-4h0m2-2h0m1 0h0m1 3h0m0 2h0m3-5h0m0 7h0m4 0h0m1-3h0m0-2h0m0-1h0m1 4h0m1-5h0m1 0h0m1 0h0m1 5h0m3-2h0m0 0h0m0 2h0m1 1h0m2-1h0m0 1h0m1-3h0m3 2h0m8 1h0m2-4h0m0 2h0m2-2h0m5-2h0m5 6h0m0-3h0m2-1h0m2 4h0m1-6h0m0 5h0m2 2h0m1 0h0m2-7h0m1 4h0m3 0h0m0-4h0m2 2h0m4-1h0m1 2h0m1-3h0m3 6h0m3-2h0m2 2h0m1 0h0m1-6h0m0 3h0m0 0h0m3 4h0m0-2h0m1 2h0m1-5h0m2 1h0m0 0h0m1 3h0m1-6h0m0 1h0m2 0h0m0 6h0m1-2h0m0 1h0m2 0h0m1-3h0m0-2h0m2 0h0m1-1h0m1 4h0m1-1h0m6-3h0m2 5h0m2-2h0m1 3h0m4-3h0m3-2h0m3 1h0m0 5h0m0-4h0m2-1h0m8 1h0m-1 6h0m0 1h0m-3 1h0m-1 2h0m-1-3h0m0 1h0m-1 2h0m-3-5h0m-1 3h0m-1-1h0m-1 1h0m-1 1h0m0-4h0m0 6h0m0-5h0m0 4h0m-2-5h0m-2 2h0m-8 4h0m-2-3h0m-2 4h0m-1-6h0m-4 2h0m-2-2h0m-2 5h0m0-4h0m-1 2h0m-1 0h0m-2-3h0m-4 0h0m0 0h0m-1 4h0m-1-1h0m-2 1h0m0-1h0m-2-3h0m0 3h0m-2 3h0m-6-5h0m0 4h0m0-5h0m-5 5h0m0-2h0m-1 3h0m-8-7h0m-1 2h0m-1 2h0m-1 2h0m-3 1h0m-2-3h0m0-3h0m0 5h0m-1-3h0m-2 2h0m0-2h0m-1 1h0m0 2h0m0-1h0m-1-5h0m0 2h0m0 3h0m-2-1h0m-1-2h0m-1 1h0m-1-2h0m-1 3h0m-1-1h0m-2 2h0m0-3h0m-2 0h0m-3 0h0m-1 2h0m-1-2h0m-1 4h0m-1 0h0m-6-3h0m-1 4h0m-1-3h0m-5 0h0m-2 3h0m-3-2h0m0-2h0m-1 1h0m-1 3h0m0-3h0m-3 1h0m0-5h0m-3 7h0m-3 0h0m-1-7h0m-1 0h0m-1 5h0m0-4h0m-1 6h0m0-2h0m0-5h0m-4 7h0m-2-2h0m0-1h0m0 0h0m-3 3h0m-4-1h0m-7 1h0m-3-1h0m0-5h0m-1 3h0m-1-2h0m0-1h0m-1 1h0m-1-1h0m-1 0h0m-3 3h0m-6 1h0m0-4h0m-4 6h0m-3-3h0m-2 2h0m-4-2h0m-3 1h0m-2 2h0m-1-4h0m-6 2h0m-1 2h0m0-3h0m-2-3h0m-55 0h0m59 9h0m0-1h0m1-1h0m7 3h0m12-2h0m0 5h0m4-1h0m0 1h0m1-4h0m3 4h0m0-1h0m3-5h0m0 0h0m7 2h0m1 1h0m2 0h0m3 3h0m3-1h0m0 1h0m1 1h0m4 0h0m0-4h0m1 1h0m5-2h0m1 1h0m0 3h0m0 0h0m2-5h0m1 5h0m1 0h0m1-5h0m0 5h0m1-5h0m0 6h0m1-6h0m2 2h0m3 1h0m0-1h0m3-2h0m1 0h0m1 4h0m1-5h0m0 5h0m1-2h0m0-2h0m1 6h0m1-6h0m0 6h0m0-7h0m1 5h0m6-5h0m5 0h0m2 5h0m0 1h0m4-1h0m1-4h0m0 2h0m1-3h0m5 0h0m0 1h0m2 6h0m2-3h0m0-3h0m1-1h0m4 3h0m0 0h0m2 1h0m2 1h0m2 0h0m0 0h0m2-1h0m0-2h0m1-2h0m1 1h0m5 4h0m1-3h0m0 4h0m1 1h0m1-3h0m2 0h0m0 1h0m3-2h0m0 1h0m1-4h0m1 1h0m1 3h0m1 3h0m0-1h0m3-4h0m3-2h0m0 2h0m4 2h0m12 3h0m1-7h0m1 6h0m1-5h0m1 2h0m0 2h0m4 1h0m0 1h0m1-3h0m0-2h0m1-2h0m0 5h0m3-4h0m2 1h0m1 1h0m2 2h0m4 0h0m2 2h0m1-6h0m2-1h0m0 7h0m1-2h0m1-1h0m3-4h0m1 1h0m-8 11h0m-1 2h0m-3-2h0m-5-4h0m-2 1h0m-1 5h0m-1-2h0m-3 1h0m-2 1h0m-5 0h0m-3-6h0m-1 3h0m0-2h0m-1 3h0m-2-2h0m0 0h0m0-1h0m-2 0h0m0 6h0m-6-7h0m-1 4h0m0-2h0m-6 5h0m-1-7h0m0 0h0m-2 4h0m-3 2h0m-3-6h0m0 5h0m-1 0h0m-3-3h0m0-2h0m-1 1h0m-1 0h0m-1-1h0m-1 2h0m-2 4h0m0-3h0m-1 0h0m-1 0h0m0 4h0m-2-5h0m-1 3h0m0 0h0m-4-4h0m-1 5h0m0-3h0m-1 2h0m-3-2h0m-3 1h0m0-4h0m-1 7h0m-2 0h0m0-6h0m-2 1h0m-4 2h0m0 0h0m-3-2h0m-2 3h0m-3 1h0m-3-5h0m-2 3h0m-5-4h0m-1 4h0m-1 2h0m-1-3h0m-2 4h0m-1 0h0m-3-7h0m-1 1h0m0-1h0m-4 6h0m-4-4h0m-1 0h0m-3 0h0m-1 3h0m0-5h0m0 3h0m-5 1h0m0-2h0m-10 0h0m-1 0h0m-1 5h0m-1 0h0m-1-4h0m-1-2h0m-1 5h0m-2-4h0m-4 5h0m-5-7h0m-1 5h0m0 1h0m-1-5h0m-14 13h0m6 1h0m2-1h0m9 1h0m2-2h0m1 0h0m4-5h0m0 1h0m1 1h0m2 4h0m0 0h0m3-5h0m0 1h0m4 2h0m3-1h0m1 3h0m2-5h0m2 2h0m1-1h0m0-1h0m5 2h0m3 3h0m1-1h0m0-1h0m0-4h0m1 6h0m2-5h0m2 3h0m1-1h0m5 4h0m2-1h0m1 0h0m0-5h0m1 1h0m1 5h0m1-7h0m1 3h0m0-2h0m1-1h0m1 5h0m5-3h0m1 3h0m1-5h0m3 3h0m0-3h0m1 3h0m2 1h0m2 0h0m1 0h0m0-2h0m1 1h0m1 1h0m0-4h0m0 6h0m2-1h0m0-3h0m3-1h0m1 4h0m2-2h0m0 0h0m2 0h0m2-3h0m2 2h0m2 5h0m0-6h0m2 5h0m0-4h0m1-2h0m2 6h0m0-5h0m1 4h0m1-2h0m0-1h0m1 5h0m3-1h0m1 0h0m0-5h0m1 5h0m1-6h0m4 6h0m1-6h0m0 3h0m1 3h0m1-3h0m0 3h0m1-3h0m1 0h0m0-1h0m1 2h0m1 2h0m2-2h0m1 2h0m1 0h0m2 0h0m2-2h0m0-4h0m6 5h0m0-3h0m4-2h0m1 1h0m2 1h0m1-1h0m0 5h0m0-1h0m0 1h0m0-1h0m1-1h0m1 2h0m1-2h0m0 3h0m2-6h0m0 4h0m2-5h0m1 2h0m1 0h0m1 2h0m4 1h0m1-4h0m1 6h0m0-3h0m2-4h0m0 1h0m0-1h0m2 0h0m3 0h0m-9 9h0m-5 3h0m-2 1h0m-1-3h0m-4 3h0m-2-2h0m-2-1h0m-2 3h0m0-4h0m0 6h0m-1-2h0m-1 2h0m0-7h0m-1 3h0m-3 2h0m-1 1h0m-6 1h0m-1-6h0m0 0h0m0 2h0m-1 2h0m-2 0h0m-1-5h0m-1 6h0m0-1h0m0-3h0m-2 0h0m-2-2h0m-2 4h0m-1 1h0m-2-1h0m-2-1h0m0 4h0m-2-3h0m-1 3h0m-10-7h0m-1 0h0m-1 1h0m-2 1h0m0 1h0m-1-1h0m-2-1h0m-2 4h0m-1-1h0m-1-3h0m-2-1h0m-5 0h0m0 7h0m0-6h0m-2-1h0m-2 7h0m-4-2h0m0-2h0m-2 1h0m-2-4h0m-1 6h0m0-4h0m0 3h0m-1-3h0m-2 0h0m-2 0h0m0 1h0m-1 0h0m0-3h0m-1 3h0m-1 3h0m-1-3h0m-1-1h0m-2-2h0m-1 1h0m-2-1h0m-2 3h0m0-3h0m-1 1h0m0 5h0m0-3h0m-1 4h0m0 0h0m-3-7h0m-1 7h0m0-7h0m-1 4h0m-3-2h0m-2 3h0m0-2h0m-1 3h0m-2-5h0m-2 2h0m-1 3h0m-1-6h0m0 4h0m-1-4h0m-1 4h0m-3-2h0m-1 1h0m-2-1h0m-1 0h0m-2 5h0m-5-6h0m-6 5h0m-1 1h0m0-4h0m-3 0h0m0-1h0m-2-1h0m0 3h0m0 3h0m-2-1h0m0-1h0m-2-3h0m0 0h0m0 0h0m-2-1h0m0 5h0m-3 1h0m0-4h0m-2-3h0m-1 2h0m0 5h0m0-4h0m-1-2h0m-6 5h0m0 0h0m-11 6h0m5-1h0m0-2h0m3-1h0m0 7h0m3-3h0m1 3h0m2-6h0m1-1h0m3 2h0m0 5h0m2-2h0m2-3h0m1-1h0m5 4h0m2-1h0m0 1h0m1-3h0m0-1h0m1 5h0m3-3h0m0-2h0m3 5h0m1-3h0m1 3h0m1-3h0m4-2h0m2 3h0m2-2h0m0-2h0m0 2h0m5 5h0m1 0h0m4-1h0m5-5h0m4 5h0m1 1h0m0-5h0m1-2h0m2 3h0m1-1h0m5 0h0m1 3h0m0 1h0m0 1h0m4 0h0m2-2h0m1 0h0m1-3h0m1 0h0m1-1h0m1-1h0m0 4h0m1 2h0m1-3h0m1-1h0m0 0h0m1 1h0m3 0h0m1 1h0m2-2h0m1 4h0m3-5h0m2 4h0m4 2h0m1-7h0m0 6h0m0 0h0m2-5h0m0 4h0m1-5h0m3 3h0m1 4h0m1-1h0m1-5h0m1 2h0m3 2h0m0 1h0m1-2h0m4 1h0m0 1h0m2-4h0m2 2h0m0 3h0m0-6h0m1 6h0m0-5h0m1 1h0m2-2h0m2 0h0m0 0h0m1 2h0m1-3h0m0 7h0m1-1h0m3-1h0m1 0h0m1 1h0m0 0h0m3 1h0m0-1h0m3-3h0m5 2h0m2-3h0m1 1h0m2 0h0m1-3h0m2 4h0m2 0h0m2-3h0m-16 7h0m0 0h0m-6 2h0m-8-2h0m-2 3h0m-3-1h0m-3-1h0m-1 3h0m-10-4h0m-14 3h0m-3 4h0m-1-3h0m-1-4h0m-2 7h0m-1-5h0m-1 2h0m-1 2h0m-3 1h0m-2-3h0m-3 2h0m-3-3h0m-2-1h0m0-2h0m-2 2h0m-1 5h0m-2-7h0m-5 0h0m-2 3h0m-1 0h0m0 3h0m-3 1h0m-1-6h0m-1 0h0m-3 2h0m-2 3h0m0-4h0m-1-1h0m-1 4h0m-1 2h0m-1-6h0m0 1h0m-1 3h0m0-2h0m-1 3h0m-1 0h0m-2-2h0m-1-3h0m-2 1h0m0-1h0m-3 5h0m-2-1h0m0-3h0m-1 2h0m0-4h0m-4 4h0m-2-4h0m-3 1h0m-4 3h0m-3-4h0m-1 5h0m-3-5h0m-1 3h0m-1 3h0m0-4h0m-8 0h0m0 3h0m0-3h0m-1 5h0m-1-1h0m-1 0h0m-1-1h0m-10 0h0m0 3h0m1 4h0m1 3h0m2-4h0m1 1h0m0-3h0m1 4h0m3-4h0m0-1h0m1 5h0m7 2h0m1-5h0m0-2h0m1 6h0m1-2h0m2 1h0m5-4h0m2 4h0m1-3h0m1-1h0m1-1h0m0 5h0m3-5h0m2 2h0m2 1h0m2-1h0m2 0h0m0-1h0m3 3h0m1 1h0m2 2h0m0-3h0m2 3h0m1-2h0m1-5h0m4 5h0m1-1h0m0 1h0m1-4h0m1 0h0m1 6h0m1 0h0m2-2h0m4-4h0m0 2h0m1 0h0m1 3h0m1-6h0m1 2h0m0-2h0m1 6h0m0 0h0m2 1h0m1-6h0m0 4h0m1-1h0m0-4h0m1 0h0m0 2h0m0 2h0m1-1h0m2 2h0m1-4h0m3 6h0m4 0h0m2-4h0m0 4h0m1-6h0m0 0h0m3 1h0m0-1h0m1 4h0m1 0h0m2-5h0m1 6h0m6-5h0m1 4h0m0-1h0m1 1h0m0-2h0m0 0h0m4 4h0m3 2h0m-3 0h0m0 4h0m0-4h0m-2 2h0m-6-1h0m-5 5h0m0-7h0m-2 5h0m-3-4h0m-2-1h0m0 3h0m-1 2h0m0 0h0m-6 2h0m0-7h0m-6 1h0m-1 4h0m-2 0h0m-1-5h0m-1 7h0m0-4h0m0 0h0m-1-2h0m-4 6h0m-4-2h0m-1 1h0m-1 1h0m-1-1h0m-4-3h0m-1 0h0m-1 4h0m-1-2h0m-3 2h0m-1-1h0m-1-5h0m0 2h0m-3 0h0m0 2h0m-2 2h0m-6 0h0m0-1h0m0-5h0m-2 4h0m-2 0h0m-1-4h0m0 6h0m-3-2h0m-3-2h0m-2 3h0m-2-3h0m-2-3h0m-2 1h0m-6 5h0m-1-1h0m-2 1h0m-4 5h0m3 3h0m0 0h0m2-4h0m0 4h0m0-2h0m4-4h0m0 4h0m3 3h0m1-4h0m1 4h0m0-2h0m1-5h0m1 5h0m1-5h0m2 4h0m2 0h0m3-4h0m1 1h0m0 6h0m0-7h0m3 0h0m1 6h0m2-4h0m1 5h0m1-5h0m1 5h0m1-6h0m1-1h0m1 7h0m5-3h0m1-4h0m1 3h0m0-1h0m1 3h0m0 0h0m0 0h0m2-3h0m1-2h0m2 6h0m1-6h0m0 1h0m2 3h0m4-1h0m4-3h0m2 2h0m0 1h0m2-2h0m0 5h0m0 1h0m8-4h0m2 4h0m0 0h0m1 0h0m0 0h0m0-1h0m1-1h0m3 1h0m0 1h0m2-5h0m0 4h0m2-1h0m1 2h0m3-3h0m1 1h0m3 2h0m1-4h0m0-1h0m1-1h0m1 6h0m3-5h0m0 2h0m2-4h0m2 5h0m1-2h0m0 1h0m1 2h0m2-2h0m3-1h0m-1 9h0m-3-4h0m-3 3h0m-4 2h0m0 2h0m-5-7h0m-3 0h0m0 7h0m-2-1h0m-1 1h0m-6-7h0m0 4h0m0 0h0m-1 3h0m-1-6h0m0 4h0m-2 1h0m-1-5h0m-2-1h0m0 0h0m-5 7h0m-1-2h0m-2 1h0m-2-2h0m0 0h0m-5-2h0m-4-2h0m-1 6h0m0-1h0m-4-2h0m-5-2h0m-1 2h0m0 1h0m0 3h0m-4-2h0m-3-1h0m-1 2h0m-3-5h0m-2 3h0m-1 1h0m-2-2h0m-1 1h0m-1 1h0m0-3h0m-1 3h0m-3 1h0m-4-5h0m-3-1h0m-3 7h0m-3-6h0m-2 6h0m-1-7h0m-2 6h0m0-6h0m-1 7h0m6 4h0m4-1h0m0 3h0m1-5h0m1 5h0m0-1h0m0 0h0m1-3h0m0 5h0m0 1h0m1-5h0m1 0h0m3 4h0m1-3h0m2-2h0m1 4h0m0-2h0m0 0h0m1-1h0m1 5h0m5 0h0m0-6h0m0 2h0m0 2h0m1 0h0m1-2h0m2 1h0m2 0h0m1 3h0m4 0h0m1-1h0m2 0h0m1-4h0m1 2h0m1 3h0m1-3h0m1-4h0m4 7h0m0-6h0m0 3h0m2 1h0m0 0h0m1 2h0m5-7h0m0 5h0m4 1h0m1-5h0m2 2h0m1-1h0m2 5h0m0-1h0m1-5h0m3-1h0m5 4h0m4 1h0m1-5h0m1 7h0m0-1h0m1 1h0m3-5h0m2 3h0m1-1h0m0 3h0m6-1h0m0-1h0m0 0h0m-5 4h0m-1-1h0m-3 5h0m-3-4h0m-1 1h0m-5 1h0m-5 1h0m-2 0h0m0-3h0m-5-1h0m-1 2h0m-2 2h0m0 1h0m-4-3h0m-1 1h0m-2-3h0m-2 7h0m-1-3h0m-2 1h0m0-4h0m0-1h0m-4 2h0m0-2h0m-1 0h0m-1 0h0m-1 5h0m0-4h0m-2 5h0m-3-2h0m-2-2h0m-6 4h0m-1-3h0m-1 0h0m0 1h0m-1 3h0m-2-2h0m-1-3h0m-3 0h0m-1 0h0m-4 0h0m-1 0h0m-3 3h0m-2-3h0m-3 4h0m-1-3h0m0 2h0m0-5h0m-2 0h0m-1 0h0m-1 0h0m10 10h0m2-1h0m2-1h0m0 2h0m2 0h0m0 3h0m7-4h0m0-1h0m8 6h0m2-1h0m0 0h0m0-2h0m2 4h0m2-3h0m3-2h0m1 0h0m2 1h0m2 0h0m0 4h0m1-7h0m0 0h0m0 0h0m2 5h0m0-3h0m0-2h0m1 5h0m0 1h0m0-2h0m1 0h0m2-3h0m2 3h0m10-4h0m1 5h0m2-2h0m0 0h0m0 3h0m7-4h0m0-2h0m3 1h0m0-1h0m-18 8h0m-5 0h0m0 0h0m-5 1h0m0 0h0m-10 0h0m-12-1h0m0 0h0" stroke="#cfcfcf" stroke-width="3.2" stroke-linecap="round"/>
<path transform="scale(.5)" d="M1266 827h0m-11-1h0m-71 4h0m-8 6h0m3 0h0m1-3h0m10 4h0m7 2h0m40-2h0m10 1h0m6 0h0m4-5h0m1 0h0m2 0h0m16 4h0m15 10h0m-5-1h0m-10-2h0m-1 1h0m-7-4h0m-6 1h0m-4-1h0m-2 5h0m-1-2h0m-6 1h0m-2-3h0m-8-2h0m-7 3h0m-29 4h0m-7-7h0m-11 0h0m-4 0h0m0 7h0m-2 0h0m-2 0h0m-9-7h0m-1 13h0m4 2h0m1-7h0m3 2h0m5 5h0m17-3h0m12 0h0m27 2h0m5-1h0m8-3h0m3-1h0m3 1h0m19 4h0m1-4h0m0 0h0m11 2h0m8 2h0m2-4h0m5-2h0m0 5h0m2-2h0m1 0h0m1 3h0m4-3h0m10 2h0m4 2h0m12 0h0m1 0h0m16 8h0m-14-4h0m-5 4h0m-9-3h0m-11 2h0m-2 0h0m-7-6h0m-2 2h0m-3-1h0m-1 4h0m-6-5h0m-13 5h0m-4 1h0m-7-1h0m-18-3h0m-7 1h0m-14-3h0m-1 7h0m-5-4h0m-2 2h0m-27-2h0m-1 3h0m-2-2h0m-1-2h0m-1 0h0m-5 1h0m-2 1h0m-5-3h0m0 1h0m4 8h0m7 4h0m2-4h0m6 2h0m1 3h0m30-2h0m3-5h0m38 7h0m7-5h0m10 5h0m0-5h0m3 3h0m11 1h0m4-3h0m3 3h0m7-6h0m2 0h0m6 3h0m3-2h0m0 1h0m4-1h0m4 3h0m0 1h0m8-1h0m0 0h0m2 2h0m14 1h0m3-3h0m16 11h0m-3 0h0m-17-3h0m-1 0h0m-1 3h0m-3-6h0m-5 2h0m-2-1h0m-6 4h0m-4-3h0m-4-3h0m-3 6h0m-5-2h0m-9 3h0m-17-3h0m-9-2h0m-1 0h0m-2 2h0m-1-3h0m-1 2h0m-3-3h0m-1 5h0m-5-2h0m-1 0h0m-9 0h0m-16-1h0m-14 4h0m0-2h0m-12 2h0m-12-2h0m-2-4h0m-13 5h0m-4-1h0m10 4h0m19 7h0m7-4h0m6-3h0m14 5h0m12 2h0m31-2h0m9 0h0m0-4h0m4 5h0m5-3h0m0-2h0m3 3h0m1 0h0m9-4h0m25 3h0m4 3h0m6 1h0m2-7h0m11 5h0m3-5h0m5 2h0m1 3h0m2 2h0m-1 6h0m-5 0h0m-7 0h0m-5 2h0m-1-5h0m-7 0h0m0 4h0m-10-5h0m-1 3h0m-1-3h0m-5 6h0m-17 0h0m-12-4h0m-11 0h0m-6 1h0m0 2h0m-2-5h0m-8-1h0m-12 3h0m-1-3h0m-11 2h0m-1 3h0m-6-2h0m-10-1h0m-4 1h0m-15 4h0m0 1h0m7 2h0m19-2h0m4 6h0m5 1h0m2-6h0m0 0h0m5 2h0m8 4h0m0-5h0m17 3h0m4 1h0m4-1h0m2-5h0m2 3h0m2-2h0m10 2h0m13 2h0m10-5h0m4 0h0m2 7h0m0-2h0m12-5h0m4 4h0m0-4h0m1 4h0m1-3h0m2 1h0m5 2h0m6 0h0m0-2h0m6 3h0m2 2h0m3-1h0m9 6h0m-2 0h0m-1-4h0m-12 0h0m-12 4h0m-8 3h0m-4-4h0m-10 2h0m-1 1h0m0-3h0m0 0h0m-6 2h0m-6-1h0m-2 2h0m-3-3h0m-7 4h0m-17-5h0m-1-2h0m-3 2h0m-10-1h0m-5 2h0m-10 4h0m0-1h0m-2-4h0m-14 4h0m-19-4h0m-11 5h0m-7 7h0m1 1h0m3-6h0m26 5h0m5-6h0m6 6h0m7-2h0m19-2h0m2 2h0m6 2h0m0-3h0m10-1h0m10 5h0m3-5h0m0 4h0m7-3h0m1-1h0m4 0h0m13 1h0m5 1h0m13-2h0m12-2h0m1 1h0m10 6h0m1-5h0m2 2h0m2 5h0m-9 1h0m-1 1h0m-3-1h0m-3 1h0m-9 0h0m-6-3h0m-1 6h0m-10 1h0m-6-3h0m-4-1h0m-2 2h0m-1-4h0m-7 1h0m-7-2h0m-4 1h0m0 6h0m-2 0h0m-4-3h0m-10 1h0m-4-3h0m-4 4h0m0-3h0m-2 1h0m0 2h0m0-1h0m-9-2h0m-1 0h0m-6 0h0m-4 0h0m-10 3h0m-3-5h0m-3-1h0m-2 0h0m-2 3h0m-4-3h0m-4 0h0m-7 7h0m-4-7h0m-1 0h0m-3 2h0m-1 3h0m-2 1h0m-4-1h0m-1-5h0m-1 2h0m-1 1h0m2 10h0m0-1h0m21 1h0m4 0h0m18-3h0m20-2h0m9 5h0m1-3h0m9-2h0m0 3h0m5 4h0m6 0h0m1 0h0m5-5h0m1 3h0m13-4h0m3 5h0m1-2h0m7 3h0m0-3h0m2 0h0m8 2h0m17 1h0m2-7h0m2 5h0m2 2h0m1-7h0m1 15h0m-12-1h0m-1-4h0m-12 2h0m-15 2h0m-1-1h0m-2 1h0m-2 0h0m-8-6h0m-2 3h0m-23-3h0m-2 1h0m-3 6h0m-1 0h0m-19-2h0m-6 2h0m0-3h0m-1-4h0m-3 5h0m-2 1h0m0-6h0m-3 7h0m0-3h0m-1 3h0m0 0h0m-1-6h0m-3 0h0m-5 5h0m-12 0h0m-2-5h0m-8 5h0m-1 0h0m-4 0h0m12 4h0m6 2h0m5 0h0m3 0h0m0 2h0m4 1h0m7-3h0m3 3h0m7 0h0m18-5h0m4 3h0m8 2h0m5 0h0m13-4h0m1 2h0m14-4h0m2 6h0m2-5h0m9 1h0m2-3h0m20 0h0m-25 9h0m-2 0h0m-12 6h0m-4-6h0m-3 0h0m-2 5h0m-2-4h0m-4 3h0m-15 2h0m-2-3h0m-5-4h0m-7 1h0m-3 5h0m-1-6h0m-1 1h0m-4 0h0m-9 0h0m-4 0h0m-8 0h0m-12 6h0m-6-3h0m-1 1h0m-8-3h0m-10 4h0m-1-1h0m-9-2h0m0-2h0m-3 4h0m-1-2h0m-8 4h0m-3 4h0m6-3h0m2 4h0m7-3h0m0 1h0m15 1h0m17 0h0m0-3h0m8 5h0m6-1h0m5-2h0m4 0h0m11 4h0m9-4h0m12 3h0m20-5h0m1 0h0m9 2h0m5-2h0m3 3h0m1 3h0m0 1h0m6-5h0m3 2h0m12-4h0m-67 14h0m-10-4h0m-9-2h0m-1 4h0m-3-2h0m0 2h0m-2 3h0m-15-7h0m-2 5h0m-2-3h0m-10-1h0m0 4h0m-2-4h0m-3 4h0m-15 2h0m-1-2h0m-3-1h0m-6 2h0m-1-1h0m-6-4h0m-3 7h0m2 0h0m3 7h0m2-4h0m5 1h0m4-4h0m24 5h0m3-2h0m19-3h0m22 5h0m5-2h0m0 4h0m9 1h0m-1 6h0m-9-6h0m-4 4h0m-23 1h0m-6 1h0m-1-3h0m-2-2h0m-4 6h0m-21-6h0m-2 1h0m-1 5h0m-6-2h0m-11-3h0m-1-1h0m-1 3h0m-1 3h0m-4-2h0m1 3h0m6 4h0m9 1h0m2-2h0m1-2h0m2 5h0m1-6h0m6 1h0m8 0h0m26 2h0m0 2h0m7-4h0m13 2h0m1-2h0m1 3h0m0 1h0m4 1h0m11 2h0m-7 6h0m-11-4h0m-6 3h0m0 1h0m-3-1h0m-4 0h0m-17 1h0m-4-3h0m0-2h0m-8 3h0m-3-1h0m-4 4h0m-2-3h0m0-3h0m-1-1h0m-2 0h0m-4 5h0m-2-5h0m-12 0h0m-1 3h0m-3-1h0m3 6h0m4 3h0m1 3h0m5-2h0m1-2h0m13-1h0m5 3h0m5-1h0m24-3h0m2 5h0m1-5h0m3 5h0m7 0h0m7-5h0m-1 10h0m-6-1h0m-3 2h0m-3 2h0m-3 2h0m-11-5h0m-1 1h0m0 1h0m-3 0h0m-12 1h0m-5 1h0m-2 0h0m-7-4h0m-1 0h0m-5 0h0m-3 4h0m-5-6h0m4 8h0m18 1h0m3 4h0m14-2h0m0 2h0m9-4h0" stroke="#ffffff" stroke-width="1.8" stroke-linecap="round" stroke-opacity="0.9"/>
<path transform="scale(.5)" d="M1251 822h0m7 1h0m7-2h0m1 2h0m11 8h0m-3 0h0m-2-4h0m-1 3h0m-1 0h0m-12-4h0m0 2h0m-2-3h0m0 4h0m-1-3h0m-1 4h0m-10 1h0m-45-2h0m-21-4h0m-7 12h0m22 1h0m13 1h0m32-1h0m4 0h0m2-4h0m1 1h0m10-3h0m2 1h0m1 3h0m1 1h0m4 1h0m1 0h0m0 0h0m5 1h0m0-5h0m8 0h0m1 5h0m1-5h0m1 1h0m0-2h0m1-1h0m2 1h0m1-1h0m2 1h0m2-1h0m30 15h0m-1 0h0m-2-1h0m-3 0h0m-3-1h0m-16 1h0m-14-6h0m-3 2h0m-5 4h0m-2-1h0m-1-4h0m-2 0h0m-4 3h0m-4 0h0m-4 0h0m0 3h0m-5-3h0m-10 0h0m-38 2h0m-9 1h0m-10-2h0m-7-1h0m0 0h0m-9 7h0m1-1h0m4-1h0m8 4h0m8 2h0m7-7h0m5 7h0m5-3h0m18 3h0m2-1h0m3-4h0m1 5h0m4-6h0m6 2h0m6 2h0m2 2h0m2-7h0m7 0h0m2 6h0m12 0h0m9-3h0m15 0h0m6 1h0m4-1h0m1 0h0m4 1h0m3 0h0m3-1h0m2 4h0m5-5h0m3 1h0m1-2h0m25 14h0m-3-4h0m-6-3h0m-3 6h0m-2-1h0m-5-4h0m-1 3h0m-1-1h0m-9-1h0m-5 3h0m-4-3h0m-1 3h0m0 1h0m-1-4h0m-4 1h0m0 1h0m-10 2h0m-1-4h0m-7 2h0m0 0h0m-5-2h0m0 2h0m-12 3h0m-2-5h0m-2 2h0m-1 2h0m-5-3h0m-3 0h0m-1-2h0m-2 4h0m-8-3h0m-6-2h0m-2 0h0m-4 6h0m-7-1h0m-2 2h0m-3-4h0m-41 3h0m-4-4h0m-9-1h0m13 12h0m6-5h0m3 3h0m29-2h0m5-1h0m5 0h0m0 5h0m5-2h0m4 4h0m2 0h0m4-1h0m1 0h0m6-3h0m8 0h0m8-1h0m0 3h0m4-5h0m1 3h0m7 1h0m6-3h0m0 4h0m15-3h0m1 1h0m7-1h0m1 1h0m2-3h0m2 6h0m4-6h0m2 1h0m3 0h0m1 3h0m1 0h0m0-2h0m6 1h0m0 3h0m9-2h0m5 2h0m7-6h0m1 4h0m0 0h0m2-1h0m2 0h0m7 3h0m9 7h0m-9 0h0m-2 0h0m-1-4h0m-3-1h0m-1 6h0m0 1h0m0-2h0m0-5h0m-6 6h0m-10-2h0m-2 1h0m-1 1h0m-2-3h0m0 1h0m0-3h0m-1 0h0m-1 1h0m-2 0h0m-6-1h0m-1 1h0m-7 2h0m-7-3h0m0 6h0m-2-3h0m0 3h0m-7-7h0m0 3h0m-4 2h0m-4-2h0m-6 4h0m-5-3h0m-1-1h0m0 1h0m-2-2h0m-2 2h0m-7 1h0m-6 2h0m0-6h0m-6 3h0m-3-4h0m-9 6h0m-1 0h0m-1 1h0m-4-7h0m-9 2h0m-6 0h0m-4 5h0m-7-2h0m-20-3h0m-2 6h0m4 6h0m6-1h0m4-4h0m8 6h0m14 0h0m4-5h0m0 4h0m10-2h0m0 1h0m17-3h0m6 2h0m7 1h0m3-2h0m8 2h0m9-4h0m18 1h0m0-2h0m4 6h0m5-1h0m2-4h0m6 1h0m2 2h0m4-4h0m7 6h0m1-2h0m0-4h0m8 3h0m0 1h0m3 1h0m0 2h0m2-1h0m2-6h0m0 2h0m1 5h0m0-2h0m4-3h0m1 3h0m0-5h0m0 1h0m0 0h0m1 5h0m3-2h0m0 2h0m1-4h0m2 3h0m3 0h0m0 2h0m1 0h0m0-4h0m3 2h0m1 1h0m5 9h0m-3-7h0m-4 4h0m-3 3h0m0-3h0m-1-3h0m-4-1h0m-1 2h0m-5 1h0m-4-2h0m-1 6h0m-1-7h0m-1 7h0m-5-6h0m-2 0h0m-4 4h0m-3-5h0m-1 6h0m-5 1h0m-9-2h0m-1 0h0m-7-2h0m-2 2h0m-10-2h0m-12 4h0m-1 0h0m0-6h0m-10 3h0m-8-3h0m-9 3h0m-2-4h0m-12 4h0m-3-1h0m-3-1h0m-2 5h0m-2-4h0m-1-3h0m-1 7h0m-3-2h0m-6 2h0m-1-6h0m-10 4h0m0-5h0m-2 7h0m2 3h0m9-2h0m0 4h0m6 1h0m1 1h0m2-4h0m3 0h0m0 5h0m19-2h0m3 1h0m10-4h0m6 2h0m5 0h0m2 2h0m2-1h0m0-1h0m10 1h0m1 0h0m2-3h0m9 2h0m2-1h0m3 0h0m1-2h0m5 3h0m1 3h0m2-7h0m3 7h0m7-3h0m1 3h0m0-1h0m0-6h0m4 6h0m4 1h0m1 0h0m0-4h0m4 4h0m1-3h0m2 3h0m1-4h0m8 0h0m2-1h0m3 1h0m1-2h0m4 5h0m3-1h0m3-2h0m1 0h0m0 3h0m2-3h0m2 1h0m1 1h0m1 1h0m9 6h0m-2 0h0m0 3h0m-2-4h0m-4 4h0m-1-5h0m-1 1h0m-1 2h0m-2 0h0m-2 0h0m0-2h0m-1 1h0m-3-1h0m0 4h0m-1-7h0m-3 7h0m0-1h0m-6-4h0m-3 2h0m-1-3h0m-5-1h0m0 6h0m-1-1h0m0 0h0m-4-3h0m-1 2h0m-1 0h0m-1 0h0m-2 3h0m-4-5h0m0 5h0m-8-4h0m-5-1h0m-6-2h0m-4 3h0m-7 4h0m0-4h0m-1 2h0m0-1h0m0 0h0m-4 2h0m-1-1h0m-2 2h0m-1-4h0m-4 2h0m-4 2h0m-18-5h0m-11-1h0m-10 4h0m-1 2h0m-4-1h0m-5-5h0m-2 6h0m-4-7h0m0 2h0m-1-1h0m-1 6h0m-8-6h0m-8 10h0m1 1h0m0 2h0m0 0h0m14-3h0m17 1h0m6-1h0m3 2h0m7-1h0m7-3h0m0 4h0m6 2h0m11-6h0m0 1h0m5-1h0m1 2h0m1-2h0m2 0h0m3 0h0m2 6h0m5-3h0m4 1h0m0 1h0m2-5h0m2 0h0m5 5h0m9-4h0m1 1h0m1 3h0m2-4h0m1-2h0m2 1h0m2 3h0m1 3h0m2-1h0m2-5h0m5 4h0m2-3h0m0 5h0m2-2h0m4-2h0m1 2h0m2 1h0m10-2h0m4-4h0m4 5h0m1-2h0m2 1h0m1 1h0m0-3h0m1-1h0m1 4h0m3 1h0m1-2h0m-1 5h0m-3 3h0m0-2h0m-4 4h0m-2-2h0m-2-4h0m-1 4h0m-2-3h0m-1 5h0m-1 1h0m0-4h0m-2 0h0m-1 1h0m-1-3h0m-2 1h0m-2-1h0m-1 2h0m0-2h0m-1 0h0m-1-1h0m-3 7h0m-6 0h0m-4-3h0m-2-3h0m-3 3h0m-7 1h0m0-1h0m-2 0h0m0-3h0m-3 3h0m-12 1h0m0-5h0m-8 1h0m-2 4h0m-3-2h0m-2 2h0m-1-4h0m-1 1h0m-1 2h0m-11-3h0m-5 5h0m-4-3h0m-2-3h0m-26 5h0m-5-2h0m-18 0h0m-3 1h0m-9 1h0m-5-5h0m31 14h0m5 1h0m17-3h0m1 2h0m6 1h0m4-3h0m1 3h0m3-2h0m1-1h0m1-2h0m2-2h0m5 2h0m4 1h0m8-3h0m3 1h0m1 5h0m9-1h0m4-4h0m2 2h0m10 3h0m3 1h0m0-7h0m7 1h0m1 4h0m1 1h0m0-1h0m0 0h0m0 1h0m2-2h0m0-4h0m6 1h0m2 5h0m1-6h0m6 2h0m0 3h0m1 0h0m1 2h0m9-1h0m2-6h0m5 5h0m0 2h0m1 0h0m0-2h0m0-4h0m1 0h0m-3 11h0m-1-2h0m0-1h0m-5 6h0m-1-3h0m-2-3h0m0-1h0m-2 1h0m-1 0h0m-1-1h0m-5 4h0m-1 3h0m-1-2h0m0 2h0m-6 0h0m-2-4h0m0-1h0m-2-1h0m-3 2h0m-2 4h0m-6-6h0m-4 1h0m-2 4h0m-7-5h0m0 3h0m-4 0h0m-5 1h0m-7-5h0m-2 3h0m0-2h0m-5 1h0m-11 2h0m-5-4h0m-3 5h0m-4-3h0m-1 0h0m-22-1h0m-16 0h0m-6 4h0m-13 1h0m2 2h0m14 5h0m22 2h0m11-2h0m9-4h0m4 4h0m2 2h0m3-2h0m4-5h0m5 4h0m3-4h0m2 5h0m5-5h0m8 6h0m3-2h0m0-2h0m4-2h0m0 4h0m1 2h0m2-1h0m2-2h0m1-1h0m2 5h0m2 0h0m0-4h0m1-3h0m1 3h0m0-1h0m1 5h0m1 0h0m0-4h0m1-3h0m2 3h0m1 2h0m0 0h0m1-1h0m0 3h0m0-6h0m1-1h0m0 0h0m1 3h0m1-1h0m1 1h0m3-2h0m1 5h0m2-5h0m3 0h0m0 1h0m1 0h0m5 2h0m1-4h0m1 1h0m1 2h0m4 4h0m1 0h0m-6 3h0m-1 0h0m-1-1h0m-8 4h0m-1-1h0m0-2h0m-3-1h0m-1 3h0m-1 3h0m-7 0h0m-1-7h0m-8 2h0m-4 4h0m0-3h0m-1-2h0m-1-1h0m-1 5h0m0-3h0m-1 3h0m-2 0h0m0-1h0m-10-3h0m-3 6h0m-1-2h0m-2-3h0m-4 0h0m-3 5h0m-8-3h0m0 1h0m-4-2h0m0 0h0m-3 1h0m-1-1h0m-24 2h0m-9 2h0m-14-1h0m-22 1h0m-5-3h0m-5 1h0m-3 0h0m-2 10h0m7-4h0m2-2h0m1 5h0m4-1h0m16 2h0m1-6h0m8 1h0m51 1h0m2-2h0m6-1h0m5 7h0m7 0h0m8-2h0m2 0h0m1-1h0m1-2h0m1 2h0m6 3h0m3-6h0m2 1h0m1 4h0m5-2h0m-17 4h0m-34 7h0m-31-6h0m-7 4h0m-48 1h0m-5 6h0m12-2h0m27 1h0m7 2h0m42 0h0m2-4h0m1 1h0m-11 8h0m-13 4h0m-20 0h0m0-6h0m-25 4h0m-3 0h0m-2 1h0m1 9h0m16-5h0m8 5h0m14-4h0m27-2h0m6 15h0m-12 0h0m-32 0h0m-7-3h0m0 2h0m-4-6h0m-10 3h0m-3 1h0m-16 6h0m17 5h0m21-7h0m2 7h0m15-6h0m0-1h0m28 5h0m-28 4h0m-39 0h0m20 10h0" stroke="#a11d33" stroke-width="3" stroke-linecap="round"/>
<path transform="scale(.5)" d="M1184 830h0m-2 7h0m-1 5h0m-12 6h0m6 5h0m7-3h0m4 3h0m1 2h0m0-6h0m11 13h0m-15 0h0m-3 4h0m1 1h0m19 3h0m26-2h0m16 9h0m-1 0h0m-2-4h0m-5 6h0m0-5h0m-1-2h0m-7 2h0m-4 4h0m0-4h0m-3 3h0m12 3h0m-101 36h0m2 4h0m108 39h0m-9-4h0m-4 0h0m-6 3h0m-3-2h0m-2 1h0m-5 2h0m-1-1h0m-3-3h0m0-2h0m-14 12h0m0 1h0m28-3h0m9 2h0m21 0h0m2-3h0m2 0h0m29 13h0m-4-5h0m-7 3h0m0-3h0m-3-2h0m-13 6h0m-6-5h0m-4 6h0m-8-4h0m-1-1h0m-3 2h0m-3-4h0m-7 6h0m-8 1h0m0-3h0m-3-2h0m-6 2h0m-3 2h0m-12-2h0m-3-1h0m-4 0h0m3 10h0m13-4h0m13 2h0m0-2h0m1 1h0m7 0h0m4-1h0m0 5h0m2 0h0m1-5h0m10 6h0m2-6h0m7 2h0m4 0h0m6 1h0m5 3h0m0-6h0m6 2h0m4 2h0m9-4h0m2 4h0m0 0h0m6 8h0m-6-5h0m-4 0h0m-5 6h0m-13 1h0m0-4h0m-3 3h0m-2-1h0m-1-3h0m-3-2h0m-8 6h0m-13 0h0m0-2h0m-6 3h0m-2-1h0m-1-3h0m-6 3h0m-2 0h0m-6 1h0m-11-2h0m-4 0h0m-2 7h0m1 0h0m9-1h0m7 2h0m3-5h0m8 6h0m0 1h0m1-3h0m4-4h0m2 4h0m6-1h0m1 4h0m1-6h0m4-1h0m13 2h0m9 1h0m2 0h0m1 3h0m4-6h0m2 5h0m3-2h0m9 0h0m0 9h0m-4 1h0m-16-4h0m0-1h0m-5 1h0m-4 4h0m-1 1h0m-20-1h0m-25 0h0m-3 1h0m-4-3h0m-5-1h0m6 13h0m0-2h0m9-2h0m1 2h0m7-3h0m0 3h0m6-4h0m1 4h0m1-3h0m4 3h0m9 0h0m2-1h0m5 1h0m1-4h0m10 3h0m0 2h0m4-5h0m3 5h0m7-3h0m3 4h0m-1 2h0m-9 1h0m-14 3h0m-13 0h0m-2 2h0m-3-3h0m-2 1h0m-5-3h0m-4 3h0m7 7h0m1-3h0m3 4h0m9 0h0m5-5h0m8 1h0" stroke="#1f4f86" stroke-width="3.2" stroke-linecap="round"/>
<line x1="555.9" y1="427.7" x2="558.4" y2="427.7" stroke="#333" stroke-width="0.8"/>
<text x="554.5" y="432.2" font-size="13" text-anchor="end" stroke="#000" stroke-width="0.22">5</text>
<line x1="555.9" y1="463.8" x2="558.4" y2="463.8" stroke="#333" stroke-width="0.8"/>
<text x="554.5" y="468.3" font-size="13" text-anchor="end" stroke="#000" stroke-width="0.22">0</text>
<line x1="555.9" y1="500.9" x2="558.4" y2="500.9" stroke="#333" stroke-width="0.8"/>
<text x="554.5" y="505.4" font-size="13" text-anchor="end" stroke="#000" stroke-width="0.22">−5</text>
<line x1="591.6" y1="519.6" x2="591.6" y2="522.1" stroke="#333" stroke-width="0.8"/>
<text x="591.6" y="532.8" font-size="13" text-anchor="middle" stroke="#000" stroke-width="0.22">−5</text>
<line x1="633.5" y1="519.6" x2="633.5" y2="522.1" stroke="#333" stroke-width="0.8"/>
<text x="633.5" y="532.8" font-size="13" text-anchor="middle" stroke="#000" stroke-width="0.22">0</text>
<line x1="677" y1="519.6" x2="677" y2="522.1" stroke="#333" stroke-width="0.8"/>
<text x="677" y="532.8" font-size="13" text-anchor="middle" stroke="#000" stroke-width="0.22">5</text>
<text x="633.8" y="546.6" font-size="13" text-anchor="middle" stroke="#000" stroke-width="0.22">UMAP_1</text>
<text x="538.8" y="463.4" font-size="13" text-anchor="middle" stroke="#000" stroke-width="0.22" transform="rotate(-90 538.8 463.4)">UMAP_2</text>
<circle cx="660" cy="496.1" r="2.2" fill="#a11d33"/>
<text x="663.2" y="500.6" font-size="13" stroke="#000" stroke-width="0.22" font-style="italic">Vegfa</text>
<circle cx="660" cy="510.6" r="2.2" fill="#1f4f86"/>
<text x="663.2" y="515.1" font-size="13" stroke="#000" stroke-width="0.22" font-style="italic">Flt1</text>
<text x="759.7" y="408.6" font-size="13" text-anchor="middle" stroke="#000" stroke-width="0.22">Threshold</text>
<text x="759.7" y="425.7" font-size="13" text-anchor="middle" stroke="#000" stroke-width="0.22">(0.5)</text>
<rect x="734.1" y="431.3" width="6.5" height="7.9" fill="#0a3c6e"/>
<rect x="734.1" y="438.6" width="6.5" height="7.9" fill="#2f5882"/>
<rect x="734.1" y="445.9" width="6.5" height="7.9" fill="#517295"/>
<rect x="734.1" y="453.2" width="6.5" height="7.9" fill="#718ba6"/>
<rect x="734.1" y="460.5" width="6.5" height="7.9" fill="#8da1b5"/>
<rect x="734.1" y="467.9" width="6.5" height="7.9" fill="#a6b4c3"/>
<rect x="734.1" y="475.2" width="6.5" height="7.9" fill="#bcc5cf"/>
<rect x="734.1" y="482.5" width="6.5" height="7.9" fill="#ced3d9"/>
<rect x="734.1" y="489.8" width="6.5" height="7.9" fill="#dbdde0"/>
<rect x="734.1" y="497.1" width="6.5" height="7.3" fill="#e2e2e4"/>
<rect x="740" y="431.3" width="6.5" height="7.9" fill="#0c3c6f"/>
<rect x="740" y="438.6" width="6.5" height="7.9" fill="#305882"/>
<rect x="740" y="445.9" width="6.5" height="7.9" fill="#527295"/>
<rect x="740" y="453.2" width="6.5" height="7.9" fill="#718aa5"/>
<rect x="740" y="460.5" width="6.5" height="7.9" fill="#8e9fb4"/>
<rect x="740" y="467.9" width="6.5" height="7.9" fill="#a7b2c2"/>
<rect x="740" y="475.2" width="6.5" height="7.9" fill="#bcc3cd"/>
<rect x="740" y="482.5" width="6.5" height="7.9" fill="#ced0d7"/>
<rect x="740" y="489.8" width="6.5" height="7.9" fill="#dadade"/>
<rect x="740" y="497.1" width="6.5" height="7.3" fill="#e1dfe1"/>
<rect x="745.9" y="431.3" width="6.5" height="7.9" fill="#123c72"/>
<rect x="745.9" y="438.6" width="6.5" height="7.9" fill="#355784"/>
<rect x="745.9" y="445.9" width="6.5" height="7.9" fill="#567094"/>
<rect x="745.9" y="453.2" width="6.5" height="7.9" fill="#7486a4"/>
<rect x="745.9" y="460.5" width="6.5" height="7.9" fill="#8f9bb1"/>
<rect x="745.9" y="467.9" width="6.5" height="7.9" fill="#a7adbe"/>
<rect x="745.9" y="475.2" width="6.5" height="7.9" fill="#bbbdc8"/>
<rect x="745.9" y="482.5" width="6.5" height="7.9" fill="#ccc9d1"/>
<rect x="745.9" y="489.8" width="6.5" height="7.9" fill="#d8d3d7"/>
<rect x="745.9" y="497.1" width="6.5" height="7.3" fill="#ded7da"/>
<rect x="751.8" y="431.3" width="6.5" height="7.9" fill="#1d3e78"/>
<rect x="751.8" y="438.6" width="6.5" height="7.9" fill="#3e5686"/>
<rect x="751.8" y="445.9" width="6.5" height="7.9" fill="#5c6c94"/>
<rect x="751.8" y="453.2" width="6.5" height="7.9" fill="#7881a1"/>
<rect x="751.8" y="460.5" width="6.5" height="7.9" fill="#9194ac"/>
<rect x="751.8" y="467.9" width="6.5" height="7.9" fill="#a7a4b6"/>
<rect x="751.8" y="475.2" width="6.5" height="7.9" fill="#bab2bf"/>
<rect x="751.8" y="482.5" width="6.5" height="7.9" fill="#cabec6"/>
<rect x="751.8" y="489.8" width="6.5" height="7.9" fill="#d5c6cb"/>
<rect x="751.8" y="497.1" width="6.5" height="7.3" fill="#dbcbce"/>
<rect x="757.7" y="431.3" width="6.5" height="7.9" fill="#2c3f7f"/>
<rect x="757.7" y="438.6" width="6.5" height="7.9" fill="#49548a"/>
<rect x="757.7" y="445.9" width="6.5" height="7.9" fill="#646894"/>
<rect x="757.7" y="453.2" width="6.5" height="7.9" fill="#7d799d"/>
<rect x="757.7" y="460.5" width="6.5" height="7.9" fill="#9389a5"/>
<rect x="757.7" y="467.9" width="6.5" height="7.9" fill="#a798ac"/>
<rect x="757.7" y="475.2" width="6.5" height="7.9" fill="#b8a4b3"/>
<rect x="757.7" y="482.5" width="6.5" height="7.9" fill="#c6aeb8"/>
<rect x="757.7" y="489.8" width="6.5" height="7.9" fill="#d0b5bc"/>
<rect x="757.7" y="497.1" width="6.5" height="7.3" fill="#d5b9bd"/>
<rect x="763.7" y="431.3" width="6.5" height="7.9" fill="#404289"/>
<rect x="763.7" y="438.6" width="6.5" height="7.9" fill="#58528f"/>
<rect x="763.7" y="445.9" width="6.5" height="7.9" fill="#6f6293"/>
<rect x="763.7" y="453.2" width="6.5" height="7.9" fill="#847098"/>
<rect x="763.7" y="460.5" width="6.5" height="7.9" fill="#977c9c"/>
<rect x="763.7" y="467.9" width="6.5" height="7.9" fill="#a888a0"/>
<rect x="763.7" y="475.2" width="6.5" height="7.9" fill="#b691a3"/>
<rect x="763.7" y="482.5" width="6.5" height="7.9" fill="#c299a5"/>
<rect x="763.7" y="489.8" width="6.5" height="7.9" fill="#ca9fa7"/>
<rect x="763.7" y="497.1" width="6.5" height="7.3" fill="#cfa2a8"/>
<rect x="769.6" y="431.3" width="6.5" height="7.9" fill="#574496"/>
<rect x="769.6" y="438.6" width="6.5" height="7.9" fill="#6a5094"/>
<rect x="769.6" y="445.9" width="6.5" height="7.9" fill="#7c5a93"/>
<rect x="769.6" y="453.2" width="6.5" height="7.9" fill="#8c6492"/>
<rect x="769.6" y="460.5" width="6.5" height="7.9" fill="#9b6c91"/>
<rect x="769.6" y="467.9" width="6.5" height="7.9" fill="#a87490"/>
<rect x="769.6" y="475.2" width="6.5" height="7.9" fill="#b37b8f"/>
<rect x="769.6" y="482.5" width="6.5" height="7.9" fill="#bc808e"/>
<rect x="769.6" y="489.8" width="6.5" height="7.9" fill="#c3848e"/>
<rect x="769.6" y="497.1" width="6.5" height="7.3" fill="#c6868e"/>
<rect x="775.5" y="431.3" width="6.5" height="7.9" fill="#7348a4"/>
<rect x="775.5" y="438.6" width="6.5" height="7.9" fill="#804d9b"/>
<rect x="775.5" y="445.9" width="6.5" height="7.9" fill="#8c5192"/>
<rect x="775.5" y="453.2" width="6.5" height="7.9" fill="#96568b"/>
<rect x="775.5" y="460.5" width="6.5" height="7.9" fill="#a05984"/>
<rect x="775.5" y="467.9" width="6.5" height="7.9" fill="#a95d7d"/>
<rect x="775.5" y="475.2" width="6.5" height="7.9" fill="#b06078"/>
<rect x="775.5" y="482.5" width="6.5" height="7.9" fill="#b66274"/>
<rect x="775.5" y="489.8" width="6.5" height="7.9" fill="#ba6470"/>
<rect x="775.5" y="497.1" width="6.5" height="7.3" fill="#bd656f"/>
<rect x="781.4" y="431.3" width="6.5" height="7.9" fill="#944bb5"/>
<rect x="781.4" y="438.6" width="6.5" height="7.9" fill="#9949a2"/>
<rect x="781.4" y="445.9" width="6.5" height="7.9" fill="#9e4792"/>
<rect x="781.4" y="453.2" width="6.5" height="7.9" fill="#a24582"/>
<rect x="781.4" y="460.5" width="6.5" height="7.9" fill="#a64474"/>
<rect x="781.4" y="467.9" width="6.5" height="7.9" fill="#a94268"/>
<rect x="781.4" y="475.2" width="6.5" height="7.9" fill="#ac415d"/>
<rect x="781.4" y="482.5" width="6.5" height="7.9" fill="#af4055"/>
<rect x="781.4" y="489.8" width="6.5" height="7.9" fill="#b03f4e"/>
<rect x="781.4" y="497.1" width="6.5" height="7.3" fill="#b13f4b"/>
<rect x="787.3" y="431.3" width="5.9" height="7.9" fill="#b950c8"/>
<rect x="787.3" y="438.6" width="5.9" height="7.9" fill="#b545ab"/>
<rect x="787.3" y="445.9" width="5.9" height="7.9" fill="#b23c91"/>
<rect x="787.3" y="453.2" width="5.9" height="7.9" fill="#af3379"/>
<rect x="787.3" y="460.5" width="5.9" height="7.9" fill="#ac2b63"/>
<rect x="787.3" y="467.9" width="5.9" height="7.9" fill="#aa2450"/>
<rect x="787.3" y="475.2" width="5.9" height="7.9" fill="#a81e3f"/>
<rect x="787.3" y="482.5" width="5.9" height="7.9" fill="#a61931"/>
<rect x="787.3" y="489.8" width="5.9" height="7.9" fill="#a51527"/>
<rect x="787.3" y="497.1" width="5.9" height="7.3" fill="#a51423"/>
<line x1="740" y1="504.4" x2="740" y2="505.9" stroke="#555" stroke-width="0.5"/>
<line x1="752" y1="504.4" x2="752" y2="505.9" stroke="#555" stroke-width="0.5"/>
<line x1="764" y1="504.4" x2="764" y2="505.9" stroke="#555" stroke-width="0.5"/>
<line x1="776" y1="504.4" x2="776" y2="505.9" stroke="#555" stroke-width="0.5"/>
<line x1="788" y1="504.4" x2="788" y2="505.9" stroke="#555" stroke-width="0.5"/>
<text x="730.9" y="445.1" font-size="13" text-anchor="end" stroke="#000" stroke-width="0.22">10.0</text>
<text x="730.9" y="461.2" font-size="13" text-anchor="end" stroke="#000" stroke-width="0.22">7.5</text>
<text x="730.9" y="478.3" font-size="13" text-anchor="end" stroke="#000" stroke-width="0.22">5.0</text>
<text x="730.9" y="495.1" font-size="13" text-anchor="end" stroke="#000" stroke-width="0.22">2.5</text>
<text x="742.5" y="520.9" font-size="13" text-anchor="middle" stroke="#000" stroke-width="0.22">2</text>
<text x="767.3" y="520.9" font-size="13" text-anchor="middle" stroke="#000" stroke-width="0.22">6</text>
<text x="788.3" y="520.9" font-size="13" text-anchor="middle" stroke="#000" stroke-width="0.22">10</text>
<text x="0.8" y="581.2" font-size="13" stroke="#000" stroke-width="0.22">J</text>
<text x="54.7" y="591.5" font-size="13" text-anchor="middle" stroke="#000" stroke-width="0.22">CDCs</text>
<ellipse cx="54.6" cy="607.6" rx="20.5" ry="10" fill="#fff" stroke="#8a8a8a" stroke-width="0.6"/>
<ellipse cx="54.6" cy="610.8" rx="20.2" ry="9" fill="#7a8db5" stroke="#3a4866" stroke-width="0.7"/>
<ellipse cx="54.6" cy="609.2" rx="19.7" ry="8" fill="#8496bd" stroke="#4a5a7e" stroke-width="0.5"/>
<ellipse cx="48.6" cy="605" rx="2.4" ry="1.3" fill="#c83a3a" stroke="#6a1010" stroke-width="0.3"/>
<circle cx="48.6" cy="605" r="0.6" fill="#fff"/>
<ellipse cx="56.6" cy="604.5" rx="2.4" ry="1.3" fill="#c83a3a" stroke="#6a1010" stroke-width="0.3"/>
<circle cx="56.6" cy="604.5" r="0.6" fill="#fff"/>
<ellipse cx="62.6" cy="605.5" rx="2.4" ry="1.3" fill="#c83a3a" stroke="#6a1010" stroke-width="0.3"/>
<circle cx="62.6" cy="605.5" r="0.6" fill="#fff"/>
<ellipse cx="53.6" cy="609" rx="2.4" ry="1.3" fill="#c83a3a" stroke="#6a1010" stroke-width="0.3"/>
<circle cx="53.6" cy="609" r="0.6" fill="#fff"/>
<ellipse cx="60.6" cy="610" rx="2.4" ry="1.3" fill="#c83a3a" stroke="#6a1010" stroke-width="0.3"/>
<circle cx="60.6" cy="610" r="0.6" fill="#fff"/>
<ellipse cx="46.6" cy="609" rx="2.4" ry="1.3" fill="#c83a3a" stroke="#6a1010" stroke-width="0.3"/>
<circle cx="46.6" cy="609" r="0.6" fill="#fff"/>
<circle cx="45.6" cy="608.5" r="2.3" fill="#6a6a6a" stroke="#333" stroke-width="0.3"/>
<circle cx="45" cy="607.9" r="1" fill="#c8c8c8"/>
<circle cx="51.6" cy="610" r="2.3" fill="#6a6a6a" stroke="#333" stroke-width="0.3"/>
<circle cx="51" cy="609.4" r="1" fill="#c8c8c8"/>
<circle cx="57.6" cy="607.5" r="2.3" fill="#6a6a6a" stroke="#333" stroke-width="0.3"/>
<circle cx="57" cy="606.9" r="1" fill="#c8c8c8"/>
<circle cx="63.6" cy="609" r="2.3" fill="#6a6a6a" stroke="#333" stroke-width="0.3"/>
<circle cx="63" cy="608.4" r="1" fill="#c8c8c8"/>
<circle cx="54.6" cy="611.5" r="2.3" fill="#6a6a6a" stroke="#333" stroke-width="0.3"/>
<circle cx="54" cy="610.9" r="1" fill="#c8c8c8"/>
<line x1="55" y1="622.8" x2="55" y2="642.3" stroke="#000" stroke-width="2"/>
<line x1="55" y1="642.3" x2="45.3" y2="651.5" stroke="#000" stroke-width="2"/>
<line x1="55" y1="642.3" x2="64.8" y2="651.5" stroke="#000" stroke-width="2"/>
<path d="M42.6 654.2L43.2 648.2L48.4 653.3Z" fill="#000"/>
<path d="M67.5 654.2L61.7 653.3L66.9 648.2Z" fill="#000"/>
<text x="13.4" y="637.8" font-size="13" stroke="#000" stroke-width="0.22">FACS</text>
<text x="2.8" y="667" font-size="13" stroke="#000" stroke-width="0.22">Sca-1<tspan font-size="7.5" dy="-5">−</tspan></text>
<text x="69.2" y="667" font-size="13" stroke="#000" stroke-width="0.22">Sca-1<tspan font-size="7.5" dy="-5">+</tspan></text>
<ellipse cx="22.2" cy="682.8" rx="20.5" ry="10" fill="#fff" stroke="#8a8a8a" stroke-width="0.6"/>
<ellipse cx="22.2" cy="686" rx="20.2" ry="9" fill="#7a8db5" stroke="#3a4866" stroke-width="0.7"/>
<ellipse cx="22.2" cy="684.4" rx="19.7" ry="8" fill="#8496bd" stroke="#4a5a7e" stroke-width="0.5"/>
<circle cx="19.2" cy="680.5" r="2.3" fill="#6a6a6a" stroke="#333" stroke-width="0.3"/>
<circle cx="18.6" cy="679.9" r="1" fill="#c8c8c8"/>
<circle cx="24.2" cy="680.5" r="2.3" fill="#6a6a6a" stroke="#333" stroke-width="0.3"/>
<circle cx="23.6" cy="679.9" r="1" fill="#c8c8c8"/>
<circle cx="17.2" cy="684.5" r="2.3" fill="#6a6a6a" stroke="#333" stroke-width="0.3"/>
<circle cx="16.6" cy="683.9" r="1" fill="#c8c8c8"/>
<circle cx="22.2" cy="684" r="2.3" fill="#6a6a6a" stroke="#333" stroke-width="0.3"/>
<circle cx="21.6" cy="683.4" r="1" fill="#c8c8c8"/>
<circle cx="27.2" cy="684.5" r="2.3" fill="#6a6a6a" stroke="#333" stroke-width="0.3"/>
<circle cx="26.6" cy="683.9" r="1" fill="#c8c8c8"/>
<circle cx="20.2" cy="686.5" r="2.3" fill="#6a6a6a" stroke="#333" stroke-width="0.3"/>
<circle cx="19.6" cy="685.9" r="1" fill="#c8c8c8"/>
<ellipse cx="87.7" cy="682.8" rx="20.5" ry="10" fill="#fff" stroke="#8a8a8a" stroke-width="0.6"/>
<ellipse cx="87.7" cy="686" rx="20.2" ry="9" fill="#7a8db5" stroke="#3a4866" stroke-width="0.7"/>
<ellipse cx="87.7" cy="684.4" rx="19.7" ry="8" fill="#8496bd" stroke="#4a5a7e" stroke-width="0.5"/>
<ellipse cx="83.7" cy="681.5" rx="2.4" ry="1.3" fill="#c83a3a" stroke="#6a1010" stroke-width="0.3"/>
<circle cx="83.7" cy="681.5" r="0.6" fill="#fff"/>
<ellipse cx="88.7" cy="680.5" rx="2.4" ry="1.3" fill="#c83a3a" stroke="#6a1010" stroke-width="0.3"/>
<circle cx="88.7" cy="680.5" r="0.6" fill="#fff"/>
<ellipse cx="92.7" cy="682" rx="2.4" ry="1.3" fill="#c83a3a" stroke="#6a1010" stroke-width="0.3"/>
<circle cx="92.7" cy="682" r="0.6" fill="#fff"/>
<ellipse cx="85.7" cy="684.5" rx="2.4" ry="1.3" fill="#c83a3a" stroke="#6a1010" stroke-width="0.3"/>
<circle cx="85.7" cy="684.5" r="0.6" fill="#fff"/>
<ellipse cx="90.7" cy="684.5" rx="2.4" ry="1.3" fill="#c83a3a" stroke="#6a1010" stroke-width="0.3"/>
<circle cx="90.7" cy="684.5" r="0.6" fill="#fff"/>
<ellipse cx="82.7" cy="684" rx="2.4" ry="1.3" fill="#c83a3a" stroke="#6a1010" stroke-width="0.3"/>
<circle cx="82.7" cy="684" r="0.6" fill="#fff"/>
<text x="0.7" y="723.7" font-size="13" stroke="#000" stroke-width="0.22">K</text>
<rect x="17.3" y="728.5" width="90.9" height="91.2" fill="#fff" stroke="#999" stroke-width="0.8"/>
<line x1="15.8" y1="732.4" x2="18.3" y2="732.4" stroke="#555" stroke-width="0.6"/>
<line x1="15.8" y1="749.7" x2="18.3" y2="749.7" stroke="#555" stroke-width="0.6"/>
<line x1="15.8" y1="767.7" x2="18.3" y2="767.7" stroke="#555" stroke-width="0.6"/>
<line x1="15.8" y1="784.3" x2="18.3" y2="784.3" stroke="#555" stroke-width="0.6"/>
<line x1="15.8" y1="801.6" x2="18.3" y2="801.6" stroke="#555" stroke-width="0.6"/>
<line x1="22" y1="818.7" x2="22" y2="821.2" stroke="#555" stroke-width="0.6"/>
<line x1="38" y1="818.7" x2="38" y2="821.2" stroke="#555" stroke-width="0.6"/>
<line x1="54" y1="818.7" x2="54" y2="821.2" stroke="#555" stroke-width="0.6"/>
<line x1="70" y1="818.7" x2="70" y2="821.2" stroke="#555" stroke-width="0.6"/>
<line x1="86" y1="818.7" x2="86" y2="821.2" stroke="#555" stroke-width="0.6"/>
<line x1="102" y1="818.7" x2="102" y2="821.2" stroke="#555" stroke-width="0.6"/>
<path transform="scale(.5)" d="M212 1519h0m-4-4h0m-1 3h0m0 0h0m-1 1h0m-10-3h0m-5 1h0m-3-1h0m-1 1h0m-2 1h0m-8 1h0m-4 0h0m-5 0h0m-3-1h0m-2-3h0m-3 0h0m-5 0h0m-1 4h0m-2-3h0m-12-1h0m-13 1h0m-5 1h0m-28 5h0m10 3h0m9 1h0m2-4h0m1-2h0m4 1h0m4 3h0m0 1h0m6-4h0m11 1h0m0 5h0m2-7h0m1 4h0m3 0h0m3-3h0m1 1h0m1 0h0m3-2h0m1 4h0m1-1h0m2-2h0m1-1h0m0 7h0m0 0h0m0-6h0m1 6h0m1-5h0m1-2h0m0 5h0m0-3h0m0 3h0m3-4h0m1-1h0m0 3h0m1 4h0m0-1h0m0 0h0m5-5h0m3 2h0m0 2h0m1 1h0m0-4h0m1 5h0m2 0h0m1 0h0m2-2h0m1-2h0m2 3h0m1-2h0m2 3h0m1-3h0m2 1h0m2-1h0m4 2h0m2 3h0m0 1h0m-5 3h0m-2-3h0m0 2h0m0-4h0m-3 5h0m0-2h0m0 2h0m0-4h0m-2-1h0m-2 3h0m-2 2h0m-5-1h0m0-1h0m-2 3h0m-1-1h0m0-2h0m-2 3h0m-1-1h0m-1 0h0m-3-1h0m0 0h0m-2-1h0m0 0h0m0 1h0m0-1h0m-1-3h0m0 1h0m0 2h0m-2 0h0m-1 4h0m-1 0h0m-2-2h0m0 0h0m-1 2h0m0-2h0m-1-5h0m0 5h0m0-3h0m-1 2h0m-1 2h0m-2-1h0m-1-1h0m-1 2h0m-1 1h0m-1-2h0m-5 1h0m0-6h0m-1 0h0m0 6h0m-1 0h0m-1-6h0m0 2h0m-1 5h0m-1 0h0m-8-2h0m-2-5h0m-1 0h0m-3 5h0m-1-2h0m-7-1h0m-2 0h0m-2 5h0m-1-6h0m0 3h0m-10-1h0m-6 0h0m-10 1h0m-3 0h0m-14 2h0m4 6h0m13 2h0m8-3h0m0 4h0m2-3h0m0-1h0m0 0h0m7 0h0m4 0h0m1 4h0m0-3h0m7-2h0m0 4h0m2 1h0m0-5h0m1 0h0m2 1h0m2 4h0m2 0h0m1-1h0m1-5h0m2 5h0m0 0h0m0-5h0m1 5h0m0-6h0m0 3h0m1-1h0m1 4h0m0-2h0m7 0h0m3 2h0m0 1h0m1-4h0m0-3h0m0 2h0m1 0h0m1 1h0m0 4h0m0-1h0m0 0h0m1 0h0m0-6h0m0 5h0m1-2h0m0 4h0m1-1h0m0-4h0m1 1h0m0-1h0m1 2h0m0-2h0m0-2h0m0 5h0m1 2h0m0-4h0m0 2h0m1 0h0m1 2h0m2-7h0m0 5h0m1 1h0m0-2h0m1-1h0m0 1h0m1-1h0m1-3h0m1 4h0m0-2h0m0 0h0m1 4h0m1-1h0m0 1h0m2-5h0m1 4h0m0-3h0m1 5h0m0-7h0m1 0h0m0 0h0m1 4h0m1 3h0m1-5h0m0-2h0m0 3h0m2 2h0m0 1h0m0-2h0m1-1h0m1-3h0m1 0h0m2 6h0m3 0h0m0-5h0m0 0h0m0 5h0m1 0h0m2-3h0m1 4h0m3 0h0m0-6h0m3 4h0m1-4h0m2 3h0m0 2h0m0-1h0m2-2h0m0 2h0m0-1h0m2-3h0m2 1h0m1 0h0m3-2h0m1 6h0m3-5h0m1 12h0m-3-5h0m0 7h0m-2-1h0m0 1h0m-4-5h0m-1-2h0m-1 3h0m-1 0h0m-1-2h0m-2 3h0m-1 2h0m-3-1h0m-1 1h0m-2 1h0m0-7h0m-2 6h0m-3 1h0m-1-2h0m0 2h0m-1-3h0m-1 3h0m0-6h0m0 6h0m0-3h0m0-4h0m0 7h0m-1-1h0m-1-3h0m0 1h0m0 0h0m0-2h0m0 0h0m-3-1h0m0-1h0m-1 7h0m-1 0h0m0-1h0m0 0h0m-1-4h0m-1-2h0m0 6h0m-1 1h0m-1-7h0m0 3h0m-1 4h0m0-2h0m-2 1h0m0 1h0m0-7h0m-1 2h0m0-2h0m-3 0h0m0 5h0m-1-4h0m-1-1h0m0 3h0m0 4h0m0-6h0m-1 4h0m-1-5h0m0 7h0m0-7h0m-2 6h0m0-5h0m-2 0h0m0 3h0m-1 2h0m-1-2h0m0 2h0m0-1h0m-1-4h0m0 1h0m-1-1h0m-1 4h0m-1 1h0m-1-2h0m-1 2h0m0-3h0m0 0h0m0 2h0m-1 1h0m0-2h0m0 1h0m-1-3h0m0 1h0m-1 2h0m0-3h0m-1 3h0m0-2h0m0 2h0m-8-2h0m0 4h0m-1-6h0m0 1h0m-1 5h0m-2-3h0m0 2h0m-1-5h0m0 2h0m-2-1h0m0-1h0m-2 0h0m-1 5h0m-2-2h0m-1-3h0m-1 2h0m-1-3h0m-1 2h0m0 1h0m-1 2h0m-2-1h0m0-4h0m-1 2h0m-1 4h0m-1-2h0m-2 2h0m-2 1h0m0-5h0m-6 2h0m-2 2h0m0-6h0m-3 7h0m-1 0h0m-1-1h0m-2-3h0m-4 1h0m-4-3h0m-1 0h0m-11 4h0m-11 4h0m11 5h0m1-2h0m3-3h0m3 6h0m2-4h0m1 3h0m0-1h0m5-3h0m2 2h0m4-3h0m4 6h0m4 0h0m1-1h0m2 1h0m1-1h0m2-6h0m1 5h0m0 1h0m1-3h0m0 1h0m1-1h0m1 3h0m0-5h0m1 4h0m0 1h0m1-3h0m0 2h0m1 2h0m0-1h0m1 0h0m0-3h0m0 0h0m1 0h0m1 0h0m0 1h0m1 2h0m0-3h0m1 4h0m1-3h0m0-2h0m0 3h0m1-2h0m0 2h0m1 2h0m0-2h0m1-4h0m0-1h0m0 2h0m1-2h0m1 5h0m0 2h0m0-4h0m1-1h0m1 5h0m0-3h0m0 1h0m0-1h0m1 1h0m1 2h0m1-4h0m1 4h0m0-1h0m0-5h0m1 4h0m9 0h0m1-5h0m0 5h0m1 2h0m0-3h0m0-1h0m0-1h0m0 2h0m0-3h0m1-1h0m0 3h0m2 0h0m1 4h0m0-5h0m1 1h0m2 1h0m0-1h0m1 2h0m0 1h0m0-6h0m0 1h0m1 3h0m1 2h0m1-1h0m1-3h0m0-1h0m3 2h0m0 2h0m1 0h0m0-3h0m0 1h0m0-1h0m0-2h0m0 0h0m1 5h0m0-5h0m0 2h0m2 2h0m0 2h0m0-2h0m1-3h0m0 0h0m0-1h0m1 7h0m1-1h0m0-3h0m1-1h0m0-1h0m0 1h0m1 4h0m0 0h0m0 0h0m1-2h0m0-3h0m1 0h0m0 3h0m0 0h0m1-2h0m1 0h0m1 4h0m1-1h0m0-2h0m1-2h0m0 6h0m0-3h0m1 3h0m1-5h0m2-1h0m0 5h0m2 0h0m0-2h0m4-3h0m0-1h0m1 4h0m0 1h0m1-4h0m0 4h0m3-3h0m1-1h0m0 0h0m0 0h0m1-1h0m0 0h0m0 0h0m2 6h0m2 0h0m0-6h0m1 0h0m1 3h0m0 0h0m1 3h0m1-4h0m2 4h0m3 1h0m0-7h0m0 3h0m7 2h0m-1 9h0m-2-4h0m0 4h0m0 0h0m-7-1h0m-2 0h0m-5 2h0m0-4h0m-3-3h0m-1 1h0m0 3h0m-2 2h0m-1-3h0m-2 1h0m0-3h0m0 5h0m-2-3h0m-1 3h0m0 0h0m-1-6h0m-2 7h0m-1-1h0m0 1h0m-1-2h0m-1-5h0m0 2h0m-1 4h0m0 0h0m-3-2h0m0-3h0m0-1h0m-1 0h0m0 1h0m-1 5h0m-1 0h0m0 1h0m0-5h0m-1 3h0m0-3h0m-1 3h0m0-5h0m-1 3h0m-1 1h0m0-1h0m0 4h0m-1 0h0m0-3h0m0 3h0m-1-4h0m0-1h0m0 1h0m0 2h0m-1 0h0m0-5h0m-1 3h0m-1 1h0m0-1h0m0-3h0m0 5h0m0-2h0m-1 1h0m-1-2h0m0 0h0m0-1h0m0 1h0m0 3h0m-1 2h0m0-3h0m-2-3h0m0-1h0m0 1h0m0-1h0m-1 1h0m0 6h0m-2-7h0m0 2h0m0 0h0m-1-2h0m0 2h0m0 1h0m0 2h0m-1-1h0m-1 1h0m0-5h0m0 0h0m-1 5h0m0 2h0m0-3h0m-1-3h0m0 6h0m-1-3h0m-1-2h0m-1-2h0m0 1h0m-1 6h0m0-4h0m0 4h0m0-2h0m-1-5h0m0 4h0m-1 1h0m0 0h0m-1 0h0m0-5h0m-6 2h0m-1 0h0m0 3h0m0-5h0m0 0h0m0 2h0m-1 2h0m0 3h0m0-2h0m0-4h0m0 1h0m-1-1h0m-1 0h0m0 4h0m-1-1h0m-1-1h0m0 2h0m0 1h0m0-1h0m-3 0h0m0-2h0m0-2h0m-1 0h0m0 4h0m-1-1h0m0-2h0m-2 3h0m0-5h0m0 7h0m-1 0h0m-1-4h0m-1 2h0m-1 0h0m0 1h0m-1-1h0m0-5h0m0 5h0m0-5h0m-2 0h0m0 0h0m0 6h0m-2-2h0m0 0h0m-1 1h0m-1-5h0m-2 5h0m0-3h0m-1 3h0m-1 2h0m-1-7h0m0 7h0m0 0h0m0-6h0m0 2h0m-1 3h0m0-3h0m0-2h0m0 2h0m-1 0h0m-1 4h0m0-5h0m0 4h0m0-1h0m-1-2h0m-3 2h0m-1 2h0m-2-7h0m0 6h0m-1-1h0m0-4h0m0 1h0m-1 4h0m0 1h0m-4-4h0m-1 2h0m-5 2h0m-2 0h0m0-4h0m-3 4h0m0-3h0m-7 0h0m-3-2h0m-1 1h0m-1 2h0m0 1h0m-2-3h0m3 12h0m0-5h0m3 5h0m1-1h0m0-6h0m2 1h0m0 4h0m1 0h0m1-3h0m3 2h0m1 2h0m0-6h0m3 7h0m1-4h0m0-1h0m0 1h0m1 1h0m0-3h0m1-1h0m1 4h0m0 0h0m2 3h0m0 0h0m2-1h0m1-5h0m0 5h0m3 1h0m1 0h0m1-1h0m0-5h0m0 4h0m1 1h0m1-5h0m0 4h0m1-4h0m0 4h0m0 1h0m1 1h0m0-5h0m1 0h0m0 4h0m0-6h0m1 3h0m1 0h0m0-3h0m0 6h0m1 1h0m0-1h0m1-3h0m0-1h0m0 3h0m1-1h0m1 2h0m0-4h0m1 4h0m0 0h0m0-1h0m1-3h0m0-1h0m0-1h0m1 0h0m1 4h0m0 1h0m0-4h0m1 6h0m0-1h0m0-5h0m1 3h0m0-2h0m1 1h0m0 2h0m0-5h0m0 6h0m1-5h0m0-1h0m0 4h0m1 1h0m1-3h0m0 4h0m1-5h0m0 3h0m0-4h0m0 6h0m1-4h0m0-1h0m0 6h0m1 0h0m0-1h0m0-5h0m0 6h0m1 0h0m1-1h0m3-4h0m1 5h0m0-1h0m0-5h0m1-1h0m0 4h0m0 1h0m0-3h0m1-1h0m0 5h0m0-3h0m2-2h0m1 5h0m0-4h0m0-2h0m0 4h0m0-4h0m1 0h0m0 6h0m0 0h0m0-5h0m0 2h0m1 0h0m0 1h0m0-1h0m0 4h0m1-7h0m6 5h0m1 1h0m0 1h0m0-7h0m1 3h0m0-1h0m1 1h0m0 4h0m0-7h0m0 3h0m0-2h0m1-1h0m1 3h0m0 4h0m0 0h0m0-3h0m0 3h0m0-4h0m1 0h0m0 4h0m0-4h0m1 3h0m0-6h0m0 0h0m0 1h0m1 1h0m0 2h0m1-3h0m0-1h0m0 5h0m1-3h0m1 3h0m0 2h0m1 0h0m1-2h0m0-4h0m1-1h0m0 1h0m0 4h0m1 0h0m2-3h0m1 2h0m1 3h0m1-1h0m0 0h0m0-2h0m0 0h0m2 1h0m0-4h0m0 2h0m1-3h0m1 7h0m0-2h0m0-4h0m1 3h0m1 2h0m0-2h0m1 1h0m1-1h0m0 1h0m0-1h0m2 3h0m0-5h0m0 0h0m1-2h0m1 3h0m1 1h0m0 0h0m0-1h0m1 3h0m0-5h0m1-1h0m1 0h0m1 3h0m0 3h0m1 0h0m0-2h0m0-2h0m1-2h0m0 4h0m0 1h0m1-5h0m0 6h0m0 1h0m2-1h0m0-3h0m0-2h0m1 2h0m1 4h0m0-6h0m2 4h0m0 0h0m1 2h0m1-1h0m1-5h0m0 2h0m3 3h0m0-5h0m0 4h0m1-5h0m2 0h0m0 2h0m1-1h0m2 6h0m0-1h0m9-5h0m1 0h0m1 3h0m1 0h0m3-1h0m-3 8h0m-1 2h0m-3-4h0m-1 6h0m-4-4h0m-2 3h0m-2-5h0m-1 0h0m-1 4h0m-1 2h0m-1-1h0m-3-5h0m-1 4h0m0 1h0m-3-1h0m-1-5h0m-2 5h0m-2-5h0m-1 5h0m-1-1h0m0 0h0m-1-1h0m-3 3h0m-2-2h0m-1-3h0m-2 4h0m-1-4h0m0 5h0m-4 0h0m-1-4h0m0 0h0m0 1h0m-1-3h0m-1 1h0m0 1h0m-1-1h0m0-1h0m-1 7h0m-2-3h0m0 3h0m-1-2h0m0-1h0m0-4h0m0 0h0m-1 6h0m0-2h0m-1 3h0m0-5h0m0 4h0m-2 0h0m0-2h0m0-4h0m0 0h0m-1 7h0m0-7h0m0 7h0m0-1h0m-1 0h0m0-2h0m0-3h0m0 5h0m-1-6h0m-1 7h0m-2-6h0m0 4h0m0-2h0m0-3h0m0 5h0m-1 0h0m-1-4h0m0 6h0m-1-7h0m-1 1h0m0 0h0m-1 4h0m0-4h0m0 1h0m0 2h0m-1-1h0m0-1h0m0 3h0m-1 1h0m-7-3h0m-1 4h0m0-6h0m-1 3h0m0-3h0m0 5h0m-1-2h0m0 1h0m-1 0h0m-1 1h0m0-6h0m0 0h0m-1 0h0m0 5h0m0-4h0m0 4h0m-1-1h0m0-2h0m-1 0h0m-2 3h0m0-2h0m-1 2h0m-1-1h0m0-1h0m-1-2h0m0 0h0m0 5h0m-1 0h0m0-5h0m0 2h0m-1-1h0m-1-2h0m0 5h0m0 1h0m0-4h0m0 1h0m0-2h0m0 5h0m-1-5h0m0-1h0m0 4h0m-1-1h0m0-1h0m0 0h0m0 0h0m0-2h0m0 1h0m-1-1h0m-1 3h0m0-1h0m0 4h0m0-5h0m0 4h0m-1 1h0m0-4h0m0 1h0m0-1h0m-1 5h0m0 0h0m-2-1h0m0-6h0m-1 1h0m0 3h0m-1-4h0m0 3h0m0-2h0m-2 4h0m0 0h0m0-2h0m0-1h0m-2 3h0m0-4h0m0 0h0m-1 2h0m0 0h0m0-3h0m0 1h0m-2 2h0m-1 3h0m-1-5h0m0 2h0m0 0h0m0-1h0m-1 5h0m0-3h0m0-1h0m-1-3h0m0 5h0m0-5h0m-1 5h0m0-5h0m-1 5h0m0 2h0m-4-1h0m0-1h0m-2-1h0m0-1h0m0 4h0m0-5h0m-1-1h0m-1-1h0m0 7h0m0-2h0m0-4h0m-1-1h0m0 1h0m0 0h0m0 1h0m-1 5h0m0-4h0m-1 1h0m0-3h0m-2 6h0m0-5h0m-5 2h0m-3 1h0m-1-1h0m0 3h0m0-6h0m-2 1h0m-1-1h0m-3 2h0m0-1h0m-4-1h0m1 10h0m0-3h0m2 7h0m1-6h0m1 2h0m0 2h0m3-5h0m1 3h0m2 2h0m0 1h0m1-3h0m0 2h0m0-2h0m1 1h0m1-4h0m0 7h0m1 0h0m1 0h0m1-5h0m1 4h0m0 0h0m0-4h0m1 1h0m0 3h0m1-1h0m1-5h0m0 2h0m1 1h0m0 2h0m1-3h0m0-1h0m1 4h0m3 2h0m1-6h0m0 5h0m0 1h0m0 0h0m0-2h0m1 1h0m0-3h0m0 2h0m1-3h0m0 2h0m0-1h0m1 2h0m0-3h0m0 2h0m1-3h0m0 0h0m1 3h0m1 3h0m0-3h0m1 0h0m0 3h0m0-6h0m0 0h0m1 5h0m0-4h0m0 5h0m1-6h0m1 1h0m0 3h0m0 0h0m0-3h0m0 4h0m0-6h0m1 4h0m0 1h0m0 2h0m1-3h0m0 3h0m0-3h0m1 2h0m0-6h0m0 5h0m1-2h0m0 2h0m0-2h0m0 2h0m1-2h0m1 1h0m0-4h0m1 1h0m0-1h0m1 4h0m0 2h0m0-3h0m0-3h0m0 3h0m1 0h0m1 4h0m0-1h0m1-6h0m1 0h0m0 6h0m0-4h0m0 5h0m2-2h0m0 1h0m0 1h0m1-2h0m0-1h0m0 2h0m0-2h0m0 0h0m1-2h0m1-2h0m0 0h0m0 3h0m1 4h0m0-4h0m0 0h0m0 3h0m0-6h0m1 6h0m0-2h0m0 1h0m0-5h0m1 0h0m0 1h0m1 0h0m0 4h0m0-2h0m1-3h0m0 7h0m1-7h0m0 0h0m0 5h0m0-2h0m1 2h0m0 2h0m0 0h0m1-7h0m0 1h0m0-1h0m0 6h0m2-3h0m0 4h0m0-4h0m0 2h0m1-2h0m0 4h0m0-7h0m1 4h0m1 2h0m0-1h0m0-2h0m1 2h0m0 0h0m1-1h0m0 3h0m1-4h0m0-2h0m7 6h0m1-3h0m0-4h0m0 7h0m1-7h0m0 2h0m1 4h0m0-5h0m1-1h0m0 2h0m0-2h0m1 1h0m0 2h0m0 0h0m0-1h0m1 1h0m0-2h0m0 5h0m1-6h0m0 6h0m2-3h0m1 3h0m0 1h0m2-6h0m1 0h0m1 1h0m1-2h0m3 1h0m1 5h0m0-5h0m0 0h0m0 6h0m1-7h0m1 1h0m0 6h0m0-4h0m2 3h0m0-1h0m1 1h0m1-3h0m1 0h0m2 4h0m0-7h0m3 7h0m0-5h0m1 0h0m4 0h0m3 4h0m0-6h0m3 0h0m3 5h0m4 2h0m2-4h0m2-2h0m1 0h0m0-1h0m7 3h0m2-3h0m1 3h0m4 2h0m3 10h0m-3-2h0m-11 1h0m0-3h0m-5-2h0m0-1h0m-4 7h0m-3-3h0m-1-4h0m-4 5h0m-1-3h0m0 5h0m-1-1h0m-2-2h0m-3 3h0m0-6h0m-2 0h0m0 0h0m-2 1h0m-1 0h0m-1-2h0m0 0h0m0 3h0m0 1h0m-2-3h0m-2 4h0m-2-5h0m-2 0h0m-4 5h0m0 2h0m-2-1h0m0-3h0m-1-3h0m0 7h0m-1-4h0m-1 3h0m-3-2h0m0 2h0m0 0h0m-1-6h0m-1 4h0m0 0h0m0 2h0m-1-4h0m-1-1h0m-1 2h0m0 1h0m-1 2h0m0-4h0m-8 4h0m0-3h0m-1 2h0m0-3h0m0 3h0m-1-1h0m-1 1h0m0-1h0m0 0h0m-1 2h0m-1-1h0m0-4h0m0 0h0m0 1h0m0 0h0m-1 0h0m0 0h0m0 1h0m-1 0h0m0 1h0m-2-2h0m0 2h0m0 3h0m-1-3h0m0-2h0m-1-2h0m0 6h0m0-5h0m0 3h0m0-1h0m-1 1h0m-1 3h0m0-7h0m0 4h0m-1 2h0m0 1h0m-1 0h0m0-3h0m-1-1h0m0 3h0m0-5h0m0 6h0m0-3h0m-1-1h0m0 2h0m-1-2h0m0 1h0m0-1h0m-1 0h0m0 0h0m0-3h0m-1 6h0m0-5h0m0 3h0m-1-3h0m-3 4h0m0-4h0m-1 5h0m-1 0h0m0-2h0m0 1h0m0-2h0m-1-1h0m0 2h0m0-4h0m0 4h0m-1-1h0m0-2h0m0 2h0m-1 4h0m0-6h0m0 0h0m-1 3h0m0-4h0m0 5h0m-1-1h0m0-4h0m-1 1h0m0 3h0m0-3h0m-1 0h0m-1 2h0m0 0h0m0-1h0m0 1h0m0 4h0m0-4h0m0 3h0m-1-1h0m0-4h0m0 4h0m-1 0h0m0-2h0m0-2h0m0 4h0m0-1h0m-2-1h0m0 4h0m0-2h0m-1-2h0m0 2h0m0-5h0m-1 3h0m0 0h0m-3 0h0m0-2h0m-1 2h0m-1-1h0m0 0h0m0 3h0m-1-5h0m0 6h0m0-2h0m-1 2h0m0-4h0m-1 3h0m-1-2h0m0 3h0m0-6h0m0 2h0m-1 4h0m0-2h0m0-3h0m0 6h0m0 0h0m-1-6h0m-1 3h0m0-3h0m-2 3h0m-1 2h0m-1 0h0m-1-3h0m-1 4h0m-1 0h0m0-4h0m-1 3h0m-1-5h0m-1-1h0m0 1h0m-1-1h0m0 5h0m-1 1h0m0-4h0m0-1h0m0-1h0m0 4h0m-1-2h0m0 4h0m0 0h0m-1-1h0m-1-5h0m-1 4h0m0 3h0m-1-7h0m0 2h0m-2 5h0m0-6h0m0 10h0m1 1h0m1-3h0m2 4h0m5 0h0m0-3h0m2 0h0m0-1h0m1 4h0m1-2h0m0-2h0m1-1h0m0 7h0m2-6h0m0 5h0m0 0h0m1 0h0m0-3h0m0-1h0m1 4h0m0-6h0m0 2h0m1-2h0m0 6h0m0-3h0m0 4h0m2-1h0m1-3h0m0 0h0m0 4h0m0-5h0m1 5h0m0-4h0m0 4h0m1-7h0m1 0h0m0 0h0m0 1h0m1 2h0m1 0h0m0 3h0m2-3h0m0-2h0m1 1h0m0-1h0m0 5h0m1-3h0m1-2h0m0 6h0m1-3h0m1 1h0m1-1h0m0-4h0m0 2h0m0-1h0m1 2h0m1-3h0m0 5h0m1-4h0m0 6h0m2-6h0m0-1h0m0 6h0m1 1h0m0-2h0m1-5h0m0 5h0m1 2h0m2-6h0m1 6h0m0-7h0m1 0h0m0 3h0m1 2h0m0 1h0m0-1h0m0-4h0m0 0h0m1 4h0m1-1h0m0-1h0m0 3h0m0-4h0m0-1h0m0 5h0m1-5h0m0 2h0m0 2h0m0 0h0m0 0h0m1-5h0m1 6h0m0-2h0m0 1h0m1-1h0m0-2h0m1 0h0m1 0h0m0 0h0m0 4h0m1-3h0m0 2h0m0-5h0m1 0h0m0 1h0m1 1h0m0 2h0m0-4h0m0 4h0m0 2h0m1-6h0m0 3h0m0 3h0m1-5h0m0 4h0m0 2h0m1 0h0m1-5h0m4-1h0m0-1h0m0 6h0m1-1h0m0 2h0m0-1h0m0-6h0m0 4h0m0 0h0m0 3h0m1-7h0m1 3h0m0 2h0m1 2h0m0 0h0m0-7h0m1 3h0m7-2h0m0 4h0m1-1h0m1-4h0m2 6h0m1-5h0m0 1h0m4 2h0m1-4h0m1 5h0m2 0h0m1-3h0m2 0h0m0-1h0m2 0h0m2 1h0m0 4h0m2-6h0m2 4h0m2-1h0m2 3h0m5-3h0m11 3h0m1-5h0m5 6h0m2-3h0m3 1h0m14-2h0m-17 10h0m-22 0h0m-1 1h0m-1-5h0m-4 3h0m-3-2h0m-4-1h0m0-1h0m-2 2h0m-4-1h0m-2 3h0m-1-2h0m-2 1h0m-3 2h0m0-4h0m-1 2h0m-1 3h0m-2-2h0m-11 2h0m0 1h0m0-6h0m0 2h0m0 3h0m-1-6h0m0 1h0m0 0h0m-1 3h0m0 0h0m-2-1h0m-1 3h0m-1-4h0m0 1h0m-1 3h0m-1-3h0m0-2h0m0 5h0m-1-5h0m0 1h0m-1 3h0m0 1h0m-1 0h0m0 1h0m0-4h0m-1-3h0m0 2h0m0 3h0m0-5h0m-1 5h0m0 1h0m-1-2h0m0 0h0m0-3h0m-1 0h0m-1 4h0m0 0h0m0-5h0m0 2h0m0 5h0m-1-5h0m0 1h0m-1 2h0m0 2h0m-1-2h0m-1-5h0m0 1h0m-1-1h0m0 3h0m-1 0h0m0 1h0m0 1h0m-1-2h0m0 2h0m-1-2h0m0 0h0m0-1h0m0 1h0m0 1h0m-2 1h0m0 2h0m0-4h0m-1-2h0m-1 6h0m0 0h0m-1-6h0m0 5h0m0-4h0m-1-1h0m0 2h0m-1-2h0m0 6h0m0-7h0m-1 5h0m-1-2h0m-1 0h0m-1-2h0m0 2h0m0 1h0m0-1h0m-1-1h0m0 4h0m0 1h0m0-5h0m-2 4h0m0-3h0m-2-1h0m0-1h0m0 3h0m0-3h0m-1 4h0m-1 1h0m-1 0h0m0-2h0m0-2h0m0-2h0m-1 7h0m-2-5h0m-1-2h0m-1 6h0m0-4h0m-1 5h0m0-4h0m-2 3h0m-1-5h0m0 6h0m0-1h0m0-4h0m0 3h0m-1-2h0m0 4h0m0-2h0m-1 2h0m-1 0h0m-1-2h0m0-3h0m0 1h0m0-2h0m0 1h0m-1 3h0m0-3h0m-5-1h0m0 4h0m-2-4h0m0 4h0m-1-4h0m0 4h0m0-1h0m0 3h0m-1-5h0m0-1h0m-1 2h0m0-2h0m0 14h0m1-4h0m0 4h0m0-6h0m2 0h0m0 5h0m0-1h0m3-5h0m1 2h0m3-1h0m1 2h0m2-1h0m0 5h0m1-6h0m1 1h0m0 5h0m1-6h0m0-1h0m0 1h0m1 2h0m0-1h0m0 3h0m1 0h0m2-5h0m1 0h0m0 0h0m0 4h0m0 1h0m3-2h0m0 1h0m0-1h0m1-2h0m1 5h0m0-6h0m1 3h0m0-1h0m0-2h0m0 0h0m1 3h0m0-1h0m1 2h0m0 1h0m2-2h0m1 2h0m1-2h0m0 0h0m0 4h0m1 0h0m1-5h0m0-2h0m0 4h0m1-1h0m1-2h0m1 1h0m0 0h0m0-1h0m0-1h0m0 4h0m1-3h0m1 3h0m1-3h0m0 6h0m1 0h0m1-6h0m1 3h0m1-3h0m0 0h0m0-1h0m1 2h0m1 3h0m0 1h0m1-1h0m2 1h0m1-1h0m1-1h0m0 3h0m0 0h0m0-7h0m1 4h0m0 3h0m1-2h0m1-5h0m0 5h0m1-1h0m1 2h0m3-1h0m0-3h0m1-2h0m0 5h0m3-4h0m0 3h0m1-1h0m0 1h0m0-1h0m1-2h0m0 0h0m2 5h0m3 0h0m12-6h0m1 7h0m2-6h0m13 2h0m2-3h0m1 0h0m2 2h0m36 10h0m-45 2h0m-1 1h0m-11 0h0m-14-3h0m0 1h0m-3-1h0m-2-2h0m0 2h0m-1 2h0m-2-4h0m0 2h0m-1-4h0m-1 6h0m-2-3h0m-1 0h0m-1 3h0m0-1h0m-4-2h0m0 0h0m-2-3h0m-3 1h0m-1 3h0m0 1h0m0-2h0m-1 1h0m0 0h0m-1 0h0m-1-1h0m-1-1h0m0 1h0m0 2h0m0-4h0m-1 5h0m0 0h0m-1 1h0m0-2h0m-1 1h0m-1-6h0m0 0h0m-1 1h0m-1 4h0m0 0h0m-1 1h0m0-2h0m0-2h0m0-1h0m-1 3h0m0 1h0m-1-5h0m-2 3h0m0-2h0m0 5h0m-1-3h0m0-3h0m0 1h0m-1 5h0m0-3h0m0-1h0m-1 1h0m-1-3h0m0 1h0m-1 1h0m0 1h0m-2 3h0m-1-2h0m-2-4h0m-1 3h0m0-3h0m0 1h0m0 6h0m-2-3h0m0 0h0m0-2h0m-1-1h0m-1-1h0m0 0h0m0 0h0m-1 4h0m-4-2h0m0 0h0m-1 4h0m-1-4h0m-1 2h0m-1 2h0m0-5h0m-1 0h0m-4 6h0m-1-5h0m-1 2h0m0-4h0m8 10h0m3-2h0m1 1h0m4-1h0m2 1h0m3-1h0m2 0h0m2 0h0m1 2h0m1-2h0m4 0h0m3 0h0m3 1h0m6 0h0m0-1h0m4 0h0m1 2h0m1-2h0m1 1h0m1 0h0m4 1h0m8-2h0" stroke="#5a5ac8" stroke-width="1.5" stroke-linecap="round" stroke-opacity="0.85"/>
<path transform="scale(.5)" d="M205 1517h0m-2 1h0m-2-1h0m-9-1h0m-5 3h0m-1-2h0m-3 2h0m-1-3h0m-4 3h0m0-3h0m0-1h0m-2 2h0m-2 2h0m-2-1h0m-1-2h0m-2 1h0m-1 0h0m-4-1h0m-2 3h0m-14 0h0m-2-4h0m-21 3h0m-14-1h0m-2 0h0m-18 5h0m2 2h0m10 1h0m14-2h0m2 4h0m4-7h0m0 5h0m3-4h0m2 6h0m4-1h0m0 0h0m8-3h0m0-3h0m0 2h0m1-2h0m2 0h0m4 3h0m3-1h0m0 0h0m0 4h0m1-2h0m0 3h0m2-5h0m0-2h0m0 6h0m1-2h0m1-2h0m1 3h0m0 1h0m1-4h0m0 0h0m0 2h0m2 2h0m3-1h0m2-2h0m0-3h0m2 5h0m1-1h0m0 3h0m3-4h0m0 1h0m1-2h0m1 5h0m2-4h0m1 4h0m2-4h0m3 2h0m0 0h0m0 1h0m1 0h0m0 1h0m7 0h0m0-1h0m3-6h0m3 0h0m1 6h0m2 1h0m13 0h0m1-3h0m-2 11h0m-2 0h0m-1-7h0m-1 5h0m-8 1h0m0-5h0m-3 4h0m-1-5h0m-3 2h0m-2 2h0m-6-4h0m-3 7h0m-2 0h0m-2 0h0m-2 0h0m0-4h0m-3-3h0m-1 6h0m0-1h0m-1 0h0m-3-5h0m-1 5h0m-4-5h0m-2 2h0m-1 0h0m0 3h0m-5 2h0m-1-4h0m0 0h0m-1-1h0m0-2h0m-1 4h0m-1 2h0m-1 1h0m0-7h0m0 7h0m0-7h0m-1 6h0m0 0h0m-2-5h0m-2 4h0m-1-4h0m-8 0h0m0 1h0m-2-1h0m0 1h0m-6-2h0m-2 2h0m0 2h0m-5-4h0m-1 2h0m-1 1h0m-1 2h0m0-3h0m-2-1h0m0 3h0m-1 1h0m-7-4h0m-2 6h0m-28-5h0m11 11h0m11-4h0m1 4h0m2-4h0m2 2h0m1-2h0m2 1h0m2 1h0m2 2h0m1 0h0m4-1h0m3 2h0m4 0h0m0 1h0m4-2h0m1 0h0m4 2h0m2-3h0m0-3h0m1 2h0m7-1h0m0 4h0m1-2h0m2-1h0m1 2h0m2-3h0m0 4h0m1-2h0m2-2h0m1 2h0m1 1h0m2 2h0m1-4h0m0 0h0m1-2h0m0 5h0m2-3h0m1 4h0m1-2h0m0-1h0m1 0h0m1 3h0m0 0h0m1 0h0m0 0h0m2-1h0m1-1h0m0 2h0m0-3h0m1 0h0m3-1h0m1-3h0m1 1h0m0-1h0m0 2h0m1 5h0m0-1h0m0 0h0m2-5h0m0 4h0m1-5h0m1 7h0m3-6h0m0 4h0m1-3h0m1-1h0m0 2h0m0 4h0m0-6h0m0 6h0m0-7h0m1 7h0m1-7h0m1 6h0m0-5h0m0 3h0m3-2h0m1 3h0m0-2h0m0-1h0m1 3h0m1-2h0m0-2h0m8 1h0m1 0h0m2 0h0m3 3h0m2-2h0m3-2h0m2 4h0m1 5h0m-3 5h0m-3-4h0m-3 2h0m-2-3h0m-1-1h0m0-1h0m-3 1h0m0 6h0m-3-7h0m-1 2h0m0 3h0m0-2h0m-2 2h0m-1-3h0m-1-2h0m-1 6h0m-1-4h0m0 5h0m-2-5h0m-3 4h0m0-6h0m0 4h0m-1-2h0m0-1h0m0 0h0m0 1h0m-1 3h0m-2 0h0m-1-4h0m-2 2h0m-2 3h0m0-5h0m-3 4h0m-1-4h0m0 0h0m-1-1h0m0 7h0m-1-4h0m0 0h0m-1-1h0m-1 0h0m-1-1h0m0 4h0m-1 1h0m0-2h0m0-1h0m-1 2h0m0 2h0m-1 0h0m-2 0h0m0-5h0m0-2h0m-2 6h0m-1 1h0m-1-5h0m-1 2h0m-1-2h0m-1 0h0m0 1h0m-1 1h0m0 2h0m0-6h0m0 2h0m0 3h0m-1-4h0m0 4h0m-1 0h0m0 0h0m-2 1h0m-1-5h0m-1 6h0m0-1h0m0-6h0m-1 7h0m0-2h0m0 0h0m-1 1h0m0 1h0m0-7h0m-1 2h0m0 4h0m0-5h0m0 5h0m-1 1h0m0-6h0m-9 0h0m-2 1h0m0 3h0m-2 2h0m0-2h0m0 0h0m-2 1h0m0-1h0m0-3h0m-1 0h0m-1 3h0m0-1h0m-1-2h0m-1 0h0m-1-1h0m0 5h0m0 1h0m-3-6h0m0 1h0m-2 3h0m-1 2h0m0-4h0m-4 2h0m-1 1h0m0-3h0m-2-3h0m-4 4h0m-2 2h0m-1-1h0m-3 2h0m0-4h0m-2-3h0m-2 2h0m-1-1h0m-2 6h0m0-3h0m0 3h0m-4-5h0m-1 5h0m-26 8h0m5-2h0m6-4h0m4 3h0m2-1h0m4-3h0m3 0h0m3 2h0m1 1h0m0-2h0m1 1h0m1 2h0m6-4h0m0 4h0m2 0h0m4 3h0m1-5h0m0 0h0m1 3h0m1 0h0m1 0h0m1-3h0m0-1h0m0 6h0m0 0h0m1 0h0m1-4h0m1 1h0m0-3h0m2 1h0m0 2h0m0-3h0m0 2h0m1 1h0m0 0h0m1 3h0m1-4h0m0 4h0m0 0h0m1-7h0m1 7h0m0-2h0m1-5h0m1 2h0m0 3h0m2-5h0m0 0h0m0 5h0m1 0h0m0-2h0m2 2h0m0-3h0m1-1h0m1 3h0m1-3h0m0 2h0m0 4h0m0-5h0m0-1h0m1 4h0m1-3h0m1-1h0m1 1h0m0 2h0m0-3h0m1 6h0m0 0h0m7-5h0m1 3h0m1 0h0m0-3h0m0 4h0m0-3h0m0 1h0m1 2h0m1 0h0m0-3h0m0 1h0m1 1h0m0 2h0m0-1h0m0-4h0m1 3h0m0-3h0m2 3h0m0-1h0m0-1h0m1 1h0m1-2h0m1-2h0m0 2h0m1 2h0m2 1h0m0-5h0m0 5h0m1-3h0m1-2h0m0 6h0m0-4h0m2 0h0m0 0h0m0 2h0m0-3h0m0 1h0m0 1h0m1 4h0m0-4h0m0-2h0m1 0h0m2 4h0m0-3h0m0-1h0m2 0h0m0 2h0m0 2h0m0 1h0m0-5h0m1 3h0m1 3h0m0-7h0m0 3h0m1 3h0m0-2h0m0-3h0m1 0h0m2 4h0m0-3h0m0 2h0m0-4h0m0 0h0m1 2h0m0 5h0m1 0h0m0-1h0m0 0h0m0-5h0m1 0h0m0 4h0m1 1h0m0-5h0m2-1h0m1 2h0m1 4h0m1-1h0m0-3h0m1-2h0m1 6h0m1-5h0m1-1h0m2 6h0m0-2h0m1 1h0m1-5h0m1 0h0m1 0h0m3 0h0m1 2h0m1 3h0m1-1h0m2-1h0m2 2h0m0-5h0m0 4h0m1-1h0m4-2h0m8-1h0m-6 13h0m-2-3h0m-1 5h0m-3-5h0m-5 4h0m0 1h0m-1-3h0m-1-3h0m-1 4h0m-1-3h0m-3-2h0m-1 5h0m-4 0h0m0-3h0m0-2h0m0 6h0m0-6h0m-2 2h0m0 4h0m-3-2h0m-1-2h0m0 1h0m-1 4h0m-1-2h0m0 1h0m-1-6h0m-1 2h0m0 0h0m-1 3h0m0-5h0m-1 4h0m0 2h0m-2-5h0m0-1h0m-1 0h0m0 6h0m0 0h0m0-3h0m0 3h0m-1-2h0m0-4h0m-1 2h0m-1 5h0m0-3h0m0 0h0m0-2h0m0 0h0m-1 1h0m0 3h0m0-5h0m0 0h0m-1 6h0m0-5h0m0 2h0m-1-3h0m-3 2h0m0 0h0m0-1h0m-1 0h0m0 4h0m-1-3h0m0-1h0m0 3h0m0-1h0m0-4h0m0 1h0m-1 1h0m0 2h0m-1 2h0m0 0h0m0-5h0m0 0h0m-1 4h0m-1-1h0m0 1h0m-1-1h0m0 1h0m0-4h0m0 5h0m-1-5h0m0 2h0m0 1h0m0 2h0m0-2h0m-2-3h0m0 1h0m-1 0h0m0 0h0m0 1h0m0 4h0m0 0h0m-1-4h0m0-3h0m0 4h0m-1 3h0m0-7h0m0 5h0m-1-2h0m0 3h0m-1-3h0m-1 2h0m0-2h0m-1 0h0m0-2h0m0 0h0m-1 3h0m0-3h0m0-1h0m0 5h0m-1-4h0m-7 0h0m0-1h0m0 2h0m-1 3h0m0-4h0m-1 5h0m0-1h0m0-2h0m-2 2h0m0 0h0m0-4h0m-1 5h0m-1-1h0m0-4h0m0 3h0m-2-4h0m0 7h0m-1-3h0m-1 2h0m0-1h0m-1-1h0m0-2h0m-1 2h0m0 1h0m0-1h0m0 1h0m0 2h0m0-2h0m0-2h0m-1 1h0m0 1h0m-2 0h0m0 2h0m-1-7h0m-1 4h0m0 2h0m-1-6h0m0 4h0m0 0h0m-1 0h0m0-4h0m-1 3h0m0 1h0m0-3h0m-1 4h0m0 2h0m-1-5h0m0-1h0m-1 3h0m0-4h0m-1 3h0m-2 0h0m-1-2h0m-1-1h0m0 5h0m0 1h0m0 0h0m-1 0h0m0-2h0m0 1h0m-1-1h0m0-2h0m-1-2h0m0 6h0m0-6h0m-1 2h0m-1 4h0m-1-1h0m0 0h0m0-4h0m0 1h0m-1 5h0m-2-7h0m-1 5h0m0-3h0m-1 4h0m0-1h0m-4-5h0m-1 7h0m0-2h0m-3 2h0m-1-1h0m-11-4h0m-2 4h0m0-5h0m0 2h0m-7-2h0m-4 8h0m4-1h0m3 2h0m1 3h0m5-2h0m1 3h0m1-2h0m3-1h0m0-2h0m0 6h0m4-1h0m0-3h0m2-3h0m3 5h0m1-4h0m0 1h0m1 5h0m2-5h0m1 0h0m0-1h0m1 6h0m1-4h0m0 2h0m0 2h0m0-1h0m2-2h0m0 2h0m1 1h0m0 0h0m0 0h0m0-1h0m1-1h0m0-1h0m1-4h0m1 3h0m0 1h0m0 0h0m0-1h0m1-1h0m0 4h0m0 1h0m0-4h0m1 3h0m0 1h0m0-7h0m0 5h0m1-5h0m0 2h0m0 0h0m0 4h0m1-4h0m0 1h0m2 1h0m0 0h0m0-3h0m0 4h0m2 0h0m0-4h0m0 0h0m0 2h0m1 1h0m0-2h0m0 1h0m1 1h0m0-2h0m0-2h0m0 6h0m1-2h0m0 0h0m1-2h0m2-1h0m0 1h0m1 4h0m0 0h0m1 1h0m0-4h0m0 4h0m0-6h0m0 6h0m0-4h0m1 2h0m0-4h0m0 6h0m1-1h0m0 0h0m0-3h0m0-3h0m1 6h0m1-2h0m0 0h0m0-3h0m1 5h0m0-1h0m0-2h0m1-2h0m0 2h0m2-2h0m0 6h0m0-2h0m0-4h0m1 6h0m0-5h0m0 3h0m1-5h0m0 0h0m0 4h0m0-3h0m0 3h0m1 1h0m0-3h0m0 1h0m1-3h0m0 3h0m0 2h0m1-4h0m0 4h0m1 0h0m0-4h0m0 2h0m1-1h0m0 1h0m1-2h0m0 3h0m0 1h0m0 1h0m8-2h0m0 3h0m0 0h0m1-6h0m1 2h0m0 0h0m0-2h0m0 6h0m1 0h0m0-6h0m0 2h0m0 1h0m0 1h0m1-3h0m1 3h0m0-4h0m0 3h0m0 3h0m0-7h0m0 6h0m1-6h0m0 3h0m0-2h0m0 0h0m0 0h0m1-1h0m0 5h0m0-3h0m0 0h0m1 2h0m0 1h0m0-1h0m0 0h0m1-2h0m1-2h0m2 3h0m0-1h0m0-2h0m1 4h0m0 1h0m0-4h0m1 6h0m0 0h0m2-2h0m1-1h0m1-3h0m0 6h0m0-6h0m1 1h0m0-1h0m1 4h0m0-3h0m1 2h0m1-1h0m1-1h0m0 3h0m1-3h0m0 3h0m1 0h0m0 0h0m0-3h0m0 1h0m3 0h0m0 1h0m2-1h0m0-3h0m1 1h0m1 0h0m0-1h0m2 6h0m0-6h0m1 5h0m0-2h0m0 0h0m1 1h0m0-4h0m1 1h0m0 3h0m0-4h0m1 6h0m1-3h0m3-1h0m0 1h0m3 3h0m1 1h0m0-4h0m0-1h0m1 2h0m0-4h0m2 3h0m1-2h0m2 2h0m1 2h0m5 2h0m2-7h0m0 0h0m0 0h0m1 7h0m3-3h0m3 3h0m3-1h0m0 7h0m-3 0h0m-11-3h0m-3 4h0m-5-1h0m-1 1h0m-2 1h0m-3-2h0m-1 2h0m-2 0h0m-1-1h0m-1-5h0m-2 6h0m-1 0h0m-1-3h0m-1-2h0m-1 0h0m-5 5h0m-2-6h0m-2 5h0m0-5h0m-1 3h0m-1 1h0m-1-1h0m-1 2h0m0-4h0m0 3h0m0-1h0m-1-2h0m-3 4h0m0-3h0m0 0h0m-1 3h0m-1-1h0m0 2h0m0-5h0m0 4h0m-1-6h0m-1 4h0m-1 1h0m0 2h0m-1-6h0m0-1h0m0 0h0m0 5h0m-1-4h0m0 2h0m-3-2h0m0 2h0m-1 4h0m0 0h0m-1-7h0m-1 3h0m0 0h0m-1 3h0m0-3h0m0-2h0m-1 3h0m0-4h0m-6 0h0m-1 1h0m0 4h0m-1-3h0m0 1h0m-1 4h0m0-2h0m-2-2h0m0 2h0m0-2h0m0 1h0m0-2h0m0 5h0m-1-3h0m-1-4h0m-1 2h0m0 0h0m0-1h0m0 2h0m-1 0h0m0 2h0m-2 2h0m0-2h0m0 2h0m0-6h0m-1 2h0m0 0h0m0 4h0m-1-6h0m-1-1h0m0 7h0m-1-3h0m0-3h0m0-1h0m0 7h0m0-5h0m0 1h0m-1 0h0m0 1h0m0-3h0m-1 3h0m0 3h0m0-3h0m0 2h0m0-6h0m0 5h0m0 0h0m0-1h0m-1-3h0m0 3h0m0 3h0m-1-3h0m0-2h0m-1 0h0m0 2h0m0 3h0m-1 0h0m0-1h0m-1-6h0m-1 3h0m0-2h0m0 3h0m0-4h0m-1 4h0m0-4h0m-1 3h0m0 3h0m0-3h0m0 3h0m0-6h0m-1 2h0m0 3h0m0 0h0m0-3h0m-1 1h0m0-2h0m0 6h0m-1-4h0m0-2h0m0 1h0m-1 1h0m0-1h0m0 0h0m0 4h0m-1 1h0m0-4h0m0-3h0m-1 7h0m0-3h0m0 1h0m0-1h0m-1-3h0m0 1h0m0 2h0m0-2h0m0-1h0m-1-1h0m0 6h0m0 0h0m-1-2h0m0 0h0m0 1h0m0 0h0m0 0h0m0-3h0m-1-1h0m0 2h0m0 0h0m-1 3h0m0-1h0m0-1h0m0 3h0m-1-1h0m0-3h0m0 2h0m0-4h0m-1 3h0m-2-1h0m0 4h0m0-3h0m0-1h0m0 4h0m0-7h0m-1 5h0m0 0h0m-1 1h0m-1-1h0m0-1h0m0-1h0m-2 0h0m-2-1h0m0 2h0m0-4h0m0 2h0m-2 1h0m-2 1h0m0 2h0m0-1h0m0 1h0m-1 1h0m-1-4h0m0 2h0m-2-1h0m0-1h0m-1-1h0m-2 0h0m0 0h0m-1 5h0m-1-7h0m0 1h0m-2-1h0m0 4h0m-1-4h0m0 0h0m0 5h0m-1 1h0m-2-4h0m-1 5h0m-6 0h0m1 6h0m1 2h0m3-4h0m0 3h0m0 1h0m3 0h0m1-7h0m0 5h0m0 0h0m2 2h0m0-1h0m1-6h0m1 4h0m2 3h0m2-4h0m1-1h0m0 4h0m1-1h0m1-3h0m0 4h0m0 0h0m1-2h0m2 2h0m0 0h0m0-5h0m1 6h0m0-7h0m0 0h0m0 1h0m1-1h0m1 3h0m2 4h0m4-2h0m2-1h0m0-4h0m0 0h0m0 4h0m0 0h0m1 0h0m0 3h0m1-2h0m0 1h0m1-1h0m0 2h0m1-7h0m0 2h0m0 5h0m1-1h0m1 0h0m0-5h0m1 1h0m0 5h0m2-3h0m1 2h0m0-4h0m1-2h0m0 3h0m0 0h0m0 4h0m1-3h0m1-1h0m0 1h0m0-4h0m1 0h0m0 3h0m0 1h0m0-3h0m0 0h0m1 2h0m0-3h0m1 4h0m0-1h0m0 0h0m0-2h0m0 0h0m1 6h0m0 0h0m1-6h0m0-1h0m0 5h0m1-4h0m0 1h0m0 0h0m0 4h0m0-4h0m1-2h0m0 0h0m0 4h0m1 0h0m0-1h0m0 4h0m0-1h0m0-3h0m1 3h0m0 0h0m0-1h0m0-3h0m0 2h0m1 0h0m0-3h0m1 1h0m1 5h0m0-5h0m1-1h0m0 2h0m1-1h0m0 3h0m0-5h0m0 2h0m1 2h0m1 1h0m0-3h0m0-2h0m0 4h0m1-2h0m0 1h0m0-3h0m0 4h0m0-3h0m0 1h0m0 4h0m1-1h0m0-1h0m0 1h0m1 1h0m0-1h0m0 0h0m0-1h0m1-2h0m0 2h0m0 3h0m1-6h0m0 0h0m0 2h0m0 1h0m0 0h0m1-4h0m1 6h0m0-6h0m0 0h0m0 7h0m1-3h0m9-1h0m1 4h0m0-3h0m0-2h0m1 4h0m0-1h0m0 1h0m2-6h0m0 7h0m0-7h0m0 1h0m0 1h0m0 2h0m1 0h0m1 1h0m0-1h0m1-2h0m0 4h0m0 0h0m1 0h0m0-2h0m0-2h0m2 5h0m1-1h0m0-5h0m0 0h0m0 4h0m2 0h0m0-4h0m1 4h0m0 1h0m1-6h0m0 6h0m0 0h0m1-4h0m0 0h0m1 2h0m0 1h0m1 2h0m1-3h0m1-4h0m2 0h0m1 2h0m1-1h0m0 1h0m1 0h0m1 2h0m1 0h0m0 0h0m1-2h0m1-2h0m2 1h0m1 0h0m0 6h0m1-7h0m1 0h0m0 4h0m1 2h0m1-2h0m0-3h0m0 6h0m1-2h0m0-1h0m0-1h0m2 3h0m0-2h0m3 3h0m5-2h0m4 1h0m0-5h0m6 0h0m5 6h0m1-4h0m-2 5h0m-1 7h0m-2-6h0m-5 1h0m-8 3h0m-1 1h0m-2-2h0m0-4h0m-5 6h0m-2-2h0m0-3h0m-3 6h0m-3-2h0m0-3h0m-1 1h0m-1-1h0m0 1h0m-1-3h0m-1 1h0m-1-1h0m0 2h0m-1 1h0m-1-3h0m-3 0h0m-1 3h0m0-3h0m-1 6h0m0-2h0m-1-1h0m-1 1h0m0-1h0m-1 4h0m0 0h0m0-3h0m0-1h0m-1 2h0m0-5h0m-1 0h0m-3 0h0m0 3h0m0 2h0m-4-3h0m0 5h0m0-1h0m-1-6h0m0 5h0m-1 1h0m-3-1h0m-1-3h0m-7-2h0m0 5h0m0-5h0m-1 0h0m0 7h0m-1-3h0m-1 2h0m0-1h0m-1-5h0m0 4h0m-1-1h0m0-1h0m0-2h0m-1 2h0m0 0h0m0-1h0m0 4h0m-1 1h0m0-1h0m0-3h0m0-2h0m-1 1h0m0 3h0m-1-3h0m0 6h0m-1 0h0m-1-4h0m0-1h0m0 2h0m-1 0h0m-1 0h0m0-3h0m0 3h0m-1-4h0m0 3h0m0 0h0m-1-1h0m0 2h0m-1-2h0m0 2h0m0 0h0m0-4h0m-1 2h0m0-2h0m0 7h0m-1-4h0m0 3h0m-1-3h0m0 3h0m0 0h0m0-1h0m-1 2h0m0-3h0m0-4h0m0 5h0m-1-3h0m0 0h0m0 4h0m0-1h0m-1-2h0m0-3h0m-2 7h0m0-6h0m0 0h0m0 1h0m0 3h0m-1-1h0m0-1h0m0-3h0m-1 3h0m0 0h0m0 0h0m-1 4h0m0-5h0m0-2h0m0 4h0m-1-4h0m0 1h0m0 4h0m0-2h0m-1-3h0m0 3h0m-2 4h0m0-4h0m0-1h0m0 2h0m0 1h0m-1-2h0m-1 1h0m0 2h0m-1-4h0m-1 0h0m0 0h0m0 1h0m0-2h0m-1 0h0m-1 2h0m0 2h0m-1-5h0m0 1h0m0 1h0m0-2h0m0 4h0m-1 1h0m-2 1h0m-1-1h0m-1-4h0m-1 5h0m0-2h0m0 2h0m0-6h0m-1 3h0m0-3h0m0 7h0m0-2h0m-1-1h0m0 0h0m0 2h0m0-5h0m-1 0h0m0 5h0m0-4h0m-1 4h0m0 0h0m0-4h0m-1 0h0m0-1h0m-1 1h0m0 1h0m0 1h0m0 0h0m-1-1h0m0-1h0m-1-1h0m-1 4h0m0 1h0m-1 0h0m-2-3h0m-1 4h0m-2-2h0m-1-1h0m0 3h0m0-7h0m-1 4h0m0 0h0m-1 1h0m-2 1h0m-2-5h0m-2 4h0m0 0h0m-1-5h0m-1 6h0m-1-4h0m0-2h0m0 6h0m-1-5h0m0 9h0m1 0h0m1 4h0m0-1h0m0-3h0m0 0h0m4 5h0m1-3h0m0-3h0m0 1h0m1 1h0m1-3h0m1 5h0m3-4h0m0 5h0m0-5h0m2 4h0m1-1h0m0 0h0m0-4h0m1 6h0m0-6h0m0 2h0m1 2h0m1-3h0m0 3h0m0-3h0m1-1h0m0 0h0m0 2h0m0-2h0m1 0h0m1 0h0m0 4h0m0 2h0m0-3h0m2 0h0m0 2h0m1-5h0m0 7h0m0 0h0m0-6h0m0 4h0m1 0h0m0 0h0m0-4h0m1 6h0m0-3h0m1 3h0m0 0h0m0 0h0m0 0h0m0 0h0m1-5h0m1 0h0m0 4h0m0-6h0m1 7h0m0-5h0m1 1h0m0 1h0m0-2h0m1-2h0m0 4h0m1 0h0m0 1h0m1 1h0m0-3h0m0-1h0m0 1h0m0-2h0m1 5h0m0 0h0m0-1h0m0-4h0m0 0h0m2 5h0m0-4h0m0 0h0m1 4h0m1-5h0m0 6h0m0-4h0m0 3h0m1-5h0m0 1h0m0 4h0m1 0h0m0-2h0m1 0h0m0 1h0m0 1h0m2-6h0m0 5h0m1 2h0m1-3h0m0-1h0m0 3h0m1-6h0m0 7h0m0-1h0m1-2h0m0-3h0m1 1h0m0-2h0m1 3h0m0 3h0m0-5h0m0 0h0m1-1h0m0 1h0m1 0h0m1 5h0m0-2h0m0 1h0m0 1h0m0-1h0m1-4h0m0 4h0m0 1h0m0-3h0m0 4h0m1-4h0m0-2h0m0 5h0m1-5h0m0 2h0m0 1h0m1 2h0m1-5h0m0 2h0m0-1h0m0 3h0m1 1h0m0 1h0m1-3h0m2-1h0m1 4h0m0-2h0m0-5h0m0 5h0m0 2h0m1-5h0m1 2h0m0-1h0m0 3h0m0 1h0m1-7h0m0 2h0m0 1h0m1-3h0m0 0h0m0 5h0m2 0h0m1-2h0m1 3h0m9-6h0m1 7h0m3-2h0m3 1h0m1-6h0m1 4h0m2-1h0m1-3h0m1 5h0m2 2h0m3-7h0m11 4h0m2-3h0m0 0h0m2 2h0m0-3h0m0 7h0m4-7h0m10 0h0m0 0h0m12 1h0m1 0h0m5 7h0m-12 0h0m-1 7h0m-2-3h0m-17-1h0m-2 1h0m-6 0h0m-2-2h0m-7 2h0m-1-4h0m-2 4h0m-3 1h0m-1-1h0m0-4h0m-2 2h0m-5-1h0m0 6h0m-1-1h0m-3 1h0m-8-5h0m-1 4h0m-2-5h0m0 6h0m-1-3h0m-1-2h0m0-2h0m0 2h0m-3 2h0m-1 3h0m-1-1h0m-1-1h0m-2-4h0m0 5h0m0 0h0m-1-1h0m0-1h0m-1-4h0m-1 4h0m0 2h0m-1-6h0m0 6h0m0-5h0m0-1h0m0 6h0m0 0h0m-1-4h0m0 4h0m0-2h0m-1-4h0m-1 1h0m0 1h0m-1 4h0m0 1h0m0-3h0m0 0h0m-2-2h0m-1-2h0m-1 5h0m0 0h0m0 1h0m-1-5h0m-1 4h0m0 2h0m-2-5h0m0 0h0m0 1h0m0-1h0m-1-2h0m-1 6h0m-1 1h0m0-6h0m-1 6h0m-1-4h0m0 1h0m0 3h0m-1-6h0m0 6h0m0 0h0m0 0h0m-1-1h0m0 1h0m0-1h0m-2-5h0m0 6h0m0-1h0m-1-6h0m0 5h0m0-1h0m-1 0h0m-1-3h0m-1 6h0m0-3h0m-1-4h0m-1 2h0m0 3h0m-1-5h0m0 0h0m0 1h0m0 4h0m-1-5h0m0 0h0m-1 6h0m0-4h0m0 2h0m0 0h0m-1 2h0m0 1h0m0-2h0m0-1h0m-1 1h0m0 1h0m0-1h0m-1-3h0m0-1h0m-1-1h0m0 5h0m-1 1h0m0-3h0m0-2h0m0 1h0m0 0h0m-1 1h0m-2 3h0m0 0h0m0-3h0m-2 1h0m0 1h0m-1-5h0m0 1h0m0 5h0m-2-1h0m-1 0h0m-1-4h0m-2 0h0m0 4h0m-2 1h0m0-2h0m-1 3h0m0-2h0m-1-4h0m-1 3h0m-1 3h0m0-4h0m-1 0h0m0 4h0m1 4h0m0 3h0m2-3h0m1 2h0m1 2h0m1-3h0m0 1h0m0-5h0m0 6h0m1 1h0m1-4h0m1 4h0m0-4h0m1-3h0m3 6h0m0-6h0m0 5h0m1 1h0m2-6h0m0 5h0m3-5h0m0 4h0m0-3h0m1 1h0m0 4h0m0-2h0m1 3h0m0-4h0m0-1h0m1-2h0m1 0h0m2 4h0m1-3h0m0 0h0m0 5h0m1-3h0m0 1h0m0 0h0m1-2h0m0-1h0m1 1h0m0 1h0m1 1h0m0-2h0m1-2h0m0 6h0m0-2h0m1 0h0m1 1h0m0-2h0m0 4h0m0-1h0m1-6h0m2 3h0m0-3h0m1 0h0m0 7h0m0-1h0m1-5h0m0 2h0m1 4h0m0-2h0m0-5h0m1 5h0m0 0h0m0-1h0m0 0h0m0-3h0m1-1h0m0 7h0m0 0h0m0-6h0m1-1h0m2 3h0m0 0h0m0 1h0m0-3h0m1 0h0m0 3h0m0-4h0m1 1h0m0 0h0m1 2h0m0-3h0m1 1h0m0-1h0m1 6h0m1-6h0m1 1h0m1 1h0m0-2h0m0 1h0m1 2h0m0-1h0m1 0h0m0 1h0m1 3h0m1 1h0m3-7h0m0 5h0m2 2h0m1-6h0m1 2h0m0 3h0m1-1h0m1 0h0m1-5h0m0 6h0m2-6h0m2 3h0m12 1h0m1-2h0m0 0h0m3 4h0m4-6h0m2 5h0m2-2h0m29 1h0m7-4h0m-18 9h0m-27 0h0m-2 6h0m-2-7h0m-9 6h0m-8-6h0m-5 5h0m-1 0h0m0 0h0m0 2h0m-3-7h0m-3 6h0m0-6h0m0 3h0m-1 2h0m0-5h0m-1 7h0m-2-6h0m-2-1h0m-2 5h0m0 0h0m0-4h0m-2 0h0m-1 1h0m0 1h0m-1 2h0m-1-1h0m0-3h0m-1 1h0m-1-1h0m0 2h0m-1-3h0m-1 4h0m0-2h0m-1 0h0m0 4h0m0-5h0m-1-1h0m-1 7h0m-2-6h0m0 5h0m-2-6h0m0 3h0m0 3h0m-1-4h0m0-1h0m-2-1h0m-1 1h0m-1-1h0m0 3h0m-1-2h0m0 0h0m-1-1h0m-1 1h0m-1 4h0m0-2h0m-1 1h0m0-2h0m0 2h0m0 1h0m0 1h0m-1-5h0m-1 0h0m-1 1h0m0 0h0m-1-2h0m0 6h0m0-4h0m-2 2h0m-2 2h0m-1-2h0m-2-1h0m-1 4h0m-3-1h0m0-4h0m-1 3h0m0-4h0m-1 0h0m-1 6h0m0 0h0m12 3h0m1-1h0m2-1h0m0 2h0m2 0h0m1-2h0m2 0h0m0 1h0m1-1h0m1 0h0m7 1h0m9-1h0m3 0h0m0 1h0m11-1h0m0 0h0m9 0h0m0 0h0m2 0h0m0 0h0m2 0h0m24 1h0" stroke="#8a8ad8" stroke-width="1.5" stroke-linecap="round" stroke-opacity="0.85"/>
<path transform="scale(.5)" d="M101 1581h0m-7-4h0m-2 3h0m0-2h0m-3-1h0m-3 6h0m-1-3h0m-21 1h0m1 3h0m2 3h0m8-1h0m4 5h0m4 0h0m0-4h0m2-1h0m1 4h0m3-1h0m0-2h0m3-1h0m1-1h0m2 5h0m1-3h0m3 4h0m1-3h0m0 3h0m4-5h0m2 2h0m1 0h0m1-1h0m1 1h0m13 6h0m-6 1h0m-15 1h0m0 1h0m-2 1h0m0-6h0m-2 3h0m-2 1h0m-1-1h0m-1 2h0m-1 0h0m-4 1h0m0-2h0m-1-2h0m0 4h0m-1 1h0m-10 0h0m0-5h0m-1 4h0m-4 3h0m1 0h0m2 1h0m4-2h0m2 3h0m1 1h0m2 3h0m2-7h0m0 2h0m0-1h0m0 5h0m1-6h0m1 4h0m1 1h0m0 1h0m1-6h0m1 7h0m1-5h0m0 5h0m1-2h0m0-1h0m0 1h0m1 1h0m1-4h0m1 0h0m0-1h0m0-1h0m0 5h0m0-5h0m1 1h0m0 1h0m1 5h0m1-2h0m0 2h0m1-1h0m1-1h0m1-1h0m4 0h0m0 0h0m1 1h0m0-1h0m1-4h0m0 2h0m0 3h0m1-3h0m1 5h0m3-4h0m3-2h0m2 2h0m2 0h0m4 4h0m-8 5h0m-1-1h0m-2 1h0m-4 0h0m-2-1h0m-4-2h0m-1 0h0m-1-1h0m-1 0h0m0 2h0m0 0h0m-2-1h0m-1 6h0m-1-7h0m0 0h0m0 5h0m-2-4h0m-1 6h0m0-6h0m0-1h0m0 5h0m-2-5h0m0 5h0m-1-1h0m0 0h0m0-2h0m-1 5h0m-3 0h0m-1-1h0m-2-6h0m-1 5h0m-3-1h0m0 1h0m-1 0h0m-1-4h0m-4 5h0m1 2h0m0 5h0m7-1h0m2 2h0m1 0h0m1-2h0m1-4h0m7 6h0m2-1h0m1 1h0m0-3h0m1 0h0m0-2h0m0 2h0m1 1h0m2 3h0m0 0h0m0-7h0m1 5h0m3-4h0m6 1h0m-2 6h0m-6 4h0m-8-4h0m-1 2h0m-1-2h0m-1 4h0m-2-4h0m-3 6h0m-2-6h0m-7 5h0m-5-1h0m-4-1h0m-4-3h0" stroke="#5a8ad0" stroke-width="1.5" stroke-linecap="round"/>
<path transform="scale(.5)" d="M99 1578h0m-36-2h0m14 10h0m6-1h0m3 2h0m0-2h0m3 5h0m4-4h0m0 2h0m0 0h0m19-3h0m-1 9h0m-7 3h0m-1-4h0m0 6h0m-2-4h0m0 3h0m-1-1h0m-2-5h0m-1 7h0m-6-5h0m0 4h0m-1-5h0m-2 4h0m0 0h0m-2 1h0m-2-3h0m-3 3h0m-3-1h0m-1-4h0m-5 2h0m-3-3h0m0 15h0m6-3h0m3-3h0m0 0h0m0 4h0m2 2h0m1-2h0m2-2h0m0 4h0m2-1h0m2-5h0m2 2h0m2-2h0m0 2h0m2 1h0m1-1h0m1 2h0m0 2h0m1 0h0m1 0h0m1-3h0m4-4h0m0 3h0m1 4h0m2-4h0m2-2h0m2 2h0m0 2h0m9-5h0m-14 9h0m-2 5h0m-2-5h0m0 5h0m-3-2h0m0-1h0m-1-2h0m-1 5h0m-1-3h0m-1-2h0m0 0h0m-1-1h0m0 2h0m-2-1h0m-1 3h0m0-2h0m0 2h0m-1-4h0m-1 3h0m-1 2h0m0 0h0m-1-3h0m-2 0h0m-1 0h0m0-1h0m-3 2h0m-6-3h0m-3 15h0m2-3h0m9-2h0m1 5h0m1-4h0m1 0h0m1-1h0m1 1h0m3-1h0m6 2h0m0-3h0m1 4h0m1-4h0m5 6h0m0-5h0m1 2h0m0-2h0m2 3h0m4 4h0m-10-1h0m-1 5h0m-4-5h0m-1 7h0m0-7h0m-5 7h0m-2-4h0m0 4h0m-2 0h0m-1-4h0m-2 2h0m-3-5h0m-2 1h0" stroke="#70a860" stroke-width="1.5" stroke-linecap="round"/>
<path transform="scale(.5)" d="M90 1583h0m-9 8h0m13-3h0m5 3h0m2-2h0m1 1h0m4-3h0m-9 8h0m-2 1h0m0 3h0m-2-5h0m-1 2h0m-1-4h0m-1 6h0m-1 0h0m-4-2h0m-1-2h0m-10 0h0m-3 5h0m-1 0h0m8 6h0m1-4h0m1 5h0m4 1h0m0-1h0m1-2h0m1 2h0m5-2h0m2 0h0m1-1h0m1-2h0m1 1h0m3 4h0m1-1h0m13 7h0m-3-2h0m-6 1h0m-3 3h0m-6 1h0m-1-2h0m-1-5h0m-1 2h0m-1 5h0m-2 0h0m-2-6h0m0-1h0m0 4h0m-1-2h0m-1 0h0m-1 4h0m-11-1h0m12 8h0m1-4h0m1 1h0m4 1h0m3 1h0m1-4h0m1 0h0m3 2h0m3 4h0m1-5h0m3 0h0m-10 7h0m-6 2h0m-5-1h0m0 0h0m-2 3h0m-2-4h0m-10 4h0m33 5h0" stroke="#b8b040" stroke-width="1.5" stroke-linecap="round"/>
<path transform="scale(.5)" d="M108 1578h0m-8 4h0m-19 3h0m1 1h0m8 5h0m2 0h0m8-4h0m10 4h0m2 8h0m-4-3h0m-1-2h0m-9 4h0m0 1h0m-1-3h0m-1 3h0m-12-3h0m-5-3h0m2 12h0m0-5h0m5 7h0m1-2h0m1-4h0m2-1h0m7 3h0m2 4h0m1-7h0m4 3h0m8 1h0m0-4h0m0 13h0m-13-4h0m-2 6h0m0-2h0m-4-4h0m-11 13h0m4 1h0m1 0h0m10 4h0m-2-2h0m6 7h0" stroke="#c07030" stroke-width="1.5" stroke-linecap="round"/>
<path transform="scale(.5)" d="M94 1570h0m-11 12h0m0 7h0m10 8h0m-10-3h0m-6 10h0m15 1h0m20-2h0m3 3h0m-13 3h0m-4-1h0m-1 2h0m-8-2h0m-1 3h0m-1 0h0m-4-3h0m1 10h0m1 2h0m3 0h0m-10 9h0" stroke="#a03020" stroke-width="1.5" stroke-linecap="round"/>
<rect x="28.9" y="756.5" width="37.8" height="61" fill="none" stroke="#666" stroke-width="0.8"/>
<rect x="69" y="756.5" width="37.8" height="61" fill="none" stroke="#666" stroke-width="0.8"/>
<text x="47.5" y="752.8" font-size="9.8" text-anchor="middle" stroke="#000" stroke-width="0.22">Sca-1<tspan font-size="6" dy="-4">−</tspan></text>
<text x="88.7" y="752.8" font-size="9.8" text-anchor="middle" stroke="#000" stroke-width="0.22">Sca-1<tspan font-size="6" dy="-4">+</tspan></text>
<text x="10.6" y="748" font-size="13.5" text-anchor="middle" stroke="#000" stroke-width="0.22" transform="rotate(-90 10.6 748)">FSC-A</text>
<line x1="5" y1="809" x2="5" y2="773" stroke="#000" stroke-width="1.5"/>
<path d="M5 769.5L2.3 775L7.7 775Z" fill="#000"/>
<line x1="15.2" y1="832.4" x2="67" y2="832.4" stroke="#000" stroke-width="1.5"/>
<path d="M71.5 832.4L66 829.7L66 835.1Z" fill="#000"/>
<text x="76.4" y="837" font-size="13.5" stroke="#000" stroke-width="0.22">Sca-1</text>
<text x="118.2" y="581.2" font-size="13" stroke="#000" stroke-width="0.22">L</text>
<rect x="138.5" y="592.5" width="93.3" height="12.6" fill="#fff" stroke="#000" stroke-width="0.8"/>
<text x="185.1" y="603" font-size="13" text-anchor="middle" stroke="#000" stroke-width="0.22">Sca-1<tspan font-size="7.5" dy="-5">−</tspan></text>
<rect x="237" y="592.5" width="93.3" height="12.6" fill="#fff" stroke="#000" stroke-width="0.8"/>
<text x="283.6" y="603" font-size="13" text-anchor="middle" stroke="#000" stroke-width="0.22">Sca-1<tspan font-size="7.5" dy="-5">+</tspan></text>
<rect x="119.1" y="610.4" width="13.8" height="70.6" fill="#fff" stroke="#000" stroke-width="0.8"/>
<text x="129.8" y="645.7" font-size="12" text-anchor="middle" stroke="#000" stroke-width="0.22" transform="rotate(-90 129.8 645.7)"><tspan fill="#b01c1c" stroke="#b01c1c">Sca-1</tspan><tspan fill="#2a2ab0" stroke="#2a2ab0">/DAPI</tspan></text>
<rect x="137.6" y="610.4" width="94.7" height="70.6" fill="#020208"/>
<ellipse cx="181.7" cy="637.3" rx="1.4" ry="1" fill="#3c40e0" transform="rotate(63 181.7 637.3)"/>
<ellipse cx="152.5" cy="669.3" rx="1.4" ry="1" fill="#3c40e0" transform="rotate(144 152.5 669.3)"/>
<ellipse cx="140.6" cy="645.7" rx="1.4" ry="1" fill="#3c40e0" transform="rotate(16 140.6 645.7)"/>
<ellipse cx="220.8" cy="618.3" rx="1.4" ry="1" fill="#3c40e0" transform="rotate(108 220.8 618.3)"/>
<ellipse cx="189.9" cy="653.1" rx="1.4" ry="1" fill="#3c40e0" transform="rotate(165 189.9 653.1)"/>
<ellipse cx="143.7" cy="637.6" rx="1.4" ry="1" fill="#3c40e0" transform="rotate(59 143.7 637.6)"/>
<ellipse cx="203.3" cy="642.4" rx="1.4" ry="1" fill="#3c40e0" transform="rotate(24 203.3 642.4)"/>
<ellipse cx="205.3" cy="623.2" rx="1.4" ry="1" fill="#3c40e0" transform="rotate(102 205.3 623.2)"/>
<ellipse cx="161.4" cy="620.2" rx="1.4" ry="1" fill="#3c40e0" transform="rotate(130 161.4 620.2)"/>
<ellipse cx="185.6" cy="673" rx="1.4" ry="1" fill="#3c40e0" transform="rotate(95 185.6 673)"/>
<ellipse cx="193.1" cy="663.3" rx="1.4" ry="1" fill="#3c40e0" transform="rotate(143 193.1 663.3)"/>
<ellipse cx="174.5" cy="661.5" rx="1.4" ry="1" fill="#3c40e0" transform="rotate(94 174.5 661.5)"/>
<ellipse cx="149.2" cy="631.9" rx="1.4" ry="1" fill="#3c40e0" transform="rotate(35 149.2 631.9)"/>
<ellipse cx="200.7" cy="660.2" rx="1.4" ry="1" fill="#3c40e0" transform="rotate(170 200.7 660.2)"/>
<ellipse cx="178" cy="618.7" rx="1.4" ry="1" fill="#3c40e0" transform="rotate(74 178 618.7)"/>
<ellipse cx="164" cy="626.6" rx="1.4" ry="1" fill="#3c40e0" transform="rotate(43 164 626.6)"/>
<ellipse cx="165.3" cy="665.6" rx="1.4" ry="1" fill="#3c40e0" transform="rotate(177 165.3 665.6)"/>
<ellipse cx="158" cy="670.6" rx="1.4" ry="1" fill="#3c40e0" transform="rotate(66 158 670.6)"/>
<ellipse cx="219.1" cy="616.6" rx="1.4" ry="1" fill="#3c40e0" transform="rotate(7 219.1 616.6)"/>
<ellipse cx="174.1" cy="645" rx="1.4" ry="1" fill="#3c40e0" transform="rotate(12 174.1 645)"/>
<ellipse cx="142.1" cy="640.6" rx="1.4" ry="1" fill="#3c40e0" transform="rotate(44 142.1 640.6)"/>
<ellipse cx="221.6" cy="620.3" rx="1.4" ry="1" fill="#3c40e0" transform="rotate(67 221.6 620.3)"/>
<ellipse cx="193.7" cy="620.9" rx="1.4" ry="1" fill="#3c40e0" transform="rotate(42 193.7 620.9)"/>
<ellipse cx="192.1" cy="671.2" rx="1.4" ry="1" fill="#3c40e0" transform="rotate(30 192.1 671.2)"/>
<ellipse cx="158.3" cy="613.5" rx="1.4" ry="1" fill="#3c40e0" transform="rotate(155 158.3 613.5)"/>
<ellipse cx="147.5" cy="648.1" rx="1.4" ry="1" fill="#3c40e0" transform="rotate(37 147.5 648.1)"/>
<ellipse cx="141.6" cy="618.5" rx="1.4" ry="1" fill="#3c40e0" transform="rotate(3 141.6 618.5)"/>
<ellipse cx="184.7" cy="672.9" rx="1.4" ry="1" fill="#3c40e0" transform="rotate(12 184.7 672.9)"/>
<ellipse cx="177.8" cy="638.9" rx="1.4" ry="1" fill="#3c40e0" transform="rotate(15 177.8 638.9)"/>
<ellipse cx="197.5" cy="619.1" rx="1.4" ry="1" fill="#3c40e0" transform="rotate(115 197.5 619.1)"/>
<ellipse cx="192.2" cy="624.2" rx="1.4" ry="1" fill="#3c40e0" transform="rotate(53 192.2 624.2)"/>
<ellipse cx="194.8" cy="675.3" rx="1.4" ry="1" fill="#3c40e0" transform="rotate(99 194.8 675.3)"/>
<ellipse cx="144.9" cy="649.1" rx="1.4" ry="1" fill="#3c40e0" transform="rotate(75 144.9 649.1)"/>
<ellipse cx="194.6" cy="622.7" rx="1.4" ry="1" fill="#3c40e0" transform="rotate(156 194.6 622.7)"/>
<ellipse cx="164.1" cy="677.7" rx="1.4" ry="1" fill="#3c40e0" transform="rotate(3 164.1 677.7)"/>
<ellipse cx="229.8" cy="620.9" rx="1.4" ry="1" fill="#3c40e0" transform="rotate(90 229.8 620.9)"/>
<ellipse cx="203.5" cy="674.8" rx="1.4" ry="1" fill="#3c40e0" transform="rotate(72 203.5 674.8)"/>
<ellipse cx="161.3" cy="652.7" rx="1.4" ry="1" fill="#3c40e0" transform="rotate(36 161.3 652.7)"/>
<ellipse cx="143.9" cy="636.8" rx="1.4" ry="1" fill="#3c40e0" transform="rotate(123 143.9 636.8)"/>
<ellipse cx="200.7" cy="651.4" rx="1.4" ry="1" fill="#3c40e0" transform="rotate(143 200.7 651.4)"/>
<ellipse cx="209.7" cy="618.6" rx="1.4" ry="1" fill="#3c40e0" transform="rotate(71 209.7 618.6)"/>
<ellipse cx="171.2" cy="669.2" rx="1.4" ry="1" fill="#3c40e0" transform="rotate(35 171.2 669.2)"/>
<ellipse cx="192.6" cy="642.3" rx="1.4" ry="1" fill="#3c40e0" transform="rotate(22 192.6 642.3)"/>
<ellipse cx="176.2" cy="677.1" rx="1.4" ry="1" fill="#3c40e0" transform="rotate(142 176.2 677.1)"/>
<ellipse cx="191.7" cy="614.2" rx="1.4" ry="1" fill="#3c40e0" transform="rotate(75 191.7 614.2)"/>
<ellipse cx="211.9" cy="634.4" rx="1.4" ry="1" fill="#3c40e0" transform="rotate(178 211.9 634.4)"/>
<ellipse cx="179" cy="626.9" rx="1.4" ry="1" fill="#3c40e0" transform="rotate(30 179 626.9)"/>
<ellipse cx="180" cy="634.1" rx="1.4" ry="1" fill="#3c40e0" transform="rotate(16 180 634.1)"/>
<ellipse cx="148" cy="653.9" rx="1.4" ry="1" fill="#3c40e0" transform="rotate(107 148 653.9)"/>
<ellipse cx="149.3" cy="664" rx="1.4" ry="1" fill="#3c40e0" transform="rotate(115 149.3 664)"/>
<ellipse cx="142.3" cy="663.7" rx="1.4" ry="1" fill="#3c40e0" transform="rotate(36 142.3 663.7)"/>
<ellipse cx="212.7" cy="645.3" rx="1.4" ry="1" fill="#3c40e0" transform="rotate(180 212.7 645.3)"/>
<line x1="141.8" y1="675.3" x2="157" y2="675.3" stroke="#fff" stroke-width="1.8"/>
<rect x="236.4" y="610.4" width="93.9" height="70.6" fill="#1c0806"/>
<clipPath id="clipL"><rect x="236.4" y="610.4" width="93.9" height="70.6"/></clipPath><g clip-path="url(#clipL)">
<ellipse cx="288.6" cy="665.3" rx="12.7" ry="9" fill="#3a120c" fill-opacity="0.5"/>
<ellipse cx="297.7" cy="630.4" rx="12.8" ry="8" fill="#3a120c" fill-opacity="0.5"/>
<ellipse cx="269.4" cy="673.9" rx="10.2" ry="5.6" fill="#3a120c" fill-opacity="0.5"/>
<ellipse cx="309.9" cy="667" rx="9.3" ry="8.9" fill="#3a120c" fill-opacity="0.5"/>
<ellipse cx="315.3" cy="625.6" rx="11.8" ry="8" fill="#3a120c" fill-opacity="0.5"/>
<ellipse cx="287.1" cy="617.6" rx="12.4" ry="8" fill="#3a120c" fill-opacity="0.5"/>
<ellipse cx="261.6" cy="616.5" rx="13.2" ry="7.9" fill="#3a120c" fill-opacity="0.5"/>
<ellipse cx="290.7" cy="641.2" rx="10.5" ry="7.6" fill="#3a120c" fill-opacity="0.5"/>
<ellipse cx="295.7" cy="665.3" rx="15" ry="7.9" fill="#3a120c" fill-opacity="0.5"/>
<ellipse cx="324" cy="616.3" rx="9.8" ry="5.7" fill="#3a120c" fill-opacity="0.5"/>
<ellipse cx="247" cy="644.9" rx="8.5" ry="9.4" fill="#3a120c" fill-opacity="0.5"/>
<ellipse cx="303.5" cy="657.5" rx="8.2" ry="6.2" fill="#3a120c" fill-opacity="0.5"/>
<ellipse cx="279.3" cy="636.9" rx="15.7" ry="7.9" fill="#3a120c" fill-opacity="0.5"/>
<ellipse cx="282.6" cy="628.3" rx="13" ry="5.4" fill="#3a120c" fill-opacity="0.5"/>
<path d="M249.5 618.7L244.9 619.9L242 622.9L239 619.4L232.9 620.3L235 616.1L231 611.9L238.3 612.3L240 605.6L243.6 611.4L251.6 609.8L246.2 615.3Z" fill="#cc2626" stroke="#a01818" stroke-width="0.5" stroke-linejoin="round"/>
<path d="M266.6 627.9L267.7 632L271.6 635.4L267 638L263.4 641.2L259.6 637.8L254.5 636.8L257.2 633L253.2 625.8L261.5 628Z" fill="#ec3636" stroke="#a01818" stroke-width="0.5" stroke-linejoin="round"/>
<path d="M272.3 622L277.2 619.9L278.9 616.1L283.2 618.6L289.2 616.1L287.5 621.4L293 624.3L288.2 626.7L285.5 629.1L281.7 627.3L274.6 631.2L277.7 624.6Z" fill="#ec3636" stroke="#a01818" stroke-width="0.5" stroke-linejoin="round"/>
<path d="M298.1 613.9L306.4 617L312.2 617L311.3 621.6L312.4 627.5L305.3 627.2L297.9 626.6L300.9 620.9Z" fill="#ec3636" stroke="#a01818" stroke-width="0.5" stroke-linejoin="round"/>
<path d="M314.1 636.5L318.2 632.2L316.6 626.4L323.4 627.6L331 624.3L329.5 631.6L332.1 635L327.6 636.9L324.6 642L320 638.3Z" fill="#cc2626" stroke="#a01818" stroke-width="0.5" stroke-linejoin="round"/>
<path d="M253.7 651.2L248.9 652.6L245.3 655.3L242.3 652.2L235.9 650.8L239 646.7L238.4 639.6L246 644.6L254.5 640.2L252.9 647.2Z" fill="#cc2626" stroke="#a01818" stroke-width="0.5" stroke-linejoin="round"/>
<path d="M279.5 659.6L271.6 659.5L267.3 662.6L264 659L256.4 656.7L262.6 652.6L263.9 647.3L269.8 650.3L274.5 650.7L276.1 654.3Z" fill="#d82a2a" stroke="#a01818" stroke-width="0.5" stroke-linejoin="round"/>
<path d="M297.9 642.9L292.7 644.4L289.7 647.9L285.4 645.8L276.2 645L282.9 639.7L282.8 634.6L288.9 635.3L295.3 633.6L294.3 639.5Z" fill="#ec3636" stroke="#a01818" stroke-width="0.5" stroke-linejoin="round"/>
<path d="M309.2 659.4L306.4 664.6L309 670.8L300.6 668.3L295.9 670.7L294.5 666.4L286.2 663.1L295.2 661.1L297 655.4L302.2 659Z" fill="#cc2626" stroke="#a01818" stroke-width="0.5" stroke-linejoin="round"/>
<path d="M315.2 669.7L313 664.3L303.7 662.1L312.9 658.8L314.1 654.5L319.1 655.8L327 654.4L322.7 660.6L326 664.9L320 665.3Z" fill="#d82a2a" stroke="#a01818" stroke-width="0.5" stroke-linejoin="round"/>
<path d="M248.5 676.1L252.1 671.2L255.6 667.1L261 669.5L268.8 671.2L264.4 676.5L261.5 682.5L255.8 677.3Z" fill="#e33030" stroke="#a01818" stroke-width="0.5" stroke-linejoin="round"/>
<path d="M274.7 678.8L274.9 673.8L269.8 668.2L278.9 668.6L283.4 663.1L285.5 669.7L290.2 671.7L286.6 674.8L287.2 681L280.8 678.6Z" fill="#ec3636" stroke="#a01818" stroke-width="0.5" stroke-linejoin="round"/>
<path d="M245.9 677.3L240.7 674.9L234.8 676.2L235.4 671.2L227.8 667.7L237.2 666.5L238.3 662.9L242.4 663.4L248.5 661.7L246.6 667.4L254.4 670.3L246.1 671.8Z" fill="#d82a2a" stroke="#a01818" stroke-width="0.5" stroke-linejoin="round"/>
<path d="M315.8 623.3L320.3 616.6L318.6 608.4L327.3 613.6L333.8 613.5L331.6 618.4L332.7 625.2L325.3 621.9Z" fill="#cc2626" stroke="#a01818" stroke-width="0.5" stroke-linejoin="round"/>
<path d="M259.3 641.9L254.1 641.1L249 642.7L248.7 637.8L242.5 636L248.4 633.3L245.8 626.6L252.8 629.9L257 628.9L259.4 631.7L264.5 634.3L258.5 637Z" fill="#ec3636" stroke="#a01818" stroke-width="0.5" stroke-linejoin="round"/>
<path d="M322.6 653.2L315.8 653.6L314.2 660.4L310.2 654.1L305.9 654.1L306.1 650.8L304 647.5L308.5 646.4L310.7 642.6L314.1 645.9L321.3 644.1L319.4 649.1Z" fill="#ec3636" stroke="#a01818" stroke-width="0.5" stroke-linejoin="round"/>
<ellipse cx="322.9" cy="635.3" rx="1.4" ry="1" fill="#5050e8" fill-opacity="0.85" transform="rotate(143 322.9 635.3)"/>
<ellipse cx="320.4" cy="649" rx="1.4" ry="1" fill="#5050e8" fill-opacity="0.85" transform="rotate(7 320.4 649)"/>
<ellipse cx="250" cy="677.2" rx="1.4" ry="1" fill="#5050e8" fill-opacity="0.85" transform="rotate(22 250 677.2)"/>
<ellipse cx="242.2" cy="613.3" rx="1.4" ry="1" fill="#5050e8" fill-opacity="0.85" transform="rotate(112 242.2 613.3)"/>
<ellipse cx="270.2" cy="649.4" rx="1.4" ry="1" fill="#5050e8" fill-opacity="0.85" transform="rotate(180 270.2 649.4)"/>
<ellipse cx="319.6" cy="618.3" rx="1.4" ry="1" fill="#5050e8" fill-opacity="0.85" transform="rotate(104 319.6 618.3)"/>
<ellipse cx="301.8" cy="675.1" rx="1.4" ry="1" fill="#5050e8" fill-opacity="0.85" transform="rotate(15 301.8 675.1)"/>
<ellipse cx="259.8" cy="622.4" rx="1.4" ry="1" fill="#5050e8" fill-opacity="0.85" transform="rotate(146 259.8 622.4)"/>
<ellipse cx="314.2" cy="636.4" rx="1.4" ry="1" fill="#5050e8" fill-opacity="0.85" transform="rotate(169 314.2 636.4)"/>
<ellipse cx="255.3" cy="654.9" rx="1.4" ry="1" fill="#5050e8" fill-opacity="0.85" transform="rotate(131 255.3 654.9)"/>
<ellipse cx="284.4" cy="639.4" rx="1.4" ry="1" fill="#5050e8" fill-opacity="0.85" transform="rotate(41 284.4 639.4)"/>
<ellipse cx="325.7" cy="633" rx="1.4" ry="1" fill="#5050e8" fill-opacity="0.85" transform="rotate(117 325.7 633)"/>
<ellipse cx="264.1" cy="641.2" rx="1.4" ry="1" fill="#5050e8" fill-opacity="0.85" transform="rotate(136 264.1 641.2)"/>
<ellipse cx="276.1" cy="662.9" rx="1.4" ry="1" fill="#5050e8" fill-opacity="0.85" transform="rotate(14 276.1 662.9)"/>
<ellipse cx="317.2" cy="667" rx="1.4" ry="1" fill="#5050e8" fill-opacity="0.85" transform="rotate(174 317.2 667)"/>
<ellipse cx="297.3" cy="639.7" rx="1.4" ry="1" fill="#5050e8" fill-opacity="0.85" transform="rotate(93 297.3 639.7)"/>
<ellipse cx="278.7" cy="616.4" rx="1.4" ry="1" fill="#5050e8" fill-opacity="0.85" transform="rotate(104 278.7 616.4)"/>
<ellipse cx="283.8" cy="660.9" rx="1.4" ry="1" fill="#5050e8" fill-opacity="0.85" transform="rotate(16 283.8 660.9)"/>
<ellipse cx="296.3" cy="665.5" rx="1.4" ry="1" fill="#5050e8" fill-opacity="0.85" transform="rotate(164 296.3 665.5)"/>
<ellipse cx="267" cy="645.1" rx="1.4" ry="1" fill="#5050e8" fill-opacity="0.85" transform="rotate(79 267 645.1)"/>
<ellipse cx="277.2" cy="638.1" rx="1.4" ry="1" fill="#5050e8" fill-opacity="0.85" transform="rotate(49 277.2 638.1)"/>
<ellipse cx="325.6" cy="676.1" rx="1.4" ry="1" fill="#5050e8" fill-opacity="0.85" transform="rotate(120 325.6 676.1)"/>
<ellipse cx="253.2" cy="614" rx="1.4" ry="1" fill="#5050e8" fill-opacity="0.85" transform="rotate(74 253.2 614)"/>
<ellipse cx="301.9" cy="646.8" rx="1.4" ry="1" fill="#5050e8" fill-opacity="0.85" transform="rotate(151 301.9 646.8)"/>
<ellipse cx="289.9" cy="625.5" rx="1.4" ry="1" fill="#5050e8" fill-opacity="0.85" transform="rotate(156 289.9 625.5)"/>
<ellipse cx="247.2" cy="645.9" rx="1.4" ry="1" fill="#5050e8" fill-opacity="0.85" transform="rotate(176 247.2 645.9)"/>
<ellipse cx="325.2" cy="624.5" rx="1.4" ry="1" fill="#5050e8" fill-opacity="0.85" transform="rotate(18 325.2 624.5)"/>
<ellipse cx="285.4" cy="656.4" rx="1.4" ry="1" fill="#5050e8" fill-opacity="0.85" transform="rotate(36 285.4 656.4)"/>
<ellipse cx="315.4" cy="640.2" rx="1.4" ry="1" fill="#5050e8" fill-opacity="0.85" transform="rotate(46 315.4 640.2)"/>
<ellipse cx="255.8" cy="643.7" rx="1.4" ry="1" fill="#5050e8" fill-opacity="0.85" transform="rotate(167 255.8 643.7)"/>
<ellipse cx="303.7" cy="666.1" rx="1.4" ry="1" fill="#5050e8" fill-opacity="0.85" transform="rotate(129 303.7 666.1)"/>
<ellipse cx="296" cy="633" rx="1.4" ry="1" fill="#5050e8" fill-opacity="0.85" transform="rotate(174 296 633)"/>
<ellipse cx="283.6" cy="669.7" rx="1.4" ry="1" fill="#5050e8" fill-opacity="0.85" transform="rotate(14 283.6 669.7)"/>
<ellipse cx="291.1" cy="654.5" rx="1.4" ry="1" fill="#5050e8" fill-opacity="0.85" transform="rotate(122 291.1 654.5)"/>
<ellipse cx="311.9" cy="617.5" rx="1.4" ry="1" fill="#5050e8" fill-opacity="0.85" transform="rotate(86 311.9 617.5)"/>
<ellipse cx="244.7" cy="644" rx="1.4" ry="1" fill="#5050e8" fill-opacity="0.85" transform="rotate(150 244.7 644)"/>
<ellipse cx="323.7" cy="652.8" rx="1.4" ry="1" fill="#5050e8" fill-opacity="0.85" transform="rotate(165 323.7 652.8)"/>
<ellipse cx="282" cy="639.7" rx="1.4" ry="1" fill="#5050e8" fill-opacity="0.85" transform="rotate(127 282 639.7)"/>
<ellipse cx="322.6" cy="650.7" rx="1.4" ry="1" fill="#5050e8" fill-opacity="0.85" transform="rotate(3 322.6 650.7)"/>
<ellipse cx="301.3" cy="641.3" rx="1.4" ry="1" fill="#5050e8" fill-opacity="0.85" transform="rotate(149 301.3 641.3)"/>
<ellipse cx="245.2" cy="676.7" rx="1.4" ry="1" fill="#5050e8" fill-opacity="0.85" transform="rotate(178 245.2 676.7)"/>
<ellipse cx="261.8" cy="649.3" rx="1.4" ry="1" fill="#5050e8" fill-opacity="0.85" transform="rotate(70 261.8 649.3)"/>
<ellipse cx="238.6" cy="670.5" rx="1.4" ry="1" fill="#5050e8" fill-opacity="0.85" transform="rotate(130 238.6 670.5)"/>
<ellipse cx="304.3" cy="671.2" rx="1.4" ry="1" fill="#5050e8" fill-opacity="0.85" transform="rotate(95 304.3 671.2)"/>
<ellipse cx="267.2" cy="623.8" rx="1.4" ry="1" fill="#5050e8" fill-opacity="0.85" transform="rotate(178 267.2 623.8)"/>
<ellipse cx="326.2" cy="658.6" rx="1.4" ry="1" fill="#5050e8" fill-opacity="0.85" transform="rotate(81 326.2 658.6)"/>
<ellipse cx="267.8" cy="617.5" rx="1.4" ry="1" fill="#5050e8" fill-opacity="0.85" transform="rotate(83 267.8 617.5)"/>
<ellipse cx="321.7" cy="631" rx="1.4" ry="1" fill="#5050e8" fill-opacity="0.85" transform="rotate(24 321.7 631)"/>
</g>
<line x1="240.6" y1="675.3" x2="255.8" y2="675.3" stroke="#fff" stroke-width="1.8"/>
<rect x="236.4" y="610.4" width="93.9" height="70.6" fill="none" stroke="#000" stroke-width="1"/>
<rect x="137.6" y="610.4" width="94.7" height="70.6" fill="none" stroke="#000" stroke-width="1"/>
<text x="340" y="583" font-size="13" stroke="#000" stroke-width="0.22">M</text>
<defs><radialGradient id="blot"><stop offset="0" stop-color="#2a2a2a"/><stop offset="0.6" stop-color="#3a3a3a"/><stop offset="1" stop-color="#555" stop-opacity="0"/></radialGradient></defs>
<rect x="341" y="591.6" width="103" height="13.6" fill="#fff" stroke="#000" stroke-width="0.8"/>
<text x="392.5" y="602.6" font-size="13" text-anchor="middle" stroke="#000" stroke-width="0.22">Sca-1<tspan font-size="7.5" dy="-5">−</tspan></text>
<rect x="341" y="610.4" width="103" height="103" fill="#ffffff"/>
<circle cx="347.9" cy="616.9" r="5.4" fill="url(#blot)" fill-opacity="0.98"/>
<circle cx="360.9" cy="616.9" r="5.4" fill="url(#blot)" fill-opacity="0.98"/>
<circle cx="426.1" cy="616.9" r="1.2" fill="url(#blot)" fill-opacity="0.29"/>
<circle cx="439.1" cy="616.9" r="1.8" fill="url(#blot)" fill-opacity="0.69"/>
<circle cx="347.9" cy="629.8" r="5.4" fill="url(#blot)" fill-opacity="0.98"/>
<circle cx="360.9" cy="629.8" r="5.4" fill="url(#blot)" fill-opacity="0.98"/>
<circle cx="426.1" cy="629.8" r="1.2" fill="url(#blot)" fill-opacity="0.29"/>
<circle cx="439.1" cy="629.8" r="1.8" fill="url(#blot)" fill-opacity="0.69"/>
<circle cx="347.9" cy="642.7" r="1.4" fill="url(#blot)" fill-opacity="0.29"/>
<circle cx="360.9" cy="642.7" r="1.8" fill="url(#blot)" fill-opacity="0.69"/>
<circle cx="374" cy="642.7" r="1.2" fill="url(#blot)" fill-opacity="0.23"/>
<circle cx="387" cy="642.7" r="2.8" fill="url(#blot)" fill-opacity="0.92"/>
<circle cx="400" cy="642.7" r="2.1" fill="url(#blot)" fill-opacity="0.80"/>
<circle cx="413" cy="642.7" r="1.2" fill="url(#blot)" fill-opacity="0.23"/>
<circle cx="426.1" cy="642.7" r="1.8" fill="url(#blot)" fill-opacity="0.69"/>
<circle cx="439.1" cy="642.7" r="2.8" fill="url(#blot)" fill-opacity="0.86"/>
<circle cx="347.9" cy="655.6" r="1.4" fill="url(#blot)" fill-opacity="0.29"/>
<circle cx="360.9" cy="655.6" r="1.8" fill="url(#blot)" fill-opacity="0.69"/>
<circle cx="374" cy="655.6" r="1.2" fill="url(#blot)" fill-opacity="0.23"/>
<circle cx="387" cy="655.6" r="2.8" fill="url(#blot)" fill-opacity="0.92"/>
<circle cx="400" cy="655.6" r="2.1" fill="url(#blot)" fill-opacity="0.80"/>
<circle cx="426.1" cy="655.6" r="1.4" fill="url(#blot)" fill-opacity="0.34"/>
<circle cx="439.1" cy="655.6" r="2.8" fill="url(#blot)" fill-opacity="0.86"/>
<circle cx="347.9" cy="668.5" r="2.1" fill="url(#blot)" fill-opacity="0.80"/>
<circle cx="360.9" cy="668.5" r="2" fill="url(#blot)" fill-opacity="0.75"/>
<circle cx="374" cy="668.5" r="1.8" fill="url(#blot)" fill-opacity="0.69"/>
<circle cx="387" cy="668.5" r="3.6" fill="url(#blot)" fill-opacity="0.57"/>
<circle cx="400" cy="668.5" r="4.1" fill="url(#blot)" fill-opacity="0.98"/>
<circle cx="413" cy="668.5" r="2.8" fill="url(#blot)" fill-opacity="0.86"/>
<circle cx="439.1" cy="668.5" r="2.8" fill="url(#blot)" fill-opacity="0.86"/>
<circle cx="347.9" cy="681.4" r="2" fill="url(#blot)" fill-opacity="0.75"/>
<circle cx="360.9" cy="681.4" r="2" fill="url(#blot)" fill-opacity="0.75"/>
<circle cx="374" cy="681.4" r="1.8" fill="url(#blot)" fill-opacity="0.69"/>
<circle cx="387" cy="681.4" r="2" fill="url(#blot)" fill-opacity="0.75"/>
<circle cx="400" cy="681.4" r="2.1" fill="url(#blot)" fill-opacity="0.80"/>
<circle cx="439.1" cy="681.4" r="2.8" fill="url(#blot)" fill-opacity="0.86"/>
<circle cx="347.9" cy="694.3" r="4.9" fill="url(#blot)" fill-opacity="0.98"/>
<circle cx="360.9" cy="694.3" r="1.8" fill="url(#blot)" fill-opacity="0.69"/>
<circle cx="374" cy="694.3" r="1.4" fill="url(#blot)" fill-opacity="0.34"/>
<circle cx="387" cy="694.3" r="2.4" fill="url(#blot)" fill-opacity="0.80"/>
<circle cx="400" cy="694.3" r="1.4" fill="url(#blot)" fill-opacity="0.57"/>
<circle cx="439.1" cy="694.3" r="4.9" fill="url(#blot)" fill-opacity="0.98"/>
<circle cx="347.9" cy="707.2" r="4.9" fill="url(#blot)" fill-opacity="0.98"/>
<circle cx="360.9" cy="707.2" r="1.8" fill="url(#blot)" fill-opacity="0.69"/>
<circle cx="374" cy="707.2" r="1.4" fill="url(#blot)" fill-opacity="0.34"/>
<circle cx="387" cy="707.2" r="2" fill="url(#blot)" fill-opacity="0.75"/>
<circle cx="400" cy="707.2" r="1.4" fill="url(#blot)" fill-opacity="0.57"/>
<circle cx="439.1" cy="707.2" r="4.9" fill="url(#blot)" fill-opacity="0.98"/>
<rect x="341" y="610.4" width="103" height="103" fill="none" stroke="#000" stroke-width="1"/>
<text x="399.5" y="682.8" font-size="13.5" text-anchor="middle" fill="#a3282a" stroke="#a3282a" stroke-width="0.22" font-style="italic">Vegfa</text>
<rect x="448.3" y="591.6" width="104.5" height="13.6" fill="#fff" stroke="#000" stroke-width="0.8"/>
<text x="500.6" y="602.6" font-size="13" text-anchor="middle" stroke="#000" stroke-width="0.22">Sca-1<tspan font-size="7.5" dy="-5">+</tspan></text>
<rect x="448.3" y="610.4" width="104.5" height="103" fill="#fafafa"/>
<circle cx="454.2" cy="615.2" r="4.5" fill="url(#blot)" fill-opacity="0.80"/>
<circle cx="467.9" cy="615.2" r="3.9" fill="url(#blot)" fill-opacity="0.75"/>
<circle cx="536.2" cy="615.2" r="1.2" fill="url(#blot)" fill-opacity="0.29"/>
<circle cx="549.9" cy="615.2" r="1.8" fill="url(#blot)" fill-opacity="0.57"/>
<circle cx="454.2" cy="628.5" r="4.5" fill="url(#blot)" fill-opacity="0.80"/>
<circle cx="467.9" cy="628.5" r="3.9" fill="url(#blot)" fill-opacity="0.75"/>
<circle cx="522.5" cy="628.5" r="1.2" fill="url(#blot)" fill-opacity="0.23"/>
<circle cx="536.2" cy="628.5" r="1.2" fill="url(#blot)" fill-opacity="0.29"/>
<circle cx="549.9" cy="628.5" r="1.8" fill="url(#blot)" fill-opacity="0.57"/>
<circle cx="454.2" cy="641.8" r="1.4" fill="url(#blot)" fill-opacity="0.29"/>
<circle cx="467.9" cy="641.8" r="1.8" fill="url(#blot)" fill-opacity="0.57"/>
<circle cx="495.2" cy="641.8" r="2.7" fill="url(#blot)" fill-opacity="0.86"/>
<circle cx="508.9" cy="641.8" r="2.4" fill="url(#blot)" fill-opacity="0.80"/>
<circle cx="522.5" cy="641.8" r="1.8" fill="url(#blot)" fill-opacity="0.57"/>
<circle cx="536.2" cy="641.8" r="2" fill="url(#blot)" fill-opacity="0.63"/>
<circle cx="549.9" cy="641.8" r="2.2" fill="url(#blot)" fill-opacity="0.75"/>
<circle cx="454.2" cy="655.1" r="1.4" fill="url(#blot)" fill-opacity="0.29"/>
<circle cx="467.9" cy="655.1" r="1.8" fill="url(#blot)" fill-opacity="0.57"/>
<circle cx="495.2" cy="655.1" r="2.5" fill="url(#blot)" fill-opacity="0.80"/>
<circle cx="508.9" cy="655.1" r="2.4" fill="url(#blot)" fill-opacity="0.80"/>
<circle cx="536.2" cy="655.1" r="1.4" fill="url(#blot)" fill-opacity="0.34"/>
<circle cx="549.9" cy="655.1" r="2.4" fill="url(#blot)" fill-opacity="0.75"/>
<circle cx="454.2" cy="668.4" r="2.1" fill="url(#blot)" fill-opacity="0.75"/>
<circle cx="467.9" cy="668.4" r="2.1" fill="url(#blot)" fill-opacity="0.75"/>
<circle cx="481.5" cy="668.4" r="1.7" fill="url(#blot)" fill-opacity="0.57"/>
<circle cx="495.2" cy="668.4" r="3.2" fill="url(#blot)" fill-opacity="0.57"/>
<circle cx="508.9" cy="668.4" r="3.4" fill="url(#blot)" fill-opacity="0.92"/>
<circle cx="522.5" cy="668.4" r="2.4" fill="url(#blot)" fill-opacity="0.80"/>
<circle cx="549.9" cy="668.4" r="2.4" fill="url(#blot)" fill-opacity="0.75"/>
<circle cx="454.2" cy="681.7" r="2" fill="url(#blot)" fill-opacity="0.69"/>
<circle cx="467.9" cy="681.7" r="2" fill="url(#blot)" fill-opacity="0.69"/>
<circle cx="481.5" cy="681.7" r="1.7" fill="url(#blot)" fill-opacity="0.57"/>
<circle cx="495.2" cy="681.7" r="2" fill="url(#blot)" fill-opacity="0.69"/>
<circle cx="508.9" cy="681.7" r="2" fill="url(#blot)" fill-opacity="0.69"/>
<circle cx="549.9" cy="681.7" r="2.4" fill="url(#blot)" fill-opacity="0.75"/>
<circle cx="454.2" cy="695" r="4.5" fill="url(#blot)" fill-opacity="0.92"/>
<circle cx="467.9" cy="695" r="1.8" fill="url(#blot)" fill-opacity="0.63"/>
<circle cx="481.5" cy="695" r="1.4" fill="url(#blot)" fill-opacity="0.34"/>
<circle cx="495.2" cy="695" r="2.1" fill="url(#blot)" fill-opacity="0.75"/>
<circle cx="508.9" cy="695" r="2.4" fill="url(#blot)" fill-opacity="0.86"/>
<circle cx="549.9" cy="695" r="3.9" fill="url(#blot)" fill-opacity="0.92"/>
<circle cx="454.2" cy="708.3" r="4.5" fill="url(#blot)" fill-opacity="0.92"/>
<circle cx="467.9" cy="708.3" r="1.8" fill="url(#blot)" fill-opacity="0.63"/>
<circle cx="481.5" cy="708.3" r="1.4" fill="url(#blot)" fill-opacity="0.34"/>
<circle cx="495.2" cy="708.3" r="2" fill="url(#blot)" fill-opacity="0.69"/>
<circle cx="508.9" cy="708.3" r="2.2" fill="url(#blot)" fill-opacity="0.80"/>
<circle cx="549.9" cy="708.3" r="4.2" fill="url(#blot)" fill-opacity="0.92"/>
<rect x="448.3" y="610.4" width="104.5" height="103" fill="none" stroke="#000" stroke-width="1"/>
<text x="506.8" y="682.8" font-size="13.5" text-anchor="middle" fill="#a3282a" stroke="#a3282a" stroke-width="0.22" font-style="italic">Vegfa</text>
<rect x="395.5" y="687.7" width="9" height="23.7" fill="none" stroke="#a3282a" stroke-width="1"/>
<rect x="504" y="687.7" width="9.3" height="23.7" fill="none" stroke="#a3282a" stroke-width="1"/>
<text x="561.6" y="581.8" font-size="13" stroke="#000" stroke-width="0.22">N</text>
<rect x="594.8" y="583.8" width="107.7" height="106.1" fill="#fff" stroke="#777" stroke-width="0.9"/>
<line x1="594.8" y1="583.8" x2="594.8" y2="689.9" stroke="#222" stroke-width="1"/>
<line x1="594.8" y1="689.9" x2="702.5" y2="689.9" stroke="#222" stroke-width="1"/>
<line x1="592.3" y1="584.4" x2="594.8" y2="584.4" stroke="#333" stroke-width="0.8"/>
<text x="590.2" y="588.9" font-size="13" text-anchor="end" stroke="#000" stroke-width="0.22">60</text>
<line x1="592.3" y1="619.6" x2="594.8" y2="619.6" stroke="#333" stroke-width="0.8"/>
<text x="590.2" y="624.1" font-size="13" text-anchor="end" stroke="#000" stroke-width="0.22">40</text>
<line x1="592.3" y1="654.4" x2="594.8" y2="654.4" stroke="#333" stroke-width="0.8"/>
<text x="590.2" y="658.9" font-size="13" text-anchor="end" stroke="#000" stroke-width="0.22">20</text>
<line x1="592.3" y1="689.4" x2="594.8" y2="689.4" stroke="#333" stroke-width="0.8"/>
<text x="590.2" y="693.9" font-size="13" text-anchor="end" stroke="#000" stroke-width="0.22">0</text>
<line x1="599.5" y1="689.9" x2="599.5" y2="692.4" stroke="#333" stroke-width="0.7"/>
<line x1="620" y1="689.9" x2="620" y2="692.4" stroke="#333" stroke-width="0.7"/>
<line x1="639.7" y1="689.9" x2="639.7" y2="692.4" stroke="#333" stroke-width="0.7"/>
<line x1="667.2" y1="689.9" x2="667.2" y2="692.4" stroke="#333" stroke-width="0.7"/>
<line x1="692.5" y1="689.9" x2="692.5" y2="692.4" stroke="#333" stroke-width="0.7"/>
<line x1="603" y1="689.9" x2="603" y2="691.2" stroke="#555" stroke-width="0.5"/>
<line x1="606" y1="689.9" x2="606" y2="691.2" stroke="#555" stroke-width="0.5"/>
<line x1="609" y1="689.9" x2="609" y2="691.2" stroke="#555" stroke-width="0.5"/>
<line x1="612" y1="689.9" x2="612" y2="691.2" stroke="#555" stroke-width="0.5"/>
<line x1="615" y1="689.9" x2="615" y2="691.2" stroke="#555" stroke-width="0.5"/>
<line x1="624" y1="689.9" x2="624" y2="691.2" stroke="#555" stroke-width="0.5"/>
<line x1="627" y1="689.9" x2="627" y2="691.2" stroke="#555" stroke-width="0.5"/>
<line x1="630" y1="689.9" x2="630" y2="691.2" stroke="#555" stroke-width="0.5"/>
<line x1="633" y1="689.9" x2="633" y2="691.2" stroke="#555" stroke-width="0.5"/>
<line x1="636" y1="689.9" x2="636" y2="691.2" stroke="#555" stroke-width="0.5"/>
<line x1="645" y1="689.9" x2="645" y2="691.2" stroke="#555" stroke-width="0.5"/>
<line x1="650" y1="689.9" x2="650" y2="691.2" stroke="#555" stroke-width="0.5"/>
<line x1="655" y1="689.9" x2="655" y2="691.2" stroke="#555" stroke-width="0.5"/>
<line x1="660" y1="689.9" x2="660" y2="691.2" stroke="#555" stroke-width="0.5"/>
<line x1="672" y1="689.9" x2="672" y2="691.2" stroke="#555" stroke-width="0.5"/>
<line x1="677" y1="689.9" x2="677" y2="691.2" stroke="#555" stroke-width="0.5"/>
<line x1="682" y1="689.9" x2="682" y2="691.2" stroke="#555" stroke-width="0.5"/>
<line x1="687" y1="689.9" x2="687" y2="691.2" stroke="#555" stroke-width="0.5"/>
<line x1="697" y1="689.9" x2="697" y2="691.2" stroke="#555" stroke-width="0.5"/>
<text x="598.6" y="706.8" font-size="12" text-anchor="middle" stroke="#000" stroke-width="0.22">−10<tspan font-size="8" dy="-5">3</tspan></text>
<text x="619.3" y="706.8" font-size="12" text-anchor="middle" stroke="#000" stroke-width="0.22">0</text>
<text x="638.6" y="706.8" font-size="12" text-anchor="middle" stroke="#000" stroke-width="0.22">10<tspan font-size="8" dy="-5">3</tspan></text>
<text x="667.8" y="706.8" font-size="12" text-anchor="middle" stroke="#000" stroke-width="0.22">10<tspan font-size="8" dy="-5">4</tspan></text>
<text x="692.2" y="706.8" font-size="12" text-anchor="middle" stroke="#000" stroke-width="0.22">10<tspan font-size="8" dy="-5">5</tspan></text>
<text x="645.7" y="721.8" font-size="13" text-anchor="middle" stroke="#000" stroke-width="0.22">Flt1</text>
<text x="572" y="638.9" font-size="13" text-anchor="middle" stroke="#000" stroke-width="0.22" transform="rotate(-90 572 638.9)">Count</text>
<path d="M631.5 689.4L633.2 650L635.3 606L636.5 615L638.1 637.1L640.9 661.6L644.7 674.8L648.5 681.3L652.2 685.1L654.5 683L656 681.9L658.8 683.2L662.6 684.2L665.4 685.7L671 687.9L678.6 689.2L686 689.5" fill="none" stroke="#8a8a8a" stroke-width="0.7"/>
<path d="M632.5 689.4L633.8 654L634.9 641.8L636.2 646.5L638.1 663.5L640.9 678.5L644.7 686L648.5 688.3L654.1 689.4" fill="none" stroke="#7a2020" stroke-width="0.9"/>
<rect x="749.7" y="626.5" width="13.7" height="61.9" fill="#fff" stroke="#777" stroke-width="0.9"/>
<rect x="770" y="653.7" width="13.7" height="34.7" fill="#fff" stroke="#a0282a" stroke-width="0.9"/>
<line x1="777.3" y1="653.7" x2="777.3" y2="643.5" stroke="#a0282a" stroke-width="0.9"/>
<line x1="774.8" y1="643.5" x2="779.8" y2="643.5" stroke="#a0282a" stroke-width="0.9"/>
<circle cx="751.5" cy="626.5" r="1.1" fill="#888"/>
<circle cx="754.5" cy="626.5" r="1.1" fill="#888"/>
<circle cx="757.5" cy="626.5" r="1.1" fill="#888"/>
<circle cx="760.5" cy="626.5" r="1.1" fill="#888"/>
<circle cx="775" cy="643.5" r="1" fill="#777"/>
<circle cx="778.2" cy="646.4" r="1" fill="#fff" stroke="#777" stroke-width="0.5"/>
<circle cx="775.5" cy="662.1" r="1" fill="#fff" stroke="#777" stroke-width="0.5"/>
<circle cx="778.8" cy="662.1" r="1" fill="#fff" stroke="#777" stroke-width="0.5"/>
<text x="777" y="640.7" font-size="10" text-anchor="middle" stroke="#000" stroke-width="0.22" font-weight="bold">**</text>
<rect x="743.6" y="594.2" width="47.3" height="94.5" fill="none" stroke="#000" stroke-width="1"/>
<line x1="741.1" y1="688.4" x2="743.6" y2="688.4" stroke="#000" stroke-width="0.8"/>
<text x="741.8" y="693" font-size="13" text-anchor="end" stroke="#000" stroke-width="0.22">0</text>
<line x1="741.1" y1="657.4" x2="743.6" y2="657.4" stroke="#000" stroke-width="0.8"/>
<text x="741.8" y="662" font-size="13" text-anchor="end" stroke="#000" stroke-width="0.22">50</text>
<line x1="741.1" y1="626.5" x2="743.6" y2="626.5" stroke="#000" stroke-width="0.8"/>
<text x="741.8" y="631.1" font-size="13" text-anchor="end" stroke="#000" stroke-width="0.22">100</text>
<line x1="741.1" y1="595.5" x2="743.6" y2="595.5" stroke="#000" stroke-width="0.8"/>
<text x="741.8" y="600.1" font-size="13" text-anchor="end" stroke="#000" stroke-width="0.22">150</text>
<text x="717" y="641.3" font-size="13" text-anchor="middle" stroke="#000" stroke-width="0.22" transform="rotate(-90 717 641.3)">Expression (%)</text>
<text x="763.5" y="699" font-size="12.5" text-anchor="end" stroke="#000" stroke-width="0.22" transform="rotate(-45 763.5 699)">Sca-1<tspan font-size="7.5" dy="-5">−</tspan></text>
<text x="785" y="699" font-size="12.5" text-anchor="end" stroke="#000" stroke-width="0.22" transform="rotate(-45 785 699)">Sca-1<tspan font-size="7.5" dy="-5">+</tspan></text>
<defs><filter id="noiseO" x="0" y="0" width="100%" height="100%"><feTurbulence type="fractalNoise" baseFrequency="0.9" numOctaves="2" seed="3"/><feColorMatrix type="matrix" values="0 0 0 0 0  0 0 0 0 0  0 0 0 0 0  0 0 0 -1.2 0.75"/></filter><filter id="noiseP" x="0" y="0" width="100%" height="100%"><feTurbulence type="fractalNoise" baseFrequency="0.05" numOctaves="3" seed="8"/><feColorMatrix type="matrix" values="0 0 0 0 0  0 0 0 0 0  0 0 0 0 0  0 0 0 -1.6 1.0"/></filter></defs>
<text x="117.8" y="742.4" font-size="13" stroke="#000" stroke-width="0.22">O</text>
<text x="428" y="747.5" font-size="13" text-anchor="middle" stroke="#000" stroke-width="0.22">Sca-1<tspan font-size="7.5" dy="-5">+</tspan><tspan dy="5"> CM</tspan></text>
<line x1="236.4" y1="751.3" x2="628.8" y2="751.3" stroke="#000" stroke-width="1.6"/>
<text x="182.6" y="765.9" font-size="13" text-anchor="middle" stroke="#000" stroke-width="0.22">Control</text>
<text x="284.2" y="765.9" font-size="13" text-anchor="middle" stroke="#000" stroke-width="0.22">–</text>
<text x="382.3" y="765.9" font-size="13" text-anchor="middle" stroke="#000" stroke-width="0.22">ZM306416</text>
<text x="477" y="765.9" font-size="13" text-anchor="middle" stroke="#000" stroke-width="0.22">siCtrl</text>
<text x="582.5" y="765.9" font-size="13" text-anchor="middle" stroke="#000" stroke-width="0.22">siVegfa</text>
<rect x="118.3" y="770.2" width="14.6" height="70.6" fill="#fff" stroke="#000" stroke-width="0.8"/>
<text x="129.8" y="805.5" font-size="13" text-anchor="middle" stroke="#000" stroke-width="0.22" transform="rotate(-90 129.8 805.5)">Sca-1<tspan font-size="7.5" dy="-5">−</tspan><tspan dy="5"> cells</tspan></text>
<rect x="137.1" y="770.2" width="94.6" height="70.6" fill="#b6b6b6"/>
<rect x="137.1" y="770.2" width="94.6" height="70.6" fill="#000" filter="url(#noiseO)" opacity="0.14"/>
<path transform="scale(.5)" d="M443 1547h0m-18 4h0m-81-3h0m-52 8h0m106 3h0m48-2h0m-9 8h0m-113-1h0m-26 9h0m38-3h0m13 0h0m65 5h0m37-3h0m1 11h0m-17-7h0m-22 2h0m-19-1h0m-11 4h0m-8-1h0m-67 4h0m61 3h0m25-1h0m16 0h0m34 1h0m-47 11h0m-8-5h0m-15-1h0m-41 0h0m-50 4h0m-2-2h0m60 13h0m69 2h0m-25 4h0m-6 0h0m-30-4h0m-11 12h0m41-3h0m27 1h0m7 1h0m18-4h0m16 2h0m5 5h0m-124 6h0m-15-4h0m-11 7h0m78 4h0m37 2h0m42 7h0m-108-3h0m-63 3h0m-8 0h0m9 8h0m15 0h0m23-4h0m19-1h0m27 4h0m45 4h0m-42 6h0m-21 1h0m-62 7h0m45-5h0m86 2h0m2 0h0m6 3h0m-53 2h0m-15 5h0m-5-4h0m-8 4h0m-9-5h0m-50 4h0" stroke="#707070" stroke-width="1.8" stroke-linecap="round" stroke-opacity="0.7"/>
<circle cx="186.5" cy="785.6" r="1.3" fill="#ececec" stroke="#505050" stroke-width="0.55"/>
<circle cx="207.9" cy="802.2" r="1.2" fill="#ececec" stroke="#505050" stroke-width="0.55"/>
<circle cx="187.6" cy="803.9" r="0.9" fill="#ececec" stroke="#505050" stroke-width="0.55"/>
<circle cx="189.1" cy="805.7" r="0.6" fill="#444"/>
<circle cx="181.5" cy="821.8" r="1" fill="#ececec" stroke="#505050" stroke-width="0.55"/>
<circle cx="181.6" cy="823.5" r="0.6" fill="#444"/>
<circle cx="142.5" cy="803.7" r="1.5" fill="#ececec" stroke="#505050" stroke-width="0.55"/>
<circle cx="228.1" cy="779.6" r="1.5" fill="#ececec" stroke="#505050" stroke-width="0.55"/>
<circle cx="142.4" cy="807.9" r="1.4" fill="#ececec" stroke="#505050" stroke-width="0.55"/>
<circle cx="142.9" cy="809.7" r="0.6" fill="#444"/>
<circle cx="210.4" cy="800.9" r="0.9" fill="#ececec" stroke="#505050" stroke-width="0.55"/>
<circle cx="156.8" cy="808" r="1.1" fill="#ececec" stroke="#505050" stroke-width="0.55"/>
<circle cx="156.9" cy="809.8" r="0.6" fill="#444"/>
<circle cx="226.5" cy="799.4" r="0.9" fill="#ececec" stroke="#505050" stroke-width="0.55"/>
<circle cx="170.2" cy="822.1" r="1.5" fill="#ececec" stroke="#505050" stroke-width="0.55"/>
<circle cx="170.9" cy="823.4" r="0.6" fill="#444"/>
<circle cx="168.6" cy="794.8" r="1.3" fill="#ececec" stroke="#505050" stroke-width="0.55"/>
<circle cx="168.6" cy="796.1" r="0.6" fill="#444"/>
<circle cx="151.1" cy="789.3" r="1.4" fill="#ececec" stroke="#505050" stroke-width="0.55"/>
<circle cx="150.2" cy="790.7" r="0.6" fill="#444"/>
<circle cx="159" cy="836.8" r="1.5" fill="#ececec" stroke="#505050" stroke-width="0.55"/>
<circle cx="158.4" cy="838.2" r="0.6" fill="#444"/>
<circle cx="186.9" cy="798.3" r="1.3" fill="#ececec" stroke="#505050" stroke-width="0.55"/>
<circle cx="153.8" cy="809.3" r="1" fill="#ececec" stroke="#505050" stroke-width="0.55"/>
<circle cx="168.2" cy="825.1" r="1.5" fill="#ececec" stroke="#505050" stroke-width="0.55"/>
<circle cx="176.2" cy="813" r="1" fill="#ececec" stroke="#505050" stroke-width="0.55"/>
<circle cx="209" cy="800.8" r="1.1" fill="#ececec" stroke="#505050" stroke-width="0.55"/>
<circle cx="206.6" cy="824.8" r="1.1" fill="#ececec" stroke="#505050" stroke-width="0.55"/>
<circle cx="205.8" cy="826" r="0.6" fill="#444"/>
<circle cx="140.7" cy="781.1" r="1.2" fill="#ececec" stroke="#505050" stroke-width="0.55"/>
<circle cx="218.9" cy="797.6" r="1" fill="#ececec" stroke="#505050" stroke-width="0.55"/>
<circle cx="146.6" cy="795.1" r="1.4" fill="#ececec" stroke="#505050" stroke-width="0.55"/>
<circle cx="147.9" cy="796.9" r="0.6" fill="#444"/>
<circle cx="167.4" cy="829" r="1.5" fill="#ececec" stroke="#505050" stroke-width="0.55"/>
<circle cx="152.8" cy="779.9" r="1.5" fill="#ececec" stroke="#505050" stroke-width="0.55"/>
<circle cx="198" cy="823.2" r="1.5" fill="#ececec" stroke="#505050" stroke-width="0.55"/>
<circle cx="197.2" cy="825.1" r="0.6" fill="#444"/>
<circle cx="214.5" cy="801.4" r="1.1" fill="#ececec" stroke="#505050" stroke-width="0.55"/>
<circle cx="214.2" cy="803.3" r="0.6" fill="#444"/>
<circle cx="158.1" cy="793.6" r="0.9" fill="#ececec" stroke="#505050" stroke-width="0.55"/>
<circle cx="145.4" cy="816.8" r="1.2" fill="#ececec" stroke="#505050" stroke-width="0.55"/>
<circle cx="163.1" cy="792.7" r="1.5" fill="#ececec" stroke="#505050" stroke-width="0.55"/>
<rect x="137.1" y="770.2" width="94.6" height="70.6" fill="none" stroke="#222" stroke-width="1"/>
<text x="140.9" y="786.5" font-size="14.5" stroke="#000" stroke-width="0.22">a</text>
<line x1="142.6" y1="836.3" x2="157.8" y2="836.3" stroke="#000" stroke-width="1.8"/>
<rect x="236.8" y="770.2" width="94.6" height="70.6" fill="#b6b6b6"/>
<rect x="236.8" y="770.2" width="94.6" height="70.6" fill="#000" filter="url(#noiseO)" opacity="0.14"/>
<path transform="scale(.5)" d="M655 1545h0m-4 5h0m-2-4h0m-111 1h0m-2 3h0m-38-2h0m-4-3h0m-15 6h0m0-6h0m18 12h0m19 1h0m31-6h0m2 7h0m67-5h0m19 3h0m-11 3h0m-12 4h0m-40 0h0m-21-2h0m-37-1h0m67 10h0m35 8h0m-11 2h0m-55 1h0m-4-3h0m18 9h0m0-2h0m11 1h0m19-2h0m1-1h0m33 12h0m-131-2h0m18 8h0m16-2h0m40 0h0m44 10h0m-94 1h0m-6 4h0m-12-3h0m-20 4h0m3 3h0m50 4h0m89 4h0m-78-1h0m-33 13h0m11 0h0m22-7h0m37 0h0m1 1h0m40 0h0m3-1h0m22 15h0m-4-6h0m-85 5h0m-68 7h0m16-4h0m4 3h0m50-2h0m17-2h0m6 6h0m25 6h0m-50 1h0m-75 1h0m20 6h0m68-1h0m7 0h0m8-3h0m19 3h0m-16 10h0m-66 0h0" stroke="#707070" stroke-width="1.8" stroke-linecap="round" stroke-opacity="0.7"/>
<circle cx="293.5" cy="834.7" r="1.1" fill="#ececec" stroke="#505050" stroke-width="0.55"/>
<circle cx="325" cy="818.4" r="1.1" fill="#ececec" stroke="#505050" stroke-width="0.55"/>
<circle cx="279.4" cy="779" r="1" fill="#ececec" stroke="#505050" stroke-width="0.55"/>
<circle cx="267.4" cy="790" r="1.4" fill="#ececec" stroke="#505050" stroke-width="0.55"/>
<circle cx="267.2" cy="791.5" r="0.6" fill="#444"/>
<circle cx="240.5" cy="825.1" r="1.1" fill="#ececec" stroke="#505050" stroke-width="0.55"/>
<circle cx="240.5" cy="826.4" r="0.6" fill="#444"/>
<circle cx="242.7" cy="780.5" r="0.9" fill="#ececec" stroke="#505050" stroke-width="0.55"/>
<circle cx="242.1" cy="781.8" r="0.6" fill="#444"/>
<circle cx="255.3" cy="827.8" r="1.3" fill="#ececec" stroke="#505050" stroke-width="0.55"/>
<circle cx="240.6" cy="832.8" r="0.9" fill="#ececec" stroke="#505050" stroke-width="0.55"/>
<circle cx="297.7" cy="799.7" r="1.1" fill="#ececec" stroke="#505050" stroke-width="0.55"/>
<circle cx="291.3" cy="827.6" r="0.9" fill="#ececec" stroke="#505050" stroke-width="0.55"/>
<circle cx="291.7" cy="828.9" r="0.6" fill="#444"/>
<circle cx="291.2" cy="797.9" r="0.9" fill="#ececec" stroke="#505050" stroke-width="0.55"/>
<circle cx="256.4" cy="794.7" r="1.4" fill="#ececec" stroke="#505050" stroke-width="0.55"/>
<circle cx="315.7" cy="833.3" r="1.1" fill="#ececec" stroke="#505050" stroke-width="0.55"/>
<circle cx="315.6" cy="835.1" r="0.6" fill="#444"/>
<circle cx="297.3" cy="813.6" r="1.4" fill="#ececec" stroke="#505050" stroke-width="0.55"/>
<circle cx="297.5" cy="815" r="0.6" fill="#444"/>
<circle cx="317.8" cy="793.2" r="1.3" fill="#ececec" stroke="#505050" stroke-width="0.55"/>
<circle cx="302.3" cy="824" r="1.4" fill="#ececec" stroke="#505050" stroke-width="0.55"/>
<circle cx="303.7" cy="825.1" r="0.6" fill="#444"/>
<circle cx="304.6" cy="792.8" r="1" fill="#ececec" stroke="#505050" stroke-width="0.55"/>
<circle cx="303.5" cy="794" r="0.6" fill="#444"/>
<circle cx="325.5" cy="825.7" r="1.2" fill="#ececec" stroke="#505050" stroke-width="0.55"/>
<circle cx="292.8" cy="793.7" r="1" fill="#ececec" stroke="#505050" stroke-width="0.55"/>
<circle cx="314.7" cy="835.2" r="1.3" fill="#ececec" stroke="#505050" stroke-width="0.55"/>
<circle cx="276.9" cy="824" r="1.5" fill="#ececec" stroke="#505050" stroke-width="0.55"/>
<circle cx="256.9" cy="807.1" r="1" fill="#ececec" stroke="#505050" stroke-width="0.55"/>
<circle cx="281.7" cy="811.4" r="1.3" fill="#ececec" stroke="#505050" stroke-width="0.55"/>
<circle cx="280.6" cy="812.7" r="0.6" fill="#444"/>
<circle cx="308.9" cy="791" r="1.6" fill="#ececec" stroke="#505050" stroke-width="0.55"/>
<circle cx="263.2" cy="802.4" r="1.5" fill="#ececec" stroke="#505050" stroke-width="0.55"/>
<circle cx="264" cy="803.8" r="0.6" fill="#444"/>
<circle cx="299.6" cy="773.8" r="1.4" fill="#ececec" stroke="#505050" stroke-width="0.55"/>
<circle cx="299" cy="775.4" r="0.6" fill="#444"/>
<circle cx="296" cy="796.6" r="1.1" fill="#ececec" stroke="#505050" stroke-width="0.55"/>
<circle cx="295.4" cy="797.8" r="0.6" fill="#444"/>
<circle cx="261.7" cy="805.3" r="1.4" fill="#ececec" stroke="#505050" stroke-width="0.55"/>
<circle cx="274.7" cy="834.2" r="1.1" fill="#ececec" stroke="#505050" stroke-width="0.55"/>
<circle cx="311.9" cy="821.8" r="1.5" fill="#ececec" stroke="#505050" stroke-width="0.55"/>
<path d="M302.7 788.4L299.8 787.3L303.5 790.8L300.8 791.9" fill="none" stroke="#e4e4e4" stroke-width="2.2" stroke-opacity="0.8" stroke-linejoin="round"/>
<path d="M302.7 788.4L299.8 787.3L303.5 790.8L300.8 791.9" fill="none" stroke="#3a3a3a" stroke-width="0.7" stroke-linejoin="round"/>
<path d="M274 802.4L271 804.2L273.8 807.7L273.7 807.2" fill="none" stroke="#e4e4e4" stroke-width="2.2" stroke-opacity="0.8" stroke-linejoin="round"/>
<path d="M274 802.4L271 804.2L273.8 807.7L273.7 807.2" fill="none" stroke="#3a3a3a" stroke-width="0.7" stroke-linejoin="round"/>
<path d="M294.6 783.6L298.3 785.8L295.6 785L295.5 787.8" fill="none" stroke="#e4e4e4" stroke-width="2.2" stroke-opacity="0.8" stroke-linejoin="round"/>
<path d="M294.6 783.6L298.3 785.8L295.6 785L295.5 787.8" fill="none" stroke="#3a3a3a" stroke-width="0.7" stroke-linejoin="round"/>
<path d="M298.1 789.9L302.7 793.3L306.2 793.3L306 792.5" fill="none" stroke="#e4e4e4" stroke-width="2.2" stroke-opacity="0.8" stroke-linejoin="round"/>
<path d="M298.1 789.9L302.7 793.3L306.2 793.3L306 792.5" fill="none" stroke="#3a3a3a" stroke-width="0.7" stroke-linejoin="round"/>
<path d="M320.1 803.9L324.7 801.4L320 801.2L317 799.2" fill="none" stroke="#e4e4e4" stroke-width="2.2" stroke-opacity="0.8" stroke-linejoin="round"/>
<path d="M320.1 803.9L324.7 801.4L320 801.2L317 799.2" fill="none" stroke="#3a3a3a" stroke-width="0.7" stroke-linejoin="round"/>
<path d="M247.6 783.2L247 779.9L244.9 780.8L242.5 779.3" fill="none" stroke="#e4e4e4" stroke-width="2.2" stroke-opacity="0.8" stroke-linejoin="round"/>
<path d="M247.6 783.2L247 779.9L244.9 780.8L242.5 779.3" fill="none" stroke="#3a3a3a" stroke-width="0.7" stroke-linejoin="round"/>
<rect x="236.8" y="770.2" width="94.6" height="70.6" fill="none" stroke="#222" stroke-width="1"/>
<text x="240.6" y="786.5" font-size="14.5" stroke="#000" stroke-width="0.22">b</text>
<line x1="242.3" y1="836.3" x2="257.5" y2="836.3" stroke="#000" stroke-width="1.8"/>
<rect x="336.5" y="770.2" width="94.6" height="70.6" fill="#b6b6b6"/>
<rect x="336.5" y="770.2" width="94.6" height="70.6" fill="#000" filter="url(#noiseO)" opacity="0.14"/>
<path transform="scale(.5)" d="M845 1548h0m-42-3h0m-37-1h0m8 8h0m27 6h0m38-1h0m12 7h0m-6 0h0m-33-4h0m-21 6h0m-75-1h0m6 5h0m9 0h0m6 1h0m7 0h0m7 0h0m28 2h0m46-3h0m24 7h0m-6 5h0m-6-1h0m-116 0h0m-5-2h0m-32 1h0m-2 8h0m98 2h0m15-5h0m49 1h0m-59 10h0m-36 2h0m-70 3h0m22 3h0m153 2h0m-40 4h0m-102 5h0m-10 0h0m-3-2h0m-6-4h0m14 9h0m24 0h0m19-1h0m19 3h0m4-4h0m19 2h0m18 0h0m-86 11h0m-37 7h0m57 2h0m15 2h0m-66 7h0m21 3h0m3-2h0m84 1h0m0 10h0m-31 4h0m-28-1h0m-16-2h0m-19 0h0m15 9h0m22-4h0m3 4h0m23-3h0m0 4h0m78-1h0m3 1h0m-5 6h0m-9-1h0m-98-3h0m-5 1h0m-9 0h0" stroke="#707070" stroke-width="1.8" stroke-linecap="round" stroke-opacity="0.7"/>
<circle cx="390.7" cy="813.9" r="1.5" fill="#ececec" stroke="#505050" stroke-width="0.55"/>
<circle cx="368.2" cy="800.4" r="1.1" fill="#ececec" stroke="#505050" stroke-width="0.55"/>
<circle cx="367.7" cy="802.1" r="0.6" fill="#444"/>
<circle cx="377.7" cy="776.8" r="1.5" fill="#ececec" stroke="#505050" stroke-width="0.55"/>
<circle cx="420.7" cy="810.3" r="1.1" fill="#ececec" stroke="#505050" stroke-width="0.55"/>
<circle cx="401.5" cy="810.6" r="1.3" fill="#ececec" stroke="#505050" stroke-width="0.55"/>
<circle cx="400.9" cy="811.6" r="0.6" fill="#444"/>
<circle cx="378" cy="806.1" r="1" fill="#ececec" stroke="#505050" stroke-width="0.55"/>
<circle cx="420.5" cy="794.2" r="1" fill="#ececec" stroke="#505050" stroke-width="0.55"/>
<circle cx="420.9" cy="795.9" r="0.6" fill="#444"/>
<circle cx="377.5" cy="823.9" r="1.1" fill="#ececec" stroke="#505050" stroke-width="0.55"/>
<circle cx="376.7" cy="824.9" r="0.6" fill="#444"/>
<circle cx="340.1" cy="830.5" r="1" fill="#ececec" stroke="#505050" stroke-width="0.55"/>
<circle cx="340.6" cy="831.8" r="0.6" fill="#444"/>
<circle cx="387.3" cy="775.2" r="0.9" fill="#ececec" stroke="#505050" stroke-width="0.55"/>
<circle cx="424" cy="784.5" r="1" fill="#ececec" stroke="#505050" stroke-width="0.55"/>
<circle cx="406.3" cy="806.4" r="1.4" fill="#ececec" stroke="#505050" stroke-width="0.55"/>
<circle cx="405.5" cy="807.7" r="0.6" fill="#444"/>
<circle cx="364.2" cy="810.2" r="1.4" fill="#ececec" stroke="#505050" stroke-width="0.55"/>
<circle cx="398.2" cy="785.5" r="1.4" fill="#ececec" stroke="#505050" stroke-width="0.55"/>
<circle cx="397.1" cy="786.9" r="0.6" fill="#444"/>
<circle cx="427.6" cy="799.4" r="1.4" fill="#ececec" stroke="#505050" stroke-width="0.55"/>
<circle cx="395.8" cy="784.3" r="1.4" fill="#ececec" stroke="#505050" stroke-width="0.55"/>
<circle cx="363.6" cy="781" r="0.9" fill="#ececec" stroke="#505050" stroke-width="0.55"/>
<circle cx="420.7" cy="774.4" r="1.2" fill="#ececec" stroke="#505050" stroke-width="0.55"/>
<circle cx="415.2" cy="822.8" r="1" fill="#ececec" stroke="#505050" stroke-width="0.55"/>
<circle cx="413.9" cy="824.2" r="0.6" fill="#444"/>
<circle cx="405.5" cy="790.1" r="1.6" fill="#ececec" stroke="#505050" stroke-width="0.55"/>
<circle cx="405.4" cy="791.6" r="0.6" fill="#444"/>
<circle cx="385.7" cy="819.3" r="1.3" fill="#ececec" stroke="#505050" stroke-width="0.55"/>
<circle cx="391" cy="835" r="1.5" fill="#ececec" stroke="#505050" stroke-width="0.55"/>
<circle cx="423" cy="815.4" r="1.2" fill="#ececec" stroke="#505050" stroke-width="0.55"/>
<circle cx="422.2" cy="816.9" r="0.6" fill="#444"/>
<circle cx="406.8" cy="804.2" r="0.9" fill="#ececec" stroke="#505050" stroke-width="0.55"/>
<circle cx="406.9" cy="805.3" r="0.6" fill="#444"/>
<circle cx="418.2" cy="793" r="1" fill="#ececec" stroke="#505050" stroke-width="0.55"/>
<circle cx="380.3" cy="786.7" r="1" fill="#ececec" stroke="#505050" stroke-width="0.55"/>
<circle cx="422.5" cy="793.6" r="1.2" fill="#ececec" stroke="#505050" stroke-width="0.55"/>
<circle cx="396.8" cy="823.3" r="0.9" fill="#ececec" stroke="#505050" stroke-width="0.55"/>
<circle cx="427.1" cy="798" r="1.5" fill="#ececec" stroke="#505050" stroke-width="0.55"/>
<circle cx="426.4" cy="800" r="0.6" fill="#444"/>
<circle cx="359.2" cy="797.7" r="1.1" fill="#ececec" stroke="#505050" stroke-width="0.55"/>
<circle cx="360.4" cy="798.8" r="0.6" fill="#444"/>
<rect x="336.5" y="770.2" width="94.6" height="70.6" fill="none" stroke="#222" stroke-width="1"/>
<text x="340.3" y="786.5" font-size="14.5" stroke="#000" stroke-width="0.22">c</text>
<line x1="342" y1="836.3" x2="357.2" y2="836.3" stroke="#000" stroke-width="1.8"/>
<rect x="434.9" y="770.2" width="94.6" height="70.6" fill="#b6b6b6"/>
<rect x="434.9" y="770.2" width="94.6" height="70.6" fill="#000" filter="url(#noiseO)" opacity="0.14"/>
<path transform="scale(.5)" d="M1050 1547h0m-158 11h0m143-4h0m18 12h0m-6-2h0m-52 3h0m-14-5h0m-32-1h0m-12 6h0m-62-1h0m14 6h0m78 3h0m82 5h0m-29 3h0m-74-1h0m-12-6h0m-20 13h0m38-3h0m29-1h0m13 0h0m18 0h0m23 12h0m-10-3h0m-46 3h0m-8 2h0m-95 7h0m11-1h0m23-5h0m3 6h0m35 0h0m105-3h0m-7 9h0m-3-2h0m-78 0h0m-39-2h0m-5 7h0m0 8h0m61-5h0m35 5h0m33-7h0m-14 12h0m-113 5h0m0 0h0m38-1h0m42 4h0m47 5h0m-2 3h0m-104 3h0m-18-5h0m-49 12h0m11-3h0m1 0h0m6 2h0m43-4h0m72-1h0m23 12h0m-52-1h0m-28 2h0m-39-1h0m-11 8h0m12 2h0m6 0h0m8-6h0m12 2h0m7 1h0m97 4h0m-9 5h0m-16-3h0m-19 3h0m-42-2h0" stroke="#707070" stroke-width="1.8" stroke-linecap="round" stroke-opacity="0.7"/>
<circle cx="474.6" cy="800.6" r="1.4" fill="#ececec" stroke="#505050" stroke-width="0.55"/>
<circle cx="474.8" cy="802.3" r="0.6" fill="#444"/>
<circle cx="502.2" cy="777.4" r="1.1" fill="#ececec" stroke="#505050" stroke-width="0.55"/>
<circle cx="502" cy="779" r="0.6" fill="#444"/>
<circle cx="484.5" cy="796.9" r="1.2" fill="#ececec" stroke="#505050" stroke-width="0.55"/>
<circle cx="523" cy="821.8" r="1.1" fill="#ececec" stroke="#505050" stroke-width="0.55"/>
<circle cx="523.4" cy="822.8" r="0.6" fill="#444"/>
<circle cx="458.3" cy="780.5" r="1.1" fill="#ececec" stroke="#505050" stroke-width="0.55"/>
<circle cx="457" cy="782.4" r="0.6" fill="#444"/>
<circle cx="517.8" cy="774.2" r="1.5" fill="#ececec" stroke="#505050" stroke-width="0.55"/>
<circle cx="521.8" cy="824.6" r="1.1" fill="#ececec" stroke="#505050" stroke-width="0.55"/>
<circle cx="445.6" cy="810.5" r="1.5" fill="#ececec" stroke="#505050" stroke-width="0.55"/>
<circle cx="444.6" cy="812.4" r="0.6" fill="#444"/>
<circle cx="477.5" cy="785.6" r="1.2" fill="#ececec" stroke="#505050" stroke-width="0.55"/>
<circle cx="476.1" cy="787.4" r="0.6" fill="#444"/>
<circle cx="474.6" cy="812.6" r="1.4" fill="#ececec" stroke="#505050" stroke-width="0.55"/>
<circle cx="511.6" cy="808.8" r="1.2" fill="#ececec" stroke="#505050" stroke-width="0.55"/>
<circle cx="457.5" cy="783.7" r="1.4" fill="#ececec" stroke="#505050" stroke-width="0.55"/>
<circle cx="516.7" cy="779.2" r="1.4" fill="#ececec" stroke="#505050" stroke-width="0.55"/>
<circle cx="503.7" cy="798.8" r="1.2" fill="#ececec" stroke="#505050" stroke-width="0.55"/>
<circle cx="450.2" cy="796.5" r="1" fill="#ececec" stroke="#505050" stroke-width="0.55"/>
<circle cx="463.6" cy="822" r="0.9" fill="#ececec" stroke="#505050" stroke-width="0.55"/>
<circle cx="482.1" cy="800.3" r="1" fill="#ececec" stroke="#505050" stroke-width="0.55"/>
<circle cx="482.6" cy="801.7" r="0.6" fill="#444"/>
<circle cx="453.2" cy="780.3" r="1.3" fill="#ececec" stroke="#505050" stroke-width="0.55"/>
<circle cx="453.4" cy="781.8" r="0.6" fill="#444"/>
<circle cx="488.9" cy="780.2" r="1.5" fill="#ececec" stroke="#505050" stroke-width="0.55"/>
<circle cx="489.6" cy="781.9" r="0.6" fill="#444"/>
<circle cx="514" cy="812" r="1.3" fill="#ececec" stroke="#505050" stroke-width="0.55"/>
<circle cx="468.1" cy="789" r="1.1" fill="#ececec" stroke="#505050" stroke-width="0.55"/>
<circle cx="485" cy="803.5" r="1.6" fill="#ececec" stroke="#505050" stroke-width="0.55"/>
<circle cx="497.3" cy="816.5" r="1" fill="#ececec" stroke="#505050" stroke-width="0.55"/>
<circle cx="456" cy="823.8" r="1.3" fill="#ececec" stroke="#505050" stroke-width="0.55"/>
<circle cx="455.6" cy="825.8" r="0.6" fill="#444"/>
<circle cx="515.4" cy="805.3" r="1.1" fill="#ececec" stroke="#505050" stroke-width="0.55"/>
<circle cx="515.5" cy="806.4" r="0.6" fill="#444"/>
<circle cx="487.1" cy="806.1" r="1.2" fill="#ececec" stroke="#505050" stroke-width="0.55"/>
<circle cx="471.3" cy="825.5" r="1.1" fill="#ececec" stroke="#505050" stroke-width="0.55"/>
<circle cx="479" cy="801.1" r="1.2" fill="#ececec" stroke="#505050" stroke-width="0.55"/>
<circle cx="478.5" cy="802.1" r="0.6" fill="#444"/>
<circle cx="473.2" cy="810.9" r="1" fill="#ececec" stroke="#505050" stroke-width="0.55"/>
<circle cx="472.4" cy="812" r="0.6" fill="#444"/>
<circle cx="526.3" cy="836" r="1.4" fill="#ececec" stroke="#505050" stroke-width="0.55"/>
<circle cx="527.7" cy="837.2" r="0.6" fill="#444"/>
<path d="M516.2 795.7L517.8 794.4L515.7 795.2L520 796.2" fill="none" stroke="#e4e4e4" stroke-width="2.2" stroke-opacity="0.8" stroke-linejoin="round"/>
<path d="M516.2 795.7L517.8 794.4L515.7 795.2L520 796.2" fill="none" stroke="#3a3a3a" stroke-width="0.7" stroke-linejoin="round"/>
<path d="M458.9 811.8L460.7 815.6L459.6 818.9L459.2 822.8" fill="none" stroke="#e4e4e4" stroke-width="2.2" stroke-opacity="0.8" stroke-linejoin="round"/>
<path d="M458.9 811.8L460.7 815.6L459.6 818.9L459.2 822.8" fill="none" stroke="#3a3a3a" stroke-width="0.7" stroke-linejoin="round"/>
<path d="M485.5 792L487.6 795.3L484.1 794.4L483.9 797.7" fill="none" stroke="#e4e4e4" stroke-width="2.2" stroke-opacity="0.8" stroke-linejoin="round"/>
<path d="M485.5 792L487.6 795.3L484.1 794.4L483.9 797.7" fill="none" stroke="#3a3a3a" stroke-width="0.7" stroke-linejoin="round"/>
<path d="M513.2 790.4L514.6 791.6L515.3 788L514.5 791.3" fill="none" stroke="#e4e4e4" stroke-width="2.2" stroke-opacity="0.8" stroke-linejoin="round"/>
<path d="M513.2 790.4L514.6 791.6L515.3 788L514.5 791.3" fill="none" stroke="#3a3a3a" stroke-width="0.7" stroke-linejoin="round"/>
<path d="M463.8 830.6L466.5 829.8L463.8 827.4L467.5 828.3" fill="none" stroke="#e4e4e4" stroke-width="2.2" stroke-opacity="0.8" stroke-linejoin="round"/>
<path d="M463.8 830.6L466.5 829.8L463.8 827.4L467.5 828.3" fill="none" stroke="#3a3a3a" stroke-width="0.7" stroke-linejoin="round"/>
<path d="M506.6 800.4L508 799L504.6 798.7L501.6 798.5" fill="none" stroke="#e4e4e4" stroke-width="2.2" stroke-opacity="0.8" stroke-linejoin="round"/>
<path d="M506.6 800.4L508 799L504.6 798.7L501.6 798.5" fill="none" stroke="#3a3a3a" stroke-width="0.7" stroke-linejoin="round"/>
<rect x="434.9" y="770.2" width="94.6" height="70.6" fill="none" stroke="#222" stroke-width="1"/>
<text x="438.7" y="786.5" font-size="14.5" stroke="#000" stroke-width="0.22">d</text>
<line x1="440.4" y1="836.3" x2="455.6" y2="836.3" stroke="#000" stroke-width="1.8"/>
<rect x="534.5" y="770.2" width="94.6" height="70.6" fill="#b6b6b6"/>
<rect x="534.5" y="770.2" width="94.6" height="70.6" fill="#000" filter="url(#noiseO)" opacity="0.14"/>
<path transform="scale(.5)" d="M1167 1549h0m-18-2h0m-8 1h0m-61 10h0m47-6h0m72 3h0m11 0h0m16 0h0m26 10h0m-28-3h0m-101 3h0m65 4h0m12 0h0m35 11h0m-27 3h0m-56-2h0m-41-1h0m-21 10h0m10-3h0m50 4h0m50-7h0m44 7h0m6 4h0m-8-2h0m-17 0h0m-20 3h0m-16 3h0m-22-7h0m-1 5h0m-29-3h0m-9 6h0m121 9h0m-3 3h0m-39 3h0m-8-5h0m-46 1h0m-2-2h0m-63 4h0m-1 3h0m18 5h0m57-3h0m28 4h0m11-5h0m53 8h0m-119 3h0m-17-2h0m-40-1h0m27 11h0m19-3h0m75 6h0m15 4h0m-29 0h0m-24-2h0m-23 5h0m-30-3h0m83 12h0m42-3h0m4 4h0m-8 1h0m-18 6h0m-14 0h0m-5-3h0m-116 3h0m23 7h0m57 1h0m21-4h0m8 0h0m36 5h0m-113 0h0m-33 5h0" stroke="#707070" stroke-width="1.8" stroke-linecap="round" stroke-opacity="0.7"/>
<circle cx="612.9" cy="800.8" r="1.4" fill="#ececec" stroke="#505050" stroke-width="0.55"/>
<circle cx="614" cy="802.3" r="0.6" fill="#444"/>
<circle cx="597.3" cy="810.5" r="1" fill="#ececec" stroke="#505050" stroke-width="0.55"/>
<circle cx="596.4" cy="812.1" r="0.6" fill="#444"/>
<circle cx="544.9" cy="802" r="1.5" fill="#ececec" stroke="#505050" stroke-width="0.55"/>
<circle cx="547.7" cy="802.4" r="1.5" fill="#ececec" stroke="#505050" stroke-width="0.55"/>
<circle cx="624.8" cy="791.7" r="1.3" fill="#ececec" stroke="#505050" stroke-width="0.55"/>
<circle cx="545.9" cy="795.9" r="1.4" fill="#ececec" stroke="#505050" stroke-width="0.55"/>
<circle cx="580.9" cy="807.2" r="0.9" fill="#ececec" stroke="#505050" stroke-width="0.55"/>
<circle cx="580" cy="808.3" r="0.6" fill="#444"/>
<circle cx="575.6" cy="832.1" r="1.5" fill="#ececec" stroke="#505050" stroke-width="0.55"/>
<circle cx="574.9" cy="833.7" r="0.6" fill="#444"/>
<circle cx="602.5" cy="801.3" r="1" fill="#ececec" stroke="#505050" stroke-width="0.55"/>
<circle cx="607.2" cy="788.7" r="1.5" fill="#ececec" stroke="#505050" stroke-width="0.55"/>
<circle cx="626" cy="783.8" r="1.2" fill="#ececec" stroke="#505050" stroke-width="0.55"/>
<circle cx="624.7" cy="785.4" r="0.6" fill="#444"/>
<circle cx="574.7" cy="832.6" r="1.5" fill="#ececec" stroke="#505050" stroke-width="0.55"/>
<circle cx="574.6" cy="834.3" r="0.6" fill="#444"/>
<circle cx="548.8" cy="817.7" r="1.1" fill="#ececec" stroke="#505050" stroke-width="0.55"/>
<circle cx="588.5" cy="773.3" r="1.4" fill="#ececec" stroke="#505050" stroke-width="0.55"/>
<circle cx="589.7" cy="775" r="0.6" fill="#444"/>
<circle cx="541.4" cy="775.2" r="1.1" fill="#ececec" stroke="#505050" stroke-width="0.55"/>
<circle cx="558.9" cy="821.1" r="0.9" fill="#ececec" stroke="#505050" stroke-width="0.55"/>
<circle cx="557.7" cy="822.8" r="0.6" fill="#444"/>
<circle cx="606.4" cy="789" r="1.2" fill="#ececec" stroke="#505050" stroke-width="0.55"/>
<circle cx="609.5" cy="784.3" r="1" fill="#ececec" stroke="#505050" stroke-width="0.55"/>
<circle cx="540.3" cy="824.6" r="1" fill="#ececec" stroke="#505050" stroke-width="0.55"/>
<circle cx="579.3" cy="820.1" r="1.1" fill="#ececec" stroke="#505050" stroke-width="0.55"/>
<circle cx="539.3" cy="830.5" r="1.4" fill="#ececec" stroke="#505050" stroke-width="0.55"/>
<circle cx="539.2" cy="832" r="0.6" fill="#444"/>
<circle cx="585.9" cy="797.7" r="1.1" fill="#ececec" stroke="#505050" stroke-width="0.55"/>
<circle cx="586.9" cy="799.4" r="0.6" fill="#444"/>
<circle cx="606.7" cy="804.8" r="1.6" fill="#ececec" stroke="#505050" stroke-width="0.55"/>
<circle cx="613.4" cy="811.1" r="1.3" fill="#ececec" stroke="#505050" stroke-width="0.55"/>
<circle cx="611.8" cy="803.1" r="0.9" fill="#ececec" stroke="#505050" stroke-width="0.55"/>
<circle cx="543.3" cy="794.7" r="1.2" fill="#ececec" stroke="#505050" stroke-width="0.55"/>
<circle cx="549.6" cy="812.7" r="1.4" fill="#ececec" stroke="#505050" stroke-width="0.55"/>
<circle cx="568.7" cy="803.6" r="1.5" fill="#ececec" stroke="#505050" stroke-width="0.55"/>
<circle cx="573.1" cy="779.8" r="1.4" fill="#ececec" stroke="#505050" stroke-width="0.55"/>
<circle cx="573" cy="780.9" r="0.6" fill="#444"/>
<circle cx="596.3" cy="789.4" r="1.4" fill="#ececec" stroke="#505050" stroke-width="0.55"/>
<circle cx="597.6" cy="790.7" r="0.6" fill="#444"/>
<rect x="534.5" y="770.2" width="94.6" height="70.6" fill="none" stroke="#222" stroke-width="1"/>
<text x="538.3" y="786.5" font-size="14.5" stroke="#000" stroke-width="0.22">e</text>
<line x1="540" y1="836.3" x2="555.2" y2="836.3" stroke="#000" stroke-width="1.8"/>
<path d="M298.4 788L290.4 783.8L290.4 792.2Z" fill="#000"/>
<path d="M266.7 802.3L258.7 798L258.7 806.5Z" fill="#000"/>
<path d="M288.7 812.3L280.7 808L280.7 816.5Z" fill="#000"/>
<path d="M466.5 785.5L458.5 781.2L458.5 789.8Z" fill="#000"/>
<path d="M502 807L494 802.8L494 811.2Z" fill="#000"/>
<path d="M478 821L470 816.8L470 825.2Z" fill="#000"/>
<rect x="678.8" y="789.4" width="15.8" height="47.2" fill="#000"/>
<line x1="686.7" y1="789.4" x2="686.7" y2="781.4" stroke="#000" stroke-width="1"/>
<line x1="683.2" y1="781.4" x2="690.2" y2="781.4" stroke="#000" stroke-width="1"/>
<text x="686.7" y="834" font-size="13" text-anchor="middle" fill="#fff">a</text>
<rect x="701.1" y="769.6" width="15.8" height="67" fill="#000"/>
<line x1="709" y1="769.6" x2="709" y2="757.3" stroke="#000" stroke-width="1"/>
<line x1="705.5" y1="757.3" x2="712.5" y2="757.3" stroke="#000" stroke-width="1"/>
<text x="709" y="834" font-size="13" text-anchor="middle" fill="#fff">b</text>
<rect x="723.3" y="781.8" width="15.8" height="54.8" fill="#000"/>
<line x1="731.2" y1="781.8" x2="731.2" y2="767.2" stroke="#000" stroke-width="1"/>
<line x1="727.7" y1="767.2" x2="734.7" y2="767.2" stroke="#000" stroke-width="1"/>
<text x="731.2" y="834" font-size="13" text-anchor="middle" fill="#fff">c</text>
<rect x="745.5" y="767.2" width="15.8" height="69.4" fill="#000"/>
<line x1="753.4" y1="767.2" x2="753.4" y2="755.9" stroke="#000" stroke-width="1"/>
<line x1="749.9" y1="755.9" x2="756.9" y2="755.9" stroke="#000" stroke-width="1"/>
<text x="753.4" y="834" font-size="13" text-anchor="middle" fill="#fff">d</text>
<rect x="767.7" y="781.8" width="15.8" height="54.8" fill="#000"/>
<line x1="775.6" y1="781.8" x2="775.6" y2="769.6" stroke="#000" stroke-width="1"/>
<line x1="772.1" y1="769.6" x2="779.1" y2="769.6" stroke="#000" stroke-width="1"/>
<text x="775.6" y="834" font-size="13" text-anchor="middle" fill="#fff">e</text>
<text x="709" y="756" font-size="10.5" text-anchor="middle" stroke="#000" stroke-width="0.22" font-weight="bold">**</text>
<text x="753.3" y="754" font-size="10.5" text-anchor="middle" stroke="#000" stroke-width="0.22" font-weight="bold">**</text>
<text x="731.2" y="767" font-size="13" text-anchor="middle" stroke="#000" stroke-width="0.22">#</text>
<text x="775.7" y="768" font-size="13" text-anchor="middle" stroke="#000" stroke-width="0.22">#</text>
<rect x="671.7" y="742.2" width="118.9" height="94.4" fill="none" stroke="#000" stroke-width="1"/>
<line x1="669.2" y1="836.6" x2="671.7" y2="836.6" stroke="#000" stroke-width="0.8"/>
<text x="669.4" y="841.2" font-size="13" text-anchor="end" stroke="#000" stroke-width="0.22">0</text>
<line x1="669.2" y1="813" x2="671.7" y2="813" stroke="#000" stroke-width="0.8"/>
<text x="669.4" y="817.6" font-size="13" text-anchor="end" stroke="#000" stroke-width="0.22">50</text>
<line x1="669.2" y1="789.4" x2="671.7" y2="789.4" stroke="#000" stroke-width="0.8"/>
<text x="669.4" y="794" font-size="13" text-anchor="end" stroke="#000" stroke-width="0.22">100</text>
<line x1="669.2" y1="765.8" x2="671.7" y2="765.8" stroke="#000" stroke-width="0.8"/>
<text x="669.4" y="770.4" font-size="13" text-anchor="end" stroke="#000" stroke-width="0.22">150</text>
<line x1="669.2" y1="742.2" x2="671.7" y2="742.2" stroke="#000" stroke-width="0.8"/>
<text x="669.4" y="746.8" font-size="13" text-anchor="end" stroke="#000" stroke-width="0.22">200</text>
<text x="644" y="791" font-size="13" text-anchor="middle" stroke="#000" stroke-width="0.22" transform="rotate(-90 644 791)">Tube length (%)</text>
<text x="0" y="865" font-size="13" stroke="#000" stroke-width="0.22">P</text>
<rect x="5" y="870" width="93.8" height="13.4" fill="#fff" stroke="#000" stroke-width="0.8"/>
<text x="51.9" y="880.9" font-size="13" text-anchor="middle" stroke="#000" stroke-width="0.22">Sca-1<tspan font-size="7.5" dy="-5">−</tspan></text>
<rect x="104.1" y="870" width="93.8" height="13.4" fill="#fff" stroke="#000" stroke-width="0.8"/>
<text x="151" y="880.9" font-size="13" text-anchor="middle" stroke="#000" stroke-width="0.22">Sca-1<tspan font-size="7.5" dy="-5">+</tspan></text>
<defs><radialGradient id="vigP" cx="0.5" cy="0.45" r="0.65"><stop offset="0" stop-color="#b4b4b4"/><stop offset="0.6" stop-color="#a2a2a2"/><stop offset="1" stop-color="#7e7e7e"/></radialGradient></defs>
<rect x="5" y="888.4" width="93.9" height="70.8" fill="url(#vigP)"/>
<rect x="5" y="888.4" width="93.9" height="70.8" fill="#000" filter="url(#noiseP)" opacity="0.45"/>
<rect x="5" y="888.4" width="93.9" height="70.8" fill="#000" filter="url(#noiseO)" opacity="0.2"/>
<circle cx="89.3" cy="952.7" r="1.2" fill="#e6e6e6" stroke="#666" stroke-width="0.3"/>
<circle cx="15.3" cy="929.5" r="1" fill="#e6e6e6" stroke="#666" stroke-width="0.3"/>
<circle cx="54.6" cy="899.5" r="0.8" fill="#e6e6e6" stroke="#666" stroke-width="0.3"/>
<circle cx="47.1" cy="905.4" r="1" fill="#e6e6e6" stroke="#666" stroke-width="0.3"/>
<circle cx="10.2" cy="896.6" r="1.1" fill="#e6e6e6" stroke="#666" stroke-width="0.3"/>
<circle cx="45" cy="924.3" r="1.1" fill="#e6e6e6" stroke="#666" stroke-width="0.3"/>
<circle cx="39.6" cy="894.7" r="1.2" fill="#e6e6e6" stroke="#666" stroke-width="0.3"/>
<circle cx="59.8" cy="933.8" r="1.1" fill="#e6e6e6" stroke="#666" stroke-width="0.3"/>
<circle cx="93.3" cy="914.6" r="1.2" fill="#e6e6e6" stroke="#666" stroke-width="0.3"/>
<circle cx="40.4" cy="928.2" r="1.1" fill="#e6e6e6" stroke="#666" stroke-width="0.3"/>
<circle cx="35.6" cy="896.6" r="1" fill="#e6e6e6" stroke="#666" stroke-width="0.3"/>
<circle cx="71.1" cy="929.4" r="1" fill="#e6e6e6" stroke="#666" stroke-width="0.3"/>
<circle cx="64.5" cy="902.8" r="0.8" fill="#e6e6e6" stroke="#666" stroke-width="0.3"/>
<circle cx="36.4" cy="944" r="0.8" fill="#e6e6e6" stroke="#666" stroke-width="0.3"/>
<circle cx="18" cy="897.4" r="0.7" fill="#e6e6e6" stroke="#666" stroke-width="0.3"/>
<circle cx="32.2" cy="928.2" r="1.2" fill="#e6e6e6" stroke="#666" stroke-width="0.3"/>
<circle cx="37.1" cy="915" r="0.9" fill="#e6e6e6" stroke="#666" stroke-width="0.3"/>
<circle cx="34.8" cy="941.5" r="1" fill="#e6e6e6" stroke="#666" stroke-width="0.3"/>
<circle cx="30.7" cy="898" r="1.2" fill="#e6e6e6" stroke="#666" stroke-width="0.3"/>
<circle cx="70.2" cy="944.9" r="0.8" fill="#e6e6e6" stroke="#666" stroke-width="0.3"/>
<circle cx="55.9" cy="950.7" r="1.1" fill="#e6e6e6" stroke="#666" stroke-width="0.3"/>
<circle cx="91.1" cy="901.9" r="1.3" fill="#e6e6e6" stroke="#666" stroke-width="0.3"/>
<circle cx="12.9" cy="918.1" r="0.7" fill="#e6e6e6" stroke="#666" stroke-width="0.3"/>
<circle cx="79.2" cy="935.7" r="1.3" fill="#e6e6e6" stroke="#666" stroke-width="0.3"/>
<circle cx="78.8" cy="952.7" r="1" fill="#e6e6e6" stroke="#666" stroke-width="0.3"/>
<circle cx="94.9" cy="939.7" r="0.9" fill="#e6e6e6" stroke="#666" stroke-width="0.3"/>
<circle cx="93.6" cy="915.5" r="0.8" fill="#e6e6e6" stroke="#666" stroke-width="0.3"/>
<circle cx="14.7" cy="921.3" r="0.8" fill="#e6e6e6" stroke="#666" stroke-width="0.3"/>
<circle cx="90.1" cy="952.8" r="0.8" fill="#e6e6e6" stroke="#666" stroke-width="0.3"/>
<circle cx="17.1" cy="925.4" r="0.8" fill="#e6e6e6" stroke="#666" stroke-width="0.3"/>
<line x1="10" y1="954.1" x2="23.8" y2="954.1" stroke="#000" stroke-width="1.8"/>
<rect x="104.1" y="888.4" width="93.9" height="70.8" fill="url(#vigP)"/>
<rect x="104.1" y="888.4" width="93.9" height="70.8" fill="#000" filter="url(#noiseP)" opacity="0.45"/>
<rect x="104.1" y="888.4" width="93.9" height="70.8" fill="#000" filter="url(#noiseO)" opacity="0.2"/>
<circle cx="154.9" cy="943.8" r="0.9" fill="#e6e6e6" stroke="#666" stroke-width="0.3"/>
<circle cx="144.2" cy="949.6" r="1" fill="#e6e6e6" stroke="#666" stroke-width="0.3"/>
<circle cx="137.2" cy="949" r="1.2" fill="#e6e6e6" stroke="#666" stroke-width="0.3"/>
<circle cx="185.8" cy="935.7" r="0.9" fill="#e6e6e6" stroke="#666" stroke-width="0.3"/>
<circle cx="168" cy="944.9" r="1.1" fill="#e6e6e6" stroke="#666" stroke-width="0.3"/>
<circle cx="128.1" cy="910.2" r="0.9" fill="#e6e6e6" stroke="#666" stroke-width="0.3"/>
<circle cx="174.9" cy="927.2" r="1" fill="#e6e6e6" stroke="#666" stroke-width="0.3"/>
<circle cx="179.8" cy="898" r="1.1" fill="#e6e6e6" stroke="#666" stroke-width="0.3"/>
<circle cx="136.3" cy="927.4" r="1.2" fill="#e6e6e6" stroke="#666" stroke-width="0.3"/>
<circle cx="128.9" cy="952.8" r="0.7" fill="#e6e6e6" stroke="#666" stroke-width="0.3"/>
<circle cx="156.5" cy="926.2" r="0.8" fill="#e6e6e6" stroke="#666" stroke-width="0.3"/>
<circle cx="156.4" cy="921.6" r="1" fill="#e6e6e6" stroke="#666" stroke-width="0.3"/>
<circle cx="170.2" cy="891.3" r="0.9" fill="#e6e6e6" stroke="#666" stroke-width="0.3"/>
<circle cx="176.2" cy="900.2" r="1.2" fill="#e6e6e6" stroke="#666" stroke-width="0.3"/>
<circle cx="125" cy="935.3" r="0.8" fill="#e6e6e6" stroke="#666" stroke-width="0.3"/>
<circle cx="146.6" cy="918.5" r="0.7" fill="#e6e6e6" stroke="#666" stroke-width="0.3"/>
<circle cx="168.6" cy="922.2" r="1.1" fill="#e6e6e6" stroke="#666" stroke-width="0.3"/>
<circle cx="154.5" cy="927.1" r="1" fill="#e6e6e6" stroke="#666" stroke-width="0.3"/>
<circle cx="133.3" cy="949.4" r="0.8" fill="#e6e6e6" stroke="#666" stroke-width="0.3"/>
<circle cx="184.2" cy="947.1" r="1" fill="#e6e6e6" stroke="#666" stroke-width="0.3"/>
<circle cx="175.4" cy="934.8" r="1.1" fill="#e6e6e6" stroke="#666" stroke-width="0.3"/>
<circle cx="132.7" cy="911.8" r="0.9" fill="#e6e6e6" stroke="#666" stroke-width="0.3"/>
<circle cx="133.7" cy="953.4" r="0.9" fill="#e6e6e6" stroke="#666" stroke-width="0.3"/>
<circle cx="141.2" cy="918.3" r="1.2" fill="#e6e6e6" stroke="#666" stroke-width="0.3"/>
<circle cx="149.1" cy="927" r="0.9" fill="#e6e6e6" stroke="#666" stroke-width="0.3"/>
<circle cx="131.5" cy="896.8" r="0.8" fill="#e6e6e6" stroke="#666" stroke-width="0.3"/>
<circle cx="130.3" cy="946.4" r="1" fill="#e6e6e6" stroke="#666" stroke-width="0.3"/>
<circle cx="116.8" cy="921.1" r="0.8" fill="#e6e6e6" stroke="#666" stroke-width="0.3"/>
<circle cx="156.9" cy="919.7" r="1.2" fill="#e6e6e6" stroke="#666" stroke-width="0.3"/>
<circle cx="129.9" cy="946.3" r="0.8" fill="#e6e6e6" stroke="#666" stroke-width="0.3"/>
<line x1="109.1" y1="954.1" x2="122.9" y2="954.1" stroke="#000" stroke-width="1.8"/>
<circle cx="12.6" cy="903.2" r="1" fill="#e2e2e2" stroke="#3a3a3a" stroke-width="0.5"/>
<circle cx="12.9" cy="903.3" r="1" fill="#e2e2e2" stroke="#3a3a3a" stroke-width="0.5"/>
<circle cx="14.6" cy="902.5" r="1" fill="#e2e2e2" stroke="#3a3a3a" stroke-width="0.5"/>
<circle cx="15.9" cy="903" r="1" fill="#e2e2e2" stroke="#3a3a3a" stroke-width="0.5"/>
<circle cx="17.2" cy="902.8" r="1" fill="#e2e2e2" stroke="#3a3a3a" stroke-width="0.5"/>
<circle cx="19" cy="902.5" r="1" fill="#e2e2e2" stroke="#3a3a3a" stroke-width="0.5"/>
<circle cx="20.3" cy="901.6" r="1" fill="#e2e2e2" stroke="#3a3a3a" stroke-width="0.5"/>
<circle cx="22.5" cy="902.2" r="1" fill="#e2e2e2" stroke="#3a3a3a" stroke-width="0.5"/>
<circle cx="22.9" cy="902.2" r="1" fill="#e2e2e2" stroke="#3a3a3a" stroke-width="0.5"/>
<circle cx="25.2" cy="900.6" r="1" fill="#e2e2e2" stroke="#3a3a3a" stroke-width="0.5"/>
<circle cx="25.4" cy="900.7" r="1" fill="#e2e2e2" stroke="#3a3a3a" stroke-width="0.5"/>
<circle cx="26.9" cy="900.3" r="1" fill="#e2e2e2" stroke="#3a3a3a" stroke-width="0.5"/>
<circle cx="28.6" cy="899.8" r="1" fill="#e2e2e2" stroke="#3a3a3a" stroke-width="0.5"/>
<circle cx="30.1" cy="899.4" r="1" fill="#e2e2e2" stroke="#3a3a3a" stroke-width="0.5"/>
<circle cx="31" cy="897.9" r="1" fill="#e2e2e2" stroke="#3a3a3a" stroke-width="0.5"/>
<circle cx="31.3" cy="896.4" r="1" fill="#e2e2e2" stroke="#3a3a3a" stroke-width="0.5"/>
<circle cx="31.4" cy="894.8" r="1" fill="#e2e2e2" stroke="#3a3a3a" stroke-width="0.5"/>
<circle cx="32.8" cy="893.8" r="1" fill="#e2e2e2" stroke="#3a3a3a" stroke-width="0.5"/>
<circle cx="29.9" cy="900.7" r="1" fill="#e2e2e2" stroke="#3a3a3a" stroke-width="0.5"/>
<circle cx="31.4" cy="902" r="1" fill="#e2e2e2" stroke="#3a3a3a" stroke-width="0.5"/>
<circle cx="32.9" cy="902.9" r="1" fill="#e2e2e2" stroke="#3a3a3a" stroke-width="0.5"/>
<circle cx="33.6" cy="904.2" r="1" fill="#e2e2e2" stroke="#3a3a3a" stroke-width="0.5"/>
<circle cx="35.3" cy="905.6" r="1" fill="#e2e2e2" stroke="#3a3a3a" stroke-width="0.5"/>
<circle cx="35.4" cy="906.7" r="1" fill="#e2e2e2" stroke="#3a3a3a" stroke-width="0.5"/>
<circle cx="36.8" cy="908.1" r="1" fill="#e2e2e2" stroke="#3a3a3a" stroke-width="0.5"/>
<circle cx="36.4" cy="908.4" r="1" fill="#e2e2e2" stroke="#3a3a3a" stroke-width="0.5"/>
<circle cx="37.7" cy="910.3" r="1" fill="#e2e2e2" stroke="#3a3a3a" stroke-width="0.5"/>
<circle cx="44.4" cy="923.9" r="1" fill="#e2e2e2" stroke="#3a3a3a" stroke-width="0.5"/>
<circle cx="46.7" cy="924.6" r="1" fill="#e2e2e2" stroke="#3a3a3a" stroke-width="0.5"/>
<circle cx="47.9" cy="924.2" r="1" fill="#e2e2e2" stroke="#3a3a3a" stroke-width="0.5"/>
<circle cx="49.2" cy="924.2" r="1" fill="#e2e2e2" stroke="#3a3a3a" stroke-width="0.5"/>
<circle cx="50.5" cy="925" r="1" fill="#e2e2e2" stroke="#3a3a3a" stroke-width="0.5"/>
<circle cx="52.5" cy="925.6" r="1" fill="#e2e2e2" stroke="#3a3a3a" stroke-width="0.5"/>
<circle cx="53.5" cy="925.4" r="1" fill="#e2e2e2" stroke="#3a3a3a" stroke-width="0.5"/>
<circle cx="54.8" cy="926.2" r="1" fill="#e2e2e2" stroke="#3a3a3a" stroke-width="0.5"/>
<circle cx="56.2" cy="926" r="1" fill="#e2e2e2" stroke="#3a3a3a" stroke-width="0.5"/>
<circle cx="57.9" cy="927.1" r="1" fill="#e2e2e2" stroke="#3a3a3a" stroke-width="0.5"/>
<circle cx="59.3" cy="927.6" r="1" fill="#e2e2e2" stroke="#3a3a3a" stroke-width="0.5"/>
<circle cx="60.1" cy="927.9" r="1" fill="#e2e2e2" stroke="#3a3a3a" stroke-width="0.5"/>
<circle cx="61.4" cy="929.1" r="1" fill="#e2e2e2" stroke="#3a3a3a" stroke-width="0.5"/>
<circle cx="63.1" cy="929.2" r="1" fill="#e2e2e2" stroke="#3a3a3a" stroke-width="0.5"/>
<circle cx="63.7" cy="928.9" r="1" fill="#e2e2e2" stroke="#3a3a3a" stroke-width="0.5"/>
<circle cx="65.4" cy="929.8" r="1" fill="#e2e2e2" stroke="#3a3a3a" stroke-width="0.5"/>
<circle cx="66.1" cy="929.9" r="1" fill="#e2e2e2" stroke="#3a3a3a" stroke-width="0.5"/>
<circle cx="66.9" cy="930.8" r="1" fill="#e2e2e2" stroke="#3a3a3a" stroke-width="0.5"/>
<circle cx="69.3" cy="931.8" r="1" fill="#e2e2e2" stroke="#3a3a3a" stroke-width="0.5"/>
<circle cx="70.3" cy="932.2" r="1" fill="#e2e2e2" stroke="#3a3a3a" stroke-width="0.5"/>
<circle cx="71" cy="932" r="1" fill="#e2e2e2" stroke="#3a3a3a" stroke-width="0.5"/>
<circle cx="72.6" cy="932.4" r="1" fill="#e2e2e2" stroke="#3a3a3a" stroke-width="0.5"/>
<circle cx="73.9" cy="933.5" r="1" fill="#e2e2e2" stroke="#3a3a3a" stroke-width="0.5"/>
<circle cx="75.1" cy="933.5" r="1" fill="#e2e2e2" stroke="#3a3a3a" stroke-width="0.5"/>
<circle cx="75.7" cy="933.5" r="1" fill="#e2e2e2" stroke="#3a3a3a" stroke-width="0.5"/>
<circle cx="77.1" cy="933.2" r="1" fill="#e2e2e2" stroke="#3a3a3a" stroke-width="0.5"/>
<circle cx="78.5" cy="932.7" r="1" fill="#e2e2e2" stroke="#3a3a3a" stroke-width="0.5"/>
<circle cx="80.3" cy="932.1" r="1" fill="#e2e2e2" stroke="#3a3a3a" stroke-width="0.5"/>
<circle cx="81.3" cy="931.1" r="1" fill="#e2e2e2" stroke="#3a3a3a" stroke-width="0.5"/>
<circle cx="82.3" cy="931.7" r="1" fill="#e2e2e2" stroke="#3a3a3a" stroke-width="0.5"/>
<circle cx="83.5" cy="930.2" r="1" fill="#e2e2e2" stroke="#3a3a3a" stroke-width="0.5"/>
<circle cx="63" cy="930.1" r="1" fill="#e2e2e2" stroke="#3a3a3a" stroke-width="0.5"/>
<circle cx="63" cy="931" r="1" fill="#e2e2e2" stroke="#3a3a3a" stroke-width="0.5"/>
<circle cx="62.8" cy="931.8" r="1" fill="#e2e2e2" stroke="#3a3a3a" stroke-width="0.5"/>
<circle cx="62.2" cy="933.8" r="1" fill="#e2e2e2" stroke="#3a3a3a" stroke-width="0.5"/>
<circle cx="62" cy="934.5" r="1" fill="#e2e2e2" stroke="#3a3a3a" stroke-width="0.5"/>
<circle cx="61.4" cy="936.9" r="1" fill="#e2e2e2" stroke="#3a3a3a" stroke-width="0.5"/>
<circle cx="61" cy="937" r="1" fill="#e2e2e2" stroke="#3a3a3a" stroke-width="0.5"/>
<circle cx="60.9" cy="939.4" r="1" fill="#e2e2e2" stroke="#3a3a3a" stroke-width="0.5"/>
<circle cx="59.5" cy="940.5" r="1" fill="#e2e2e2" stroke="#3a3a3a" stroke-width="0.5"/>
<circle cx="58.7" cy="940.4" r="1" fill="#e2e2e2" stroke="#3a3a3a" stroke-width="0.5"/>
<circle cx="58.7" cy="942.3" r="1" fill="#e2e2e2" stroke="#3a3a3a" stroke-width="0.5"/>
<circle cx="58" cy="943.2" r="1" fill="#e2e2e2" stroke="#3a3a3a" stroke-width="0.5"/>
<circle cx="56.7" cy="943.7" r="1" fill="#e2e2e2" stroke="#3a3a3a" stroke-width="0.5"/>
<circle cx="55.9" cy="945.7" r="1" fill="#e2e2e2" stroke="#3a3a3a" stroke-width="0.5"/>
<circle cx="60.2" cy="895.5" r="1" fill="#e2e2e2" stroke="#3a3a3a" stroke-width="0.5"/>
<circle cx="61" cy="895.8" r="1" fill="#e2e2e2" stroke="#3a3a3a" stroke-width="0.5"/>
<circle cx="62.9" cy="895.4" r="1" fill="#e2e2e2" stroke="#3a3a3a" stroke-width="0.5"/>
<circle cx="64.4" cy="896" r="1" fill="#e2e2e2" stroke="#3a3a3a" stroke-width="0.5"/>
<circle cx="65" cy="896.4" r="1" fill="#e2e2e2" stroke="#3a3a3a" stroke-width="0.5"/>
<circle cx="66.9" cy="897" r="1" fill="#e2e2e2" stroke="#3a3a3a" stroke-width="0.5"/>
<circle cx="68.6" cy="897.3" r="1" fill="#e2e2e2" stroke="#3a3a3a" stroke-width="0.5"/>
<circle cx="68.9" cy="899.7" r="1" fill="#e2e2e2" stroke="#3a3a3a" stroke-width="0.5"/>
<circle cx="69.1" cy="900.8" r="1" fill="#e2e2e2" stroke="#3a3a3a" stroke-width="0.5"/>
<circle cx="69.9" cy="902.2" r="1" fill="#e2e2e2" stroke="#3a3a3a" stroke-width="0.5"/>
<circle cx="69.6" cy="903.7" r="1" fill="#e2e2e2" stroke="#3a3a3a" stroke-width="0.5"/>
<circle cx="70.3" cy="904.8" r="1" fill="#e2e2e2" stroke="#3a3a3a" stroke-width="0.5"/>
<circle cx="78" cy="931.6" r="1" fill="#e2e2e2" stroke="#3a3a3a" stroke-width="0.5"/>
<circle cx="78.4" cy="932.7" r="1" fill="#e2e2e2" stroke="#3a3a3a" stroke-width="0.5"/>
<circle cx="78.5" cy="933.3" r="1" fill="#e2e2e2" stroke="#3a3a3a" stroke-width="0.5"/>
<circle cx="79.7" cy="934.9" r="1" fill="#e2e2e2" stroke="#3a3a3a" stroke-width="0.5"/>
<circle cx="80.4" cy="935.6" r="1" fill="#e2e2e2" stroke="#3a3a3a" stroke-width="0.5"/>
<circle cx="80.9" cy="937.7" r="1" fill="#e2e2e2" stroke="#3a3a3a" stroke-width="0.5"/>
<circle cx="80.6" cy="938" r="1" fill="#e2e2e2" stroke="#3a3a3a" stroke-width="0.5"/>
<circle cx="81.6" cy="940.4" r="1" fill="#e2e2e2" stroke="#3a3a3a" stroke-width="0.5"/>
<circle cx="82.1" cy="940.9" r="1" fill="#e2e2e2" stroke="#3a3a3a" stroke-width="0.5"/>
<circle cx="83.2" cy="942.2" r="1" fill="#e2e2e2" stroke="#3a3a3a" stroke-width="0.5"/>
<circle cx="84.4" cy="942.7" r="1" fill="#e2e2e2" stroke="#3a3a3a" stroke-width="0.5"/>
<circle cx="85.7" cy="944" r="1" fill="#e2e2e2" stroke="#3a3a3a" stroke-width="0.5"/>
<circle cx="87.2" cy="944.7" r="1" fill="#e2e2e2" stroke="#3a3a3a" stroke-width="0.5"/>
<circle cx="147.7" cy="932.1" r="1" fill="#e2e2e2" stroke="#3a3a3a" stroke-width="0.5"/>
<circle cx="149.8" cy="931.9" r="1" fill="#e2e2e2" stroke="#3a3a3a" stroke-width="0.5"/>
<circle cx="151.3" cy="931.8" r="1" fill="#e2e2e2" stroke="#3a3a3a" stroke-width="0.5"/>
<circle cx="151.8" cy="930.8" r="1" fill="#e2e2e2" stroke="#3a3a3a" stroke-width="0.5"/>
<circle cx="153.4" cy="930" r="1" fill="#e2e2e2" stroke="#3a3a3a" stroke-width="0.5"/>
<circle cx="155" cy="930.7" r="1" fill="#e2e2e2" stroke="#3a3a3a" stroke-width="0.5"/>
<circle cx="156.6" cy="930.4" r="1" fill="#e2e2e2" stroke="#3a3a3a" stroke-width="0.5"/>
<circle cx="157.2" cy="931.8" r="1" fill="#e2e2e2" stroke="#3a3a3a" stroke-width="0.5"/>
<circle cx="159.2" cy="932.9" r="1" fill="#e2e2e2" stroke="#3a3a3a" stroke-width="0.5"/>
<circle cx="159.6" cy="934.1" r="1" fill="#e2e2e2" stroke="#3a3a3a" stroke-width="0.5"/>
<circle cx="159" cy="934.7" r="1" fill="#e2e2e2" stroke="#3a3a3a" stroke-width="0.5"/>
<circle cx="158.8" cy="937.4" r="1" fill="#e2e2e2" stroke="#3a3a3a" stroke-width="0.5"/>
<circle cx="120.3" cy="937.3" r="1" fill="#e2e2e2" stroke="#3a3a3a" stroke-width="0.5"/>
<circle cx="120.2" cy="938.3" r="1" fill="#e2e2e2" stroke="#3a3a3a" stroke-width="0.5"/>
<circle cx="121.5" cy="939.7" r="1" fill="#e2e2e2" stroke="#3a3a3a" stroke-width="0.5"/>
<circle cx="121.9" cy="939.9" r="1" fill="#e2e2e2" stroke="#3a3a3a" stroke-width="0.5"/>
<circle cx="123.2" cy="941.3" r="1" fill="#e2e2e2" stroke="#3a3a3a" stroke-width="0.5"/>
<circle cx="123.6" cy="942.8" r="1" fill="#e2e2e2" stroke="#3a3a3a" stroke-width="0.5"/>
<circle cx="124.3" cy="943.8" r="1" fill="#e2e2e2" stroke="#3a3a3a" stroke-width="0.5"/>
<circle cx="123.8" cy="945.2" r="1" fill="#e2e2e2" stroke="#3a3a3a" stroke-width="0.5"/>
<circle cx="124.6" cy="947.1" r="1" fill="#e2e2e2" stroke="#3a3a3a" stroke-width="0.5"/>
<circle cx="124.9" cy="948.2" r="1" fill="#e2e2e2" stroke="#3a3a3a" stroke-width="0.5"/>
<circle cx="125.2" cy="949.7" r="1" fill="#e2e2e2" stroke="#3a3a3a" stroke-width="0.5"/>
<circle cx="125.3" cy="951.2" r="1" fill="#e2e2e2" stroke="#3a3a3a" stroke-width="0.5"/>
<path d="M21.6 909.7L13.6 905.5L13.6 914Z" fill="#000"/>
<path d="M63 900.2L55 896L55 904.5Z" fill="#000"/>
<path d="M44.2 931L36.2 926.8L36.2 935.2Z" fill="#000"/>
<path d="M44.2 946.1L36.2 941.9L36.2 950.4Z" fill="#000"/>
<path d="M144.5 934.1L136.5 929.9L136.5 938.4Z" fill="#000"/>
<path d="M117.4 942.8L109.4 938.5L109.4 947Z" fill="#000"/>
<rect x="5" y="888.4" width="93.9" height="70.8" fill="none" stroke="#222" stroke-width="1"/>
<rect x="104.1" y="888.4" width="93.9" height="70.8" fill="none" stroke="#222" stroke-width="1"/>
<rect x="254.8" y="890" width="13.8" height="63.3" fill="#fff" stroke="#000" stroke-width="1"/>
<line x1="261.7" y1="890" x2="261.7" y2="876.7" stroke="#000" stroke-width="1"/>
<line x1="258.7" y1="876.7" x2="264.7" y2="876.7" stroke="#000" stroke-width="1"/>
<rect x="275.2" y="912.8" width="13.7" height="40.5" fill="#000"/>
<line x1="282" y1="912.8" x2="282" y2="899.8" stroke="#000" stroke-width="1"/>
<line x1="279" y1="899.8" x2="285" y2="899.8" stroke="#000" stroke-width="1"/>
<text x="282" y="897.8" font-size="10.5" text-anchor="middle" stroke="#000" stroke-width="0.22" font-weight="bold">**</text>
<rect x="248.5" y="858.4" width="47.5" height="94.9" fill="none" stroke="#000" stroke-width="1"/>
<line x1="246" y1="953.3" x2="248.5" y2="953.3" stroke="#000" stroke-width="0.8"/>
<text x="246.4" y="957.9" font-size="13" text-anchor="end" stroke="#000" stroke-width="0.22">0</text>
<line x1="246" y1="921.7" x2="248.5" y2="921.7" stroke="#000" stroke-width="0.8"/>
<text x="246.4" y="926.3" font-size="13" text-anchor="end" stroke="#000" stroke-width="0.22">50</text>
<line x1="246" y1="890" x2="248.5" y2="890" stroke="#000" stroke-width="0.8"/>
<text x="246.4" y="894.6" font-size="13" text-anchor="end" stroke="#000" stroke-width="0.22">100</text>
<line x1="246" y1="858.4" x2="248.5" y2="858.4" stroke="#000" stroke-width="0.8"/>
<text x="246.4" y="863" font-size="13" text-anchor="end" stroke="#000" stroke-width="0.22">150</text>
<text x="218.5" y="909.7" font-size="13" text-anchor="middle" stroke="#000" stroke-width="0.22" transform="rotate(-90 218.5 909.7)">Tube length (%)</text>
<text x="266.5" y="962.5" font-size="12.5" text-anchor="end" stroke="#000" stroke-width="0.22" transform="rotate(-45 266.5 962.5)">Sca-1<tspan font-size="7.5" dy="-5">−</tspan></text>
<text x="287.5" y="962.5" font-size="12.5" text-anchor="end" stroke="#000" stroke-width="0.22" transform="rotate(-45 287.5 962.5)">Sca-1<tspan font-size="7.5" dy="-5">+</tspan></text>
<text x="306.8" y="867" font-size="13" stroke="#000" stroke-width="0.22">Q</text>
<text x="349.7" y="864.7" font-size="13" text-anchor="middle" stroke="#000" stroke-width="0.22">Sca-1<tspan font-size="7.5" dy="-5">−</tspan></text>
<text x="413.8" y="864.7" font-size="13" text-anchor="middle" stroke="#000" stroke-width="0.22">Sca-1<tspan font-size="7.5" dy="-5">+</tspan></text>
<ellipse cx="349.6" cy="877" rx="18.5" ry="9.5" fill="#fff" stroke="#8a8a8a" stroke-width="0.6"/>
<ellipse cx="349.6" cy="880.2" rx="18.2" ry="8.5" fill="#7a8db5" stroke="#3a4866" stroke-width="0.7"/>
<ellipse cx="349.6" cy="878.6" rx="17.7" ry="7.5" fill="#8496bd" stroke="#4a5a7e" stroke-width="0.5"/>
<circle cx="345.6" cy="875" r="2.3" fill="#6a6a6a" stroke="#333" stroke-width="0.3"/>
<circle cx="345" cy="874.4" r="1" fill="#c8c8c8"/>
<circle cx="350.6" cy="874.5" r="2.3" fill="#6a6a6a" stroke="#333" stroke-width="0.3"/>
<circle cx="350" cy="873.9" r="1" fill="#c8c8c8"/>
<circle cx="343.6" cy="878.5" r="2.3" fill="#6a6a6a" stroke="#333" stroke-width="0.3"/>
<circle cx="343" cy="877.9" r="1" fill="#c8c8c8"/>
<circle cx="348.6" cy="878" r="2.3" fill="#6a6a6a" stroke="#333" stroke-width="0.3"/>
<circle cx="348" cy="877.4" r="1" fill="#c8c8c8"/>
<circle cx="353.6" cy="878" r="2.3" fill="#6a6a6a" stroke="#333" stroke-width="0.3"/>
<circle cx="353" cy="877.4" r="1" fill="#c8c8c8"/>
<circle cx="355.6" cy="876" r="2.3" fill="#6a6a6a" stroke="#333" stroke-width="0.3"/>
<circle cx="355" cy="875.4" r="1" fill="#c8c8c8"/>
<ellipse cx="414.8" cy="877" rx="18.5" ry="9.5" fill="#fff" stroke="#8a8a8a" stroke-width="0.6"/>
<ellipse cx="414.8" cy="880.2" rx="18.2" ry="8.5" fill="#7a8db5" stroke="#3a4866" stroke-width="0.7"/>
<ellipse cx="414.8" cy="878.6" rx="17.7" ry="7.5" fill="#8496bd" stroke="#4a5a7e" stroke-width="0.5"/>
<ellipse cx="411.8" cy="875.5" rx="2.4" ry="1.3" fill="#c83a3a" stroke="#6a1010" stroke-width="0.3"/>
<circle cx="411.8" cy="875.5" r="0.6" fill="#fff"/>
<ellipse cx="416.8" cy="875" rx="2.4" ry="1.3" fill="#c83a3a" stroke="#6a1010" stroke-width="0.3"/>
<circle cx="416.8" cy="875" r="0.6" fill="#fff"/>
<ellipse cx="420.8" cy="877" rx="2.4" ry="1.3" fill="#c83a3a" stroke="#6a1010" stroke-width="0.3"/>
<circle cx="420.8" cy="877" r="0.6" fill="#fff"/>
<ellipse cx="413.8" cy="878.5" rx="2.4" ry="1.3" fill="#c83a3a" stroke="#6a1010" stroke-width="0.3"/>
<circle cx="413.8" cy="878.5" r="0.6" fill="#fff"/>
<ellipse cx="418.8" cy="879" rx="2.4" ry="1.3" fill="#c83a3a" stroke="#6a1010" stroke-width="0.3"/>
<circle cx="418.8" cy="879" r="0.6" fill="#fff"/>
<ellipse cx="409.8" cy="878" rx="2.4" ry="1.3" fill="#c83a3a" stroke="#6a1010" stroke-width="0.3"/>
<circle cx="409.8" cy="878" r="0.6" fill="#fff"/>
<text x="382" y="880.7" font-size="13" text-anchor="middle" stroke="#000" stroke-width="0.22">or</text>
<line x1="382.5" y1="888.3" x2="382.5" y2="899.3" stroke="#000" stroke-width="1.2"/>
<path d="M382.5 902.3L379.9 898.3L385.1 898.3Z" fill="#000"/>
<text x="383" y="913.3" font-size="13" text-anchor="middle" stroke="#000" stroke-width="0.22">Embeded in</text>
<text x="383.4" y="926.3" font-size="13" text-anchor="middle" stroke="#000" stroke-width="0.22">Matrigel</text>
<path d="M386 938 Q390.5 933.8 396.5 936.5 Q400.5 939.5 403.5 941.5 Q406 943 408.5 942.2" fill="none" stroke="#333" stroke-width="1.9" stroke-linecap="round"/>
<path d="M386 938 Q390.5 933.8 396.5 936.5 Q400.5 939.5 403.5 941.5 Q406 943 408.5 942.2" fill="none" stroke="#fff" stroke-width="0.8" stroke-linecap="round"/>
<ellipse cx="382.6" cy="951.2" rx="12.8" ry="10.8" fill="#fff" stroke="#222" stroke-width="0.8"/>
<path d="M369.6 954.5 Q382.6 949.5 395.6 954.5" fill="none" stroke="#9a9a9a" stroke-width="2.8"/>
<path d="M368.8 957 Q368.2 953.2 371.6 953.8 Q376.5 956 382.6 956 Q388.7 956 393.6 953.8 Q397 953.2 396.4 957 Q395 962.5 389.2 967.6 Q386.2 971.6 382.6 971.9 Q379 971.6 376 967.6 Q370.2 962.5 368.8 957Z" fill="#fff" stroke="#222" stroke-width="0.8"/>
<circle cx="382.8" cy="949.4" r="4.1" fill="#8a8a8a" stroke="#111" stroke-width="0.9"/>
<circle cx="379.3" cy="964.6" r="0.9" fill="#000"/>
<circle cx="386.2" cy="964.6" r="0.9" fill="#000"/>
<ellipse cx="382.7" cy="970.2" rx="1.2" ry="0.9" fill="#000"/>
<line x1="379.5" y1="969.5" x2="372.5" y2="968" stroke="#333" stroke-width="0.45"/>
<line x1="379.5" y1="970.5" x2="373.5" y2="972.5" stroke="#333" stroke-width="0.45"/>
<line x1="380" y1="971" x2="376" y2="974" stroke="#333" stroke-width="0.45"/>
<line x1="386" y1="969.5" x2="393" y2="968" stroke="#333" stroke-width="0.45"/>
<line x1="386" y1="970.5" x2="392" y2="972.5" stroke="#333" stroke-width="0.45"/>
<line x1="385.5" y1="971" x2="389.5" y2="974" stroke="#333" stroke-width="0.45"/>
<line x1="382.8" y1="930.7" x2="382.8" y2="942.5" stroke="#000" stroke-width="1.3"/>
<path d="M382.8 945.3L380.3 941.5L385.3 941.5Z" fill="#000"/>
<text x="380.2" y="985.4" font-size="13" text-anchor="middle" fill="#a52a2a" stroke="#a52a2a" stroke-width="0.22">D14 (Analysis)</text>
<text x="449.6" y="867" font-size="13" stroke="#000" stroke-width="0.22">R</text>
<rect x="482.4" y="852.1" width="93.8" height="12.7" fill="#fff" stroke="#000" stroke-width="0.8"/>
<text x="529.3" y="862.8" font-size="13" text-anchor="middle" stroke="#000" stroke-width="0.22">Sca-1<tspan font-size="7.5" dy="-5">−</tspan></text>
<rect x="581.2" y="852.1" width="93.8" height="12.7" fill="#fff" stroke="#000" stroke-width="0.8"/>
<text x="628.1" y="862.8" font-size="13" text-anchor="middle" stroke="#000" stroke-width="0.22">Sca-1<tspan font-size="7.5" dy="-5">+</tspan></text>
<rect x="470.8" y="869.8" width="8.6" height="33.1" fill="#fff" stroke="#000" stroke-width="0.8"/>
<text x="478.5" y="886.3" font-size="11.5" text-anchor="middle" stroke="#000" stroke-width="0.22" transform="rotate(-90 478.5 886.3)">BF</text>
<rect x="470.8" y="907.7" width="8.6" height="70.6" fill="#fff" stroke="#000" stroke-width="0.8"/>
<text x="478.6" y="943" font-size="11.5" text-anchor="middle" stroke="#000" stroke-width="0.22" transform="rotate(-90 478.6 943)"><tspan fill="#b01c1c" stroke="#b01c1c">CD31</tspan><tspan fill="#2a2ab0" stroke="#2a2ab0">/DAPI</tspan></text>
<rect x="482.4" y="869.8" width="93.8" height="33.1" fill="#fff" stroke="#000" stroke-width="0.9"/>
<rect x="581.2" y="869.8" width="93.8" height="33.1" fill="#fff" stroke="#000" stroke-width="0.9"/>
<path d="M506.3 887C506.2 888.7 505.6 890.4 504.9 891.8C504.1 893.2 502.9 894.3 501.6 895.3C500.4 896.3 498.8 897.8 497.3 897.9C495.8 898 494 896.8 492.7 895.9C491.3 895 489.9 893.7 489.1 892.2C488.3 890.8 488 888.7 488 887C488.1 885.3 488.8 883.6 489.5 882C490.3 880.5 491.2 878.8 492.5 877.9C493.8 877 495.7 876.7 497.3 876.7C498.9 876.7 500.7 876.9 502.1 877.8C503.5 878.6 504.8 880.3 505.5 881.8C506.2 883.3 506.4 885.3 506.3 887Z" fill="#6a1e1e" stroke="#2a0808" stroke-width="0.8"/>
<ellipse cx="495.4" cy="883.9" rx="3.8" ry="3.1" fill="#fff" fill-opacity="0.18"/>
<path d="M538.6 887.5C538.5 889 537.6 890.6 536.7 891.8C535.7 893 534.3 893.9 532.9 894.6C531.6 895.2 530 895.5 528.4 895.6C526.8 895.8 524.7 896 523.4 895.3C522.1 894.6 521.3 892.9 520.5 891.6C519.7 890.3 518.6 888.9 518.5 887.5C518.4 886.1 519 884.2 519.9 883.1C520.8 881.9 522.5 881.3 523.9 880.6C525.4 879.8 526.9 878.4 528.4 878.4C529.9 878.4 531.3 879.8 532.8 880.6C534.3 881.3 536.3 881.7 537.3 882.9C538.3 884 538.7 886 538.6 887.5Z" fill="#e07050" stroke="#c04a30" stroke-width="0.8"/>
<ellipse cx="526.4" cy="884.8" rx="4" ry="2.7" fill="#fff" fill-opacity="0.18"/>
<path d="M570.2 887.3C570.2 888.9 568.7 890.6 567.8 892.1C566.9 893.6 566.2 895.5 564.8 896.4C563.4 897.4 561.2 898 559.5 897.8C557.8 897.7 556.3 896.4 554.8 895.5C553.3 894.6 551.3 893.9 550.5 892.5C549.7 891.2 550.1 889.1 550 887.3C550 885.5 549.4 883.4 550.1 881.9C550.8 880.4 552.7 879.2 554.3 878.2C555.8 877.3 557.8 876.1 559.5 876.3C561.2 876.5 562.8 878.2 564.2 879.2C565.6 880.2 567 881 568 882.4C569 883.7 570.3 885.7 570.2 887.3Z" fill="#3a0a0e" stroke="#1a0204" stroke-width="0.8"/>
<ellipse cx="557.4" cy="884.1" rx="4.2" ry="3.1" fill="#fff" fill-opacity="0.18"/>
<path d="M607.9 886.2C608 887.6 607.5 889.3 606.5 890.4C605.6 891.5 603.9 892.1 602.4 892.9C600.9 893.7 599.3 894.8 597.6 895C595.9 895.1 593.6 894.5 592.2 893.7C590.8 892.9 589.8 891.4 589.1 890.2C588.4 888.9 588.2 887.6 588.1 886.2C588 884.8 587.8 883.1 588.6 882C589.3 880.8 591.1 879.9 592.6 879.2C594.1 878.5 595.9 877.8 597.6 877.8C599.3 877.7 601.2 878.4 602.7 879.1C604.1 879.8 605.3 881 606.2 882.2C607.1 883.4 607.9 884.8 607.9 886.2Z" fill="#eab07a" stroke="#d08a50" stroke-width="0.8"/>
<ellipse cx="595.5" cy="883.7" rx="4.2" ry="2.5" fill="#fff" fill-opacity="0.18"/>
<path d="M640.1 887.5C640.1 889.3 639.6 891.3 638.8 892.9C637.9 894.6 636.5 896.4 634.8 897.5C633.1 898.6 630.7 899.6 628.6 899.5C626.5 899.5 624.3 898.4 622.4 897.4C620.5 896.4 618.3 895.2 617.3 893.5C616.2 891.9 616 889.5 616 887.5C615.9 885.5 616 883 617 881.3C618 879.6 620.2 878 622.2 877.2C624.1 876.4 626.5 876.1 628.6 876.3C630.7 876.4 632.8 877.1 634.5 878.1C636.1 879.1 637.7 880.6 638.6 882.2C639.6 883.7 640.1 885.7 640.1 887.5Z" fill="#f0dcc4" stroke="#d8b890" stroke-width="0.8"/>
<ellipse cx="626" cy="883.9" rx="5.2" ry="3.6" fill="#fff" fill-opacity="0.18"/>
<path d="M669.9 887.3C670 889 670.6 891.1 669.9 892.7C669.2 894.2 667.3 895.8 665.6 896.7C663.9 897.5 661.5 898.1 659.7 897.9C657.9 897.7 656.2 896.4 654.5 895.5C652.9 894.6 650.7 893.9 649.8 892.5C649 891.1 649.4 889.1 649.3 887.3C649.3 885.5 648.7 883.4 649.4 881.9C650.2 880.4 652.3 879.1 654 878.3C655.7 877.4 657.8 876.7 659.7 876.7C661.6 876.7 663.8 877.4 665.4 878.4C666.9 879.3 668.4 880.8 669.2 882.3C669.9 883.8 669.8 885.6 669.9 887.3Z" fill="#f2d494" stroke="#dcb470" stroke-width="0.8"/>
<ellipse cx="657.4" cy="884.1" rx="4.6" ry="3.1" fill="#fff" fill-opacity="0.18"/>
<ellipse cx="493" cy="893" rx="6" ry="4" fill="#200404" fill-opacity="0.8"/>
<clipPath id="clipR1"><rect x="482.4" y="907.7" width="93.8" height="70.6"/></clipPath><clipPath id="clipR2"><rect x="581.2" y="907.7" width="93.8" height="70.6"/></clipPath>
<rect x="482.4" y="907.7" width="93.8" height="70.6" fill="#02020a"/>
<rect x="581.2" y="907.7" width="93.8" height="70.6" fill="#02020a"/>
<g clip-path="url(#clipR1)">
<path transform="scale(.5)" d="M1133 1821h0m0 2h0m-7 0h0m0-3h0m-6 1h0m-12 1h0m-4-1h0m-4 1h0m-20 1h0m-13-1h0m-22-5h0m-32 7h0m2 7h0m3-7h0m3 0h0m3 3h0m0-3h0m11 0h0m5 7h0m9-1h0m12 1h0m15-6h0m1-1h0m1 7h0m9-4h0m0 1h0m1 0h0m5 3h0m4 0h0m3-3h0m3-4h0m6 3h0m9 4h0m15-4h0m18 2h0m-13 7h0m-1 0h0m-17 0h0m-2 0h0m-5-2h0m-1 2h0m-3-3h0m-3 0h0m-5 2h0m-6-3h0m-7 6h0m-3 0h0m-9 1h0m-2-5h0m-5 3h0m-6-4h0m-1 5h0m-3 0h0m-14-6h0m-8 5h0m-53 2h0m-7-6h0m51 9h0m9 3h0m13-4h0m2 4h0m2-3h0m19 2h0m4 1h0m0 1h0m5-2h0m7 1h0m7 0h0m4-2h0m4-3h0m0 2h0m1-2h0m0 3h0m0 0h0m1-1h0m8-1h0m1 5h0m3-6h0m10 2h0m0 2h0m12 3h0m0 1h0m-5 3h0m-2-2h0m-9-1h0m-8 1h0m-2-1h0m0 1h0m-4 6h0m-11-4h0m0 1h0m0 0h0m-1-1h0m-2-1h0m-1 5h0m-4-3h0m0 3h0m-4-5h0m-2 3h0m-2-1h0m-6 0h0m-1 0h0m-9 3h0m-1-2h0m-22-1h0m-3 0h0m-4 1h0m-2-3h0m-3 0h0m-8 2h0m-4 3h0m-14-7h0m-19 3h0m-3 4h0m-5-1h0m25 7h0m19 1h0m5-4h0m0 2h0m3 2h0m4-3h0m11 4h0m5-5h0m1-1h0m3 1h0m5 3h0m2 0h0m9-4h0m8 5h0m14 0h0m12-5h0m9 1h0m0 2h0m5 3h0m1-5h0m19 7h0m-27 2h0m-11-1h0m-13 4h0m-9 1h0m-1-5h0m-2 1h0m-5 0h0m-3 0h0m-1 4h0m-4-2h0m-5 1h0m-3-5h0m-4 5h0m-5-2h0m-1 3h0m-14 0h0m-16 0h0m-15-4h0m0-1h0m-3 1h0m-25 3h0m22 4h0m0 2h0m6-4h0m3 3h0m17-3h0m12 5h0m16-4h0m1 5h0m13-2h0m22 2h0m6-4h0m7-1h0m2-1h0m25 4h0m5-3h0m1 3h0m4-2h0m10 5h0m-18 2h0m-6 1h0m-10-2h0m-8 1h0m-4 0h0m-22 4h0m-3-1h0m-3 3h0m-5-4h0m0-1h0m-3 3h0m-12-2h0m-17 0h0m-3 3h0m-5-4h0m0 0h0m-7 0h0m-1 0h0m-3 2h0m-16-1h0m-6-1h0m-13 0h0m10 10h0m8 2h0m4-2h0m8 0h0m16 1h0m7-1h0m6-2h0m3-1h0m2 0h0m8 5h0m0-2h0m2 1h0m2 1h0m2-6h0m1 5h0m1-5h0m4 6h0m2-1h0m8 2h0m3-4h0m0-1h0m7-1h0m0 2h0m8-2h0m25 1h0m18-2h0m5 4h0m-14 11h0m-7-7h0m-10 3h0m-4-2h0m-11 0h0m-8 2h0m-3 1h0m-7 3h0m-1-1h0m-4-6h0m0 5h0m0-3h0m-4 5h0m-1-5h0m-6 4h0m-3-2h0m0-3h0m-2 4h0m-9 0h0m-2-1h0m-2 2h0m-1-6h0m-7 3h0m-4-2h0m-22 5h0m-2-5h0m-4 4h0m-28 2h0m17 1h0m12 1h0m6 1h0m4 5h0m1-7h0m0 6h0m6-3h0m0 4h0m2 0h0m9-1h0m4-1h0m0-3h0m4 5h0m0-1h0m7-5h0m4 3h0m1 1h0m4-5h0m10 3h0m2 1h0m1-4h0m5 1h0m3 0h0m3-1h0m5 4h0m1-3h0m2 5h0m0-5h0m6 4h0m1 0h0m6-3h0m15-2h0m7 1h0m11 1h0m-7 8h0m-7 3h0m-17 2h0m-4-1h0m-3-6h0m-2 6h0m-5-5h0m-4 1h0m-1-1h0m-2 6h0m-2-6h0m-8 6h0m-2-5h0m-3-1h0m-1 3h0m-11 1h0m0-3h0m-3 4h0m-1-4h0m-1 2h0m-3 1h0m-3-1h0m-4 2h0m-2-3h0m-3 4h0m-1-2h0m-2 2h0m0-1h0m-1-6h0m-8 4h0m-8 0h0m-1-3h0m-9 2h0m0 0h0m-5-2h0m0 2h0m-4 3h0m-12 5h0m11-2h0m7 0h0m1 2h0m8 4h0m3-3h0m4-1h0m5-3h0m3 2h0m3 3h0m6-4h0m1-1h0m1 5h0m15-5h0m2 1h0m2 5h0m3-6h0m1 1h0m9 4h0m1 0h0m11-1h0m1 1h0m3 1h0m7-3h0m0-2h0m19 2h0m8 1h0m17-4h0m-19 11h0m-16-3h0m0 4h0m-4 0h0m-2-1h0m-8 0h0m-2 1h0m0 3h0m-2-1h0m-10-4h0m-1-2h0m-6 3h0m0-2h0m-10 3h0m-15-4h0m0 1h0m-7 0h0m-11 2h0m-8-2h0m-5 1h0m-18 2h0m-10-4h0m-8 3h0m36 9h0m9 3h0m14-7h0m11 5h0m1-4h0m0 4h0m10-1h0m4-4h0m5 3h0m2-3h0m16 7h0m63-3h0m-76 9h0m0-3h0m-10 2h0m-2 0h0m-31-3h0m-16 5h0m-16-6h0m-4 3h0m24 5h0m32 1h0m4 0h0m34 2h0m47-1h0m14-2h0" stroke="#3a3ad8" stroke-width="1.8" stroke-linecap="round" stroke-opacity="0.8"/>
<path transform="scale(.5)" d="M1149 1818h0m-8 5h0m-8-3h0m-15 3h0m-1-3h0m-13-1h0m-9 0h0m-12 1h0m-13 1h0m-2-3h0m-5 0h0m-27 4h0m-53 7h0m6-4h0m69 1h0m8 3h0m8-2h0m1 0h0m9 1h0m1 1h0m0 2h0m1-6h0m7 3h0m0-2h0m0-1h0m4 2h0m4 0h0m2 1h0m10 3h0m8 0h0m1 0h0m1-4h0m1 2h0m2-4h0m0 3h0m7-3h0m2 0h0m9 5h0m2 7h0m-5-1h0m-3 1h0m-1 1h0m-7-1h0m-2 1h0m-10-5h0m-15 3h0m-8-3h0m0 4h0m-1 2h0m-3-1h0m-4 1h0m-11-1h0m-5-5h0m-8 6h0m-4-3h0m-2 3h0m-7-7h0m-10 5h0m-4-3h0m-52 5h0m9 5h0m10 0h0m39-2h0m2 0h0m5 0h0m4 4h0m6-2h0m0-1h0m4 2h0m14-5h0m2 5h0m4-3h0m2-2h0m9 4h0m20 3h0m12-1h0m7 0h0m2-4h0m7 3h0m3-2h0m2 3h0m-5 3h0m-1 6h0m-5 0h0m-7-7h0m-3 4h0m-4-4h0m-1 4h0m-15-2h0m-9 2h0m-1 3h0m-2-4h0m-8 1h0m-9 1h0m-1-3h0m-14 4h0m-9-3h0m-2-2h0m-15 4h0m-8 2h0m-10-4h0m-7-1h0m-1 2h0m-2-1h0m-15 4h0m12 7h0m7-3h0m7 1h0m13 3h0m11-2h0m1 0h0m5 2h0m10-2h0m7-1h0m2-2h0m1 0h0m17-1h0m6 1h0m1 0h0m28 4h0m10-5h0m0 5h0m9-2h0m1-2h0m-10 9h0m-2 1h0m-16 2h0m-2 1h0m-9-3h0m-3-3h0m-3 0h0m-2-1h0m-14 3h0m-3-3h0m-5 0h0m0 6h0m-8 0h0m-1 1h0m-1-2h0m-10-2h0m-2-2h0m-7 6h0m-2-4h0m-15-1h0m-10-1h0m-10 0h0m-24 1h0m-13 6h0m7 5h0m7-1h0m5-3h0m18 6h0m4-3h0m0 1h0m0-4h0m7 4h0m0-5h0m6 7h0m3-1h0m10 0h0m1-1h0m2-2h0m10 3h0m8 0h0m2-2h0m5 3h0m9 0h0m36 0h0m25-4h0m10-1h0m-28 9h0m-12-1h0m-4 3h0m-10 1h0m-9-6h0m-7 5h0m-22-5h0m-4 5h0m-1 0h0m-1 0h0m-1-1h0m-3-4h0m-2 4h0m-1 1h0m0-1h0m-1-4h0m0 5h0m-7-4h0m-3 3h0m-8 0h0m-5 3h0m-19-5h0m-12 1h0m-17 12h0m21-3h0m1-4h0m10 1h0m21 5h0m4-2h0m2 2h0m2 1h0m3-7h0m10 5h0m3-2h0m1 4h0m7-1h0m1-4h0m1 3h0m3-4h0m1 4h0m1-5h0m1 6h0m3-4h0m5 1h0m3 2h0m3 1h0m5 0h0m4-1h0m6 1h0m5 1h0m0-4h0m5 0h0m3-2h0m7 1h0m1 1h0m5 1h0m4 0h0m26-4h0m-6 9h0m-36 3h0m-6 2h0m-14 0h0m0-4h0m-5 1h0m-6 1h0m-2-3h0m-2 6h0m-1-5h0m-4 0h0m-1 4h0m-1-5h0m-4 4h0m-4-2h0m-3 4h0m-4-5h0m-5-2h0m-9 0h0m-2 2h0m-3 5h0m-2-1h0m-1-4h0m-2-1h0m-3 2h0m-8 3h0m-7 0h0m0-1h0m-11-2h0m-1 2h0m-5 0h0m0-1h0m30 6h0m4 2h0m8-4h0m1 5h0m2-2h0m2 1h0m1-3h0m5 6h0m5-6h0m1 3h0m4-3h0m3-1h0m2 4h0m2 1h0m1 1h0m9-5h0m2 6h0m3-6h0m1 3h0m11 1h0m8 1h0m33 1h0m2-1h0m13 4h0m-4 2h0m-24 2h0m-2 0h0m-2-1h0m-18-4h0m-2 5h0m-2 0h0m-1-3h0m-1 1h0m-5-1h0m-9-3h0m-3 1h0m-4 6h0m-6-5h0m-8 2h0m-1-3h0m-6 6h0m-3-6h0m-1 4h0m-20-3h0m0 3h0m-1-3h0m0 5h0m-1-2h0m-2 2h0m0-7h0m-11 5h0m-15-4h0m21 8h0m2 2h0m1 0h0m2-2h0m6 6h0m4-1h0m2-1h0m3-4h0m6 2h0m1-1h0m0 3h0m4-1h0m1-1h0m4 3h0m3-4h0m9 4h0m0-2h0m1-2h0m5 4h0m9 1h0m1-1h0m1 1h0m1 0h0m2-6h0m6 0h0m3 0h0m27 3h0m3 0h0m16 2h0m-7 8h0m-22-1h0m-21 2h0m-1-6h0m-2 4h0m-2 1h0m-25-3h0m-3 0h0m-2 1h0m0 1h0m-3 1h0m-5-6h0m-1 6h0m-4-1h0m-4 1h0m-4-3h0m-3 0h0m-22 1h0m-23 8h0m21 0h0m6-1h0m8-2h0m1 3h0m7 2h0m11-2h0m5 2h0m2-5h0m0 2h0m1-2h0m2-1h0m0 7h0m4-6h0m4 1h0m2 2h0m0 3h0m1-7h0m4 1h0m0 3h0m6-1h0m1-3h0m14 5h0m11-1h0m22 3h0m0 0h0m0-4h0m32 7h0m-52 3h0m-1 1h0m-18-5h0m-4 6h0m-6 0h0m0-4h0m-2 4h0m-7-5h0m-15 5h0m-15 1h0m33 0h0m38 0h0m25 2h0" stroke="#5a5af0" stroke-width="1.6" stroke-linecap="round" stroke-opacity="0.7"/>
</g>
<g clip-path="url(#clipR2)">
<path transform="scale(.5)" d="M1347 1823h0m-1-5h0m-13 3h0m-7-2h0m-15 3h0m0-4h0m-14 4h0m-5 0h0m-2 0h0m-2-2h0m-9-1h0m0 1h0m-2 1h0m-4-3h0m0 2h0m-2-2h0m0 3h0m-7-1h0m-5 2h0m-4-2h0m-12 0h0m-3-1h0m-7 1h0m-2 3h0m-5-1h0m-2-5h0m-6 5h0m-2-1h0m-6-3h0m-8 5h0m-19-2h0m-2-1h0m-3-3h0m-2 3h0m-6-3h0m-5 14h0m9-1h0m5 1h0m4-3h0m1-2h0m27 4h0m6-3h0m6 4h0m15-7h0m1 3h0m0 2h0m4-4h0m9-1h0m3 3h0m4 3h0m7-2h0m58-4h0m5 6h0m1-6h0m3 6h0m2 1h0m2 2h0m-9 3h0m-58 0h0m-10-2h0m-4-1h0m-5 6h0m-2-7h0m-6 0h0m-1 3h0m-7-3h0m-2 1h0m0 3h0m-1-1h0m-2 3h0m-1-1h0m-3 1h0m-6-1h0m-7 0h0m-26-4h0m-5 5h0m-2 1h0m-15 7h0m3-1h0m11 1h0m3-3h0m2 1h0m5 3h0m2-2h0m7 2h0m1 0h0m10-5h0m1 5h0m0 0h0m0 0h0m12-7h0m4 4h0m2 3h0m2-3h0m12-4h0m2 0h0m0 7h0m6-7h0m4 7h0m3 0h0m1-3h0m4 3h0m2-7h0m69 7h0m1-6h0m2 4h0m11 0h0m0 7h0m0 2h0m-14-6h0m-1 7h0m-2-7h0m0 1h0m0 3h0m-60 3h0m-7-1h0m0 0h0m-2-4h0m-1-1h0m-5 1h0m-5-1h0m-22 0h0m-12 6h0m-7-6h0m0 4h0m0-4h0m-6-1h0m-6 4h0m-3-4h0m-12 6h0m-5-4h0m-7 13h0m9-7h0m1 7h0m27-6h0m1 0h0m2 1h0m2 3h0m37-2h0m2 1h0m4-4h0m2 6h0m2 0h0m5-1h0m7 1h0m58-1h0m15 5h0m-2 3h0m-7-3h0m-1 3h0m-56-2h0m-6 3h0m-1-6h0m-5 0h0m-1 4h0m0-2h0m-1 2h0m0 0h0m0-2h0m-58-2h0m-4 5h0m-2-3h0m-11-1h0m-4 5h0m0 0h0m-6-4h0m-1-2h0m-7 2h0m-3 2h0m-2 9h0m2-5h0m3 3h0m5-1h0m9-1h0m1 3h0m4 1h0m6 2h0m1-4h0m5 0h0m2 4h0m1-3h0m0-2h0m3 4h0m1-3h0m46 0h0m2 2h0m7-4h0m2 2h0m8-3h0m4 4h0m7 1h0m3 0h0m5 0h0m20 1h0m1 1h0m1 0h0m2-1h0m0-1h0m4 2h0m5-3h0m3 3h0m5-7h0m9 5h0m2 2h0m-4 1h0m0 2h0m-1 2h0m-9-1h0m-2-3h0m-7 2h0m-4 5h0m-13-7h0m-3 0h0m-3 1h0m-6 1h0m-3 4h0m-1-4h0m-1-1h0m-11 5h0m-1 0h0m-1-4h0m-2 2h0m-1 3h0m-8-4h0m-8-2h0m-3 3h0m0 2h0m-40 0h0m0 0h0m-5-2h0m-2-2h0m0-1h0m-1 2h0m-1-2h0m0 4h0m-4-1h0m-4-2h0m-9 2h0m-1-4h0m-2 3h0m0 3h0m-7-6h0m-1 3h0m1 7h0m2 3h0m3 2h0m2-4h0m10 0h0m0-1h0m3 5h0m16-6h0m8 4h0m8-2h0m0 4h0m1-2h0m1 0h0m2 1h0m5-3h0m3-1h0m0 4h0m2-3h0m14-3h0m5 4h0m4 0h0m1 2h0m7-5h0m1 1h0m5 5h0m0-1h0m0-6h0m1 1h0m1 4h0m2-5h0m1 4h0m1 0h0m4 1h0m4 2h0m2-1h0m4-4h0m0 2h0m1-3h0m1 3h0m2 2h0m4-4h0m2 3h0m10-4h0m10 2h0m11 4h0m5-7h0m-6 14h0m-6-5h0m-3 5h0m-4 0h0m-3-5h0m-3 1h0m0 5h0m-4-5h0m-4 4h0m-8-6h0m-10 4h0m-1 0h0m0-3h0m-1 0h0m-5 0h0m-9 2h0m-2-2h0m-2-1h0m-7 7h0m-1-3h0m0-4h0m-7 7h0m-5-4h0m-5-3h0m-2 2h0m-1-2h0m-1 0h0m-2 3h0m0-2h0m-7 3h0m0-1h0m0-1h0m-3 4h0m-5-1h0m-10-3h0m-11 0h0m-3 4h0m-7-5h0m-5 4h0m0-5h0m0 5h0m0-4h0m-2 4h0m-1 1h0m-1-5h0m-7 6h0m-6-1h0m-5-5h0m-4-1h0m-1 11h0m2 4h0m9-2h0m4-1h0m5-3h0m1 5h0m3 1h0m5-1h0m5-4h0m6 4h0m3-1h0m7-3h0m6 5h0m9-4h0m0 2h0m1-2h0m1-1h0m5-1h0m17-1h0m0 1h0m1 2h0m3 2h0m3-5h0m6 7h0m2-1h0m2 0h0m34-6h0m3 6h0m2-5h0m9 3h0m0-4h0m15 6h0m0-3h0m8-1h0m4 10h0m0 3h0m-6-2h0m-1-3h0m-1 5h0m-3-6h0m-3 3h0m-7 1h0m0-4h0m-3-1h0m-4 6h0m-1-5h0m-2 3h0m-8 0h0m-5-1h0m-2 0h0m-1 2h0m0-5h0m-2 4h0m-10-3h0m-2 1h0m0 5h0m-3 0h0m-1-5h0m0-2h0m-1 3h0m-3 3h0m-2-4h0m-19 1h0m-4 2h0m-9-4h0m-2 1h0m-5 4h0m-3-3h0m-6-1h0m-2-1h0m-9 4h0m-4-1h0m-3 0h0m-16-2h0m0 1h0m-9-3h0m-1 7h0m-3-1h0m-7 1h0m-3 0h0m-6 5h0m8 3h0m3-3h0m1 1h0m2-4h0m7 0h0m1-1h0m7 2h0m1 5h0m11-4h0m3 1h0m12-2h0m0 2h0m1-3h0m2 4h0m5-3h0m8 1h0m3 4h0m11 0h0m28-6h0m6 0h0m5 3h0m6-1h0m0 0h0m6-2h0m15-1h0m7 3h0m5 0h0m1 0h0m4 3h0m1-6h0m1 6h0m3-4h0m5 1h0m3 11h0m-4-5h0m-7 6h0m-5-2h0m-3-3h0m-2 1h0m-1-2h0m-1 2h0m-5-1h0m-10-2h0m-2 7h0m-9-5h0m-3 1h0m-2-2h0m-11 3h0m-3 2h0m-29-4h0m-3 5h0m-1-3h0m0-3h0m-1 6h0m-3-5h0m0-2h0m-19 1h0m-1 3h0m-3 0h0m-9-1h0m0 0h0m-9-2h0m-8 2h0m-3-1h0m-23 0h0m-3 2h0m5 6h0m7 5h0m13-3h0m5-1h0m0 4h0m0-5h0m5 3h0m0-1h0m1 3h0m2-4h0m20 1h0m2-4h0m6 6h0m1-5h0m3 2h0m12-3h0m3 0h0m9 4h0m0-3h0m3 4h0m13-2h0m14-3h0m1 6h0m2-6h0m10 0h0m9 0h0m10 1h0m2 2h0m6-3h0m10 3h0m-4 8h0m-7-3h0m-6 1h0m-11 4h0m-5-4h0m-8 5h0m-5-2h0m-32-1h0m0-2h0m-7 6h0m-13-6h0m-8 3h0m-7-2h0m-8 1h0m-6-2h0m-2 0h0m-4 2h0m-5 3h0m-2-2h0m-6-2h0m0-2h0m-9 2h0m-7 2h0m-10 7h0m32 0h0m5 0h0m18-1h0m10-1h0m2 1h0m21-2h0m13 3h0m16-1h0m10-1h0m2 2h0m8 0h0" stroke="#3a3ad8" stroke-width="1.8" stroke-linecap="round" stroke-opacity="0.8"/>
<path transform="scale(.5)" d="M1337 1823h0m-6 0h0m-6-5h0m-4 4h0m-13-3h0m-3-1h0m-1 2h0m-13-1h0m-21 4h0m-11-4h0m-10 2h0m-14 2h0m-5 0h0m-4 0h0m-3-4h0m-18 3h0m-11-1h0m-1-1h0m-18 2h0m-9-3h0m0 12h0m1-2h0m12 1h0m7-4h0m5 4h0m7-5h0m12 3h0m4-1h0m6 4h0m20 0h0m2-4h0m3 1h0m2 0h0m2 3h0m3 0h0m23-3h0m1-2h0m4 4h0m39-4h0m1 3h0m9-3h0m12 8h0m-13-1h0m-3 0h0m-50 3h0m-1 0h0m-6 3h0m-3 0h0m-6-3h0m0-1h0m-4-3h0m-3 1h0m-2-1h0m-1 2h0m-7 0h0m-3 3h0m-9 0h0m-4-3h0m-4 5h0m-39-6h0m-3-1h0m-14 1h0m13 13h0m10-5h0m8 6h0m2 0h0m9-5h0m7 3h0m1 0h0m11-3h0m8-1h0m1 5h0m2-6h0m1 5h0m7 0h0m1-1h0m1 0h0m6 1h0m5-4h0m0 0h0m2 2h0m2-3h0m4 2h0m64 2h0m0-1h0m10 4h0m0-3h0m0 1h0m3-4h0m1-1h0m-3 13h0m-72 1h0m-1 0h0m-1-4h0m-3-1h0m0 4h0m-1-5h0m-7 1h0m-4-1h0m-7 7h0m-1-2h0m-5-5h0m-11 0h0m-7 0h0m-5 4h0m-1-2h0m-5 0h0m-4 0h0m-12 1h0m-3-1h0m-3 4h0m-9-5h0m-1 6h0m-6-5h0m-1-2h0m-7 7h0m-1 4h0m8 2h0m0 1h0m4-2h0m4 1h0m0-4h0m1-1h0m2 5h0m3-5h0m5 1h0m1 5h0m0-2h0m7 0h0m1-4h0m1 7h0m5 0h0m44-7h0m3 2h0m1 4h0m5 0h0m3-3h0m1-2h0m4 1h0m2-1h0m5 6h0m57-5h0m7-1h0m6 4h0m3 1h0m1-3h0m-10 9h0m-2 0h0m-57 2h0m0-2h0m-5-2h0m0 1h0m-11-3h0m0 6h0m-9-5h0m-58 2h0m-2-3h0m-1 7h0m-1-1h0m-2-6h0m-4 2h0m-12 0h0m-2 4h0m-4 4h0m4-1h0m1 4h0m5 1h0m4 1h0m12-2h0m15-3h0m43-2h0m6 7h0m3-6h0m6 1h0m15 0h0m0 1h0m1 2h0m9 0h0m23 0h0m9-5h0m4 5h0m4-2h0m1-1h0m7 3h0m5-5h0m-1 12h0m-3 2h0m0 1h0m-2 0h0m-4-3h0m-2 2h0m-16-4h0m-7 4h0m-3 1h0m-8-6h0m-11-1h0m-1 2h0m-6 2h0m-1 2h0m-3 0h0m-3 0h0m-5-3h0m0 3h0m-8-1h0m-9 1h0m-5 1h0m-34-6h0m0 2h0m-1 0h0m-8-3h0m-1 7h0m-3-3h0m-3-2h0m-5 5h0m-2-2h0m-3-1h0m0-3h0m0 4h0m-2-2h0m-2 4h0m-3-7h0m-6 4h0m3 10h0m3-1h0m2 1h0m2 0h0m10-6h0m0 6h0m3-2h0m1-3h0m1 5h0m0-4h0m2 0h0m2-1h0m2 4h0m2 1h0m0-6h0m4 3h0m3 3h0m3-3h0m6 0h0m2 3h0m3 1h0m6-3h0m3-1h0m0 4h0m12-3h0m1 1h0m6-2h0m5-2h0m9 5h0m0-4h0m2 2h0m3 3h0m3 0h0m1-3h0m0 2h0m3-4h0m0-1h0m3 3h0m3 3h0m2 0h0m4-1h0m3-3h0m3 2h0m4-2h0m7 2h0m12 1h0m0-5h0m1 3h0m0-2h0m5-2h0m0 7h0m2-7h0m0 3h0m1-3h0m0 1h0m5 2h0m3 2h0m6 5h0m-2 3h0m-7-3h0m-13 5h0m-4-2h0m-5-3h0m-5 2h0m-4-2h0m-4 0h0m-1 4h0m-12-3h0m-6 3h0m-2-4h0m-3 5h0m-7-4h0m-3 1h0m0 1h0m-4-4h0m0 3h0m-5-3h0m0 3h0m-1 2h0m-3-5h0m-6 4h0m-2-2h0m-1 4h0m-8 0h0m-1-4h0m-4 2h0m-1-2h0m0 4h0m-14-7h0m0 1h0m-3 6h0m-7-4h0m-2 2h0m-3 0h0m-19-3h0m0 3h0m-3-1h0m-7 2h0m-3 1h0m-6 7h0m2 0h0m10 1h0m6-1h0m0 1h0m2-6h0m0-1h0m15 3h0m2 3h0m4 0h0m6-4h0m1-1h0m7-1h0m7 2h0m3 5h0m4-1h0m13-4h0m8 5h0m5-4h0m9 0h0m3-1h0m3 2h0m2-3h0m5 4h0m2-1h0m1 0h0m9 3h0m0-1h0m11-2h0m4-4h0m3 4h0m6-3h0m8 1h0m1 3h0m2-5h0m2 2h0m0-2h0m3 6h0m5 0h0m5-3h0m0-1h0m-1 11h0m-5 1h0m-8-4h0m-5 0h0m-1-1h0m-1-1h0m-7 5h0m-13 1h0m-8-5h0m-6 0h0m-4 1h0m-11 0h0m-18 3h0m-1-4h0m-16 4h0m-5-1h0m-2-2h0m-5 0h0m0 1h0m-2 4h0m0-6h0m-2 6h0m-6 0h0m-1-4h0m-13-2h0m-1 6h0m-3-5h0m-30 1h0m3 10h0m3-5h0m5 1h0m3 2h0m17-2h0m1 3h0m3 3h0m2-1h0m4 0h0m2-3h0m2 0h0m1 2h0m1-2h0m3-3h0m1 7h0m5-7h0m2 5h0m0 2h0m0-3h0m3 2h0m0-4h0m7-1h0m5-1h0m0 3h0m4 2h0m2-5h0m1 5h0m33-5h0m2 2h0m5 4h0m9-4h0m5 5h0m1-2h0m0-1h0m2 3h0m1-6h0m5 0h0m0 1h0m6 2h0m2 0h0m2-1h0m1-1h0m3 3h0m4 1h0m6 8h0m-4-2h0m-8-1h0m-2 4h0m-3-6h0m-1 1h0m-7 2h0m-2-4h0m-1 6h0m-10-1h0m-2 2h0m-11 0h0m-6-5h0m-25 1h0m-5 0h0m-4 1h0m-6-3h0m-4 6h0m-14-4h0m-3-1h0m-5 2h0m-2-3h0m-2 1h0m-1-1h0m-9 1h0m-1 5h0m0 0h0m-20-2h0m-9 4h0m7 4h0m6 0h0m5 2h0m4-1h0m4 0h0m0-4h0m4 4h0m3-3h0m2 0h0m13-3h0m1 7h0m10-4h0m0-2h0m6 2h0m3 2h0m4-5h0m10 4h0m0 0h0m5 2h0m14-6h0m1 7h0m17-7h0m0 3h0m9 4h0m13-3h0m0-2h0m2 2h0m3-3h0m2 5h0m1 0h0m4 1h0m1-4h0m1 4h0m0-5h0m6 0h0m9 2h0m0-4h0m1 2h0m2 5h0m1-6h0m3 6h0m2-6h0m-16 7h0m-5 1h0m0 3h0m-5-3h0m-1-1h0m-1 5h0m-14-1h0m-2 3h0m-1-3h0m-2-4h0m-9 4h0m-5-1h0m-2-1h0m-1-1h0m-1 1h0m-7 5h0m-2-1h0m-21-4h0m-2-2h0m-5 1h0m-4 1h0m-14 5h0m-8 0h0m-2-6h0m-1-1h0m0 2h0m-3 0h0m-4-2h0m0 0h0m-21 3h0m-23 8h0m13-1h0m13 0h0m2 0h0m18-2h0m8 1h0m2 1h0m28-1h0m8 1h0m11 1h0m25-1h0m4 0h0m9 1h0m8-3h0m15 2h0" stroke="#5a5af0" stroke-width="1.6" stroke-linecap="round" stroke-opacity="0.7"/>
</g>
<clipPath id="clipRi1"><rect x="539.5" y="940.8" width="36.3" height="37.5"/></clipPath><g clip-path="url(#clipRi1)">
<rect x="539.5" y="940.8" width="36.3" height="37.5" fill="#04040c"/>
<path d="M547.1 967.3L543.3 964.7L541.8 965.8L541 965.7" fill="none" stroke="#6a5ae8" stroke-width="1.4" stroke-linecap="round" stroke-linejoin="round"/>
<path d="M554.7 971.8L555.7 973.1L558.3 975.7L557.5 976.3" fill="none" stroke="#e02a58" stroke-width="1.4" stroke-linecap="round" stroke-linejoin="round"/>
<path d="M548 961.5L551.5 961.1L555.2 962.8L552.4 962.9" fill="none" stroke="#6a5ae8" stroke-width="1.4" stroke-linecap="round" stroke-linejoin="round"/>
<path d="M546.1 973.4L547.3 975.8L545.7 973L543.1 974.3" fill="none" stroke="#6a5ae8" stroke-width="1.4" stroke-linecap="round" stroke-linejoin="round"/>
<path d="M550.2 950.2L549.1 948.2L546.4 950.3L550.1 952.5" fill="none" stroke="#d0308a" stroke-width="1.4" stroke-linecap="round" stroke-linejoin="round"/>
<path d="M544.8 949.9L548.7 949.1L545.5 949.3L547.9 951.8" fill="none" stroke="#e02a58" stroke-width="1.4" stroke-linecap="round" stroke-linejoin="round"/>
<path d="M560 953.8L556.6 952.9L553.5 950.6L553.3 951.6" fill="none" stroke="#8a4ae0" stroke-width="1.4" stroke-linecap="round" stroke-linejoin="round"/>
<path d="M548.1 952.2L552 951.8L549 951.1L550.5 952.3" fill="none" stroke="#f03048" stroke-width="1.4" stroke-linecap="round" stroke-linejoin="round"/>
<path d="M573.1 973.3L572.1 972.3L571.9 970.6L575.3 972.8" fill="none" stroke="#8a4ae0" stroke-width="1.4" stroke-linecap="round" stroke-linejoin="round"/>
<path d="M574.1 961.3L574.5 962.7L574.9 962L576.8 962.6" fill="none" stroke="#f03048" stroke-width="1.4" stroke-linecap="round" stroke-linejoin="round"/>
<path d="M574.1 957.7L573 957.6L570 957.9L567.5 957.3" fill="none" stroke="#e02a58" stroke-width="1.4" stroke-linecap="round" stroke-linejoin="round"/>
<path d="M545.1 950.3L541.8 948.4L545.1 946L548.1 945.8" fill="none" stroke="#f03048" stroke-width="1.4" stroke-linecap="round" stroke-linejoin="round"/>
<path d="M557.5 946.3L556.9 946.1L558.7 944.2L562.5 945.5" fill="none" stroke="#e02a58" stroke-width="1.4" stroke-linecap="round" stroke-linejoin="round"/>
<path d="M543.6 958.7L544.4 959.3L543.7 961.1L545.1 961.2" fill="none" stroke="#6a5ae8" stroke-width="1.4" stroke-linecap="round" stroke-linejoin="round"/>
<path d="M564.7 945.7L566.3 946.3L565.7 947.3L564.9 948.4" fill="none" stroke="#6a5ae8" stroke-width="1.4" stroke-linecap="round" stroke-linejoin="round"/>
<path d="M569.3 944.2L568.1 943.3L566.9 942.8L568 940.3" fill="none" stroke="#8a4ae0" stroke-width="1.4" stroke-linecap="round" stroke-linejoin="round"/>
<path d="M547.2 962L546.4 963.9L545.4 961.2L546.9 963.3" fill="none" stroke="#e02a58" stroke-width="1.4" stroke-linecap="round" stroke-linejoin="round"/>
<path d="M557.2 964.6L555.5 964.3L556.8 963.8L556.9 966.7" fill="none" stroke="#e02a58" stroke-width="1.4" stroke-linecap="round" stroke-linejoin="round"/>
<path d="M568.4 959.3L564.9 957.8L565.8 960.3L564.6 961.3" fill="none" stroke="#e02a58" stroke-width="1.4" stroke-linecap="round" stroke-linejoin="round"/>
<path d="M551.6 952.8L553.2 954.1L557 955.9L558.4 955.2" fill="none" stroke="#f03048" stroke-width="1.4" stroke-linecap="round" stroke-linejoin="round"/>
<path d="M554.7 969.5L554.8 969.9L553.5 968.7L552.4 970.7" fill="none" stroke="#e02a58" stroke-width="1.4" stroke-linecap="round" stroke-linejoin="round"/>
<path d="M557.6 955.4L558.2 958.4L562.2 955.7L566 957.9" fill="none" stroke="#f03048" stroke-width="1.4" stroke-linecap="round" stroke-linejoin="round"/>
<path d="M543.1 953L542.8 953.6L541.6 955.3L537.6 954.2" fill="none" stroke="#e02a58" stroke-width="1.4" stroke-linecap="round" stroke-linejoin="round"/>
<path d="M566.1 966.4L566.8 964.7L563.3 965.7L560.3 963.8" fill="none" stroke="#6a5ae8" stroke-width="1.4" stroke-linecap="round" stroke-linejoin="round"/>
<path d="M551.1 964L548.5 966.7L550 968.4L550 968.5" fill="none" stroke="#d0308a" stroke-width="1.4" stroke-linecap="round" stroke-linejoin="round"/>
<path d="M564.3 946.8L562.6 945.1L565.4 945.1L563.4 947.3" fill="none" stroke="#d0308a" stroke-width="1.4" stroke-linecap="round" stroke-linejoin="round"/>
</g>
<clipPath id="clipRi2"><rect x="638.7" y="940.8" width="36.5" height="37.5"/></clipPath><g clip-path="url(#clipRi2)">
<rect x="638.7" y="940.8" width="36.5" height="37.5" fill="#04040c"/>
<path transform="scale(.5)" d="M1347 1884h0m-1-1h0m-4 2h0m-1-1h0m-1 2h0m-1-2h0m-1 0h0m-4-2h0m-3 3h0m0 1h0m-2 1h0m0-2h0m-2-2h0m0 4h0m-2-2h0m-5-1h0m-2 2h0m-2-1h0m0-3h0m-2 3h0m0-2h0m-4 2h0m-3-2h0m-1 2h0m-2-1h0m-7-1h0m0 3h0m-3-1h0m-1 0h0m-2 2h0m0-3h0m-1 2h0m-2-1h0m-1 1h0m-6-2h0m-1 1h0m-2 2h0m0 8h0m2-4h0m1 3h0m0-4h0m0 5h0m0-2h0m2 1h0m5 0h0m0-1h0m4-1h0m1-2h0m4 2h0m3-1h0m4-2h0m3-1h0m2 3h0m0-1h0m1 1h0m2 1h0m3-2h0m0-2h0m0 6h0m4-6h0m1 6h0m7-4h0m1 2h0m0 1h0m0-2h0m3 2h0m0-3h0m0-2h0m9 6h0m1-2h0m1-4h0m3 5h0m2-1h0m0 2h0m1-5h0m0 4h0m1 2h0m0-3h0m1 10h0m-2 0h0m-3-2h0m-3 0h0m-2-2h0m-5 4h0m-3-6h0m-1 5h0m0-2h0m-1 2h0m-2 0h0m-4 1h0m-3-1h0m-1-4h0m0 6h0m-4-5h0m0 3h0m0-2h0m-1 4h0m-3-5h0m-2 3h0m0 1h0m-1-1h0m0 2h0m0-2h0m0-5h0m-9 6h0m-1-6h0m-1 2h0m-4 4h0m0 0h0m-2-2h0m-2-1h0m0 1h0m-2-3h0m-6 2h0m-3 0h0m0 12h0m0-4h0m2 4h0m3-2h0m0 1h0m6-2h0m2-2h0m3 3h0m1-2h0m2 1h0m4-4h0m0 4h0m2 1h0m0 0h0m2 0h0m0 2h0m1-2h0m0 1h0m2 0h0m7 0h0m2 0h0m1-2h0m3 0h0m2-3h0m2 3h0m0 2h0m0-2h0m0 1h0m1 0h0m3-2h0m3 1h0m0-3h0m3 2h0m0 3h0m2-2h0m1-2h0m0-1h0m0 3h0m2 0h0m1-1h0m2-3h0m1 3h0m1 3h0m1-4h0m2 13h0m-4-3h0m0 3h0m-2-1h0m-1-3h0m0 1h0m-3-4h0m0 7h0m-3-3h0m0 0h0m-1-2h0m-1-1h0m0 2h0m-1 3h0m-1-4h0m0 4h0m-1-2h0m0 3h0m-1-7h0m-1 3h0m-1 0h0m0 0h0m-1 2h0m-4-1h0m-2-2h0m0 2h0m-2 2h0m-1-5h0m-9 3h0m0-3h0m-2 5h0m-1-6h0m-1 3h0m-2 0h0m-1-2h0m0 2h0m-2-1h0m-1-1h0m0 5h0m-3-3h0m-2 4h0m0-5h0m-1 3h0m0-2h0m-1-3h0m-1 6h0m-8-1h0m0-4h0m0 3h0m-5 4h0m4 6h0m0-3h0m1-1h0m4 2h0m3-1h0m2 3h0m0-6h0m1 7h0m1-2h0m3-4h0m1 5h0m3-2h0m1-3h0m4 4h0m3-2h0m0 2h0m1-3h0m0 5h0m1-4h0m1 2h0m0-4h0m4 3h0m0-2h0m1 4h0m2 1h0m2-3h0m3 2h0m7-4h0m0 0h0m2 4h0m3-4h0m3 0h0m2 5h0m3 0h0m1-3h0m0-2h0m1 2h0m2 2h0m0-1h0m1-1h0m0 3h0m0-3h0m1 3h0m-1 4h0m0-2h0m-2 4h0m-2-1h0m-1-1h0m-5 3h0m-1 0h0m-1-5h0m-4 2h0m-2 1h0m-3-2h0m-3-2h0m0 6h0m-3-6h0m0 2h0m-1 1h0m-1 1h0m-4 0h0m-3-3h0m-1 5h0m-2-1h0m0-2h0m-5-1h0m-1 3h0m0 1h0m0-1h0m-3-3h0m-1 2h0m-1-1h0m-1 2h0m-1 0h0m-2 2h0m-2-4h0m-2 0h0m-3 1h0m-1 3h0m-1-5h0m0 5h0m-2-1h0m0 1h0m-1-3h0m0-2h0m0 3h0m-1-1h0m-3 6h0m1-2h0m1 3h0m3 4h0m0-5h0m1-2h0m0 7h0m4-2h0m0-3h0m1 3h0m0-2h0m2 3h0m0-2h0m5-2h0m0 5h0m3-3h0m6 1h0m0-1h0m1-4h0m1 5h0m2-5h0m4 4h0m2-3h0m3 3h0m1-2h0m4-1h0m2-1h0m2 4h0m1-4h0m0 0h0m1 6h0m1-2h0m2-3h0m1 2h0m1 3h0m2-2h0m1 1h0m2-4h0m1 2h0m1 0h0m0 2h0m3 2h0m1 0h0m3-1h0m0 0h0m0 5h0m0 2h0m-1 0h0m0 0h0m-1-2h0m0 0h0m-1 0h0m0 3h0m-5-4h0m-1 5h0m-1-7h0m0 5h0m0-5h0m-1 0h0m0 1h0m-1 4h0m-3 1h0m-5-1h0m-1 1h0m0 1h0m-2 0h0m0-5h0m0 1h0m-3-3h0m0 3h0m-2-2h0m-1 4h0m0-4h0m-3-1h0m0 6h0m-1-6h0m-3 7h0m-4-1h0m-1-6h0m-4 1h0m-4 4h0m0-1h0m-2-2h0m0-2h0m-1 0h0m0 1h0m-2 4h0m0-4h0m-2 2h0m-1 1h0m-1-2h0m0-1h0m0 3h0m-1 2h0m0-4h0m0-1h0m-3 0h0m-4 0h0m-1 1h0m-1 0h0m-2 6h0m0 3h0m0-3h0m6 2h0m1-1h0m1 2h0m4-3h0m0 0h0m3 3h0m7-3h0m6 3h0m3-3h0m1 0h0m4 2h0m22 1h0m1-1h0m1 1h0m0 0h0m4 1h0m0-3h0m1 0h0m1 1h0m1 1h0m1-2h0" stroke="#4a4ae8" stroke-width="2.2" stroke-linecap="round" stroke-opacity="0.75"/>
<path d="M673.6 972.4l-1 0.3" fill="none" stroke="#e02040" stroke-width="1.3" stroke-linecap="round"/>
<path d="M660.8 968.7l2.7 0.4" fill="none" stroke="#e02040" stroke-width="1.3" stroke-linecap="round"/>
<path d="M670.5 972l2.3 -0.5" fill="none" stroke="#e02040" stroke-width="1.3" stroke-linecap="round"/>
<path d="M667 970.7l0.7 0.1" fill="none" stroke="#e02040" stroke-width="1.3" stroke-linecap="round"/>
<path d="M660.3 966.5l0.4 -1.2" fill="none" stroke="#e02040" stroke-width="1.3" stroke-linecap="round"/>
<path d="M662.6 970.6l-0.8 -0.2" fill="none" stroke="#e02040" stroke-width="1.3" stroke-linecap="round"/>
<path d="M661.2 970.5l-3.9 -0.1" fill="none" stroke="#e02040" stroke-width="1.3" stroke-linecap="round"/>
</g>
<ellipse cx="504.8" cy="939.2" rx="1.5" ry="0.8" fill="#d02040"/>
<ellipse cx="507.1" cy="945" rx="1" ry="0.5" fill="#d02040"/>
<ellipse cx="504.6" cy="940.6" rx="0.9" ry="0.7" fill="#b01c3c"/>
<ellipse cx="507.9" cy="932" rx="0.8" ry="0.6" fill="#e03060"/>
<ellipse cx="510.1" cy="940.4" rx="1" ry="0.7" fill="#b01c3c"/>
<ellipse cx="505.7" cy="940.6" rx="0.6" ry="0.5" fill="#d02040"/>
<ellipse cx="506.1" cy="942.2" rx="1" ry="0.6" fill="#8040c0"/>
<ellipse cx="503.1" cy="938.8" rx="1.1" ry="0.7" fill="#e03060"/>
<ellipse cx="518.3" cy="937.7" rx="0.8" ry="0.6" fill="#8040c0"/>
<ellipse cx="500.4" cy="940.6" rx="0.7" ry="0.6" fill="#8040c0"/>
<ellipse cx="499.1" cy="936.4" rx="1.4" ry="0.5" fill="#d02040"/>
<ellipse cx="504.2" cy="939.8" rx="0.9" ry="0.7" fill="#d02040"/>
<ellipse cx="506.9" cy="938.8" rx="0.9" ry="0.7" fill="#b01c3c"/>
<ellipse cx="503.6" cy="938" rx="1.1" ry="0.6" fill="#e03060"/>
<ellipse cx="510.1" cy="941" rx="1.4" ry="0.5" fill="#e03060"/>
<ellipse cx="503.1" cy="938.9" rx="1" ry="0.8" fill="#d02040"/>
<ellipse cx="499.4" cy="941.8" rx="1.5" ry="0.6" fill="#b01c3c"/>
<ellipse cx="507.4" cy="936.4" rx="1.3" ry="0.7" fill="#e03060"/>
<ellipse cx="499.2" cy="945.4" rx="1.2" ry="0.7" fill="#8040c0"/>
<ellipse cx="502.9" cy="947.2" rx="1.1" ry="0.4" fill="#e03060"/>
<ellipse cx="504.3" cy="941.9" rx="1.2" ry="0.7" fill="#b01c3c"/>
<ellipse cx="503.5" cy="938.5" rx="0.9" ry="0.5" fill="#d02040"/>
<ellipse cx="616.4" cy="950.6" rx="1.5" ry="0.8" fill="#b01c3c"/>
<ellipse cx="612.7" cy="957.7" rx="1.3" ry="0.5" fill="#8040c0"/>
<ellipse cx="623.3" cy="962" rx="1" ry="0.5" fill="#b01c3c"/>
<ellipse cx="619.4" cy="955.3" rx="1.2" ry="0.8" fill="#8040c0"/>
<ellipse cx="609.4" cy="952.5" rx="1.2" ry="0.6" fill="#8040c0"/>
<ellipse cx="615" cy="954.8" rx="1.3" ry="0.6" fill="#b01c3c"/>
<rect x="496.6" y="931.3" width="17.2" height="18.1" fill="none" stroke="#ddd" stroke-width="1"/>
<rect x="539.5" y="940.8" width="36.3" height="37.5" fill="none" stroke="#ddd" stroke-width="1"/>
<rect x="605.2" y="946.4" width="17.2" height="18" fill="none" stroke="#ddd" stroke-width="1"/>
<rect x="638.7" y="940.8" width="36.5" height="37.5" fill="none" stroke="#ddd" stroke-width="1"/>
<line x1="487" y1="975.1" x2="495.5" y2="975.1" stroke="#fff" stroke-width="1.8"/>
<rect x="750.5" y="905.4" width="13.9" height="47.2" fill="#fff" stroke="#000" stroke-width="1"/>
<line x1="757.4" y1="905.4" x2="757.4" y2="875.2" stroke="#000" stroke-width="1"/>
<line x1="754.8" y1="875.2" x2="760" y2="875.2" stroke="#000" stroke-width="1"/>
<rect x="771.3" y="939.4" width="13.7" height="13.2" fill="#000"/>
<line x1="778.1" y1="939.4" x2="778.1" y2="931.4" stroke="#000" stroke-width="1"/>
<line x1="775.5" y1="931.4" x2="780.7" y2="931.4" stroke="#000" stroke-width="1"/>
<text x="778" y="929.8" font-size="10.5" text-anchor="middle" stroke="#000" stroke-width="0.22" font-weight="bold">**</text>
<rect x="743.9" y="858.2" width="48" height="94.4" fill="none" stroke="#000" stroke-width="1"/>
<line x1="741.4" y1="952.6" x2="743.9" y2="952.6" stroke="#000" stroke-width="0.8"/>
<text x="741.7" y="957.2" font-size="13" text-anchor="end" stroke="#000" stroke-width="0.22">0</text>
<line x1="741.4" y1="929" x2="743.9" y2="929" stroke="#000" stroke-width="0.8"/>
<text x="741.7" y="933.6" font-size="13" text-anchor="end" stroke="#000" stroke-width="0.22">50</text>
<line x1="741.4" y1="905.4" x2="743.9" y2="905.4" stroke="#000" stroke-width="0.8"/>
<text x="741.7" y="910" font-size="13" text-anchor="end" stroke="#000" stroke-width="0.22">100</text>
<line x1="741.4" y1="881.8" x2="743.9" y2="881.8" stroke="#000" stroke-width="0.8"/>
<text x="741.7" y="886.4" font-size="13" text-anchor="end" stroke="#000" stroke-width="0.22">150</text>
<line x1="741.4" y1="858.2" x2="743.9" y2="858.2" stroke="#000" stroke-width="0.8"/>
<text x="741.7" y="862.8" font-size="13" text-anchor="end" stroke="#000" stroke-width="0.22">200</text>
<text x="699" y="905.2" font-size="13" text-anchor="middle" stroke="#000" stroke-width="0.22" transform="rotate(-90 699 905.2)">Relative CD31</text>
<text x="714.3" y="906.6" font-size="13" text-anchor="middle" stroke="#000" stroke-width="0.22" transform="rotate(-90 714.3 906.6)">positive area (%)</text>
<text x="762.5" y="965" font-size="12.5" text-anchor="end" stroke="#000" stroke-width="0.22" transform="rotate(-45 762.5 965)">Sca-1<tspan font-size="7.5" dy="-5">−</tspan></text>
<text x="783.8" y="965" font-size="12.5" text-anchor="end" stroke="#000" stroke-width="0.22" transform="rotate(-45 783.8 965)">Sca-1<tspan font-size="7.5" dy="-5">+</tspan></text>
</svg>
</body></html>
